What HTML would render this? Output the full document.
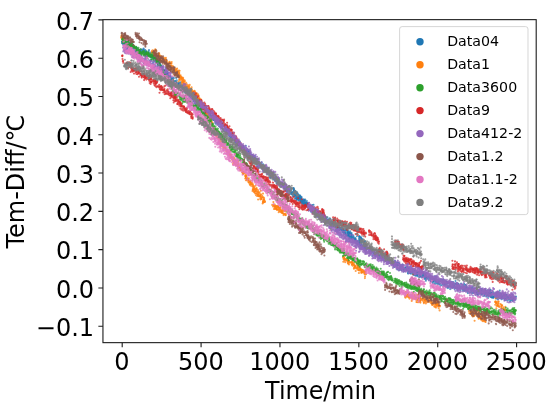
<!DOCTYPE html>
<html lang="en"><head><meta charset="utf-8"><title>Tem-Diff vs Time</title>
<style>html,body{margin:0;padding:0;background:#fff;}body{width:550px;height:409px;overflow:hidden;}svg{display:block;}text{font-family:"DejaVu Sans", "Liberation Sans", sans-serif;fill:#000;}.tk{font-size:24px;}.lb{font-size:24px;}.lg{font-size:14.2px;}.d{fill:none;stroke-linecap:round;stroke-width:2.1;stroke-opacity:.75;}</style></head><body>
<svg width="550" height="409" viewBox="0 0 550 409">
<rect width="550" height="409" fill="#fff"/>
<defs><filter id="soft" x="0" y="0" width="550" height="409" filterUnits="userSpaceOnUse"><feGaussianBlur stdDeviation="0.45"/></filter></defs>
<g id="data" filter="url(#soft)">
<path class="d" stroke="#1f77b4" d="M267.3 169.9h0M322.3 214.4h0M389.2 260.2h0M403.4 268.0h0M337.9 230.7h0M324.3 217.4h0M228.0 133.0h0M231.7 136.9h0M343.1 224.1h0M357.1 241.5h0M510.5 300.6h0M172.6 78.3h0M134.8 50.0h0M235.7 139.0h0M500.9 296.1h0M424.4 274.8h0M176.8 80.3h0M155.3 57.0h0M286.9 190.6h0M306.3 204.1h0M311.5 208.2h0M340.7 227.7h0M124.3 42.2h0M321.6 214.2h0M447.9 288.1h0M377.5 255.2h0M394.0 265.4h0M348.1 232.6h0M288.7 188.6h0M155.1 57.4h0M220.3 126.6h0M159.6 62.6h0M249.2 152.0h0M248.9 156.7h0M241.5 145.9h0M413.0 271.2h0M332.8 223.0h0M302.3 202.1h0M457.5 284.7h0M386.9 259.0h0M132.2 43.7h0M259.7 164.3h0M372.4 255.9h0M466.4 287.9h0M230.2 133.8h0M456.6 285.3h0M510.9 300.1h0M467.9 293.1h0M336.1 225.7h0M461.7 286.6h0M320.3 216.6h0M144.8 53.0h0M358.7 242.7h0M439.4 284.6h0M192.9 98.1h0M415.3 275.5h0M425.2 279.0h0M153.2 62.3h0M456.5 287.8h0M210.1 111.8h0M464.6 286.9h0M302.7 203.1h0M127.5 40.9h0M165.1 70.3h0M351.0 236.1h0M215.9 122.2h0M334.0 225.0h0M137.8 50.5h0M452.9 287.8h0M316.5 211.7h0M364.7 246.4h0M437.8 280.4h0M124.0 43.0h0M449.1 286.2h0M457.3 290.1h0M488.9 295.6h0M317.0 209.5h0M315.5 210.1h0M349.7 236.4h0M436.3 277.8h0M514.2 298.4h0M457.7 288.5h0M477.1 289.5h0M373.5 253.0h0M273.5 173.3h0M491.5 292.7h0M244.7 152.1h0M140.8 51.4h0M286.0 190.3h0M153.3 58.1h0M130.1 47.0h0M433.9 279.5h0M461.7 287.8h0M378.8 251.7h0M304.7 203.3h0M313.5 204.7h0M351.0 235.2h0M473.9 292.7h0M416.3 273.6h0M387.2 258.2h0M144.5 52.0h0M244.7 148.7h0M509.9 295.7h0M445.5 280.9h0M509.5 298.9h0M349.8 232.7h0M269.2 172.8h0M468.4 288.5h0M397.4 268.4h0M299.5 196.5h0M139.6 51.4h0M344.6 233.4h0M217.9 122.6h0M184.5 87.8h0M143.4 50.0h0M180.6 86.4h0M507.1 300.2h0M359.4 239.3h0M213.9 119.2h0M294.1 190.2h0M337.6 225.9h0M219.8 121.9h0M167.0 71.4h0M161.0 66.6h0M504.2 295.1h0M216.1 121.3h0M503.6 298.2h0M315.3 213.1h0M196.5 101.8h0M203.1 106.0h0M484.3 290.8h0M373.7 252.5h0M409.0 270.2h0M299.7 196.2h0M222.6 125.4h0M443.3 281.5h0M371.1 252.0h0M294.2 196.4h0M409.7 270.6h0M196.1 101.0h0M364.2 248.2h0M454.5 286.2h0M416.0 272.6h0M405.3 267.7h0M195.8 102.9h0M187.1 92.5h0M256.4 166.2h0M205.2 110.1h0M506.1 298.5h0M222.4 123.1h0M407.9 272.6h0M325.5 218.3h0M213.5 118.2h0M229.5 136.5h0M499.4 297.2h0M401.3 268.1h0M148.4 55.2h0M362.1 247.4h0M361.0 237.7h0M355.5 240.1h0M225.3 129.5h0M175.8 80.9h0M451.3 285.2h0M226.6 130.2h0M365.8 250.2h0M273.1 178.7h0M404.7 269.2h0M392.6 260.7h0M484.0 292.7h0M372.4 249.8h0M361.4 242.1h0M485.3 291.6h0M394.8 266.8h0M508.4 296.9h0M246.4 151.6h0M323.4 217.9h0M269.6 173.4h0M222.9 129.6h0M425.6 277.8h0M426.3 277.0h0M343.6 230.3h0M123.7 43.4h0M276.3 179.9h0M271.2 177.2h0M444.0 284.7h0M284.9 190.6h0M276.2 179.8h0M314.1 209.6h0M430.5 278.0h0M143.2 52.0h0M239.2 144.0h0M238.3 145.5h0M391.7 263.5h0M263.2 169.3h0M488.0 294.4h0M480.1 291.2h0M140.2 52.3h0M172.3 79.5h0M361.0 241.0h0M346.9 228.8h0M126.6 44.7h0M129.2 46.4h0M306.9 201.1h0M260.4 166.0h0M166.7 73.7h0M464.0 287.2h0M304.8 203.4h0M227.7 129.3h0M171.6 78.4h0M286.5 190.1h0M506.5 298.6h0M236.9 142.2h0M425.1 274.1h0M249.9 154.6h0M484.0 296.0h0M459.4 286.9h0M345.2 226.1h0M447.3 283.0h0M157.5 64.0h0M487.3 293.5h0M181.6 89.1h0M344.8 231.5h0M262.1 165.5h0M350.6 234.6h0M291.3 193.0h0M242.1 148.2h0M351.0 235.5h0M195.7 100.8h0M202.0 109.7h0M301.0 198.4h0M126.2 45.1h0M348.6 234.9h0M500.5 295.8h0M293.5 188.2h0M343.4 229.5h0M493.5 296.7h0M156.2 58.7h0M351.3 233.9h0M374.9 255.0h0M351.7 234.7h0M219.0 122.9h0M477.9 293.2h0M378.4 250.2h0M302.4 201.2h0M455.6 283.9h0M369.2 251.6h0M463.6 288.0h0M320.2 217.5h0M186.8 90.8h0M137.9 49.8h0M188.3 92.4h0M498.0 296.1h0M218.1 122.2h0M349.8 234.9h0M456.8 287.1h0M325.6 217.3h0M434.4 278.8h0M253.9 159.4h0M143.2 52.9h0M246.9 150.3h0M196.0 100.6h0M467.8 288.2h0M238.6 141.4h0M453.4 286.0h0M136.7 48.7h0M269.0 172.1h0M261.6 167.2h0M324.3 218.0h0M304.4 202.6h0M249.8 157.8h0M275.9 176.8h0M490.9 294.3h0M361.5 246.2h0M386.1 254.8h0M193.3 96.1h0M503.9 295.5h0M247.7 154.0h0M339.1 228.3h0M302.3 200.0h0M456.4 286.7h0M476.5 292.6h0M424.3 275.9h0M363.9 244.5h0M278.8 181.7h0M339.7 229.9h0M375.2 256.6h0M306.0 204.4h0M442.8 280.2h0M372.5 250.7h0M435.7 279.8h0M481.7 291.4h0M175.7 85.1h0M511.2 297.6h0M444.2 280.8h0M285.8 190.1h0M205.1 109.0h0M206.7 112.9h0M269.2 172.3h0M349.5 238.9h0M293.4 193.1h0M412.1 270.4h0M381.6 254.2h0M469.1 288.2h0M248.4 156.7h0M443.6 284.4h0M298.4 198.1h0M199.7 103.2h0M214.6 120.6h0M247.3 150.6h0M399.0 263.5h0M307.8 206.3h0M473.2 290.5h0M484.9 293.1h0M124.2 42.2h0M458.1 285.6h0M489.7 291.6h0M286.2 188.6h0M144.6 54.3h0M426.9 277.4h0M275.2 180.2h0M445.2 284.4h0M217.0 120.1h0M208.6 118.1h0M451.4 287.0h0M264.5 167.1h0M343.0 231.6h0M266.7 172.2h0M284.8 185.6h0M484.1 290.6h0M207.6 111.4h0M302.7 202.2h0M206.4 109.9h0M474.5 288.5h0M326.9 220.4h0M418.6 272.3h0M344.3 233.5h0M360.5 245.5h0M474.6 291.4h0M273.7 173.4h0M190.5 93.3h0M151.0 56.0h0M348.7 236.2h0M486.5 296.6h0M400.0 268.7h0M214.2 118.6h0M151.5 54.3h0M479.0 290.4h0M361.6 238.6h0M130.9 43.6h0M210.8 117.5h0M395.0 260.8h0M367.6 248.6h0M340.5 228.1h0M247.3 149.2h0M460.5 290.2h0M293.7 189.6h0M242.7 146.5h0M500.5 294.2h0M254.5 157.4h0M262.6 169.6h0M364.6 246.2h0M339.1 227.4h0M360.2 238.2h0M388.3 261.8h0M416.6 272.3h0M366.6 244.9h0M124.5 43.5h0M178.6 84.7h0M468.6 288.3h0M243.8 147.9h0M161.6 66.3h0M304.1 200.8h0M330.1 222.3h0M488.4 293.1h0M167.1 75.8h0M362.6 239.3h0M339.0 228.6h0M270.6 175.1h0M403.4 268.9h0M167.7 76.6h0M437.3 283.1h0M509.3 299.5h0M224.9 130.6h0M185.3 90.6h0M452.4 283.6h0M497.6 297.8h0M455.4 287.8h0M183.0 86.7h0M299.3 196.0h0M193.4 98.1h0M170.3 77.1h0M409.5 272.5h0M143.5 48.7h0M308.5 210.3h0M301.5 200.2h0M208.7 113.7h0M377.6 253.8h0M490.6 290.3h0M180.7 82.4h0M272.6 176.2h0M504.9 300.0h0M487.3 292.6h0M291.8 194.2h0M359.2 238.6h0M335.7 230.1h0M190.0 96.0h0M506.0 294.9h0M149.0 54.4h0M346.9 236.3h0M480.5 288.8h0M316.6 215.6h0M335.9 224.1h0M389.1 262.7h0M150.2 52.6h0M295.6 193.2h0M294.1 192.7h0M313.0 211.5h0M357.1 241.4h0M451.1 287.0h0M182.9 89.6h0M347.5 228.3h0M129.6 44.8h0M168.8 73.7h0M270.3 173.4h0M360.9 241.1h0M338.4 228.7h0M295.6 194.4h0M482.5 290.6h0M171.9 79.2h0M369.4 247.9h0M489.7 291.4h0M443.1 282.3h0M451.6 281.8h0M320.5 214.0h0M247.7 151.3h0M482.3 291.3h0M513.6 297.4h0M146.3 51.6h0M176.3 83.7h0M425.7 275.4h0M136.2 48.9h0M432.9 281.4h0M136.9 49.0h0M445.0 283.6h0M201.7 107.3h0M253.1 159.6h0M229.2 135.8h0M305.1 202.5h0M449.6 283.6h0M311.6 211.0h0M357.0 244.2h0M307.1 204.1h0M452.1 286.1h0M497.3 295.7h0M422.1 277.2h0M306.3 204.1h0M226.5 128.1h0M259.7 163.3h0M361.0 248.1h0M155.0 61.0h0M296.8 192.3h0M333.6 224.0h0M366.0 245.2h0M358.9 240.7h0M419.6 273.8h0M302.1 200.8h0M346.7 229.5h0M410.2 271.4h0M359.2 237.3h0M496.5 292.9h0M148.0 54.7h0M321.7 213.5h0M501.5 297.3h0M355.7 241.1h0M361.3 246.3h0M415.1 270.7h0M409.7 269.2h0M221.1 127.6h0M265.3 168.7h0M171.9 80.5h0M137.7 49.8h0M383.3 255.6h0M130.3 45.1h0M221.2 124.3h0M348.7 236.3h0M435.4 281.0h0M198.6 105.7h0M168.5 79.5h0M436.6 279.6h0M197.6 99.9h0M135.6 51.5h0M312.9 209.5h0M210.2 115.7h0M296.3 194.3h0M356.3 243.3h0M249.3 154.2h0M479.6 292.9h0M122.3 42.0h0M485.5 292.0h0M247.4 153.3h0M379.2 256.0h0M388.8 263.3h0M412.3 272.1h0M350.2 231.4h0M401.7 266.9h0M475.1 290.8h0M307.7 203.0h0M299.8 198.6h0M472.1 293.1h0M446.2 281.6h0M267.7 168.1h0M157.8 64.3h0M138.3 50.1h0M213.1 119.4h0M394.8 264.4h0M332.1 222.1h0M436.2 276.3h0M416.9 274.1h0M420.4 276.8h0M357.9 242.3h0M425.1 276.8h0M300.8 202.2h0M481.7 290.5h0M499.1 297.2h0M188.0 94.3h0M387.1 260.7h0M164.3 73.2h0M443.3 282.5h0M179.2 84.1h0M359.5 236.5h0M178.5 84.8h0M427.0 277.1h0M252.2 155.4h0M447.1 282.9h0M355.4 240.7h0M219.2 120.5h0M191.0 94.8h0M418.3 272.2h0M176.8 83.4h0M342.7 230.0h0M336.3 225.1h0M253.9 157.5h0M204.1 111.0h0M272.4 175.0h0M245.8 145.8h0M496.1 294.7h0M439.1 281.1h0M364.1 249.0h0M357.5 244.3h0M301.4 197.1h0M360.6 238.9h0M363.5 248.4h0M304.2 201.7h0M511.6 297.8h0M186.6 91.7h0M298.6 197.3h0M303.8 204.0h0M202.6 109.0h0M507.7 300.2h0M350.7 235.5h0M165.2 73.5h0M275.3 179.1h0M214.2 117.5h0M138.1 52.0h0M310.9 211.5h0M315.8 213.4h0M383.6 255.9h0M139.1 52.5h0M248.7 153.0h0M199.3 104.0h0M422.8 273.6h0M355.6 238.7h0M300.9 200.3h0M333.3 225.4h0M485.8 292.7h0M432.9 278.5h0M437.5 284.1h0M384.2 256.8h0M227.2 128.9h0M247.4 153.3h0M406.5 270.0h0M296.1 198.4h0M415.8 272.7h0M260.4 166.1h0M139.6 51.6h0M350.5 233.7h0M325.9 218.5h0M393.0 262.7h0M293.3 195.2h0M373.8 253.8h0M134.8 50.5h0M139.4 54.6h0M472.5 286.8h0M143.5 48.6h0M504.3 296.4h0M129.8 42.4h0M146.2 52.6h0M438.6 280.8h0M186.3 90.9h0M200.3 105.6h0M201.4 103.8h0M379.6 255.6h0M263.4 169.5h0M476.5 293.7h0M132.8 45.1h0M247.2 149.7h0M310.4 208.2h0M246.4 153.1h0M266.3 168.4h0M415.4 271.1h0M389.0 259.7h0M347.2 230.4h0M444.7 284.2h0M417.6 275.3h0M170.4 78.8h0M364.9 243.7h0M452.5 283.5h0M165.6 75.0h0M182.8 86.4h0M141.4 50.4h0M372.3 255.4h0M187.5 91.8h0M342.4 227.7h0M138.9 51.7h0M200.9 109.7h0M263.3 170.6h0M338.6 228.7h0M286.1 189.1h0M470.7 289.4h0M131.0 45.6h0M212.7 115.8h0M465.6 285.2h0M135.7 51.0h0M466.5 286.8h0M478.0 292.6h0M406.8 267.0h0M267.6 168.7h0M455.9 286.4h0M287.1 189.3h0M164.8 71.4h0M307.2 206.1h0M456.8 287.3h0M315.3 212.4h0M414.0 271.2h0M167.3 74.5h0M166.0 71.1h0M500.6 297.7h0M501.6 299.2h0M225.9 128.5h0M354.2 241.4h0M237.7 145.2h0M317.2 210.2h0M208.1 113.3h0M359.4 241.9h0M359.8 239.1h0M447.9 286.5h0M337.7 226.5h0M390.2 260.1h0M490.6 295.6h0M216.4 117.2h0M223.2 126.1h0M304.2 204.5h0M491.8 297.4h0M489.2 294.0h0M452.0 284.0h0M295.6 195.5h0M280.1 186.8h0M157.0 62.0h0M221.7 127.1h0M453.1 282.1h0M387.6 259.5h0M182.9 87.5h0M166.5 73.5h0M299.8 198.2h0M408.3 273.2h0M159.1 61.9h0M452.5 287.5h0M397.6 265.5h0M400.2 267.0h0M464.8 290.0h0M127.6 48.1h0M243.7 150.3h0M183.3 89.4h0M371.0 250.3h0M160.0 65.7h0M459.5 287.5h0M128.7 45.0h0M270.8 174.6h0M126.2 46.5h0M323.8 217.5h0M406.7 267.5h0M369.7 248.9h0M434.5 284.3h0M468.5 288.3h0M331.7 223.6h0M210.4 117.2h0M409.0 270.4h0M272.8 176.4h0M304.3 200.2h0M378.7 257.4h0M349.5 237.8h0M127.0 43.2h0M234.1 140.0h0M274.0 179.8h0M306.1 203.9h0M140.5 50.9h0M513.5 299.6h0M230.2 136.3h0M157.0 60.1h0M281.7 184.4h0M156.4 62.7h0M168.6 74.4h0M285.8 188.8h0M214.0 120.2h0M251.6 158.1h0M430.6 279.0h0M378.1 254.7h0M206.3 109.1h0M333.3 223.6h0M176.1 81.7h0M516.0 296.6h0M464.2 289.8h0M414.7 271.8h0M319.8 214.4h0M322.6 214.6h0M203.9 108.9h0M199.0 103.9h0M443.6 279.9h0M299.3 196.0h0M186.6 91.9h0M400.5 266.6h0M359.4 238.4h0M298.3 194.8h0M360.0 244.1h0M360.9 240.2h0M437.8 284.1h0M479.8 290.1h0M250.3 156.7h0M277.3 179.6h0M504.9 298.7h0M490.6 293.2h0M485.0 289.7h0M297.0 198.2h0M324.4 218.2h0M330.4 221.5h0M156.4 60.5h0M306.0 204.8h0M306.7 202.3h0M361.1 237.4h0M364.2 245.7h0M425.8 277.8h0M450.7 285.9h0M146.3 53.1h0M129.9 45.2h0M503.9 294.8h0M501.0 296.5h0M200.4 105.6h0M265.5 169.6h0M412.3 269.2h0M134.2 46.9h0M471.5 291.9h0M373.5 250.0h0M161.2 69.4h0M183.5 89.1h0M134.7 48.4h0M436.0 281.3h0M513.0 298.2h0M389.4 262.9h0M297.4 199.0h0M350.0 234.8h0M229.8 134.2h0M210.1 114.5h0M281.7 182.7h0M142.3 53.0h0M179.3 85.9h0M180.8 83.8h0M383.0 257.2h0M137.5 50.5h0M289.8 191.9h0M390.2 261.0h0M394.9 266.0h0M501.1 293.5h0M481.6 293.2h0M506.5 298.4h0M299.2 197.5h0M233.1 137.1h0M382.0 256.3h0M239.0 143.3h0"/>
<path class="d" stroke="#1f77b4" d="M303.5 199.4h0M322.8 214.8h0M360.5 240.7h0M466.7 287.6h0M358.8 242.4h0M270.7 177.6h0M355.4 240.7h0M379.8 256.2h0M327.2 217.5h0M433.2 278.7h0M478.5 286.7h0M349.1 234.7h0M253.9 157.3h0M264.4 167.3h0M362.3 241.1h0M134.1 47.6h0M303.7 203.7h0M183.3 86.8h0M277.2 178.6h0M267.5 169.2h0M299.2 197.1h0M456.8 283.2h0M489.3 292.7h0M413.2 270.7h0M193.4 98.1h0M312.5 205.0h0M150.9 56.2h0M368.1 248.1h0M191.3 95.6h0M374.1 252.7h0M127.6 46.6h0M466.2 290.4h0M321.2 217.6h0M387.8 259.9h0M277.9 180.1h0M265.2 168.2h0M260.5 165.1h0M321.7 215.7h0M276.0 177.9h0M346.0 234.4h0M350.9 233.1h0M160.5 65.1h0M345.8 228.2h0M188.5 93.7h0M350.9 235.8h0M200.3 105.7h0M359.6 241.9h0M165.6 73.0h0M460.1 286.1h0M160.8 66.1h0M351.5 234.9h0M392.5 263.0h0M428.7 279.8h0M351.8 237.1h0M488.5 295.8h0M212.8 115.9h0M203.5 108.4h0M481.6 294.4h0M261.3 164.3h0M410.6 270.2h0M353.3 235.6h0M314.5 212.9h0M327.4 217.4h0M508.8 298.7h0M293.9 190.7h0M172.6 81.4h0M161.8 67.1h0M351.2 235.5h0M209.9 113.6h0M457.5 284.3h0M475.3 292.1h0M186.2 91.2h0M170.2 79.8h0M443.4 279.5h0M185.9 91.2h0M388.2 258.5h0M320.6 217.1h0M150.8 57.1h0M138.3 51.3h0M343.2 230.3h0M470.3 290.0h0M328.4 222.2h0M455.5 281.0h0M435.7 283.8h0M297.9 199.1h0M147.5 56.4h0M489.1 290.3h0M150.5 57.2h0M394.7 262.2h0M327.5 220.4h0M231.6 136.1h0M386.9 257.3h0M456.9 284.4h0M252.9 155.2h0M337.2 220.5h0M347.4 234.8h0M298.6 200.7h0M383.4 259.5h0M239.8 144.6h0M123.8 42.4h0M285.6 188.5h0M189.0 91.2h0M205.9 112.9h0M424.4 277.3h0M453.8 285.4h0M362.2 239.7h0M511.1 298.2h0M507.1 296.9h0M429.3 276.6h0M302.3 199.9h0M453.7 285.6h0M158.5 61.4h0M461.1 283.6h0M181.9 91.0h0M359.6 241.8h0M230.0 134.8h0M125.3 41.5h0M223.9 131.3h0M253.6 161.3h0M310.4 210.1h0M451.8 285.4h0M225.9 129.2h0M170.5 77.9h0M364.9 243.9h0M191.5 98.1h0M480.7 292.2h0M154.0 60.0h0M266.9 172.4h0M354.6 239.6h0M471.3 290.8h0M146.6 54.0h0M499.0 294.9h0M378.9 256.3h0M400.0 267.5h0M316.7 211.0h0M370.0 251.0h0M427.4 277.2h0M411.7 268.4h0M358.0 244.5h0M475.3 291.6h0M200.5 104.9h0M221.7 127.0h0M293.7 188.8h0M446.8 281.7h0M481.9 289.4h0M360.7 237.9h0M428.9 278.0h0M284.3 187.0h0M377.1 254.9h0M274.5 178.6h0M261.6 162.4h0M298.0 199.2h0M502.0 296.0h0M298.9 197.7h0M456.5 287.5h0M490.1 294.8h0M174.4 83.3h0M387.9 262.1h0M487.2 295.5h0M378.8 256.4h0M360.3 240.1h0M436.6 282.6h0M264.3 166.2h0M364.1 242.5h0M396.6 263.7h0M408.2 270.4h0M249.3 154.0h0M411.0 273.7h0M371.6 250.0h0M407.1 270.3h0M267.7 172.4h0M424.8 274.3h0M145.5 51.6h0M294.3 195.4h0M261.2 165.4h0M254.6 159.3h0M485.1 294.3h0M512.5 300.1h0M496.5 295.4h0M198.7 101.4h0M301.3 200.1h0M313.2 207.8h0M398.0 265.0h0M402.8 264.8h0M382.2 257.6h0M380.7 256.2h0M201.9 108.8h0M439.9 283.8h0M254.9 162.6h0M336.3 227.1h0M230.3 134.5h0M457.2 286.1h0M263.1 164.2h0M420.3 273.5h0M249.3 155.4h0M348.9 232.4h0M499.7 290.5h0M380.8 255.5h0M351.6 233.1h0M429.4 277.2h0M256.8 163.6h0M362.0 246.6h0M398.8 265.3h0M142.4 49.8h0M397.6 269.5h0M373.2 253.0h0M277.8 183.0h0M485.8 291.0h0M298.1 195.6h0M297.3 194.3h0M333.3 223.6h0M473.3 290.7h0M405.5 267.3h0M268.1 171.7h0M168.3 74.1h0M234.9 137.2h0M341.3 234.5h0M504.8 297.5h0M511.5 298.1h0M395.4 264.4h0M361.1 238.9h0M423.5 272.3h0M296.4 193.8h0M129.0 42.9h0M132.4 47.6h0M435.1 281.0h0M227.4 131.8h0M319.8 218.1h0M286.6 187.7h0M302.4 201.9h0M397.3 262.9h0M129.4 45.2h0M171.9 80.7h0M423.7 275.8h0M173.9 78.1h0M156.4 60.9h0M315.9 213.6h0M231.4 134.5h0M318.2 214.6h0M383.3 259.4h0M206.7 113.8h0M451.0 282.5h0M341.9 230.1h0M193.1 101.5h0M139.5 52.1h0M282.2 182.8h0M301.4 198.7h0M380.6 255.0h0M293.7 191.5h0M436.4 281.6h0M299.5 198.6h0M394.7 265.2h0M348.0 235.2h0M322.1 218.0h0M338.7 228.0h0M242.5 146.8h0M337.4 225.8h0M435.0 282.9h0M205.6 107.9h0M250.8 154.1h0M237.9 144.4h0M164.7 73.3h0M179.3 84.1h0M504.6 295.4h0M192.8 99.4h0M124.7 44.2h0M293.7 192.9h0M232.3 135.2h0M336.6 227.4h0M294.7 198.7h0M216.2 119.9h0M448.1 287.3h0M352.7 236.8h0M184.7 89.3h0M319.9 215.1h0M432.2 280.9h0M489.6 292.3h0M193.1 95.2h0M419.1 273.2h0M192.4 98.6h0M506.4 294.7h0M252.3 160.2h0M443.5 282.3h0M280.3 183.1h0M348.3 236.5h0M438.7 281.9h0M122.1 41.5h0M208.1 111.6h0M464.6 288.8h0M189.7 95.4h0M135.7 50.6h0M265.1 168.7h0M136.2 47.3h0M378.4 257.7h0M231.1 134.7h0M444.4 282.0h0M400.5 268.4h0M196.1 101.1h0M253.4 157.7h0M487.6 295.2h0M215.7 123.8h0M424.1 274.2h0M428.2 276.8h0M416.8 272.9h0M213.2 119.9h0M286.5 188.8h0M348.7 233.5h0M139.2 50.0h0M139.7 52.3h0M283.5 186.4h0M264.6 168.5h0M268.3 170.9h0M446.4 284.7h0M264.7 167.7h0M262.4 167.8h0M329.6 223.1h0M122.0 43.3h0M450.3 282.5h0M348.8 238.8h0M146.7 55.2h0M426.2 276.6h0M196.8 103.8h0M496.7 294.2h0M341.4 228.0h0M307.6 204.1h0M237.5 142.8h0M432.0 276.5h0M155.0 60.2h0M270.7 176.6h0M420.2 275.8h0M487.7 292.7h0M427.7 278.2h0M489.1 293.0h0M346.7 233.4h0M430.9 277.9h0M251.5 159.2h0M185.7 88.1h0M400.1 266.9h0M302.0 203.7h0M340.2 228.9h0M312.1 207.0h0M432.1 278.9h0M179.5 86.7h0M445.3 284.0h0M294.0 190.9h0M197.1 101.5h0M333.3 219.4h0M349.2 235.2h0M501.1 296.2h0M473.9 292.4h0M415.5 275.5h0M174.7 82.1h0M314.7 213.6h0M453.8 284.9h0M484.5 293.2h0M350.7 234.7h0M128.2 44.6h0M365.1 247.6h0M148.3 53.1h0M171.9 80.6h0M183.9 87.4h0M296.9 194.2h0M235.2 138.7h0M277.0 178.5h0M465.1 288.4h0M177.2 85.3h0M274.4 178.8h0M493.1 297.9h0M148.7 54.6h0M504.8 299.8h0M133.4 48.9h0M338.7 228.1h0M296.5 199.0h0M387.1 259.7h0M286.8 191.1h0M445.0 284.2h0M324.7 215.6h0M231.0 137.8h0M349.4 236.5h0M134.3 50.8h0M324.2 216.5h0M294.2 190.5h0M290.4 190.8h0M247.1 152.6h0M349.4 237.1h0M305.3 199.6h0M306.5 203.2h0M362.1 248.7h0M255.8 162.2h0M172.3 79.4h0M368.9 248.8h0M152.7 57.9h0M382.2 257.8h0M392.8 262.7h0M450.1 286.3h0M171.1 81.6h0M462.1 288.1h0M380.0 257.5h0M318.0 217.0h0M126.5 41.9h0M344.6 232.4h0M347.4 232.4h0M242.8 150.9h0M141.3 55.7h0M329.8 218.2h0M254.8 160.0h0M266.4 169.3h0M505.3 298.1h0M256.4 158.7h0M149.3 54.9h0M296.8 194.7h0M269.9 173.2h0M362.7 245.9h0M515.4 299.8h0M338.4 227.0h0M136.3 49.3h0M276.8 182.7h0M495.0 296.9h0M228.2 131.4h0M204.9 111.2h0M338.5 228.9h0M148.6 51.2h0M502.5 298.2h0M350.9 233.6h0M345.6 228.6h0M364.2 248.5h0M242.4 146.7h0M490.7 296.7h0M408.1 268.3h0M253.5 159.0h0M328.8 219.3h0M238.7 144.1h0M212.7 113.4h0M277.2 180.9h0M232.2 138.9h0M285.9 187.2h0M359.3 236.2h0M458.5 283.8h0M453.4 283.6h0M172.4 83.0h0M305.3 203.1h0M282.3 186.3h0M422.6 276.2h0M502.5 295.7h0M422.5 273.6h0M221.7 128.3h0M260.1 164.3h0M280.3 184.3h0M182.6 85.3h0M160.4 65.2h0M275.5 181.2h0M393.2 264.8h0M353.6 238.0h0M166.4 73.6h0M510.8 297.3h0M129.5 44.5h0M300.4 197.6h0M377.6 253.7h0M300.5 200.3h0M433.1 281.2h0M205.7 114.5h0M273.4 175.4h0M250.6 155.1h0M364.7 242.2h0M276.6 183.7h0M221.9 127.6h0M400.7 265.4h0M489.3 291.6h0M166.5 71.9h0M334.3 224.0h0M366.2 245.8h0M212.4 118.2h0M412.8 271.2h0M293.3 191.6h0M244.4 148.2h0M182.5 89.7h0M189.3 92.9h0M139.8 52.4h0M388.4 261.8h0M164.3 74.3h0M277.5 183.5h0M253.2 156.5h0M425.9 280.7h0M355.0 242.1h0M412.1 273.1h0M124.7 42.0h0M384.1 258.0h0M168.0 76.5h0M383.2 260.2h0M309.9 205.1h0M160.7 65.7h0M403.7 271.6h0M479.1 290.5h0M366.2 248.3h0M300.8 201.2h0M290.6 191.4h0M491.7 294.8h0M440.3 281.4h0M378.0 256.2h0M384.0 260.5h0M382.5 256.1h0M140.8 49.3h0M365.9 249.2h0M313.9 211.2h0M360.7 242.9h0M493.8 296.4h0M313.3 210.0h0M295.6 192.3h0M232.0 138.7h0M288.8 189.1h0M179.7 87.8h0M322.4 216.3h0M224.1 129.1h0M300.1 196.2h0M237.4 143.0h0M153.8 57.7h0M231.8 134.9h0M353.8 238.6h0M151.0 54.8h0M217.4 121.2h0M160.5 67.2h0M222.5 125.5h0M485.4 289.4h0M436.7 282.5h0M153.1 58.3h0M407.4 266.6h0M360.4 245.9h0M167.7 75.4h0M156.9 61.3h0M349.2 234.1h0M381.7 257.4h0M315.7 214.2h0M450.8 285.1h0M362.2 240.5h0M168.0 75.4h0M295.8 193.1h0M296.3 194.2h0M239.3 144.8h0M286.9 191.6h0M496.9 297.4h0M388.4 260.8h0M178.4 83.4h0M241.1 148.5h0M145.8 51.3h0M322.5 216.0h0M198.7 104.7h0M430.1 278.0h0M414.4 273.4h0M409.7 270.8h0M244.4 148.1h0M435.5 281.1h0M297.4 196.3h0M337.0 225.8h0M226.4 131.6h0M352.2 239.0h0M287.7 192.4h0M165.7 67.6h0M134.1 47.3h0M494.6 296.3h0M246.5 151.2h0M458.8 287.4h0M192.1 96.3h0M297.3 197.3h0M332.0 222.2h0M234.3 140.1h0M472.4 289.4h0M298.9 198.6h0M176.6 83.1h0M414.5 271.1h0M386.4 258.2h0M379.0 258.7h0M327.4 220.0h0M191.4 98.3h0M151.2 59.9h0M453.9 284.1h0M279.1 179.6h0M219.0 126.2h0M294.6 190.9h0M454.2 287.3h0M273.1 177.4h0M186.7 91.3h0M166.6 73.1h0M510.0 301.6h0M376.4 250.2h0M337.9 228.3h0M418.7 272.4h0M158.4 62.5h0M349.4 234.3h0M471.0 289.3h0M212.5 116.8h0M352.3 235.9h0M446.1 282.4h0M321.1 214.9h0M405.6 268.9h0M399.3 265.1h0M202.0 106.2h0M172.0 80.9h0M341.3 228.8h0M450.1 289.1h0M452.0 286.9h0M477.9 293.1h0M343.6 232.0h0M481.0 290.6h0M411.8 269.7h0M296.4 195.4h0M476.0 290.7h0M484.9 294.9h0M291.6 192.7h0M150.6 56.4h0M367.7 249.0h0M225.6 125.5h0M314.8 208.5h0M157.8 67.2h0M176.2 77.9h0M123.9 41.4h0M432.3 279.1h0M405.3 268.8h0M239.7 141.5h0M499.7 297.7h0M201.3 105.7h0M332.5 224.2h0M134.9 50.3h0M377.0 255.3h0M497.4 292.5h0M505.2 297.7h0M396.7 265.9h0M134.1 48.8h0M287.0 186.7h0M351.4 238.4h0M218.8 121.0h0M345.8 229.9h0M232.0 132.7h0M417.0 274.0h0M442.6 282.4h0M315.7 209.8h0M218.1 120.3h0M135.7 52.4h0M152.7 56.1h0M438.9 281.7h0M201.9 106.0h0M430.2 276.5h0M430.9 281.2h0M179.4 82.6h0M312.7 208.6h0M265.4 168.2h0M408.1 273.5h0M165.7 70.8h0M407.7 268.0h0M390.8 261.5h0M477.5 294.5h0M297.0 195.0h0M308.0 207.5h0M393.5 264.6h0M442.5 284.8h0M471.5 287.8h0M463.1 287.0h0M161.0 65.8h0M364.8 249.2h0M210.1 111.4h0M409.0 270.4h0M326.6 217.5h0M200.6 104.8h0M200.6 108.2h0M313.5 209.6h0M155.8 61.0h0M226.8 132.7h0M411.5 270.7h0M286.7 188.9h0M435.5 280.3h0M414.9 272.7h0M274.3 178.9h0M218.0 124.0h0M364.0 244.2h0M299.5 198.9h0M286.8 188.9h0M462.8 289.2h0M359.6 244.1h0M365.4 248.5h0M230.2 134.1h0M252.2 155.1h0M477.5 291.2h0M346.3 234.7h0M348.1 232.8h0M298.0 194.9h0M174.8 83.4h0M512.6 294.9h0M479.2 290.8h0M384.3 258.4h0M424.7 278.6h0M440.6 279.2h0M334.9 223.9h0M254.3 156.7h0M359.2 246.7h0M251.3 158.9h0M281.9 183.2h0M131.1 46.2h0M347.1 231.5h0M401.4 269.9h0M257.8 166.2h0M401.8 269.8h0M143.2 51.9h0M300.6 197.7h0M122.0 42.0h0M339.5 229.8h0M480.5 293.1h0M444.5 283.0h0M305.0 200.4h0M201.1 104.5h0M145.1 54.6h0M180.5 85.7h0M349.1 232.5h0M217.2 122.8h0M358.9 243.6h0M294.1 193.4h0M408.7 270.4h0M498.0 297.8h0M223.9 128.5h0M291.1 190.1h0M300.9 199.3h0M396.6 265.0h0M459.8 286.6h0M361.8 244.5h0M229.2 132.1h0M395.5 265.5h0M364.7 247.9h0M270.3 172.4h0M490.3 293.8h0M487.2 292.9h0M296.6 197.1h0M346.9 230.3h0M411.2 271.2h0M170.7 76.9h0M168.0 74.8h0M398.9 263.5h0M385.0 257.6h0M237.5 144.1h0M226.1 131.1h0M346.6 229.6h0M191.9 98.7h0M478.7 293.0h0M280.2 182.6h0M265.7 170.3h0M165.4 72.1h0M468.0 289.6h0M305.4 204.0h0M385.7 255.0h0M123.4 44.7h0M289.3 190.2h0M259.8 167.7h0M295.0 193.2h0M446.8 282.5h0M275.0 178.7h0M165.0 71.3h0M364.5 242.2h0M276.5 181.4h0M318.8 211.6h0M364.9 241.2h0M482.6 294.1h0M345.5 233.0h0M352.6 236.8h0M464.8 290.9h0M159.9 63.4h0M257.9 163.4h0M306.6 205.4h0M511.5 299.7h0M293.9 194.7h0M345.6 226.9h0M236.4 142.4h0M252.5 157.9h0M285.6 187.2h0M502.0 297.2h0M210.8 113.2h0M252.9 162.7h0M235.4 140.1h0M447.8 286.0h0M460.7 288.4h0M450.6 283.2h0M193.9 98.3h0M304.2 204.3h0M187.2 94.9h0M352.2 238.2h0M377.1 252.2h0M432.0 279.2h0M447.8 282.1h0M296.8 197.7h0M256.0 159.4h0M407.4 270.7h0"/>
<path class="d" stroke="#1f77b4" d="M238.5 144.5h0M506.1 295.9h0M328.5 220.4h0M387.3 260.7h0M480.0 291.2h0M255.4 160.4h0M332.1 222.2h0M435.3 276.6h0M235.7 144.2h0M352.8 238.6h0M473.6 290.3h0M356.4 243.1h0M507.8 297.9h0M434.8 276.4h0M289.4 194.3h0M339.3 227.3h0M345.0 233.5h0M269.3 174.4h0M479.9 292.5h0M350.3 237.8h0M349.9 237.5h0M300.3 198.7h0M348.4 231.1h0M256.0 158.7h0M467.9 291.3h0M497.9 299.5h0M389.0 262.0h0M426.1 275.2h0M362.9 241.7h0M284.6 188.0h0M193.3 99.0h0M184.7 89.6h0M225.8 130.6h0M498.4 296.1h0M236.4 140.7h0M264.0 166.5h0M344.6 230.4h0M495.9 296.7h0M301.5 198.9h0M220.1 124.0h0M344.7 232.3h0M362.8 246.8h0M145.6 52.6h0M341.4 229.1h0M371.9 251.4h0M161.2 68.5h0M342.5 232.3h0M395.4 262.0h0M465.4 290.1h0M126.6 46.3h0M196.0 104.7h0M325.6 218.5h0M345.2 234.1h0M398.3 263.0h0M151.3 57.3h0M374.7 250.3h0M126.6 45.2h0M465.9 285.6h0M174.7 81.1h0M501.9 297.1h0M499.4 292.6h0M490.9 294.4h0M231.0 137.0h0M442.6 282.7h0M464.2 283.9h0M306.2 204.0h0M189.0 93.4h0M204.9 111.6h0M179.0 84.8h0M311.3 205.6h0M256.5 161.4h0M304.0 205.3h0M412.8 272.4h0M292.8 196.5h0M487.9 293.3h0M174.5 81.4h0M304.5 200.4h0M294.8 192.5h0M238.3 143.1h0M189.2 97.2h0M426.2 272.8h0M249.8 152.5h0M452.5 287.4h0M142.6 51.4h0M263.8 166.4h0M208.9 110.0h0M306.0 202.6h0M231.8 135.8h0M466.0 288.8h0M423.2 273.7h0M453.6 286.4h0M325.5 217.4h0M361.2 244.7h0M321.6 216.5h0M351.2 238.1h0M418.4 272.2h0M157.8 65.4h0M423.6 275.2h0M328.2 219.8h0M296.1 193.4h0M260.1 165.4h0M321.8 218.8h0M140.2 50.6h0M387.7 259.7h0M361.1 245.7h0M337.6 227.1h0M350.4 237.4h0M165.0 70.4h0M300.5 198.9h0M161.7 66.9h0M204.0 113.0h0M348.4 235.2h0M385.7 258.6h0M149.4 55.3h0M500.6 296.8h0M258.5 165.7h0M500.1 294.9h0M137.2 48.0h0M458.2 285.7h0M381.7 258.8h0M493.3 297.2h0M174.0 83.2h0M442.3 282.3h0M413.2 271.8h0M273.1 177.2h0M490.5 290.0h0M193.6 100.4h0M244.5 149.5h0M305.4 201.6h0M303.6 202.5h0M392.0 262.8h0M302.6 201.3h0M383.1 257.9h0M262.8 167.9h0M163.5 69.8h0M289.2 190.2h0M276.2 178.2h0M355.3 238.1h0M195.0 103.5h0M499.8 295.9h0M303.2 201.3h0M511.8 296.7h0M297.9 195.8h0M411.0 271.2h0M186.7 92.7h0M184.8 88.1h0M326.4 218.9h0M250.0 155.8h0M175.9 86.7h0M498.0 295.6h0M160.2 64.2h0M454.6 289.0h0M126.5 46.7h0M363.9 242.9h0M196.9 100.6h0M191.0 96.1h0M372.2 251.6h0M297.1 196.3h0M370.7 253.3h0M293.6 191.5h0M494.0 293.4h0M267.9 174.0h0M296.7 200.2h0M385.9 261.3h0M294.7 194.3h0M372.2 250.8h0M443.1 283.2h0M235.6 140.7h0M145.8 51.9h0M364.0 248.4h0M144.8 53.2h0M332.3 224.3h0M332.3 226.0h0M451.7 284.0h0M264.0 167.0h0M165.0 74.3h0M400.2 268.9h0M391.6 261.0h0M473.1 289.7h0M343.8 231.3h0M306.3 204.1h0M143.8 49.3h0M295.7 191.3h0M297.6 193.4h0M226.1 133.3h0M499.7 292.8h0M239.3 142.0h0M297.7 198.3h0M200.7 108.4h0M472.2 288.6h0M229.4 134.3h0M123.4 43.8h0M335.4 223.0h0M456.4 283.2h0M487.4 290.3h0M290.0 190.7h0M504.8 296.3h0M309.0 204.9h0M132.6 46.3h0M299.4 198.1h0M161.8 68.4h0M314.6 214.0h0M436.5 281.4h0M297.9 196.1h0M481.8 288.8h0M246.0 151.2h0M499.8 297.7h0M318.5 214.8h0M351.9 237.1h0M416.1 272.9h0M282.5 183.8h0M135.7 48.4h0M395.2 262.3h0M431.8 277.8h0M484.8 293.6h0M267.5 171.0h0M458.3 287.7h0M200.2 105.7h0M210.9 115.7h0M467.9 289.1h0M296.5 195.6h0M432.8 282.5h0M356.3 240.8h0M295.7 193.8h0M479.9 290.6h0M296.7 196.2h0M310.0 209.3h0M296.9 198.4h0M203.0 109.0h0M131.6 47.9h0M371.9 251.5h0M373.0 252.1h0M320.2 214.8h0M127.8 46.5h0M480.6 291.5h0M276.8 179.4h0M501.2 294.4h0M253.5 159.4h0M486.3 293.4h0M265.3 168.6h0M145.3 50.0h0M245.5 151.3h0M376.1 253.7h0M243.1 145.9h0M282.9 185.7h0M495.2 293.2h0M252.8 158.0h0M240.4 149.6h0M318.7 214.8h0M375.0 252.8h0M152.2 56.2h0M387.2 260.5h0M155.4 61.7h0M257.8 159.7h0M229.7 136.1h0M246.0 150.2h0M204.2 112.9h0M417.0 273.1h0M306.3 204.3h0M421.7 272.5h0M302.1 200.6h0M330.6 219.2h0M209.3 110.4h0M486.3 293.1h0M401.5 270.0h0M365.6 247.3h0M371.4 252.6h0M459.1 285.5h0M314.7 212.0h0M396.2 264.5h0M417.5 276.2h0M370.7 252.1h0M349.8 233.5h0M435.2 279.4h0M364.8 241.4h0M317.0 213.0h0M204.0 110.3h0M298.9 200.0h0M462.4 288.3h0M359.9 248.6h0M343.8 233.7h0M453.3 284.8h0M295.6 197.6h0M292.4 192.4h0M307.4 205.8h0M237.8 142.3h0M349.1 235.2h0M345.4 235.0h0M201.1 107.2h0M190.3 97.3h0M410.3 270.2h0M441.1 285.3h0M300.9 200.3h0M219.6 122.9h0M190.5 96.2h0M248.1 152.4h0M300.3 195.6h0M409.1 268.3h0M155.8 63.1h0M369.3 253.1h0M222.5 125.0h0M348.0 233.3h0M221.7 123.8h0M221.3 124.6h0M344.1 231.2h0M237.6 144.7h0M170.0 76.6h0M258.4 163.2h0M515.2 296.7h0M495.9 294.6h0M477.3 291.2h0M433.1 281.8h0M281.5 183.0h0M283.9 187.9h0M507.9 297.3h0M279.3 182.3h0M401.7 268.0h0M478.4 292.4h0M492.0 295.8h0M297.1 195.9h0M359.5 236.5h0M256.3 161.9h0M409.6 267.4h0M357.2 240.9h0M298.7 194.7h0M312.1 212.1h0M426.7 278.9h0M126.6 43.6h0M221.7 124.8h0M236.3 142.8h0M142.3 52.5h0M144.5 50.6h0M490.8 295.8h0M268.8 173.5h0M459.1 287.6h0M326.2 221.4h0M297.6 195.7h0M294.8 193.6h0M186.2 89.6h0M191.8 98.0h0M407.1 269.7h0M248.9 150.4h0M464.9 284.7h0M189.7 93.0h0M295.9 195.9h0M315.7 213.0h0M256.6 159.8h0M304.9 203.2h0M488.4 294.4h0M129.9 45.5h0M198.8 103.1h0M419.2 277.1h0M354.5 238.7h0M386.0 259.7h0M377.2 252.4h0M192.7 98.8h0M186.5 92.1h0M384.3 260.3h0M303.8 201.8h0M169.6 75.6h0M350.2 235.2h0M450.3 285.2h0M420.1 272.7h0M385.6 258.1h0M297.3 193.4h0M370.3 247.7h0M276.7 179.5h0M327.3 222.0h0M332.7 223.6h0M211.7 116.1h0M488.6 292.7h0M296.2 195.0h0M126.0 44.0h0M299.4 199.0h0M242.4 145.6h0M490.1 292.6h0M245.8 153.4h0M376.5 255.7h0M361.3 241.2h0M350.4 234.3h0M481.7 293.6h0M190.4 93.2h0M172.3 78.8h0M353.7 236.9h0M407.1 269.9h0M513.1 298.0h0M414.6 271.7h0M491.9 292.6h0M336.7 229.3h0M360.2 245.0h0M165.6 71.4h0M284.4 188.3h0M228.8 134.4h0M417.4 274.3h0M417.4 274.9h0M270.8 172.3h0M296.1 195.8h0M174.3 81.6h0M457.8 283.9h0M296.7 196.9h0M496.4 295.1h0M311.9 206.3h0M335.1 226.7h0M393.9 263.8h0M451.3 285.8h0M201.1 105.0h0M362.9 241.6h0M316.4 210.8h0M304.8 202.4h0M236.0 145.9h0M359.5 241.6h0M324.8 220.3h0M495.3 295.9h0M240.4 144.2h0M455.4 283.7h0M500.0 297.4h0M489.6 294.8h0M225.2 128.4h0M127.7 43.9h0M162.3 67.6h0M219.2 123.2h0M266.6 171.9h0M488.1 294.5h0M231.6 136.0h0M493.0 292.1h0M301.5 197.4h0M400.2 268.4h0M293.9 189.9h0M509.2 298.2h0M371.4 250.7h0M160.8 68.9h0M415.3 271.4h0M232.8 138.0h0M293.5 188.3h0M122.4 41.3h0M385.1 256.7h0M304.2 203.3h0M210.1 113.8h0M337.1 230.8h0M306.2 204.0h0M463.1 290.7h0M335.3 222.9h0M419.6 275.0h0M470.2 292.5h0M298.8 197.0h0M165.4 72.1h0M126.9 41.8h0M348.4 231.8h0M421.6 271.3h0M456.9 284.0h0M167.4 72.4h0M463.6 289.3h0M422.2 275.5h0M452.0 285.1h0M293.8 191.9h0M417.0 273.1h0M243.8 146.9h0M391.2 261.6h0M293.5 188.1h0M473.3 292.5h0M479.2 290.1h0M138.9 53.4h0M254.9 155.9h0M312.5 208.4h0M206.2 111.1h0M366.7 247.5h0M404.1 270.8h0M408.7 271.2h0M204.4 109.5h0M181.4 86.7h0M133.0 45.5h0M253.6 161.5h0M328.6 222.1h0M365.1 248.7h0M225.9 129.9h0M131.0 43.4h0M399.2 270.2h0M294.0 192.2h0M328.4 219.7h0M369.9 250.7h0M301.9 202.4h0M355.7 240.7h0M463.1 290.0h0M198.2 103.7h0M432.5 279.0h0M374.8 250.0h0M300.4 198.6h0M364.9 248.0h0M208.7 115.3h0M472.5 288.2h0M500.1 294.1h0M467.0 290.8h0M488.6 295.5h0M173.0 82.2h0M186.1 89.7h0M322.0 216.6h0M173.6 81.5h0M294.9 191.1h0M205.8 110.1h0M300.7 199.3h0M172.7 77.2h0M467.5 291.4h0M473.2 288.8h0M382.9 258.0h0M470.7 288.2h0M203.5 112.4h0M300.8 199.5h0M185.1 92.4h0M359.6 238.4h0M287.4 189.6h0M491.9 295.7h0M499.4 295.2h0M445.1 282.9h0M351.2 235.4h0M426.9 277.3h0M135.6 48.4h0M216.3 120.9h0M202.5 108.9h0M407.2 267.0h0M247.6 152.0h0M260.7 165.9h0M416.8 271.8h0M306.6 202.9h0M202.5 108.6h0M498.3 293.2h0M298.6 196.5h0M402.2 267.0h0M225.8 131.2h0M159.2 62.5h0M304.0 202.7h0M457.6 286.6h0M341.7 230.7h0M155.3 59.2h0M206.7 115.1h0M429.8 277.8h0M444.7 283.2h0M147.7 53.9h0M287.0 187.8h0M374.1 253.3h0M329.5 222.0h0M347.6 228.2h0M355.7 241.2h0M142.5 52.2h0M269.8 177.7h0M512.3 297.3h0M122.8 43.4h0M389.0 259.4h0M232.6 134.6h0M172.6 82.4h0M245.2 152.4h0M274.6 177.7h0M209.0 114.8h0M487.2 294.7h0M266.6 168.6h0M173.8 80.9h0M344.9 230.5h0M358.8 243.7h0M284.1 184.0h0M144.5 52.6h0M301.7 199.9h0M421.5 275.7h0M360.4 238.5h0M438.5 283.3h0M385.2 259.4h0M290.8 188.1h0M185.6 88.5h0M485.3 291.1h0M443.3 286.6h0M310.2 205.5h0M301.2 201.0h0M306.4 203.0h0M176.4 86.6h0M473.7 291.9h0M257.0 163.5h0M184.2 89.1h0M302.7 202.4h0M294.4 194.4h0M402.3 264.7h0M134.9 48.2h0M237.7 144.0h0M152.8 55.8h0M266.5 169.1h0M156.4 57.5h0M217.3 121.7h0M321.2 214.5h0M182.4 88.6h0M385.7 258.9h0M280.9 182.8h0M464.2 288.4h0M280.7 183.8h0M378.9 255.0h0M355.1 238.9h0M180.8 87.0h0M369.5 248.5h0M318.9 215.1h0M471.7 289.1h0M406.6 268.0h0M222.4 128.2h0M393.7 262.2h0M178.6 85.1h0M197.9 102.5h0M475.1 291.2h0M473.7 288.6h0M488.0 298.0h0M258.9 163.7h0M167.4 74.6h0M464.6 289.7h0M417.9 272.3h0M124.4 44.2h0M197.1 103.9h0M467.3 289.6h0M275.0 179.6h0M147.2 53.6h0M211.5 116.3h0M393.7 265.4h0M433.8 279.9h0M219.5 123.1h0M194.6 101.2h0M347.5 232.3h0M150.4 56.2h0M429.2 276.9h0M254.9 159.0h0M355.7 240.0h0M362.1 242.1h0M309.6 209.5h0M257.4 162.7h0M313.0 208.9h0M337.4 227.3h0M219.0 124.1h0M233.1 136.2h0M210.1 113.8h0M252.5 157.2h0M166.7 71.8h0M241.8 146.9h0M366.2 249.7h0M221.1 124.8h0M326.6 222.4h0M195.9 99.1h0M228.2 131.9h0M277.1 178.9h0M298.4 194.9h0M398.2 263.7h0M416.8 275.7h0M265.4 171.5h0M314.0 212.3h0M290.6 190.9h0M359.9 245.0h0M165.2 69.5h0M322.1 214.5h0M237.4 142.0h0M168.6 74.3h0M432.2 277.2h0M369.6 247.7h0M408.4 269.8h0M349.4 233.0h0M254.9 158.4h0M181.1 87.1h0M310.1 208.0h0M158.6 60.6h0M168.9 73.2h0M188.1 89.6h0M303.8 202.7h0M413.8 274.9h0M387.0 255.7h0M141.3 52.4h0M237.1 142.4h0M481.7 290.5h0M359.4 239.5h0M236.6 140.6h0M327.3 220.7h0M135.0 48.6h0M448.7 283.0h0M304.2 199.8h0M447.6 283.6h0M365.7 252.7h0M370.5 247.4h0M466.4 289.8h0M485.5 293.4h0M363.9 242.1h0M209.4 113.1h0M200.2 107.0h0M295.5 192.4h0M410.8 272.0h0M241.8 148.2h0M356.8 236.3h0M290.7 193.8h0M362.8 245.8h0M512.7 301.0h0M297.9 197.2h0M189.3 95.3h0M188.6 98.5h0M435.3 279.9h0M218.5 123.9h0M478.2 294.3h0M301.4 202.2h0M496.1 298.6h0M322.6 217.5h0M140.5 52.1h0M266.0 169.5h0M129.1 46.8h0M247.9 157.1h0M355.8 240.0h0M386.3 261.4h0M302.1 200.5h0M402.2 266.5h0M394.0 266.9h0M396.9 263.1h0M430.7 281.3h0M450.5 282.8h0M463.1 285.4h0M453.2 284.0h0M512.0 298.6h0M287.2 188.3h0M503.3 296.2h0M139.3 53.0h0M479.7 293.5h0M403.9 269.1h0M376.6 255.8h0M296.7 195.9h0M409.9 273.3h0M297.7 197.2h0M455.6 287.9h0M490.7 296.7h0M252.4 156.4h0M360.4 238.0h0M304.6 201.5h0M441.7 279.9h0M418.9 273.4h0M229.6 133.2h0M192.7 94.5h0M476.9 292.3h0M235.0 141.9h0M143.1 51.3h0M186.2 93.1h0M194.4 99.1h0M178.0 84.7h0M149.0 50.0h0M269.2 173.2h0M483.9 292.0h0M325.9 219.6h0M148.5 54.4h0M266.4 171.3h0M338.2 228.2h0M144.8 54.4h0M217.8 122.9h0M160.5 65.9h0M300.5 202.0h0M380.3 257.8h0M229.0 135.5h0M179.5 86.7h0M374.2 251.9h0M410.8 272.2h0M370.1 253.3h0M311.2 208.8h0M454.5 284.5h0M392.6 261.8h0M480.6 292.2h0M211.6 117.6h0M287.7 190.4h0M385.2 260.2h0M403.9 270.6h0M331.3 223.0h0M151.7 56.7h0M352.3 237.4h0M435.2 280.4h0M146.0 52.2h0M188.0 94.0h0M263.9 168.6h0M419.3 272.2h0M347.1 234.7h0M298.9 197.9h0M491.6 295.3h0M365.9 248.6h0M178.7 83.3h0M180.1 85.2h0M491.7 297.2h0M253.9 156.5h0M216.7 122.1h0M501.1 297.9h0M246.8 151.0h0M144.8 53.3h0M292.1 194.4h0M398.8 264.2h0M432.9 283.2h0M152.2 56.7h0M355.4 239.7h0M389.6 262.8h0"/>
<path class="d" stroke="#ff7f0e" d="M218.8 139.1h0M435.3 302.9h0M349.1 261.5h0M200.4 104.2h0M352.0 264.4h0M261.3 196.8h0M191.4 89.6h0M219.6 141.6h0M364.2 271.2h0M364.8 271.9h0M428.4 299.4h0M504.5 309.5h0M496.3 308.4h0M121.9 36.2h0M158.9 58.0h0M207.3 111.0h0M185.2 86.6h0M257.0 195.9h0M178.5 73.1h0M243.0 173.1h0M478.6 313.6h0M435.9 304.1h0M436.8 305.9h0M478.1 310.9h0M217.2 135.1h0M420.3 298.5h0M158.9 56.0h0M227.7 152.4h0M259.4 192.2h0M198.7 101.7h0M248.4 181.3h0M280.2 209.4h0M208.8 114.6h0M215.2 130.2h0M361.6 271.9h0M191.3 90.4h0M172.1 68.0h0M196.9 98.1h0M213.6 127.6h0M232.1 159.7h0M122.4 39.2h0M222.4 142.9h0M420.7 299.8h0M245.9 177.1h0M417.2 302.3h0M154.6 51.5h0M433.7 302.4h0M348.0 259.5h0M437.6 304.1h0M170.0 67.2h0M347.7 262.0h0M206.5 113.0h0M261.3 199.0h0M199.9 100.9h0M498.9 305.8h0M177.1 74.8h0M258.2 191.0h0M282.7 209.0h0M438.7 305.7h0M273.3 205.1h0M262.2 195.7h0M264.0 198.2h0M284.7 214.2h0M219.8 141.9h0M255.2 189.6h0M182.9 79.8h0M480.9 318.6h0M436.5 299.8h0M420.3 301.6h0M179.0 74.6h0M248.9 178.4h0M360.9 270.8h0M257.7 195.7h0M359.3 266.5h0M409.8 296.8h0M468.9 309.0h0M257.2 189.5h0M419.3 297.7h0M240.3 168.8h0M234.0 159.9h0M263.5 201.5h0M209.0 119.0h0M256.3 188.8h0M361.8 272.7h0M417.4 299.4h0M284.1 213.9h0M228.9 152.0h0M152.1 50.9h0M183.4 82.2h0M414.5 295.4h0M179.6 79.2h0M167.4 64.5h0M233.0 164.0h0M222.1 143.0h0M437.4 304.0h0M419.5 297.2h0M183.9 83.9h0M205.4 111.5h0M285.4 207.2h0M285.7 214.9h0M153.9 52.2h0M171.2 63.4h0M469.2 308.2h0M357.4 266.6h0M165.1 63.0h0M159.3 57.1h0M253.7 187.4h0M221.9 145.1h0M406.4 292.3h0M480.5 317.4h0M156.4 50.7h0M264.9 201.8h0M239.7 168.4h0M194.1 97.5h0M171.0 68.9h0M504.7 310.3h0M180.4 78.0h0M255.6 185.8h0M218.6 138.1h0M495.8 302.4h0M246.0 174.7h0M165.1 59.3h0M432.5 304.9h0M281.0 211.9h0M358.4 266.0h0M237.1 163.8h0M478.8 310.7h0M437.8 306.4h0M504.2 312.2h0M253.2 188.7h0M175.5 71.1h0M220.4 141.2h0M285.7 210.2h0M364.5 271.4h0M277.9 207.4h0M481.0 316.9h0M178.1 75.8h0M194.0 94.7h0M238.5 166.2h0M233.9 159.7h0M206.3 110.3h0M433.2 304.2h0M175.9 70.3h0M346.8 260.4h0M181.9 84.0h0M208.3 118.0h0M158.6 53.6h0M166.0 63.0h0M406.4 293.0h0M238.1 166.0h0M252.8 189.5h0M204.1 107.9h0M426.6 298.1h0M484.7 317.5h0M152.7 51.7h0M181.8 79.1h0M259.9 196.1h0M160.4 58.4h0M198.8 99.0h0M253.8 189.5h0M199.7 101.9h0M284.5 214.3h0M254.4 187.8h0M180.0 76.9h0M428.7 301.5h0M179.2 72.8h0M344.8 256.1h0M411.1 296.6h0M420.4 299.7h0M352.7 265.7h0M234.9 164.5h0M247.0 177.2h0M407.8 296.6h0M216.4 133.9h0M430.2 299.2h0M276.9 209.6h0M360.5 270.0h0M264.5 201.9h0M210.2 118.8h0M439.7 306.4h0M171.1 65.8h0M434.0 300.4h0M238.2 165.1h0M238.0 166.4h0M260.9 190.7h0M173.5 67.2h0M163.4 61.4h0M250.6 183.2h0M360.3 268.6h0M283.3 211.0h0M252.5 191.1h0M224.6 147.1h0M237.8 164.9h0M183.1 79.1h0M229.1 152.5h0M276.4 208.2h0M344.3 258.4h0M357.4 265.1h0M121.2 37.4h0M177.1 68.5h0M361.3 269.5h0M199.6 98.9h0M262.9 201.6h0M428.8 297.5h0M189.0 86.3h0M123.8 37.5h0M411.8 296.5h0M235.0 161.6h0M211.9 123.2h0M410.0 297.2h0M264.2 199.0h0M190.8 90.4h0M435.5 301.4h0M226.9 150.0h0M362.2 272.4h0M417.7 299.5h0M357.3 265.8h0M501.7 308.1h0M496.3 302.3h0M408.4 295.4h0M195.9 95.0h0M248.5 182.1h0M227.4 152.2h0M362.9 270.0h0M199.6 100.9h0M480.8 316.7h0M282.4 212.1h0M174.1 74.7h0M190.7 92.7h0M205.0 111.3h0M364.7 274.0h0M418.4 299.2h0M123.3 39.4h0M353.7 264.5h0M478.9 312.7h0M285.7 210.8h0M424.7 299.9h0M352.4 263.4h0M479.5 317.8h0M180.1 77.4h0M263.6 201.3h0M483.1 320.5h0M503.5 308.8h0M253.6 190.9h0M260.7 196.3h0M158.8 55.1h0M411.7 295.9h0M187.8 88.9h0M432.4 304.8h0M439.5 305.6h0M254.1 191.4h0M221.8 142.0h0M412.1 296.3h0M209.3 115.8h0M174.9 71.4h0M223.5 146.6h0M472.9 316.6h0M281.9 210.3h0M191.1 90.9h0M172.6 72.2h0M423.4 300.0h0M181.8 77.3h0M360.8 269.7h0M156.2 50.7h0M193.0 91.9h0M351.4 262.4h0M506.0 309.9h0M123.0 41.9h0M247.1 177.9h0M261.9 196.0h0M497.1 303.7h0M194.0 92.5h0M276.5 206.1h0M123.6 39.0h0M221.1 139.6h0M194.7 91.2h0M485.6 322.0h0M196.7 100.5h0M256.0 195.2h0M155.2 53.6h0M272.2 204.9h0M471.1 312.6h0M251.3 183.4h0M234.1 158.0h0M252.9 184.5h0M164.3 63.7h0M502.0 309.7h0M344.3 258.6h0M178.9 75.8h0M343.3 261.8h0M175.6 72.0h0M282.3 213.1h0M478.9 317.6h0M355.1 265.9h0M502.2 305.3h0M255.6 189.0h0M232.7 158.3h0M181.4 77.1h0M427.5 302.1h0M498.2 306.1h0M438.0 301.7h0M238.8 167.6h0M343.0 257.5h0M230.1 155.7h0M204.0 107.7h0M496.8 302.6h0M417.0 300.3h0M471.9 312.3h0M504.6 308.9h0M505.4 306.9h0M151.6 53.0h0M432.3 304.3h0M355.9 267.4h0M263.9 199.4h0M430.7 302.7h0M243.3 173.8h0M435.3 301.3h0M262.6 203.5h0M408.9 296.5h0M497.9 303.3h0M410.6 296.7h0M282.5 210.3h0M230.7 155.8h0M231.3 154.7h0M230.6 155.1h0M154.0 53.6h0M183.1 82.4h0M223.4 144.4h0M417.6 299.0h0M219.1 141.8h0M216.2 136.1h0M174.1 69.9h0M152.6 50.2h0M221.1 142.4h0M246.1 176.0h0M228.7 152.3h0M436.2 303.1h0M192.0 93.5h0M207.3 116.3h0M218.7 138.3h0M243.1 172.2h0M283.7 210.0h0M469.7 307.7h0M355.2 267.8h0M429.3 300.1h0M346.4 260.3h0M186.2 82.8h0M275.3 206.1h0M159.1 57.2h0M417.8 295.5h0M160.6 61.2h0M178.4 73.1h0M226.9 151.5h0M416.0 299.4h0M178.6 75.8h0M481.8 313.7h0M274.9 209.0h0M478.9 317.4h0M257.8 191.2h0M186.8 86.6h0M349.0 264.5h0M196.5 97.0h0M483.9 318.1h0M160.9 56.4h0M253.2 186.4h0M479.6 316.9h0M359.2 267.5h0M422.9 300.7h0M191.4 92.6h0M358.5 269.5h0M473.7 313.2h0M273.4 202.1h0M261.1 194.6h0M170.2 66.8h0M164.4 60.1h0M236.9 163.4h0M434.9 306.9h0M171.9 68.7h0M222.8 143.9h0M190.3 90.6h0M238.1 161.3h0M235.9 164.4h0M258.8 192.7h0M484.2 315.6h0M164.1 61.6h0M252.9 188.2h0M484.4 317.8h0M191.2 90.0h0M255.1 191.3h0M430.7 300.8h0M264.4 201.4h0M258.0 190.0h0M173.2 68.9h0M231.8 156.8h0M471.3 313.9h0M365.8 271.7h0M255.7 190.1h0M173.5 69.1h0M211.3 121.1h0M474.6 320.7h0M281.4 212.6h0M410.0 296.1h0M365.4 273.8h0M207.6 110.9h0M257.6 194.3h0M497.9 305.7h0M416.9 297.8h0M211.4 121.0h0M164.5 60.7h0M194.5 95.1h0M434.2 306.5h0M168.0 66.9h0M354.1 267.7h0M277.9 206.5h0M275.9 209.0h0M196.9 93.4h0M177.3 73.1h0"/>
<path class="d" stroke="#ff7f0e" d="M438.7 306.3h0M234.0 162.9h0M176.8 74.1h0M184.8 83.6h0M227.4 150.8h0M476.0 314.1h0M121.6 35.7h0M255.2 189.8h0M164.0 57.8h0M187.5 89.6h0M250.5 182.0h0M501.6 305.9h0M172.5 68.6h0M411.8 295.3h0M186.3 85.0h0M260.2 199.0h0M278.3 206.8h0M197.6 98.3h0M193.2 92.8h0M181.8 82.2h0M256.5 189.3h0M211.8 124.4h0M182.1 78.4h0M279.2 208.8h0M166.3 62.2h0M279.1 210.5h0M203.0 108.4h0M178.8 70.5h0M357.2 268.3h0M410.6 296.3h0M357.5 264.6h0M190.6 94.2h0M469.3 313.1h0M211.7 121.6h0M438.4 304.8h0M241.6 169.6h0M244.3 173.4h0M220.3 143.4h0M211.7 123.2h0M423.9 303.2h0M274.0 206.3h0M178.6 71.6h0M263.2 201.1h0M352.4 262.3h0M258.7 196.3h0M186.9 84.3h0M411.7 300.9h0M496.3 303.4h0M201.3 105.0h0M223.9 148.1h0M348.2 261.5h0M177.3 70.8h0M365.3 273.4h0M435.7 303.8h0M216.8 135.9h0M166.6 62.7h0M497.7 297.5h0M189.0 91.4h0M201.1 99.6h0M221.4 145.6h0M260.6 199.4h0M224.0 148.0h0M496.0 301.5h0M420.4 302.6h0M197.8 97.9h0M481.6 318.0h0M182.8 81.6h0M257.8 194.7h0M256.1 193.6h0M180.6 75.3h0M278.7 212.3h0M436.8 302.6h0M202.7 105.8h0M437.1 305.1h0M159.4 56.1h0M225.5 148.0h0M484.4 317.4h0M171.0 67.7h0M188.3 85.3h0M156.6 54.0h0M180.6 79.9h0M243.8 173.5h0M475.6 313.1h0M157.2 55.5h0M183.8 79.8h0M187.0 86.1h0M262.8 197.2h0M165.1 60.2h0M206.8 110.8h0M502.0 310.0h0M357.7 265.7h0M276.6 209.1h0M353.9 268.8h0M204.0 109.5h0M201.8 106.3h0M175.4 69.3h0M477.7 315.8h0M216.4 131.0h0M419.1 298.6h0M436.6 305.2h0M363.8 272.7h0M282.4 212.6h0M159.2 53.3h0M212.5 122.7h0M181.0 77.8h0M361.7 271.3h0M470.5 312.0h0M468.8 308.4h0M246.6 178.6h0M189.6 88.8h0M187.8 88.2h0M225.9 148.1h0M187.6 89.6h0M360.2 269.2h0M232.8 160.2h0M432.1 304.7h0M182.3 79.0h0M354.2 264.3h0M242.9 171.4h0M366.0 274.3h0M243.0 174.0h0M194.4 92.3h0M416.1 297.7h0M226.4 151.3h0M173.4 68.6h0M200.9 103.3h0M209.7 117.1h0M364.6 273.7h0M195.6 95.1h0M196.3 98.5h0M221.9 144.7h0M184.4 80.7h0M201.6 101.3h0M407.5 295.3h0M351.8 264.8h0M280.7 207.1h0M183.1 79.7h0M180.0 78.2h0M227.6 154.5h0M472.0 313.6h0M217.3 137.0h0M362.2 269.7h0M203.8 105.4h0M425.5 300.5h0M229.9 157.1h0M160.9 60.1h0M191.4 88.6h0M481.5 319.9h0M406.1 295.6h0M195.7 97.7h0M229.8 154.1h0M411.0 295.7h0M425.4 301.7h0M361.6 270.6h0M424.9 301.0h0M230.2 150.9h0M181.4 78.9h0M208.2 115.6h0M253.0 185.8h0M169.1 69.8h0M171.1 67.0h0M352.7 264.0h0M250.6 182.1h0M472.2 315.3h0M479.4 314.0h0M497.4 305.2h0M245.7 176.5h0M477.2 315.6h0M433.6 300.2h0M219.1 140.5h0M472.1 311.5h0M169.4 63.5h0M254.2 192.2h0M184.1 81.4h0M253.4 189.5h0M217.3 134.6h0M502.7 308.9h0M210.4 118.6h0M431.5 303.6h0M207.3 113.3h0M427.1 298.4h0M172.5 68.7h0M417.9 299.9h0M184.8 86.8h0M414.0 296.9h0M408.6 294.6h0M344.4 259.7h0M483.9 321.2h0M191.5 90.6h0M237.1 165.6h0M249.8 181.8h0M170.0 65.6h0M415.0 296.3h0M257.3 192.0h0M347.1 260.0h0M122.4 38.6h0M263.9 200.0h0M358.9 270.2h0M236.1 163.8h0M208.8 118.0h0M495.2 304.7h0M226.9 151.5h0M169.6 65.8h0M495.6 301.4h0M155.2 50.4h0M347.4 260.6h0M240.8 166.7h0M178.5 74.5h0M431.8 302.6h0M217.3 134.0h0M196.5 99.3h0M235.3 160.1h0M196.7 95.8h0M263.0 202.6h0M223.5 147.4h0M207.8 115.2h0M200.4 103.1h0M356.2 268.4h0M439.9 305.7h0M259.5 193.2h0M163.2 61.6h0M164.7 59.5h0M260.2 195.8h0M175.7 69.1h0M344.2 259.0h0M423.8 302.2h0M425.4 300.6h0M429.3 300.5h0M198.9 97.5h0M204.7 106.7h0M413.5 296.0h0M167.0 60.9h0M184.6 84.5h0M413.0 293.4h0M164.6 61.5h0M250.7 185.4h0M481.1 319.4h0M211.4 119.3h0M282.8 210.5h0M276.9 209.6h0M408.9 296.5h0M281.8 211.0h0M202.3 106.8h0M200.0 100.0h0M205.6 111.7h0M199.0 98.9h0M407.6 295.0h0M197.5 97.9h0M437.6 302.7h0M122.7 37.7h0M245.9 176.8h0M245.2 175.8h0M188.4 87.0h0M184.6 80.2h0M345.2 259.1h0M199.6 98.3h0M416.0 297.8h0M159.3 55.4h0M436.6 304.4h0M407.8 295.2h0M156.8 55.7h0M196.0 93.7h0M278.9 210.6h0M165.1 59.8h0M203.0 109.4h0M197.6 96.6h0M274.4 206.6h0M405.9 296.8h0M275.5 206.8h0M415.1 299.0h0M240.5 170.0h0M252.5 186.4h0M211.6 122.1h0M474.1 312.6h0M421.2 299.9h0M165.8 59.4h0M352.1 261.4h0M164.4 58.0h0M503.5 307.4h0M482.5 321.1h0M193.3 91.6h0M348.2 263.6h0M280.6 209.8h0M239.9 167.7h0M161.3 57.7h0M429.3 301.8h0M364.3 271.4h0M178.6 81.5h0M246.0 177.6h0M244.4 172.3h0M232.6 159.1h0M191.6 87.3h0M357.7 266.6h0M183.5 80.1h0M171.7 62.0h0M348.7 261.9h0M473.3 311.9h0M217.0 131.9h0M180.1 79.1h0M279.6 208.1h0M352.0 264.8h0M222.5 145.7h0M499.6 307.0h0M279.5 210.8h0M259.0 196.3h0M171.4 63.5h0M263.3 200.1h0M179.8 76.3h0M412.7 292.9h0M169.2 62.4h0M260.5 194.4h0M358.9 273.0h0M250.3 184.5h0M361.8 272.0h0M186.9 88.0h0M196.2 97.0h0M180.0 77.8h0M240.4 170.5h0M408.5 293.2h0M251.5 184.6h0M215.1 129.2h0M173.8 69.3h0M191.1 91.6h0M256.6 188.0h0M251.1 185.7h0M364.9 278.1h0M238.0 163.6h0M189.2 88.8h0M413.6 298.0h0M350.6 262.2h0M247.2 180.5h0M219.7 140.7h0M231.5 157.3h0M354.5 265.2h0M418.8 300.4h0M245.4 175.8h0M485.2 319.4h0M474.7 315.1h0M358.0 266.8h0M263.5 202.5h0M184.4 81.3h0M216.1 133.5h0M190.6 91.0h0M162.3 61.9h0M198.0 94.2h0M242.7 171.0h0M211.2 120.9h0M254.1 186.3h0M164.4 60.0h0M200.9 102.8h0M432.7 304.5h0M161.5 56.9h0M483.9 320.8h0M414.5 295.1h0M185.5 84.6h0M420.4 300.3h0M245.9 176.7h0M420.0 300.5h0M242.7 170.6h0M277.9 205.9h0M194.9 94.1h0M193.3 93.5h0M276.4 208.3h0M191.3 97.0h0M258.5 194.4h0M197.9 98.5h0M220.8 138.9h0M238.1 166.2h0M261.3 198.6h0M195.4 96.5h0M216.9 135.8h0M177.4 75.6h0M364.1 270.9h0M181.0 79.7h0M424.8 299.8h0M412.0 295.1h0M364.5 271.8h0M273.0 206.5h0M498.0 301.5h0M173.4 69.2h0M422.2 298.7h0M121.8 35.1h0M501.3 305.1h0M182.3 80.9h0M123.0 37.5h0M234.6 161.8h0M217.3 137.6h0M405.6 291.8h0M205.8 113.6h0M227.7 150.6h0M192.7 91.0h0M176.4 69.2h0M240.5 169.0h0M418.6 299.1h0M348.8 261.6h0M260.3 198.0h0M285.7 213.6h0M211.2 123.4h0M413.2 297.5h0M469.8 307.0h0M160.9 58.2h0M201.2 104.5h0M278.9 209.8h0M204.9 112.3h0M180.2 77.7h0M239.6 168.1h0M161.7 60.3h0M495.5 298.2h0M245.2 178.5h0M256.4 191.4h0M418.7 297.1h0M355.0 266.6h0M166.8 63.8h0M248.3 180.0h0M431.3 301.3h0M156.8 55.1h0M365.0 276.3h0"/>
<path class="d" stroke="#ff7f0e" d="M160.4 56.4h0M425.0 300.0h0M415.9 297.4h0M354.2 265.7h0M210.6 121.1h0M481.7 318.3h0M283.5 213.6h0M424.4 298.0h0M198.8 99.1h0M245.9 177.8h0M250.1 183.3h0M236.7 162.9h0M158.5 56.5h0M479.8 316.5h0M416.4 302.0h0M201.2 102.3h0M171.0 69.1h0M189.2 87.3h0M498.5 306.5h0M221.8 144.1h0M246.0 178.0h0M274.7 206.7h0M250.1 182.7h0M247.8 178.8h0M279.7 211.4h0M282.1 212.4h0M174.4 67.9h0M225.3 147.5h0M254.7 192.0h0M423.8 297.6h0M355.7 271.0h0M408.2 293.0h0M485.1 321.2h0M359.0 270.1h0M177.1 71.8h0M218.5 137.8h0M163.4 59.5h0M484.9 320.4h0M206.5 113.7h0M412.2 298.6h0M436.0 307.6h0M162.0 56.8h0M191.7 91.1h0M254.5 191.7h0M208.6 113.5h0M122.3 36.9h0M484.6 319.3h0M179.2 73.5h0M279.8 207.8h0M418.6 296.5h0M246.9 178.7h0M161.9 57.5h0M261.3 197.3h0M196.7 96.2h0M213.9 129.0h0M264.6 200.8h0M437.2 304.0h0M233.2 161.4h0M281.1 212.0h0M159.3 55.5h0M432.6 302.6h0M172.1 67.1h0M190.9 89.1h0M415.0 296.8h0M163.4 59.5h0M216.3 132.0h0M501.7 305.8h0M196.9 95.0h0M195.3 92.4h0M284.8 214.4h0M438.7 308.2h0M184.9 83.7h0M423.9 302.2h0M419.9 300.5h0M189.5 87.8h0M345.2 262.2h0M426.9 301.4h0M274.5 206.6h0M432.0 302.6h0M180.3 76.4h0M474.2 316.1h0M235.1 161.3h0M223.0 145.0h0M477.1 313.3h0M191.5 90.5h0M405.4 295.7h0M411.8 297.6h0M187.2 90.6h0M498.0 304.6h0M250.3 183.5h0M159.8 55.4h0M233.4 160.2h0M348.0 261.1h0M183.6 86.1h0M183.1 82.3h0M121.7 37.9h0M223.6 144.5h0M473.0 312.5h0M357.4 267.7h0M253.8 188.1h0M281.2 211.4h0M152.8 52.3h0M358.4 267.9h0M216.5 133.4h0M277.8 209.8h0M344.9 258.6h0M263.7 199.7h0M217.2 135.5h0M193.7 94.9h0M161.1 58.1h0M258.3 192.4h0M162.9 57.8h0M263.7 197.5h0M225.5 149.0h0M208.6 113.6h0M187.4 86.5h0M415.3 297.9h0M182.2 81.8h0M498.7 301.6h0M361.2 272.8h0M427.2 297.0h0M223.5 147.8h0M201.2 104.4h0M192.5 94.4h0M170.5 63.8h0M439.6 310.4h0M166.4 61.9h0M172.7 65.9h0M182.8 80.7h0M179.6 70.8h0M232.6 157.7h0M258.5 195.0h0M201.2 103.6h0M236.0 163.1h0M263.0 193.6h0M179.2 79.9h0M425.9 303.4h0M359.3 270.4h0M204.8 105.0h0M273.9 209.0h0M196.7 98.4h0M410.6 296.3h0M177.6 75.5h0M253.1 189.9h0M468.6 308.0h0M165.9 57.8h0M189.1 88.2h0M242.8 171.9h0M478.2 314.8h0M159.4 55.6h0M194.7 94.7h0M215.4 130.3h0M423.9 297.9h0M242.1 172.4h0M357.9 267.9h0M471.9 315.5h0M254.5 189.2h0M189.1 90.3h0M247.0 178.6h0M230.2 157.5h0M479.2 315.8h0M166.1 61.2h0M504.4 310.4h0M171.6 66.1h0M276.3 206.3h0M484.9 318.2h0M468.8 311.0h0M152.0 51.8h0M418.7 302.3h0M417.0 298.8h0M183.5 84.4h0M501.3 306.9h0M196.6 96.2h0M255.8 191.2h0M478.6 318.8h0M235.9 165.0h0M503.8 310.1h0M162.9 59.2h0M161.1 60.0h0M250.2 182.6h0M202.0 104.4h0M249.8 184.6h0M221.3 145.3h0M426.0 299.2h0M408.9 297.4h0M164.6 62.1h0M189.7 84.9h0M226.5 150.8h0M275.9 206.8h0M123.2 36.9h0M360.4 269.7h0M175.7 71.8h0M214.2 127.5h0M345.9 259.1h0M176.6 74.5h0M501.4 309.3h0M254.0 188.6h0M239.5 167.1h0M254.8 188.8h0M481.0 316.3h0M478.5 317.7h0M250.0 181.3h0M231.5 157.0h0M260.1 196.1h0M155.3 49.2h0M284.8 211.0h0M199.3 100.2h0M409.6 295.8h0M357.7 269.8h0M409.3 297.5h0M251.3 183.3h0M167.9 63.3h0M161.0 57.4h0M264.0 201.7h0M476.3 312.7h0M233.3 162.0h0M437.3 304.7h0M344.0 257.2h0M435.5 305.1h0M214.9 131.5h0M276.1 208.7h0M167.7 64.5h0M476.8 314.5h0M422.7 299.5h0M239.5 166.3h0M239.3 168.1h0M217.8 137.0h0M240.8 169.9h0M343.2 256.7h0M365.5 270.7h0M191.1 91.2h0M435.2 306.2h0M209.7 121.0h0M184.8 81.3h0M191.8 89.8h0M199.3 99.1h0M483.6 319.4h0M352.6 263.5h0M438.5 301.7h0M208.0 114.3h0M210.8 117.6h0M236.5 160.5h0M235.0 162.1h0M183.9 84.7h0M425.4 300.5h0M365.6 273.1h0M173.1 70.3h0M183.1 77.8h0M197.1 100.6h0M239.5 167.1h0M505.3 310.0h0M233.7 158.3h0M258.1 199.5h0M257.1 193.5h0M416.8 299.2h0M246.7 179.7h0M198.6 95.5h0M179.8 76.9h0M155.5 53.0h0M285.7 211.1h0M200.0 99.8h0M357.2 268.5h0M190.8 90.2h0M228.4 152.8h0M192.3 93.1h0M407.3 296.4h0M485.2 321.6h0M249.1 180.5h0M405.6 296.7h0M154.4 54.9h0M344.4 260.6h0M347.9 263.3h0M500.6 304.1h0M434.6 300.3h0M438.8 302.9h0M230.8 154.8h0M180.7 76.9h0M436.2 303.0h0M258.3 195.9h0M234.8 160.1h0M178.3 71.5h0M169.7 61.9h0M241.9 169.3h0M121.6 36.9h0M359.8 269.1h0M405.5 296.3h0M482.5 315.7h0M158.5 56.1h0M418.5 294.5h0M480.8 319.0h0M280.5 211.5h0M345.9 259.9h0M219.6 143.2h0M363.2 271.8h0M405.5 297.8h0M437.6 304.6h0M407.9 294.8h0M252.5 184.1h0M405.2 295.7h0M274.9 207.6h0M154.3 50.8h0M364.8 271.2h0M405.0 297.1h0M183.7 83.5h0M172.1 67.6h0M228.8 152.1h0M471.2 312.0h0M154.5 50.5h0M194.4 94.0h0M261.3 198.7h0M222.5 144.9h0M263.3 202.2h0M362.2 271.5h0M264.2 201.9h0M495.1 301.9h0M208.7 114.4h0M265.0 201.8h0M245.1 172.8h0M168.6 66.1h0M360.5 268.5h0M224.7 148.0h0M477.6 315.5h0M420.6 298.3h0M252.3 183.1h0M209.0 117.2h0M215.6 131.8h0M245.4 176.3h0M245.9 177.1h0M175.0 71.0h0M190.7 89.9h0M157.6 56.4h0M406.1 295.8h0M349.8 262.7h0M358.8 270.1h0M276.7 206.7h0M409.4 298.6h0M345.7 259.7h0M427.3 297.6h0M348.6 260.3h0M160.7 56.8h0M181.8 77.8h0M245.9 180.3h0M498.5 303.4h0M192.3 92.9h0M229.1 155.5h0M413.9 298.6h0M426.6 300.7h0M164.3 60.7h0M346.7 259.1h0M479.9 318.3h0M278.4 208.6h0M188.2 91.3h0M249.6 181.0h0M159.4 56.8h0M353.7 262.8h0M358.1 268.6h0M183.6 81.0h0M285.6 215.1h0M250.9 180.8h0M204.9 109.4h0M412.1 299.0h0M438.9 303.1h0M483.7 319.5h0M436.4 304.3h0M194.4 90.9h0M255.1 193.5h0M194.2 96.6h0M283.5 215.1h0M248.8 182.6h0M226.2 149.9h0M209.3 119.6h0M185.1 85.6h0M480.8 319.3h0M250.7 184.2h0M410.1 295.0h0M346.0 260.2h0M496.6 305.9h0M496.0 302.7h0M217.5 134.2h0M210.6 122.7h0M362.3 271.9h0M228.1 152.3h0M217.0 134.5h0M354.6 267.5h0M274.4 205.5h0M355.0 266.2h0M175.3 69.8h0M263.0 197.4h0M434.5 304.6h0M420.8 298.4h0M238.3 163.2h0M435.1 302.3h0M357.4 268.6h0M412.5 298.8h0M234.2 162.8h0M498.5 303.9h0M229.4 154.6h0M159.4 59.6h0M153.5 54.0h0M217.7 137.8h0M436.4 302.0h0M436.5 305.1h0M356.2 262.4h0M405.8 295.0h0M278.7 209.3h0M275.9 205.7h0M351.5 262.3h0M343.5 259.0h0M426.2 301.6h0M417.0 294.7h0M180.0 75.8h0M201.2 102.8h0M246.3 175.9h0M274.7 204.6h0M228.5 153.1h0M181.5 78.1h0M278.1 207.4h0"/>
<path class="d" stroke="#2ca02c" d="M494.3 313.2h0M213.4 126.5h0M331.3 245.0h0M397.4 281.6h0M144.2 52.1h0M508.2 313.9h0M135.1 48.1h0M294.6 215.3h0M128.2 42.2h0M226.5 142.2h0M514.9 314.4h0M236.5 153.6h0M412.6 288.0h0M172.6 91.2h0M307.4 228.2h0M459.5 303.3h0M347.6 254.2h0M153.6 59.3h0M175.0 93.1h0M464.2 303.8h0M206.2 118.4h0M423.4 291.9h0M321.2 237.3h0M404.1 284.0h0M433.1 296.7h0M453.4 302.5h0M261.8 186.0h0M164.0 75.2h0M414.9 286.8h0M419.1 290.1h0M125.4 41.7h0M417.5 288.9h0M131.1 44.1h0M235.6 150.1h0M514.6 311.7h0M157.4 61.4h0M295.7 214.5h0M389.7 278.9h0M381.8 273.1h0M207.6 117.1h0M288.2 207.1h0M390.2 277.2h0M219.8 133.0h0M235.3 153.2h0M209.3 119.5h0M166.9 78.5h0M180.8 99.9h0M322.8 235.5h0M510.8 315.1h0M320.9 238.9h0M425.7 292.0h0M198.6 108.1h0M276.8 199.7h0M301.2 219.0h0M207.8 117.6h0M485.1 311.4h0M342.8 252.4h0M206.7 116.9h0M357.2 259.7h0M260.9 183.0h0M237.0 150.7h0M258.2 177.2h0M260.3 182.1h0M452.8 302.7h0M337.9 247.5h0M361.9 263.9h0M267.9 190.7h0M277.9 199.7h0M412.8 287.9h0M232.5 145.3h0M137.1 51.5h0M344.1 250.1h0M457.8 302.4h0M266.7 186.2h0M374.4 269.8h0M515.0 311.1h0M347.3 253.4h0M352.7 259.5h0M356.7 263.1h0M137.3 54.1h0M134.4 46.4h0M496.8 314.5h0M507.0 314.8h0M324.1 236.6h0M445.7 299.0h0M367.2 268.2h0M374.6 269.3h0M238.1 154.7h0M292.2 213.3h0M430.5 295.5h0M183.5 99.0h0M449.5 300.4h0M431.4 294.5h0M471.3 305.9h0M302.1 219.6h0M229.3 145.2h0M499.4 310.0h0M455.9 300.4h0M237.5 156.3h0M310.5 228.2h0M443.8 302.1h0M426.6 290.6h0M463.6 305.0h0M320.7 237.9h0M323.3 235.2h0M297.1 214.4h0M138.6 52.6h0M127.2 43.5h0M286.1 207.8h0M336.5 246.9h0M401.6 284.5h0M144.3 54.9h0M441.3 301.4h0M391.6 278.2h0M412.1 286.3h0M295.7 215.6h0M210.4 123.6h0M320.9 236.9h0M304.6 224.7h0M150.7 56.3h0M125.6 43.3h0M145.6 52.9h0M352.8 259.1h0M210.0 121.1h0M148.4 52.7h0M353.3 259.5h0M464.5 307.0h0M263.4 185.3h0M166.3 77.0h0M125.1 41.2h0M479.8 306.6h0M197.2 107.6h0M191.5 104.0h0M316.0 227.5h0M232.7 149.5h0M245.5 167.5h0M199.0 108.7h0M175.6 94.4h0M364.8 266.9h0M426.6 295.1h0M435.0 293.7h0M373.9 266.6h0M236.7 155.8h0M351.0 257.2h0M236.8 156.9h0M266.9 190.7h0M392.4 278.5h0M359.1 261.7h0M505.2 312.2h0M430.5 295.4h0M278.5 198.4h0M209.7 123.2h0M451.8 302.7h0M414.7 287.0h0M227.9 143.0h0M279.2 202.0h0M429.7 290.2h0M471.8 307.7h0M358.8 261.1h0M310.3 228.0h0M231.8 148.8h0M411.8 286.7h0M209.2 120.0h0M507.2 313.4h0M435.8 298.8h0M478.3 308.5h0M224.4 140.2h0M472.9 306.6h0M243.1 164.9h0M247.4 166.9h0M252.0 174.8h0M390.0 276.5h0M219.2 133.4h0M146.9 54.7h0M417.3 287.2h0M338.3 248.6h0M197.6 107.7h0M307.6 226.0h0M180.8 97.1h0M236.7 154.1h0M413.8 288.3h0M431.6 292.9h0M377.2 271.7h0M128.4 41.7h0M261.4 184.9h0M460.6 305.9h0M352.9 258.5h0M305.0 224.2h0M378.7 271.2h0M154.9 59.5h0M181.8 96.6h0M396.2 279.8h0M211.9 123.6h0M457.7 302.9h0M507.4 310.8h0M448.8 298.3h0M226.6 145.3h0M424.9 291.6h0M280.8 202.3h0M440.7 298.1h0M475.1 305.6h0M278.1 200.1h0M392.5 279.6h0M243.6 163.1h0M456.4 302.4h0M305.3 225.7h0M250.5 171.9h0M197.1 108.1h0M511.8 309.5h0M466.1 303.8h0M410.5 288.1h0M509.1 310.6h0M323.5 238.2h0M338.1 250.4h0M320.0 235.3h0M128.2 43.6h0M361.7 263.2h0M279.1 200.5h0M322.4 236.5h0M284.2 204.3h0M309.7 226.3h0M136.5 47.4h0M343.7 250.6h0M278.7 199.1h0M299.1 219.1h0M459.3 303.6h0M123.3 40.5h0M203.7 113.4h0M358.6 263.3h0M137.4 51.9h0M218.1 131.8h0M331.1 241.5h0M509.1 313.3h0M371.9 268.5h0M153.0 55.8h0M402.0 283.7h0M279.6 202.8h0M319.4 232.6h0M276.1 197.0h0M359.1 262.3h0M372.1 267.6h0M408.6 284.8h0M153.5 60.7h0M318.0 232.8h0M200.8 112.2h0M372.0 267.5h0M322.6 235.3h0M202.6 111.2h0M223.2 136.8h0M353.2 259.7h0M135.7 49.0h0M269.2 191.2h0M409.3 287.0h0M469.4 307.1h0M175.3 96.7h0M316.6 234.3h0M474.7 306.7h0M389.7 277.9h0M258.3 181.0h0M383.0 276.1h0M214.0 128.3h0M317.1 230.5h0M209.5 120.3h0M456.7 300.7h0M125.5 44.9h0M255.5 177.1h0M440.5 297.9h0M435.0 296.6h0M479.6 307.6h0M129.4 43.6h0M443.9 298.8h0M176.1 95.4h0M440.4 298.6h0M373.7 270.5h0M495.9 312.6h0M161.3 70.5h0M285.6 205.7h0M499.4 314.1h0M434.7 296.3h0M344.4 253.4h0M214.0 126.1h0M376.5 269.6h0M348.7 254.2h0M190.6 102.3h0M441.7 298.7h0M211.2 123.6h0M333.7 245.1h0M453.5 300.0h0M384.1 274.6h0M181.0 96.4h0M267.8 189.2h0M466.7 305.6h0M331.9 243.2h0M158.7 68.3h0M217.5 131.0h0M501.0 311.4h0M476.2 307.6h0M203.7 112.6h0M247.4 168.3h0M188.1 98.5h0M474.8 305.0h0M489.2 313.5h0M487.9 311.9h0M467.1 304.7h0M288.6 210.2h0M402.3 283.9h0M131.7 48.1h0M487.0 310.2h0M369.4 266.5h0M125.4 43.0h0M249.6 170.1h0M292.8 213.2h0M453.0 304.1h0M246.3 163.1h0M474.7 307.3h0M286.9 205.8h0M269.2 191.6h0M169.7 83.5h0M415.9 287.6h0M329.8 242.2h0M459.8 304.4h0M193.3 104.3h0M244.5 165.1h0M391.3 279.8h0M225.4 142.6h0M179.4 95.0h0M245.1 164.3h0M385.9 276.9h0M469.2 306.8h0M160.7 67.8h0M275.4 197.2h0M184.7 101.4h0M460.3 300.3h0M460.3 306.5h0M227.7 143.7h0M376.3 269.1h0M397.1 282.5h0M425.6 294.6h0M232.1 151.8h0M139.3 49.7h0M323.1 237.2h0M416.0 287.5h0M427.1 292.0h0M300.6 219.4h0M299.3 220.5h0M152.3 57.1h0M250.1 169.2h0M370.3 265.4h0M322.2 237.6h0M284.6 207.5h0M443.1 296.1h0M188.8 103.5h0M138.2 49.0h0M497.8 312.8h0M475.1 306.3h0M324.0 237.1h0M185.7 97.4h0M250.6 173.3h0M262.3 183.2h0M488.0 311.7h0M303.3 222.1h0M342.0 251.7h0M494.4 314.3h0M188.8 99.1h0M165.4 76.0h0M383.7 273.2h0M360.1 262.6h0M413.8 291.7h0M414.0 289.0h0M488.2 312.0h0M219.8 134.3h0M370.0 266.4h0M317.3 235.8h0M283.6 206.9h0M435.7 296.2h0M486.2 313.9h0M221.5 135.7h0M145.0 55.6h0M175.9 91.7h0M221.9 136.9h0M492.0 311.0h0M264.2 187.6h0M514.4 313.9h0M494.2 309.7h0M514.0 310.9h0M316.3 233.5h0M415.1 287.9h0M342.7 252.5h0M480.8 309.0h0M344.1 252.3h0M194.6 106.3h0M319.8 237.8h0M515.3 310.6h0M296.0 220.5h0M204.4 115.1h0M379.4 273.6h0M200.7 111.5h0M217.4 130.3h0M150.1 56.5h0M408.7 285.7h0M313.0 231.9h0M469.8 306.7h0M287.3 208.5h0M434.7 292.6h0M165.1 75.3h0M236.8 153.0h0M134.2 47.1h0M314.7 228.0h0M430.0 292.5h0M406.1 285.0h0M251.2 172.5h0M161.3 68.2h0M242.7 159.9h0M463.8 304.7h0M274.2 191.9h0M479.4 309.7h0M463.2 308.8h0M126.9 43.5h0M401.7 281.9h0M259.8 179.1h0M424.9 292.1h0M269.1 191.7h0M368.9 268.6h0M157.4 60.5h0M301.0 222.4h0M477.4 309.9h0M492.3 314.5h0M348.6 253.3h0M232.2 146.8h0M451.7 299.8h0M184.9 96.2h0M301.6 220.8h0M463.8 304.6h0M276.6 199.2h0M278.3 202.4h0M487.4 312.5h0M428.7 293.5h0M170.1 85.9h0M466.4 306.6h0M444.0 297.4h0M207.9 116.2h0M472.8 306.3h0M439.7 296.2h0M376.0 271.8h0M373.7 271.1h0M310.8 227.8h0M468.9 308.1h0M157.0 62.6h0M410.1 285.7h0M338.1 248.1h0M376.0 269.4h0M396.6 281.3h0M320.7 234.6h0M330.3 241.8h0M267.7 189.5h0M190.5 105.6h0M487.4 310.5h0M378.6 275.3h0M210.3 121.8h0M454.0 301.3h0M253.7 173.9h0M252.4 172.1h0M345.8 255.2h0M151.2 57.0h0M475.7 307.5h0M444.0 298.8h0M154.7 57.9h0M413.2 289.0h0M329.5 242.0h0M206.2 117.8h0M162.8 72.7h0M215.9 129.9h0M418.3 289.6h0M348.5 256.1h0M330.4 241.5h0M152.0 59.2h0M157.6 61.4h0M328.7 243.7h0M341.0 248.5h0M287.2 208.9h0M246.6 166.1h0M220.5 134.4h0M191.1 104.0h0M274.6 195.6h0M208.1 121.7h0M275.7 196.1h0M247.1 167.5h0M513.4 311.5h0M246.6 165.7h0M332.3 244.9h0M128.6 46.6h0M337.3 247.7h0M390.5 279.2h0M475.4 306.3h0M310.9 227.4h0M282.1 201.6h0M279.7 201.2h0M457.3 306.7h0M439.9 298.6h0M513.8 312.2h0M477.0 308.5h0M407.8 286.5h0M436.9 297.0h0M502.5 313.0h0M491.3 311.9h0M453.5 299.9h0M144.2 51.0h0M463.4 306.6h0M398.9 284.1h0M431.2 294.7h0M132.0 45.5h0M396.8 282.9h0M209.7 118.1h0M387.3 275.1h0M452.4 300.0h0M404.5 286.1h0M170.6 85.8h0M511.5 312.3h0M515.5 310.7h0M425.5 291.7h0M275.5 198.3h0M481.7 309.1h0M233.9 152.0h0M354.0 258.0h0M304.8 224.2h0M388.8 280.1h0M350.9 259.0h0M342.4 252.7h0M139.6 56.0h0M146.7 53.1h0M319.9 235.3h0M473.8 306.9h0M382.0 272.4h0M143.3 54.6h0M473.6 307.9h0M294.2 213.6h0M370.6 266.3h0M229.7 145.7h0M161.7 69.7h0M133.4 46.4h0M211.0 124.5h0M362.8 263.5h0M391.1 276.1h0M420.2 291.0h0M441.6 296.4h0M319.3 234.0h0M308.0 225.6h0M483.7 309.6h0M285.3 204.9h0M449.5 302.9h0M490.9 307.3h0M159.2 62.6h0M369.6 267.7h0M444.8 298.6h0M475.6 308.0h0M485.1 307.4h0M180.2 95.4h0M514.3 310.0h0M221.3 134.1h0M330.0 241.7h0M215.4 129.0h0M480.0 309.0h0M348.7 260.2h0M132.3 46.2h0M169.2 81.6h0M189.1 100.5h0M480.2 308.3h0M271.5 191.2h0M419.0 287.4h0M486.8 308.5h0M443.7 298.8h0M490.8 308.5h0M282.1 203.6h0M389.2 278.7h0M199.8 109.3h0M490.8 311.7h0M383.8 271.5h0M148.6 55.9h0M238.0 158.0h0M420.4 290.1h0M353.9 257.9h0M350.0 257.8h0M265.0 186.8h0M322.4 235.3h0M431.2 293.8h0M465.6 305.2h0M188.4 101.9h0M241.2 159.7h0M447.6 300.9h0M167.0 76.7h0M497.8 313.7h0M244.5 163.9h0M241.4 159.5h0M468.6 308.8h0M456.7 301.5h0M202.9 113.6h0M240.0 157.9h0M366.2 266.0h0M166.7 76.1h0M188.6 102.2h0M146.9 57.3h0M484.8 309.9h0M313.7 228.6h0M204.9 116.0h0M146.5 56.0h0M411.8 286.3h0M493.8 311.4h0M226.3 140.5h0M506.1 312.8h0M374.3 270.9h0M230.4 147.3h0M247.6 167.2h0M330.6 244.4h0M158.6 64.0h0M412.3 288.0h0M129.7 46.2h0M346.1 253.2h0M384.5 274.1h0M407.1 287.4h0M189.2 102.0h0M330.4 240.1h0M209.7 122.7h0M240.4 160.5h0M347.4 258.0h0M189.0 104.1h0M271.5 191.6h0M474.5 309.8h0M411.2 288.4h0M459.5 303.6h0M169.4 84.0h0M401.7 284.3h0M272.1 193.7h0M139.1 51.4h0M331.6 245.0h0M160.1 67.6h0M132.3 41.5h0M264.9 186.2h0M140.5 53.2h0M392.7 279.0h0M350.8 255.8h0M162.1 70.9h0M378.8 271.0h0M132.4 42.6h0M457.2 302.8h0M303.4 220.9h0M195.5 109.5h0M408.8 286.1h0M466.0 305.5h0M331.9 245.0h0M155.4 58.9h0M275.2 196.0h0M421.3 292.0h0M276.4 199.6h0M469.2 304.7h0M444.5 302.1h0M342.4 249.6h0M224.5 139.4h0M173.2 91.2h0M396.7 281.9h0M361.3 264.5h0M179.3 95.7h0M503.0 311.2h0M314.9 230.1h0M488.2 312.8h0M134.8 48.6h0M222.5 137.5h0M276.2 199.3h0M122.4 39.3h0M294.5 212.4h0M284.4 206.2h0M296.9 216.7h0M396.3 283.8h0M164.6 76.3h0M195.7 105.9h0M395.2 280.9h0M345.5 254.2h0M474.0 309.9h0M210.6 122.0h0M223.0 138.8h0M306.2 226.6h0M166.6 77.7h0M431.0 293.2h0M256.0 179.1h0M127.9 40.2h0M484.3 313.8h0M458.1 301.8h0M297.2 218.7h0M450.2 298.6h0M186.9 100.4h0M507.6 312.2h0M468.5 306.1h0M261.2 184.0h0M308.7 226.7h0M498.4 310.8h0M473.6 307.3h0M302.6 220.6h0M196.4 106.1h0M430.8 293.9h0M500.1 314.6h0M318.4 234.0h0M462.0 305.5h0M328.8 240.7h0M503.1 311.2h0M413.3 288.9h0M387.7 276.3h0M461.3 304.3h0M417.0 288.2h0M460.2 304.6h0M249.6 167.6h0M274.4 198.2h0M370.5 266.8h0M398.9 280.0h0M398.3 284.5h0M155.6 59.2h0M213.2 124.0h0M510.2 312.3h0M310.1 226.7h0M308.8 225.4h0M194.0 107.9h0M184.5 98.2h0M359.8 261.0h0M451.0 300.3h0"/>
<path class="d" stroke="#2ca02c" d="M296.9 217.7h0M508.2 313.6h0M423.1 293.1h0M343.0 256.0h0M399.1 283.2h0M402.2 285.7h0M448.3 298.6h0M162.5 73.7h0M186.4 100.5h0M514.5 309.8h0M453.7 301.4h0M138.4 53.1h0M401.0 281.5h0M371.8 269.3h0M423.6 289.6h0M297.3 215.0h0M458.8 303.7h0M387.1 278.4h0M388.0 277.0h0M298.4 219.5h0M231.6 147.3h0M245.5 164.3h0M453.5 303.2h0M446.9 301.6h0M416.6 287.9h0M268.0 190.2h0M354.8 261.8h0M411.4 288.2h0M123.2 42.6h0M293.7 216.4h0M402.2 284.3h0M345.6 254.7h0M169.7 83.2h0M141.7 52.3h0M346.0 254.0h0M408.1 287.6h0M216.7 132.7h0M326.0 239.9h0M514.4 311.9h0M164.6 74.0h0M195.0 105.6h0M388.1 271.9h0M184.5 96.5h0M196.5 105.3h0M495.3 312.8h0M148.4 54.9h0M373.5 267.2h0M467.8 304.5h0M410.2 287.2h0M212.7 124.8h0M206.8 116.8h0M447.3 301.6h0M447.7 300.4h0M299.6 219.6h0M493.0 311.9h0M152.9 55.5h0M466.3 306.9h0M471.7 306.4h0M347.3 257.8h0M421.3 288.7h0M128.4 46.2h0M399.7 286.0h0M347.5 256.0h0M503.1 311.0h0M411.2 289.1h0M340.3 249.8h0M172.6 92.7h0M267.4 188.3h0M224.6 140.6h0M303.5 224.9h0M314.7 231.1h0M454.7 301.3h0M464.3 304.8h0M203.1 113.7h0M447.6 299.8h0M390.4 279.0h0M201.9 110.4h0M291.5 211.2h0M136.0 50.8h0M154.1 57.5h0M469.2 305.6h0M273.0 195.5h0M497.7 314.2h0M493.7 311.6h0M316.3 235.0h0M302.9 221.1h0M302.0 221.7h0M436.5 298.1h0M152.4 52.8h0M495.9 310.2h0M405.0 284.7h0M362.9 261.6h0M407.0 284.1h0M455.6 303.8h0M375.4 270.0h0M211.5 119.4h0M203.5 113.8h0M130.1 45.3h0M457.3 304.0h0M436.2 296.2h0M439.7 296.2h0M210.1 123.0h0M392.0 279.9h0M386.7 276.9h0M326.9 238.1h0M290.3 208.9h0M156.4 59.2h0M282.4 199.8h0M246.6 166.2h0M351.4 256.7h0M279.1 200.7h0M377.6 270.3h0M192.6 105.2h0M495.2 314.1h0M466.2 305.1h0M258.6 180.6h0M216.4 129.0h0M406.4 283.7h0M246.9 165.0h0M383.6 272.3h0M148.0 53.3h0M167.0 77.8h0M409.8 285.7h0M145.0 55.2h0M376.4 267.5h0M214.7 130.0h0M130.8 46.4h0M425.3 291.8h0M247.9 168.9h0M229.4 147.5h0M404.3 283.0h0M219.4 131.7h0M209.8 124.4h0M250.0 171.1h0M312.8 230.1h0M493.0 313.3h0M348.1 254.8h0M372.0 266.6h0M341.8 248.8h0M127.3 47.1h0M156.2 62.1h0M421.8 290.7h0M184.0 97.1h0M223.9 138.1h0M463.3 303.5h0M282.6 204.1h0M441.0 295.4h0M290.5 211.3h0M439.2 297.6h0M380.6 272.5h0M293.0 212.9h0M369.2 266.8h0M275.2 197.5h0M177.8 96.0h0M372.6 265.1h0M292.0 214.0h0M322.2 236.2h0M173.8 92.1h0M300.6 220.8h0M398.1 281.5h0M203.2 113.7h0M299.3 221.3h0M264.5 185.1h0M181.2 97.0h0M469.8 304.2h0M446.4 300.0h0M142.7 52.1h0M273.5 192.3h0M513.8 310.9h0M498.2 316.1h0M384.1 275.8h0M217.9 128.8h0M303.1 224.4h0M352.1 258.7h0M398.5 283.3h0M340.5 252.4h0M371.7 269.4h0M375.8 269.0h0M411.4 286.7h0M459.6 305.3h0M473.5 307.0h0M156.4 61.6h0M264.7 186.0h0M386.4 273.1h0M378.8 272.2h0M161.4 68.0h0M436.3 294.4h0M348.7 255.8h0M482.7 308.1h0M194.5 101.4h0M172.1 87.0h0M158.6 63.9h0M158.0 64.3h0M441.3 300.1h0M146.3 53.3h0M235.9 156.0h0M172.0 88.9h0M495.9 311.3h0M418.6 290.6h0M312.0 226.0h0M132.8 46.6h0M122.4 39.0h0M397.9 280.9h0M285.5 204.8h0M176.0 93.7h0M358.3 260.4h0M271.3 190.9h0M228.1 144.3h0M140.2 53.6h0M368.6 265.2h0M514.9 310.0h0M309.0 225.2h0M360.8 261.2h0M422.1 292.6h0M427.9 293.5h0M448.0 299.4h0M483.8 310.3h0M328.3 241.8h0M415.7 289.3h0M387.8 279.3h0M210.1 122.6h0M173.2 89.7h0M413.5 288.2h0M502.9 313.5h0M143.1 52.1h0M205.5 117.7h0M200.9 108.7h0M154.4 59.2h0M186.2 102.1h0M433.4 293.7h0M375.5 270.4h0M258.9 179.5h0M460.3 304.1h0M225.5 143.4h0M184.3 101.4h0M184.0 101.2h0M512.3 311.9h0M225.5 140.6h0M235.3 154.6h0M359.9 264.5h0M225.4 141.2h0M271.5 191.5h0M146.8 56.4h0M238.1 155.2h0M237.1 155.0h0M505.8 307.7h0M211.7 125.9h0M449.2 299.3h0M181.6 97.8h0M329.4 240.5h0M239.3 160.2h0M182.2 103.6h0M200.3 111.6h0M391.2 278.9h0M326.8 238.8h0M459.3 305.5h0M207.2 118.5h0M405.7 286.7h0M126.0 43.1h0M269.7 190.8h0M308.7 225.6h0M435.9 298.6h0M495.4 312.4h0M161.5 70.8h0M409.9 286.1h0M232.2 147.6h0M202.5 113.7h0M389.4 278.5h0M172.2 89.3h0M250.1 170.1h0M142.0 53.1h0M383.3 274.7h0M373.9 270.6h0M142.9 51.9h0M361.1 261.2h0M410.4 287.1h0M231.3 146.5h0M510.1 310.5h0M188.3 101.4h0M246.8 166.1h0M141.0 52.3h0M512.9 312.2h0M446.4 301.3h0M300.0 221.2h0M291.5 211.8h0M156.7 61.4h0M413.8 287.2h0M360.3 264.5h0M164.9 75.4h0M194.8 105.7h0M509.5 312.7h0M334.6 245.1h0M407.9 284.4h0M456.0 303.3h0M377.0 273.1h0M359.4 262.3h0M240.7 157.3h0M262.8 183.9h0M167.8 79.6h0M318.5 236.0h0M150.9 55.8h0M238.5 157.9h0M418.7 289.6h0M353.3 259.7h0M401.3 283.8h0M226.2 139.4h0M469.3 304.2h0M148.5 54.3h0M296.0 213.4h0M331.2 241.9h0M423.5 290.7h0M127.3 44.2h0M246.9 170.1h0M169.7 83.9h0M261.0 183.4h0M169.2 83.1h0M338.9 248.5h0M515.8 310.1h0M203.8 115.2h0M276.4 200.1h0M486.0 309.7h0M402.1 283.7h0M161.2 70.0h0M188.1 100.5h0M352.2 257.7h0M312.2 226.6h0M513.4 313.0h0M358.4 263.3h0M406.8 285.8h0M485.1 312.9h0M275.7 195.9h0M137.2 55.6h0M366.2 265.1h0M352.6 260.2h0M484.2 309.6h0M337.6 246.9h0M507.7 313.2h0M436.0 296.3h0M512.8 313.3h0M338.8 245.4h0M407.5 285.5h0M231.5 149.8h0M182.1 100.8h0M420.4 291.0h0M278.5 200.2h0M479.1 308.3h0M189.6 105.5h0M471.7 305.5h0M363.9 261.5h0M194.7 107.8h0M401.5 288.0h0M220.1 133.9h0M286.1 205.5h0M190.3 101.6h0M476.9 309.3h0M220.7 133.8h0M234.9 150.9h0M475.3 307.4h0M139.5 50.8h0M157.2 59.2h0M286.4 205.4h0M310.3 228.7h0M294.7 213.9h0M364.4 265.6h0M290.2 212.2h0M332.2 243.9h0M175.4 94.9h0M181.7 99.1h0M220.9 137.2h0M248.9 170.1h0M467.1 306.4h0M218.3 134.2h0M341.1 251.3h0M210.6 121.6h0M277.2 199.9h0M429.7 292.3h0M344.1 253.2h0M402.0 282.0h0M390.1 279.1h0M509.8 313.0h0M450.7 302.1h0M323.7 236.3h0M248.2 166.3h0M450.1 300.1h0M138.2 52.3h0M168.8 84.1h0M138.4 47.7h0M164.8 74.4h0M446.2 298.5h0M368.2 267.3h0M463.2 304.7h0M388.6 277.3h0M403.5 285.1h0M198.9 111.6h0M300.3 224.4h0M204.5 113.7h0M318.4 231.7h0M164.5 74.2h0M132.5 45.8h0M378.2 272.1h0M499.1 312.3h0M289.8 209.2h0M349.6 257.9h0M376.8 270.9h0M487.5 309.2h0M321.8 237.8h0M464.7 306.2h0M311.2 224.2h0M365.5 265.6h0M414.7 288.6h0M221.8 134.7h0M413.9 286.0h0M142.7 52.2h0M275.2 195.6h0M381.8 271.6h0M128.7 46.9h0M468.3 309.3h0M176.7 95.1h0M174.5 91.8h0M265.7 186.7h0M202.5 110.9h0M150.6 55.0h0M289.3 211.2h0M445.5 299.0h0M329.2 239.0h0M205.8 116.3h0M270.1 190.2h0M186.9 102.4h0M248.0 169.7h0M397.6 283.6h0M248.9 168.4h0M245.0 165.1h0M151.8 55.3h0M476.5 310.6h0M382.6 271.6h0M288.7 208.2h0M367.7 266.8h0M420.9 291.6h0M212.4 124.2h0M136.4 49.2h0M196.4 103.6h0M129.7 46.7h0M380.7 268.7h0M503.4 312.2h0M353.6 260.1h0M495.0 311.4h0M483.7 306.8h0M202.7 113.5h0M213.6 126.8h0M512.8 308.3h0M422.9 291.1h0M348.4 255.0h0M238.4 157.3h0M367.0 264.5h0M401.9 286.1h0M260.6 181.1h0M352.7 259.7h0M480.2 310.3h0M182.0 99.8h0M258.8 179.6h0M491.7 312.2h0M165.5 76.3h0M425.6 292.9h0M309.3 228.2h0M340.2 251.7h0M279.6 199.3h0M315.2 229.8h0M147.5 58.2h0M307.9 227.3h0M339.5 250.2h0M204.8 112.8h0M227.9 145.0h0M467.6 307.5h0M380.2 273.1h0M254.8 180.8h0M278.7 199.0h0M455.7 299.3h0M292.1 213.1h0M197.7 108.2h0M259.9 181.2h0M175.0 90.8h0M515.2 311.3h0M246.7 163.9h0M129.8 43.8h0M483.5 309.5h0M484.4 313.0h0M290.3 210.8h0M226.4 140.8h0M122.7 42.7h0M279.7 200.9h0M287.3 212.1h0M458.6 305.4h0M475.0 310.9h0M357.3 258.6h0M143.3 53.7h0M177.6 96.8h0M419.0 291.0h0M229.8 144.6h0M254.4 174.7h0M358.1 262.7h0M139.4 52.8h0M486.4 312.1h0M184.5 99.6h0M436.1 296.6h0M336.5 246.6h0M239.2 157.8h0M130.2 46.7h0M391.3 277.7h0M332.3 243.9h0M134.6 47.4h0M436.7 296.8h0M159.9 67.7h0M454.0 303.5h0M348.3 258.4h0M417.3 290.9h0M391.2 279.5h0M308.5 225.9h0M271.0 191.7h0M372.4 268.5h0M133.1 44.7h0M127.9 41.8h0M195.1 105.3h0M498.7 312.9h0M250.7 170.1h0M288.3 207.9h0M472.0 305.3h0M319.7 233.6h0M382.5 274.1h0M359.7 266.8h0M257.5 180.0h0M245.6 165.2h0M213.8 126.5h0M131.4 43.7h0M208.5 119.5h0M472.5 306.2h0M203.4 113.5h0M222.2 134.7h0M428.5 291.5h0M219.1 134.2h0M359.9 261.5h0M402.0 283.8h0M230.0 146.9h0M145.0 55.3h0M478.2 306.9h0M365.4 264.0h0M240.0 157.4h0M124.9 45.9h0M323.8 235.8h0M416.8 290.3h0M267.8 192.3h0M303.8 224.0h0M324.0 239.7h0M470.8 307.5h0M262.3 182.6h0M143.9 53.7h0M283.8 205.3h0M501.1 311.6h0M182.8 95.5h0M178.4 92.9h0M438.3 295.5h0M329.0 241.8h0M353.3 255.1h0M180.2 97.1h0M334.7 246.0h0M210.3 122.5h0M489.1 312.2h0M381.6 271.6h0M154.6 57.8h0M319.1 231.1h0M205.5 117.0h0M475.1 307.7h0M317.9 235.1h0M346.6 252.3h0M278.0 201.0h0M306.6 226.2h0M295.8 215.3h0M513.9 311.2h0M186.4 99.8h0M283.0 206.7h0M479.9 307.7h0M429.5 297.6h0M506.5 312.3h0M368.3 267.7h0M369.1 264.6h0M296.2 215.9h0M402.3 284.3h0M371.6 268.0h0M505.1 313.0h0M408.7 288.7h0M246.6 165.7h0M492.3 308.5h0M136.0 46.9h0M179.6 94.0h0M240.5 160.1h0M246.8 169.8h0M253.9 176.3h0M435.9 298.7h0M428.7 295.5h0M239.2 156.5h0M151.2 59.4h0M211.7 126.0h0M127.8 45.1h0M503.9 312.0h0M245.8 170.1h0M143.7 55.3h0M208.1 120.2h0M230.3 146.2h0M455.2 302.7h0M498.5 317.4h0M242.1 159.1h0M378.8 273.7h0M391.0 279.0h0M317.5 230.6h0M296.5 216.4h0M401.0 282.4h0M269.8 191.4h0M384.3 277.8h0M156.9 59.8h0M489.5 311.1h0M341.0 252.2h0M259.5 180.3h0M444.7 301.2h0M406.6 287.0h0M334.6 245.5h0M185.9 100.8h0M193.7 105.9h0M284.3 207.6h0M281.1 201.2h0M338.3 247.1h0M215.5 129.6h0M311.9 226.6h0M247.9 167.9h0M184.1 99.6h0M471.4 309.8h0M410.4 288.1h0M362.8 261.7h0M273.4 196.2h0M330.3 243.5h0M162.4 73.3h0M410.3 285.8h0M415.4 289.8h0M343.6 248.7h0M399.7 280.9h0M466.0 302.2h0M416.7 288.8h0M426.7 293.7h0M167.9 76.9h0M514.9 311.1h0M385.8 275.6h0M304.8 222.2h0M304.8 222.2h0M410.2 288.1h0M422.3 292.3h0M216.8 130.2h0M412.1 288.5h0M406.2 283.7h0M229.9 149.0h0M186.6 99.5h0M168.7 81.7h0M255.2 174.3h0M451.9 302.0h0M435.7 296.1h0M512.7 309.5h0M265.0 186.3h0M221.8 135.8h0M138.5 51.1h0M420.5 290.0h0M217.8 130.7h0M286.4 208.5h0M162.8 69.9h0M287.0 207.9h0M212.9 126.7h0M148.0 52.8h0M225.1 140.4h0M148.3 52.5h0M217.0 128.5h0M272.0 191.7h0M395.0 278.7h0M199.2 106.0h0M336.8 249.2h0M355.0 258.3h0M303.1 222.6h0M207.7 118.2h0M349.6 257.1h0M140.8 49.2h0M405.8 285.1h0M410.8 283.6h0M322.2 237.0h0M246.7 167.4h0M312.3 229.3h0M177.4 93.0h0M260.5 180.0h0M139.1 50.2h0M307.8 225.2h0M357.4 261.2h0M384.0 276.6h0M396.1 281.9h0M237.2 155.1h0M250.0 171.9h0M270.0 190.8h0M163.4 69.9h0M182.7 98.0h0M357.2 263.7h0M230.3 147.5h0M130.5 44.9h0M237.7 156.1h0M302.8 222.9h0M427.1 293.8h0M166.7 77.1h0M312.3 228.5h0M376.9 270.3h0M299.0 219.3h0M147.5 54.8h0M199.7 109.3h0M147.9 54.4h0M388.8 278.7h0M248.6 169.2h0M338.1 248.1h0M141.1 54.0h0M481.2 309.0h0M191.8 105.1h0"/>
<path class="d" stroke="#2ca02c" d="M255.0 178.8h0M429.4 294.1h0M407.3 285.1h0M354.5 258.9h0M200.7 112.5h0M133.6 47.4h0M202.1 109.2h0M266.9 188.0h0M211.5 125.2h0M167.2 78.2h0M489.7 312.9h0M303.2 222.9h0M360.3 264.6h0M324.0 235.4h0M442.5 298.6h0M392.1 280.3h0M324.2 241.8h0M348.4 255.7h0M443.6 299.0h0M512.1 312.3h0M481.5 311.9h0M500.7 311.2h0M255.9 175.3h0M428.4 293.1h0M371.8 268.6h0M479.6 309.2h0M489.5 313.0h0M465.9 305.3h0M197.9 109.5h0M145.4 56.6h0M420.9 290.1h0M141.4 54.6h0M335.6 246.2h0M340.4 249.2h0M300.5 223.3h0M329.5 240.6h0M138.6 51.6h0M122.9 38.0h0M487.3 309.8h0M441.2 297.7h0M247.0 166.0h0M152.0 56.4h0M377.4 272.4h0M344.0 253.1h0M414.5 287.4h0M512.4 312.2h0M208.3 118.5h0M341.3 249.8h0M416.5 288.3h0M400.9 284.3h0M431.0 299.0h0M377.7 268.8h0M394.3 280.5h0M335.2 248.2h0M470.8 307.1h0M496.0 313.4h0M479.7 309.5h0M395.6 279.7h0M372.6 267.9h0M442.3 301.3h0M317.7 234.9h0M452.8 304.7h0M339.9 252.4h0M514.3 308.1h0M168.6 79.6h0M404.8 282.8h0M179.8 99.3h0M362.1 264.1h0M180.0 96.0h0M185.7 98.7h0M329.5 242.0h0M317.9 232.9h0M260.4 180.8h0M221.7 137.4h0M157.9 60.3h0M504.2 313.9h0M506.5 310.1h0M200.2 112.0h0M314.1 229.3h0M444.6 298.3h0M165.7 72.3h0M214.6 126.9h0M328.2 238.5h0M124.8 41.3h0M183.9 101.0h0M385.8 275.3h0M287.3 209.2h0M191.9 103.2h0M317.4 231.3h0M188.1 101.4h0M292.4 211.5h0M314.8 233.7h0M194.7 109.5h0M514.0 310.7h0M385.8 277.3h0M447.4 300.7h0M148.2 55.6h0M308.5 228.4h0M419.4 288.3h0M487.1 310.2h0M500.0 314.4h0M349.4 257.7h0M281.0 201.9h0M510.1 314.5h0M197.8 105.4h0M187.8 100.1h0M225.0 137.2h0M171.9 86.9h0M320.9 236.0h0M282.5 202.7h0M186.1 98.3h0M276.2 197.9h0M381.9 272.3h0M238.2 154.1h0M266.4 189.8h0M424.0 289.3h0M173.6 91.5h0M185.9 95.5h0M333.5 243.6h0M151.7 56.6h0M256.0 177.5h0M436.9 296.9h0M358.2 261.2h0M218.8 132.6h0M148.0 54.0h0M191.4 104.8h0M122.7 41.5h0M501.0 312.2h0M325.0 237.4h0M285.9 205.3h0M427.8 293.2h0M189.6 99.9h0M263.8 187.6h0M496.6 314.3h0M292.2 214.1h0M251.0 170.2h0M254.2 175.2h0M184.0 99.0h0M167.4 81.4h0M190.8 101.1h0M433.3 295.3h0M314.1 231.9h0M412.4 288.4h0M327.6 238.3h0M430.0 293.5h0M259.3 180.6h0M252.6 172.3h0M364.1 262.3h0M313.9 230.1h0M155.9 59.0h0M432.8 295.1h0M242.9 162.4h0M332.2 244.9h0M378.7 271.0h0M324.3 235.5h0M124.8 38.4h0M154.7 58.1h0M482.2 309.2h0M337.5 250.0h0M374.4 268.4h0M223.4 139.5h0M246.1 167.1h0M409.9 286.0h0M500.6 312.4h0M244.0 159.8h0M220.2 135.6h0M338.1 247.1h0M430.2 293.7h0M338.9 246.9h0M129.2 45.9h0M201.0 112.1h0M395.7 278.9h0M370.7 266.0h0M158.2 65.6h0M321.1 234.3h0M269.2 190.7h0M390.5 276.7h0M406.3 282.6h0M210.9 120.3h0M337.2 242.9h0M380.1 271.9h0M489.5 312.2h0M302.4 218.2h0M264.9 183.6h0M371.9 270.6h0M258.7 181.7h0M487.7 309.0h0M248.0 169.1h0M507.7 309.7h0M137.6 50.2h0M358.5 265.2h0M257.0 175.5h0M398.8 281.8h0M320.5 236.3h0M296.9 216.1h0M272.9 194.4h0M128.4 44.1h0M205.5 116.6h0M254.9 175.2h0M503.8 311.7h0M230.9 150.6h0M353.5 260.1h0M186.6 101.0h0M432.9 296.4h0M513.0 309.3h0M254.7 174.6h0M469.9 308.5h0M514.2 308.0h0M478.7 309.5h0M266.8 187.0h0M436.5 295.5h0M450.5 298.9h0M509.3 311.1h0M279.0 200.7h0M339.4 251.5h0M265.0 184.5h0M396.0 280.1h0M515.5 310.8h0M334.4 245.8h0M298.0 215.9h0M159.6 65.6h0M498.3 313.3h0M146.2 55.7h0M230.1 146.9h0M387.1 272.3h0M129.1 45.4h0M420.9 291.2h0M260.6 181.0h0M344.9 254.9h0M351.7 257.3h0M470.9 308.3h0M185.4 100.5h0M289.1 209.9h0M180.6 98.7h0M477.3 308.1h0M267.6 188.0h0M223.2 136.0h0M433.9 292.8h0M461.8 303.6h0M343.5 250.5h0M515.2 313.4h0M457.5 302.3h0M501.6 312.3h0M281.1 202.3h0M323.4 237.7h0M485.7 312.2h0M273.4 193.4h0M259.5 181.1h0M462.7 303.2h0M406.3 285.0h0M348.5 257.7h0M424.4 292.9h0M169.5 82.6h0M248.3 167.7h0M394.0 282.2h0M463.4 303.0h0M452.6 300.1h0M272.6 195.0h0M241.4 159.1h0M465.3 304.3h0M141.3 52.9h0M155.3 57.2h0M214.7 127.7h0M141.6 53.3h0M331.9 241.5h0M228.2 143.5h0M468.6 305.2h0M361.6 264.0h0M473.1 307.6h0M270.4 191.2h0M244.2 161.6h0M439.8 299.6h0M225.2 143.2h0M290.0 212.3h0M182.3 98.0h0M129.6 44.3h0M514.4 311.8h0M276.3 195.2h0M314.0 231.0h0M226.4 143.5h0M481.1 309.6h0M251.8 171.7h0M438.6 297.3h0M490.7 313.7h0M514.5 312.4h0M134.2 46.0h0M336.7 243.8h0M368.9 266.9h0M234.0 149.4h0M403.1 283.2h0M450.2 298.9h0M237.0 156.3h0M191.8 103.1h0M405.1 285.0h0M222.8 139.1h0M288.0 208.6h0M389.9 276.8h0M406.9 286.5h0M486.2 310.1h0M493.4 310.6h0M186.9 100.1h0M311.6 228.3h0M160.5 65.3h0M302.1 220.7h0M146.3 58.1h0M342.1 251.3h0M127.0 44.7h0M407.6 285.9h0M459.8 303.9h0M137.1 51.1h0M207.6 120.6h0M272.6 194.5h0M373.6 269.2h0M287.0 207.8h0M389.3 277.0h0M257.8 180.3h0M324.2 235.8h0M449.5 298.4h0M417.8 289.4h0M374.7 269.4h0M170.0 85.4h0M442.8 296.1h0M306.0 227.6h0M241.0 159.9h0M161.3 69.6h0M282.7 204.3h0M386.9 277.0h0M336.1 247.1h0M123.1 40.0h0M499.7 311.7h0M268.6 189.9h0M440.5 298.9h0M235.1 153.9h0M281.0 202.7h0M305.5 222.5h0M510.9 310.5h0M366.1 264.9h0M411.9 287.8h0M385.9 274.4h0M399.3 282.5h0M435.6 295.6h0M240.0 155.5h0M359.9 261.8h0M323.8 240.0h0M138.0 53.7h0M335.4 245.1h0M382.6 274.1h0M397.4 279.9h0M255.3 176.1h0M480.1 310.4h0M182.3 97.8h0M503.6 313.5h0M451.4 300.9h0M155.2 60.2h0M233.4 151.6h0M298.3 217.7h0M480.0 311.8h0M331.1 241.8h0M122.3 39.6h0M275.6 196.7h0M339.7 250.1h0M349.0 256.9h0M165.9 76.8h0M325.8 239.0h0M172.3 88.4h0M249.7 169.4h0M280.1 199.0h0M374.4 268.0h0M479.3 309.7h0M130.2 43.9h0M429.9 294.8h0M504.0 310.6h0M353.5 260.5h0M464.4 305.1h0M174.3 92.6h0M364.7 264.5h0M482.5 308.7h0M379.9 275.7h0M292.9 212.8h0M485.2 311.9h0M400.7 284.5h0M272.1 192.2h0M419.9 290.4h0M184.4 96.0h0M321.1 234.9h0M401.4 282.8h0M268.4 189.5h0M391.3 276.7h0M276.3 199.4h0M480.3 308.3h0M370.8 268.2h0M158.2 60.6h0M274.0 197.5h0M257.4 178.8h0M216.9 131.6h0M175.4 93.6h0M456.4 303.3h0M466.2 304.0h0M224.9 143.5h0M457.6 304.8h0M299.2 217.5h0M440.0 296.4h0M418.4 290.7h0M491.3 311.9h0M175.4 93.8h0M307.9 225.4h0M355.4 261.4h0M288.4 210.8h0M512.5 313.2h0M434.9 299.3h0M361.3 264.8h0M181.3 97.0h0M167.2 81.6h0M320.6 236.6h0M236.2 154.1h0M501.7 312.2h0M177.1 92.6h0M495.2 312.0h0M439.9 297.3h0M156.6 60.6h0M255.6 177.7h0M445.3 299.7h0M251.0 169.8h0M370.7 264.4h0M434.6 295.1h0M484.3 311.6h0M412.3 286.8h0M463.3 306.1h0M233.0 149.1h0M390.0 273.0h0M183.5 98.3h0M340.2 250.0h0M197.3 110.5h0M234.9 153.3h0M380.2 272.4h0M477.9 306.6h0M259.0 180.3h0M343.7 255.3h0M294.4 214.0h0M475.6 308.9h0M197.9 107.9h0M270.2 191.1h0M475.0 308.8h0M184.9 101.4h0M161.1 66.8h0M453.6 302.2h0M309.4 226.6h0M286.7 207.8h0M162.2 72.7h0M294.6 217.3h0M149.5 56.4h0M482.0 308.1h0M455.3 303.8h0M338.1 247.3h0M351.3 258.2h0M363.0 261.2h0M197.3 107.2h0M476.8 308.2h0M452.4 300.6h0M366.3 263.4h0M244.6 164.7h0M388.9 276.9h0M434.2 296.6h0M405.7 285.3h0M145.5 54.7h0M209.0 119.6h0M297.6 216.3h0M329.1 237.3h0M131.6 45.7h0M343.7 248.9h0M297.2 218.0h0M483.4 308.0h0M481.3 309.8h0M127.8 40.9h0M190.8 100.2h0M371.7 270.0h0M372.8 269.2h0M281.2 201.9h0M271.9 196.7h0M382.0 273.6h0M157.3 60.2h0M411.0 284.0h0M167.1 75.7h0M187.8 102.9h0M381.2 274.9h0M240.0 153.9h0M277.3 197.3h0M201.8 111.8h0M486.1 309.8h0M199.8 109.9h0M318.2 230.6h0M458.8 303.8h0M156.8 60.7h0M412.4 287.6h0M380.0 271.7h0M256.5 178.4h0M445.1 296.8h0M386.9 274.8h0M381.9 274.2h0M139.1 54.4h0M263.8 186.9h0M262.3 186.1h0M357.2 258.6h0M269.8 189.6h0M490.9 312.8h0M416.4 287.2h0M174.0 95.7h0M465.0 305.0h0M501.3 309.0h0M285.3 209.2h0M124.0 45.7h0M449.1 302.2h0M358.7 260.4h0M261.3 180.5h0M264.3 187.7h0M368.5 266.3h0M270.4 190.3h0M124.2 42.5h0M245.5 166.6h0M312.9 229.1h0M222.1 135.5h0M145.8 53.6h0M250.6 170.1h0M351.1 257.0h0M494.9 312.3h0M183.0 101.9h0M396.9 283.1h0M372.2 268.3h0M379.5 275.0h0M133.6 46.3h0M166.7 80.2h0M397.1 283.1h0M277.5 200.3h0M294.1 214.8h0M303.1 222.0h0M277.0 198.7h0M254.6 177.2h0M197.9 110.2h0M292.4 210.4h0M416.4 290.6h0M503.6 313.3h0M485.7 310.9h0M421.3 293.8h0M427.1 292.8h0M420.5 290.4h0M474.3 308.8h0M461.7 302.1h0M132.4 46.9h0M170.7 86.7h0M406.0 286.6h0M468.2 308.5h0M351.0 257.1h0M207.8 118.3h0M383.1 274.5h0M407.3 286.1h0M368.8 268.9h0M318.9 232.8h0M275.0 195.5h0M162.3 70.8h0M309.9 226.8h0M340.5 251.3h0M503.8 313.4h0M303.1 222.3h0M290.7 209.2h0M162.5 71.6h0M302.9 220.1h0M444.6 299.4h0M321.3 237.7h0M217.0 131.0h0M247.6 166.9h0M313.0 225.9h0M158.3 63.4h0M146.6 55.1h0M487.0 311.4h0M163.9 71.5h0M461.9 300.2h0M292.1 212.7h0M153.2 56.2h0M205.8 115.6h0M400.0 282.0h0M202.4 112.0h0M204.9 116.5h0M237.9 154.8h0M208.4 118.7h0M360.0 260.4h0M406.8 285.4h0M307.9 223.4h0M137.2 50.5h0M342.5 252.2h0M471.1 305.9h0M384.1 273.2h0M184.3 97.6h0M296.2 216.3h0M269.2 191.5h0M386.4 274.8h0M415.2 288.5h0M365.5 267.4h0M397.2 279.4h0M358.9 264.5h0M257.0 179.5h0M227.8 144.1h0M334.2 246.5h0M335.1 249.4h0M220.0 136.1h0M339.6 248.2h0M363.3 263.8h0M224.4 139.1h0M204.3 114.4h0M206.8 118.5h0M222.4 136.4h0M510.8 313.4h0M395.6 282.6h0M297.6 215.5h0M297.4 214.8h0M444.8 299.5h0M180.1 97.9h0M242.4 162.4h0M332.7 245.5h0M237.1 154.6h0M457.5 304.4h0M384.2 274.0h0M467.1 305.8h0M196.2 109.9h0M174.8 94.4h0M404.7 284.7h0M242.6 163.0h0M363.6 264.7h0M450.4 303.3h0M418.1 290.9h0M146.2 55.4h0M472.9 304.7h0M309.9 225.6h0M479.9 308.5h0M169.3 82.2h0M240.7 159.2h0M423.9 292.8h0M198.4 109.3h0M422.9 290.9h0M164.9 71.4h0M222.9 139.8h0M195.5 106.5h0M124.3 42.5h0M410.3 285.6h0M215.5 126.6h0M484.1 308.2h0M450.9 303.4h0M378.2 270.2h0M360.1 260.6h0M283.9 207.2h0M379.5 273.6h0M447.1 301.3h0M392.3 280.7h0M184.7 98.7h0M140.5 52.4h0M503.5 309.8h0M450.9 304.5h0M143.0 51.4h0M314.2 234.3h0M127.0 41.3h0M160.7 69.8h0M378.9 271.9h0M136.1 48.1h0M247.7 166.7h0M314.2 229.9h0M139.8 52.0h0M146.8 51.5h0M308.0 222.3h0M394.9 281.0h0M289.8 209.6h0M341.6 251.4h0M260.4 181.3h0M300.5 218.8h0M507.6 308.6h0M231.7 149.7h0M512.8 312.4h0M205.9 116.1h0M242.4 160.5h0M309.8 227.9h0M295.1 214.6h0M327.1 241.2h0M380.1 273.1h0M338.1 248.1h0M150.5 54.1h0M464.3 299.7h0M499.7 314.3h0M440.2 299.1h0M302.6 222.8h0M169.2 82.7h0M352.4 258.5h0M152.5 54.5h0M488.3 310.2h0M197.8 106.0h0M489.8 311.7h0M253.7 175.2h0M187.6 100.4h0M212.1 125.0h0M258.6 181.3h0M233.5 147.5h0M383.5 275.4h0M448.5 302.3h0M407.6 287.6h0M341.6 252.4h0M489.7 308.8h0M171.3 86.3h0M432.9 295.1h0M428.5 292.8h0M229.7 146.4h0M226.0 141.8h0M224.9 142.8h0M170.3 83.0h0M317.8 233.7h0M470.1 307.5h0M476.8 310.3h0M476.2 305.7h0M498.4 311.8h0M149.3 54.1h0M235.1 151.9h0M193.5 105.8h0M189.1 106.4h0M462.3 303.0h0M254.1 176.9h0"/>
<path class="d" stroke="#d62728" d="M182.4 108.6h0M499.7 282.5h0M489.1 275.6h0M240.6 144.2h0M406.7 257.7h0M288.4 201.1h0M513.1 283.7h0M240.3 144.4h0M513.6 285.5h0M263.3 176.6h0M334.4 221.4h0M259.1 176.8h0M363.8 232.9h0M378.9 241.4h0M132.6 67.9h0M419.3 267.2h0M305.5 206.5h0M475.8 271.5h0M378.5 252.4h0M217.9 120.4h0M270.0 185.4h0M317.1 214.0h0M361.0 229.9h0M509.3 279.8h0M177.6 103.0h0M478.6 272.1h0M167.5 90.8h0M505.0 280.8h0M358.7 228.0h0M509.1 281.5h0M277.2 188.1h0M477.1 274.8h0M514.3 283.5h0M387.0 252.5h0M210.6 110.0h0M358.0 231.9h0M278.0 191.2h0M208.3 109.0h0M476.2 268.4h0M452.4 268.7h0M370.1 231.0h0M174.7 96.9h0M320.2 216.1h0M191.4 114.6h0M407.8 262.1h0M235.1 139.2h0M362.1 234.8h0M459.1 267.1h0M408.2 258.6h0M211.0 111.9h0M149.2 80.8h0M287.3 193.7h0M172.0 94.3h0M318.5 212.9h0M318.2 208.5h0M381.2 251.7h0M214.5 116.3h0M408.2 262.4h0M337.8 223.5h0M410.6 259.9h0M150.2 80.6h0M324.7 217.1h0M339.7 223.5h0M266.7 182.4h0M316.1 211.8h0M250.8 162.2h0M213.3 114.3h0M172.2 95.9h0M150.9 79.3h0M423.0 266.9h0M489.4 275.9h0M466.5 270.2h0M474.4 273.0h0M138.8 70.6h0M320.0 213.2h0M458.6 268.4h0M313.8 212.7h0M418.8 266.5h0M290.3 197.3h0M361.6 231.9h0M493.0 273.5h0M463.9 268.2h0M319.6 211.2h0M358.9 229.2h0M197.1 97.3h0M156.1 81.4h0M399.0 243.5h0M414.5 269.2h0M351.8 229.2h0M187.2 111.7h0M381.4 253.5h0M255.9 169.6h0M412.1 262.2h0M416.1 263.7h0M398.0 242.2h0M132.6 70.6h0M153.7 83.3h0M402.8 247.0h0M379.2 251.1h0M178.2 101.8h0M159.9 89.2h0M128.1 62.6h0M404.6 261.8h0M298.8 203.4h0M233.8 133.4h0M301.4 206.7h0M311.2 206.2h0M501.9 278.6h0M231.5 129.9h0M138.2 73.4h0M497.5 279.2h0M267.4 177.5h0M228.4 129.3h0M126.8 63.3h0M493.2 278.4h0M471.5 268.9h0M377.3 240.1h0M462.6 270.5h0M334.8 219.0h0M284.0 198.8h0M502.6 280.4h0M386.6 255.0h0M382.4 252.0h0M226.6 125.1h0M188.6 111.0h0M267.2 179.6h0M471.6 268.2h0M314.5 213.0h0M413.3 262.2h0M514.8 288.8h0M236.3 137.6h0M225.2 124.5h0M303.3 207.9h0M461.5 265.6h0M360.5 228.7h0M312.2 209.1h0M363.6 232.7h0M296.9 205.8h0M402.9 248.1h0M373.3 235.9h0M201.0 104.6h0M492.7 281.9h0M144.1 80.1h0M144.5 73.8h0M311.5 206.5h0M415.3 264.5h0M264.0 180.7h0M371.9 235.4h0M168.0 91.0h0M415.8 264.1h0M362.4 229.4h0M227.8 127.7h0M485.4 275.1h0M127.3 62.9h0M474.7 268.7h0M395.2 241.7h0M375.0 236.8h0M404.4 260.8h0M467.6 268.9h0M171.0 94.2h0M513.1 284.4h0M408.4 260.5h0M506.6 276.5h0M309.1 208.9h0M345.7 225.1h0M302.0 205.3h0M346.0 223.4h0M205.6 106.2h0M244.3 154.6h0M251.9 164.0h0M308.1 209.7h0M205.3 108.7h0M458.4 268.5h0M196.0 97.5h0M348.9 226.1h0M278.6 189.2h0M511.8 283.2h0M203.1 103.4h0M383.3 254.4h0M375.3 239.2h0M484.7 273.8h0M360.8 232.5h0M249.1 161.8h0M296.7 202.4h0M320.2 213.3h0M323.0 216.6h0M324.9 216.4h0M122.2 56.1h0M396.5 242.9h0M238.6 144.4h0M235.9 139.7h0M149.0 78.6h0M483.4 274.1h0M233.7 137.2h0M337.2 218.6h0M244.7 150.2h0M344.5 225.5h0M275.2 186.9h0M380.9 250.0h0M282.1 192.9h0M267.3 181.0h0M376.7 239.3h0M164.7 94.2h0M421.0 260.9h0M347.0 221.8h0M419.1 268.3h0M155.4 85.7h0M155.5 83.4h0M490.0 274.5h0M217.6 116.3h0M276.8 192.0h0M168.6 93.0h0M257.9 171.6h0M202.0 103.4h0M253.6 166.6h0M507.7 284.4h0M407.9 263.8h0M363.1 234.1h0M404.4 260.8h0M255.4 168.3h0M242.8 150.2h0M395.7 240.5h0M470.6 266.9h0M161.0 86.2h0M354.6 227.0h0M381.0 252.1h0M168.4 94.0h0M465.9 269.9h0M350.5 222.6h0M146.7 74.5h0M298.2 205.4h0M283.3 191.2h0M242.9 150.4h0M218.6 117.7h0M374.2 236.8h0M155.2 85.9h0M273.7 185.9h0M266.8 180.1h0M136.4 74.0h0M295.5 203.5h0M217.9 115.9h0M239.4 143.8h0M352.4 225.1h0M351.0 225.1h0M275.5 189.1h0M486.0 275.2h0M320.4 214.8h0M169.2 92.6h0M515.8 283.8h0M401.1 247.1h0M358.5 230.2h0M151.1 82.3h0M233.2 134.0h0M383.6 254.0h0M200.9 100.9h0M129.1 64.9h0M396.6 240.9h0M199.4 100.8h0M244.2 149.7h0M401.8 246.9h0M184.1 106.7h0M255.4 169.4h0M199.6 102.7h0M417.0 267.1h0M268.7 181.9h0M480.0 271.9h0M387.4 256.8h0M155.5 85.9h0M302.2 205.3h0M164.1 89.6h0M458.2 265.5h0M423.0 268.9h0M413.0 262.0h0M208.5 108.6h0M228.6 129.5h0M404.4 259.1h0M173.1 94.8h0M253.0 160.1h0M456.3 267.5h0M341.5 222.6h0M296.6 203.3h0M378.9 250.6h0M276.8 189.0h0M191.3 117.9h0M403.0 259.6h0M251.8 159.9h0M297.9 202.5h0M197.1 99.7h0M401.6 245.5h0M317.2 212.7h0M159.5 92.8h0M515.5 285.3h0M371.3 233.6h0M401.9 247.7h0M194.0 94.4h0M205.6 106.8h0M248.4 157.7h0M167.8 89.2h0M320.2 213.0h0M357.4 232.0h0M176.8 96.5h0M413.5 264.6h0M253.5 169.7h0M203.8 105.0h0M214.0 117.3h0M386.6 251.5h0M408.2 260.4h0M292.0 201.0h0M186.7 109.8h0M479.1 272.2h0M502.5 280.1h0M317.9 211.9h0M379.5 250.1h0M404.0 259.9h0M345.9 225.1h0M157.0 82.1h0M364.4 233.5h0M373.5 239.2h0M475.6 270.5h0M455.4 269.2h0M149.3 76.6h0M483.6 273.3h0M172.5 93.3h0M262.1 176.8h0M195.9 93.4h0M467.8 268.8h0M266.0 181.1h0M482.1 274.6h0M267.1 184.5h0M487.1 272.8h0M460.2 268.6h0M503.1 279.7h0M402.6 246.0h0M274.3 185.1h0M409.4 263.1h0M199.4 104.4h0M200.5 105.0h0M382.0 251.7h0M358.7 231.8h0M311.7 206.5h0M277.1 189.9h0M398.5 244.3h0M422.9 267.1h0M353.7 228.4h0M403.2 259.0h0M421.2 266.9h0M241.8 149.6h0M342.3 221.5h0M133.0 70.0h0M278.8 193.0h0M164.7 91.9h0M170.3 93.0h0M143.7 74.3h0M235.0 137.7h0M343.4 223.4h0M378.1 251.1h0M321.6 212.8h0M419.5 267.9h0M406.5 259.5h0M238.7 144.6h0M495.3 277.1h0M405.7 261.7h0M303.3 206.0h0M296.8 204.4h0M201.8 105.8h0M220.4 120.8h0M249.8 158.5h0M481.6 272.3h0M408.8 261.6h0M340.1 220.7h0M405.3 259.5h0M274.3 186.9h0M303.6 206.5h0M293.8 196.9h0M305.0 205.5h0M177.4 104.0h0M226.8 126.5h0M322.0 212.6h0M184.3 109.8h0M130.7 72.0h0M139.4 72.9h0M144.0 71.2h0M273.1 182.7h0M221.8 123.6h0M454.5 267.8h0M171.2 93.0h0M349.6 225.9h0M319.3 213.0h0M184.6 109.7h0M384.9 255.0h0M291.8 201.8h0M297.6 206.3h0M133.9 68.8h0M136.3 70.8h0M220.5 120.6h0M311.7 208.1h0M461.6 272.1h0M185.5 110.8h0M338.6 220.1h0M508.6 282.6h0M215.2 115.3h0M258.0 170.2h0M181.9 105.9h0M354.8 228.6h0M140.0 73.8h0M501.8 277.4h0M310.4 206.0h0M266.7 180.3h0M479.0 272.2h0M463.1 269.2h0M342.7 223.2h0M167.4 89.6h0M173.3 97.1h0M216.0 113.5h0M294.5 202.8h0M305.1 205.7h0M373.0 235.7h0M345.1 224.3h0M459.4 268.5h0M148.1 76.5h0M333.8 222.1h0M376.4 237.6h0M178.8 104.3h0M333.9 223.3h0M288.8 194.3h0M188.2 112.2h0M213.7 114.5h0M171.0 95.7h0M400.9 245.7h0M344.9 224.0h0M281.0 196.2h0M468.1 271.5h0M285.4 194.6h0M228.5 129.3h0M460.1 269.4h0M163.3 90.2h0M343.5 223.2h0M500.6 276.6h0M401.0 247.1h0M334.9 220.5h0M174.7 98.3h0M275.4 185.9h0M210.3 109.2h0M515.9 285.7h0M174.5 96.8h0M474.9 268.0h0M148.0 76.1h0M290.2 196.7h0M303.7 208.4h0M243.1 149.8h0M380.9 250.6h0M463.7 272.1h0M338.5 221.8h0M490.1 276.0h0M140.9 74.4h0M317.5 212.1h0M236.8 139.5h0M312.9 210.3h0M349.3 225.2h0M240.5 142.7h0M470.0 268.8h0M146.0 77.7h0M362.8 230.8h0M294.0 201.7h0M180.6 103.9h0M479.5 270.2h0M415.1 263.2h0M141.6 76.8h0M284.3 195.5h0M301.8 199.2h0M168.7 94.4h0M238.5 141.8h0M282.2 193.7h0M195.4 100.8h0M299.4 207.2h0M414.1 261.4h0M146.2 75.0h0M407.7 261.9h0M504.2 282.5h0M132.9 68.8h0M189.4 113.8h0M202.3 108.4h0M157.9 86.3h0M246.9 155.5h0M323.9 212.6h0M481.6 272.3h0M466.6 269.8h0M183.0 110.5h0M473.2 269.9h0M498.9 277.5h0M478.5 269.3h0M237.1 140.8h0M183.3 107.7h0M342.8 225.0h0M145.1 76.3h0M397.8 243.0h0M278.7 190.6h0M308.8 206.0h0M260.5 176.7h0M421.8 270.1h0M188.5 113.4h0M349.8 222.9h0M233.1 132.8h0M419.0 266.1h0M132.3 70.5h0M361.6 232.6h0M183.3 110.6h0M475.1 271.1h0M176.3 100.6h0M474.7 269.5h0M470.4 269.7h0M513.8 284.8h0M335.1 217.6h0M131.8 69.0h0M506.6 279.0h0M197.1 101.7h0M285.9 195.6h0M322.4 209.2h0M149.3 81.0h0M340.4 221.9h0M226.5 127.9h0M405.9 263.3h0M377.4 237.9h0M186.3 111.6h0M287.2 193.6h0M463.1 270.2h0M418.9 267.7h0M485.9 276.9h0M353.3 226.5h0M135.8 72.7h0M373.5 235.0h0M292.5 200.6h0M183.7 109.3h0M164.6 90.4h0M147.6 76.2h0M514.9 283.8h0M189.3 112.1h0M338.7 222.3h0M507.4 279.0h0M351.0 224.4h0M223.9 122.5h0M282.1 193.8h0M371.3 234.7h0M186.0 112.0h0M161.5 89.3h0M211.3 111.6h0M492.0 279.2h0M507.2 279.1h0M515.3 287.9h0M153.8 80.0h0M356.4 227.2h0M140.1 73.4h0M341.2 224.1h0M302.7 209.5h0M236.8 139.8h0M420.6 267.7h0M365.6 232.5h0M481.2 274.3h0M173.3 100.3h0M497.9 278.2h0M156.4 83.4h0M512.4 289.8h0M238.8 144.2h0M296.9 204.5h0M497.3 276.5h0M148.7 79.1h0M509.3 282.8h0M337.0 223.3h0M123.2 60.7h0M161.4 86.4h0M381.5 251.6h0M369.1 230.7h0M359.3 232.2h0M370.3 231.8h0M164.4 88.8h0M311.3 209.6h0M493.7 272.7h0M195.1 98.3h0M296.6 205.1h0M275.2 189.3h0M175.3 101.2h0M257.5 170.8h0M478.0 270.0h0M272.8 182.6h0M243.0 150.1h0M254.4 168.4h0M469.6 272.3h0M317.9 211.4h0M293.6 200.7h0M234.1 132.8h0M375.8 235.8h0M360.7 229.3h0M473.5 272.4h0M405.2 257.7h0M458.7 264.1h0M205.1 103.7h0M154.8 82.3h0M190.1 111.7h0M404.5 256.0h0M323.8 214.1h0M484.0 269.5h0M346.4 223.6h0M317.4 210.1h0M378.9 249.9h0M386.7 254.8h0M141.2 75.2h0M285.3 191.1h0M269.9 185.3h0M180.1 102.6h0M387.0 251.9h0M337.9 222.2h0M469.9 272.0h0M263.8 180.2h0M376.4 238.6h0M513.7 282.4h0M212.5 113.3h0M278.9 189.9h0M195.5 97.6h0M150.5 79.1h0M275.6 188.0h0M470.2 268.0h0M363.8 232.4h0M474.7 270.3h0M174.1 98.7h0M377.5 238.6h0M189.6 114.3h0M452.8 267.3h0M295.4 201.8h0M184.1 108.7h0M127.7 63.4h0M397.8 242.0h0M375.9 239.0h0M210.4 110.0h0M156.0 86.0h0M465.5 272.8h0M338.2 223.4h0M258.1 168.8h0M224.1 119.6h0M224.9 127.1h0M419.0 265.2h0M419.9 262.5h0M414.6 263.2h0M218.6 118.3h0M323.6 210.2h0"/>
<path class="d" stroke="#d62728" d="M204.4 102.5h0M199.7 100.3h0M481.2 272.4h0M266.3 177.8h0M401.3 247.9h0M333.7 221.9h0M247.2 155.9h0M371.4 232.4h0M356.0 230.7h0M421.5 268.6h0M277.8 189.7h0M304.8 205.2h0M349.4 224.4h0M251.4 165.2h0M258.4 174.1h0M165.5 93.8h0M231.7 132.3h0M293.5 200.9h0M184.8 108.8h0M240.6 145.8h0M302.2 206.2h0M173.6 93.6h0M194.3 94.3h0M218.5 116.5h0M343.0 222.9h0M146.9 75.8h0M141.7 75.7h0M469.0 270.4h0M181.4 106.6h0M138.5 72.0h0M249.9 163.2h0M473.7 269.7h0M460.9 271.1h0M374.5 236.0h0M377.7 239.2h0M216.0 116.1h0M452.7 264.2h0M179.6 101.9h0M406.1 260.9h0M229.5 131.1h0M453.4 267.1h0M236.9 143.1h0M460.5 266.1h0M143.9 77.2h0M319.4 211.9h0M304.2 209.4h0M386.3 255.4h0M360.9 228.5h0M395.2 242.0h0M280.0 192.3h0M494.8 276.1h0M308.8 208.4h0M347.8 225.9h0M498.1 278.2h0M415.7 264.5h0M320.1 211.6h0M227.3 126.7h0M262.5 177.9h0M340.9 222.8h0M180.9 106.3h0M145.4 76.9h0M296.6 203.5h0M398.4 244.6h0M145.5 78.3h0M340.2 223.0h0M461.2 267.7h0M480.3 269.5h0M496.2 277.1h0M309.2 207.5h0M299.0 204.8h0M135.9 68.7h0M156.4 87.3h0M204.7 105.7h0M282.5 196.2h0M503.2 282.2h0M251.4 159.2h0M185.3 110.2h0M357.9 231.2h0M162.6 87.8h0M280.8 190.9h0M361.1 231.5h0M380.6 251.2h0M304.5 207.1h0M136.9 70.6h0M493.3 276.2h0M232.3 133.8h0M312.2 210.8h0M214.4 113.5h0M255.7 168.4h0M200.9 105.0h0M282.1 194.3h0M460.2 267.4h0M275.6 190.8h0M359.2 231.4h0M404.1 255.9h0M322.5 213.3h0M312.5 208.2h0M504.8 276.9h0M492.0 275.0h0M411.7 261.6h0M365.2 236.6h0M485.3 272.2h0M342.6 225.0h0M335.0 222.9h0M208.8 112.2h0M299.3 203.9h0M219.6 119.9h0M146.3 79.6h0M320.4 211.5h0M183.6 106.2h0M213.2 110.5h0M464.9 269.3h0M244.7 155.1h0M275.0 187.2h0M281.6 192.7h0M130.0 62.5h0M274.5 188.2h0M252.2 164.2h0M265.8 180.8h0M283.6 192.4h0M415.9 263.3h0M291.3 199.4h0M288.0 201.0h0M314.2 208.8h0M184.0 107.4h0M246.1 152.6h0M297.7 202.8h0M244.0 151.4h0M148.0 76.9h0M375.1 238.5h0M334.3 225.4h0M322.4 210.2h0M140.5 74.0h0M472.5 271.4h0M491.4 277.2h0M503.3 281.1h0M251.8 164.6h0M399.4 247.1h0M400.5 246.6h0M180.4 108.5h0M262.7 177.4h0M275.0 187.7h0M265.5 180.3h0M189.1 112.8h0M337.6 222.3h0M131.5 66.6h0M419.5 266.8h0M359.4 229.4h0M343.4 222.0h0M223.1 124.1h0M164.2 90.0h0M151.1 79.2h0M225.0 124.8h0M209.7 113.3h0M285.4 194.5h0M291.0 197.6h0M281.3 191.0h0M238.4 141.2h0M408.3 260.7h0M346.8 228.8h0M261.4 176.8h0M250.7 159.5h0M375.0 233.8h0M266.6 179.4h0M201.4 100.9h0M122.4 56.1h0M413.7 262.4h0M128.1 68.5h0M403.5 249.5h0M137.6 69.1h0M151.3 78.9h0M211.9 109.4h0M237.6 139.3h0M408.3 259.9h0M161.4 86.4h0M213.5 114.2h0M403.4 249.1h0M339.3 225.2h0M214.0 112.8h0M151.7 77.0h0M146.9 77.3h0M239.0 143.8h0M387.2 253.9h0M374.8 237.3h0M215.6 119.4h0M373.5 237.7h0M185.7 108.7h0M460.6 266.1h0M156.7 82.7h0M317.9 212.4h0M149.1 76.1h0M349.1 227.9h0M295.9 201.1h0M169.5 95.5h0M322.9 212.1h0M354.2 230.4h0M351.7 229.2h0M167.2 93.6h0M268.7 180.3h0M458.7 264.2h0M195.8 95.6h0M277.2 186.4h0M128.0 64.4h0M380.0 251.4h0M354.4 228.2h0M233.1 134.3h0M201.8 102.7h0M378.7 252.0h0M162.3 88.5h0M236.1 140.9h0M495.1 277.9h0M280.0 192.9h0M404.1 259.1h0M196.4 96.6h0M382.5 251.8h0M150.1 78.2h0M455.6 265.6h0M264.5 176.8h0M223.5 120.9h0M292.2 198.2h0M307.9 203.9h0M286.0 196.3h0M410.1 259.4h0M411.8 263.8h0M352.0 225.4h0M295.5 204.0h0M201.0 102.1h0M501.3 279.8h0M477.2 268.7h0M155.5 80.6h0M305.4 206.1h0M196.6 99.2h0M151.0 82.0h0M284.8 196.2h0M174.8 96.3h0M386.8 253.5h0M150.2 78.7h0M142.3 73.9h0M458.9 270.8h0M465.7 268.9h0M308.4 207.5h0M322.7 214.7h0M151.3 82.2h0M140.3 75.1h0M170.6 93.7h0M188.5 112.5h0M238.2 140.6h0M404.6 259.1h0M286.9 194.4h0M213.2 115.9h0M166.7 90.6h0M404.7 258.8h0M256.0 168.7h0M403.3 257.6h0M230.9 131.1h0M156.2 83.2h0M234.5 137.5h0M202.8 106.6h0M314.6 209.9h0M508.9 278.6h0M202.0 105.2h0M307.9 207.6h0M491.2 273.6h0M142.8 74.6h0M515.8 283.0h0M473.0 268.9h0M306.7 206.5h0M486.7 277.3h0M491.9 273.6h0M261.7 174.5h0M300.6 203.6h0M419.0 271.3h0M307.0 206.9h0M171.8 95.9h0M291.4 201.3h0M382.0 252.3h0M298.4 207.1h0M486.4 271.4h0M347.2 229.9h0M358.7 230.3h0M420.9 268.5h0M242.6 145.6h0M477.9 272.3h0M497.3 278.2h0M337.3 220.9h0M175.7 99.1h0M479.2 270.4h0M347.9 226.4h0M223.3 121.2h0M364.4 235.2h0M245.4 151.1h0M263.2 177.0h0M143.3 74.6h0M486.5 273.7h0M343.8 221.7h0M285.7 194.8h0M333.7 221.4h0M288.0 194.9h0M493.8 278.6h0M171.8 92.2h0M178.5 100.1h0M162.1 89.7h0M216.6 120.1h0M402.7 245.4h0M202.8 105.6h0M153.5 80.0h0M320.0 212.1h0M226.9 126.4h0M148.5 79.2h0M178.4 102.5h0M313.8 213.4h0M317.6 211.8h0M291.2 200.7h0M220.8 121.5h0M409.6 260.8h0M376.5 240.2h0M363.4 229.0h0M412.9 266.3h0M138.3 72.8h0M136.3 71.7h0M387.8 256.2h0M510.1 282.2h0M257.3 170.3h0M338.0 225.0h0M262.0 177.0h0M469.2 269.8h0M229.0 128.6h0M411.6 262.0h0M131.3 67.3h0M283.2 192.2h0M209.5 109.2h0M341.2 225.1h0M386.1 252.3h0M164.3 86.4h0M404.0 260.7h0M406.7 259.4h0M225.0 124.1h0M363.5 233.0h0M456.1 263.7h0M308.3 203.7h0M193.4 92.6h0M411.5 264.7h0M418.9 266.2h0M259.0 177.6h0M322.6 210.0h0M346.7 225.9h0M477.5 270.7h0M507.8 284.4h0M139.6 71.2h0M403.7 250.2h0M513.1 283.2h0M479.8 270.4h0M230.5 130.1h0M501.4 279.2h0M206.2 110.2h0M277.3 189.4h0M138.3 72.9h0M398.9 241.8h0M400.1 246.6h0M179.4 102.6h0M378.7 250.2h0M504.4 282.6h0M397.0 245.2h0M177.7 100.5h0M472.5 271.9h0M373.5 236.1h0M460.6 269.4h0M187.7 112.9h0M131.4 65.2h0M453.4 267.8h0M295.5 206.3h0M272.9 185.2h0M503.2 277.9h0M475.5 269.7h0M133.2 69.7h0M457.9 264.5h0M313.5 207.3h0M489.4 274.4h0M157.3 81.6h0M286.7 196.4h0M272.3 185.7h0M400.0 244.9h0M162.3 87.9h0M212.1 112.2h0M422.6 265.8h0M379.7 247.9h0M474.8 272.2h0M419.0 265.1h0M136.4 68.8h0M185.2 110.7h0M418.9 265.2h0M417.7 265.8h0M132.6 71.6h0M407.0 261.2h0M417.9 266.6h0M133.8 69.5h0M480.7 270.8h0M215.4 114.1h0M498.9 279.4h0M466.9 273.2h0M175.4 97.7h0M379.7 251.4h0M248.0 155.1h0M141.3 71.3h0M457.6 269.6h0M191.3 116.5h0M473.8 269.1h0M486.2 273.0h0M318.8 214.1h0M247.2 153.6h0M364.3 234.4h0M353.5 227.1h0M127.0 65.3h0M507.2 283.1h0M358.2 231.3h0M324.8 215.4h0M462.7 271.0h0M338.8 223.0h0M482.9 267.9h0M210.7 112.9h0M232.7 134.7h0M257.0 167.3h0M291.7 201.9h0M403.0 247.9h0M371.8 235.2h0M168.5 91.8h0M291.0 198.4h0M174.4 97.0h0M422.5 266.8h0M455.6 265.3h0M481.8 275.1h0M168.5 93.4h0M168.0 94.1h0M302.2 205.3h0M488.2 273.2h0M146.8 74.1h0M397.8 241.5h0M509.5 284.5h0M180.7 104.4h0M290.6 199.1h0M485.1 277.4h0M137.5 74.2h0M305.2 207.8h0M202.1 105.7h0M500.4 280.6h0M313.1 213.0h0M500.2 278.6h0M204.7 107.1h0M219.3 120.2h0M128.1 67.3h0M385.8 254.2h0M298.5 204.4h0M281.4 194.1h0M479.1 275.2h0M281.9 194.0h0M462.6 271.3h0M359.8 231.3h0M213.4 117.2h0M150.6 84.0h0M214.5 117.3h0M376.5 237.0h0M284.0 195.6h0M502.7 281.8h0M369.2 234.9h0M463.8 269.0h0M501.6 281.5h0M467.1 270.9h0M154.7 81.0h0M211.8 112.9h0M133.8 70.5h0M294.2 202.5h0M216.5 117.1h0M255.1 167.2h0M401.7 244.7h0M306.4 210.3h0M369.0 231.1h0M333.4 219.6h0M222.0 120.1h0M244.4 152.6h0M350.5 228.0h0M187.6 112.9h0M349.6 225.5h0M192.0 113.8h0M181.5 109.7h0M454.5 264.6h0M508.0 280.5h0M362.4 233.0h0M153.6 80.9h0M206.6 108.1h0M378.8 243.8h0M277.1 194.9h0M246.0 153.1h0M371.4 233.1h0M231.4 130.8h0M290.7 198.0h0M236.1 139.6h0M334.8 218.2h0M180.9 104.6h0M155.8 82.7h0M313.2 209.8h0M279.5 190.7h0M262.1 173.9h0M410.7 259.2h0M381.0 253.3h0M343.5 222.6h0M270.1 182.5h0M403.5 255.6h0M312.5 213.8h0M200.9 103.9h0M497.9 278.4h0M159.7 86.9h0M369.1 230.4h0M361.9 232.6h0M400.1 245.5h0M316.8 210.3h0M198.4 101.5h0M379.4 249.8h0M458.5 265.9h0M476.6 268.7h0M276.4 191.0h0M228.9 130.1h0M492.5 275.9h0M409.4 263.1h0M231.8 131.7h0M321.1 213.8h0M501.5 279.3h0M287.7 197.7h0M492.5 275.2h0M250.6 164.6h0M398.7 243.6h0M485.7 275.8h0M514.3 286.2h0M466.4 267.4h0M273.8 186.0h0M399.9 244.4h0M340.9 225.1h0M220.6 118.1h0M134.6 70.0h0M482.6 272.1h0M478.3 272.0h0M515.1 285.6h0M311.7 207.3h0M168.4 92.1h0M402.3 245.7h0M483.3 272.2h0M245.8 152.8h0M309.8 206.4h0M144.5 75.6h0M466.9 265.5h0M308.6 205.2h0M301.4 207.8h0M236.3 137.4h0M241.3 145.6h0M263.1 178.7h0M154.8 80.2h0M420.7 267.1h0M506.5 282.1h0M256.2 171.2h0M187.5 112.9h0M305.4 204.7h0M364.3 234.9h0M452.3 266.4h0M251.8 161.6h0M406.0 258.8h0M154.0 79.9h0M206.7 109.9h0M497.9 274.6h0M387.2 252.6h0M333.4 218.0h0M160.2 89.0h0M340.2 223.2h0M254.8 167.0h0M209.2 107.8h0M180.0 103.4h0M470.0 271.5h0M278.9 193.4h0M221.9 119.6h0M239.5 145.4h0M126.2 63.4h0M455.1 266.4h0M344.8 224.2h0M417.1 263.7h0M187.2 107.9h0M506.2 278.6h0M215.9 113.7h0M232.6 132.5h0M234.6 138.3h0M181.2 104.7h0M220.1 120.7h0M488.6 274.4h0M316.7 213.6h0M211.4 112.1h0M141.0 75.2h0M173.7 102.5h0M141.8 77.6h0M234.5 135.5h0M259.6 174.8h0M462.8 269.0h0M242.6 151.9h0M192.5 118.1h0M140.5 75.0h0M208.1 106.1h0M263.7 176.3h0M491.5 276.8h0M139.2 71.7h0M234.7 138.1h0M419.1 267.4h0M415.3 266.1h0M194.4 94.7h0M242.3 150.5h0M154.7 81.1h0M505.3 281.9h0M148.9 78.1h0M160.2 87.8h0M281.6 195.7h0M290.2 201.5h0M491.0 276.1h0M147.2 78.7h0M454.0 269.3h0M244.2 150.7h0M384.1 249.3h0M211.8 111.1h0M254.0 166.3h0M277.2 188.5h0M203.6 109.3h0M382.0 251.2h0M315.0 209.7h0M152.3 80.4h0M304.2 209.2h0M231.2 133.6h0M507.1 279.6h0M253.1 162.6h0M323.4 211.6h0M333.1 217.4h0M499.4 280.2h0M317.7 210.2h0M206.4 111.3h0M228.6 130.8h0M310.4 205.9h0M463.7 270.5h0M490.5 278.4h0M375.6 237.9h0M404.3 259.1h0M508.7 279.3h0"/>
<path class="d" stroke="#d62728" d="M161.9 89.7h0M246.2 153.8h0M510.2 281.7h0M512.5 283.1h0M191.1 112.9h0M383.7 253.6h0M216.3 121.1h0M198.4 96.4h0M228.1 127.9h0M273.6 187.4h0M221.1 122.2h0M373.4 234.1h0M493.7 276.5h0M249.6 158.9h0M144.8 78.6h0M468.4 269.8h0M129.3 62.7h0M495.9 278.6h0M194.7 97.1h0M318.1 213.3h0M134.5 68.5h0M256.4 171.2h0M401.6 245.3h0M473.4 269.1h0M352.4 226.9h0M495.6 277.5h0M194.9 97.3h0M299.4 207.7h0M406.5 261.5h0M227.1 125.5h0M286.4 197.9h0M291.5 200.9h0M346.5 226.3h0M180.4 105.4h0M416.1 264.1h0M510.5 284.5h0M189.8 112.4h0M374.6 233.0h0M299.9 205.9h0M312.6 210.6h0M253.7 161.7h0M269.8 181.4h0M375.4 235.2h0M299.4 209.3h0M180.0 102.1h0M291.4 199.8h0M475.5 273.0h0M498.1 280.7h0M191.4 116.0h0M323.3 214.6h0M509.7 280.4h0M213.1 113.4h0M281.4 194.6h0M369.3 232.6h0M244.6 152.4h0M162.2 87.5h0M377.6 241.4h0M245.2 151.1h0M498.5 280.9h0M203.8 109.1h0M499.2 277.3h0M212.6 114.9h0M460.1 266.8h0M139.0 76.8h0M267.9 181.8h0M402.8 246.0h0M512.3 285.3h0M508.8 278.7h0M193.6 95.5h0M498.8 278.9h0M134.1 70.9h0M210.1 112.6h0M227.3 126.8h0M480.8 269.5h0M506.9 282.2h0M225.1 125.9h0M357.0 233.7h0M472.9 268.5h0M277.1 192.2h0M355.0 230.4h0M142.9 76.2h0M123.0 61.8h0M406.4 260.9h0M161.5 87.9h0M307.9 210.1h0M260.2 174.8h0M281.1 194.9h0M484.7 275.8h0M181.3 103.4h0M279.7 190.6h0M173.2 97.8h0M403.7 259.0h0M292.6 200.7h0M305.8 205.9h0M155.5 79.2h0M229.3 129.4h0M457.1 267.7h0M412.2 261.9h0M268.2 178.1h0M170.8 94.8h0M138.9 71.4h0M481.9 273.2h0M322.3 213.6h0M317.6 206.9h0M163.3 92.5h0M272.1 185.3h0M253.0 168.6h0M349.9 225.1h0M477.6 271.4h0M455.3 265.0h0M155.5 83.9h0M273.5 185.3h0M470.1 269.6h0M155.6 80.9h0M396.2 244.8h0M380.6 252.6h0M183.0 106.5h0M343.4 226.1h0M490.0 275.0h0M239.3 144.3h0M309.2 207.6h0M407.2 261.2h0M214.8 112.8h0M284.4 197.4h0M462.4 267.2h0M170.6 94.2h0M452.7 265.1h0M461.9 268.3h0M506.9 281.4h0M512.7 282.2h0M458.9 267.3h0M249.7 158.3h0M275.5 188.6h0M497.0 273.4h0M343.3 229.0h0M166.2 93.3h0M235.3 140.6h0M358.1 229.6h0M316.4 207.6h0M510.8 284.7h0M380.3 251.5h0M301.9 209.1h0M285.8 196.4h0M302.7 209.5h0M512.7 284.8h0M467.2 270.1h0M418.8 265.1h0M384.8 253.8h0M491.6 277.5h0M406.8 261.2h0M492.7 271.9h0M243.6 151.2h0M498.7 279.1h0M418.2 264.5h0M377.6 237.9h0M129.8 66.6h0M171.4 96.9h0M256.9 171.7h0M303.1 205.8h0M353.5 230.3h0M355.6 234.1h0M222.4 122.9h0M143.8 74.8h0M485.6 274.5h0M267.4 179.5h0M170.3 98.3h0M166.7 92.2h0M485.5 274.3h0M297.3 204.2h0M186.4 108.6h0M501.1 275.8h0M276.6 187.7h0M336.1 220.4h0M292.6 199.3h0M251.0 160.1h0M272.5 186.8h0M130.1 64.8h0M176.1 97.6h0M411.3 259.3h0M131.1 64.1h0M154.4 84.9h0M150.7 78.5h0M274.3 185.5h0M375.5 239.2h0M230.3 133.8h0M513.3 284.4h0M205.6 112.6h0M215.9 114.6h0M379.1 249.1h0M240.8 145.1h0M232.4 136.2h0M177.4 99.2h0M186.6 111.0h0M298.2 198.3h0M204.4 106.7h0M415.7 263.1h0M177.5 104.1h0M495.6 274.7h0M126.8 62.9h0M246.5 154.3h0M154.4 84.9h0M315.4 213.6h0M163.4 90.1h0M358.2 227.3h0M269.2 184.7h0M246.7 154.6h0M251.3 162.5h0M356.6 229.2h0M322.1 210.9h0M401.9 245.3h0M131.1 63.6h0M268.8 183.9h0M296.8 203.4h0M251.9 162.4h0M186.3 109.2h0M157.6 86.5h0M136.5 72.0h0M248.5 158.1h0M200.1 102.1h0M186.4 112.2h0M135.8 70.1h0M418.9 264.2h0M387.7 253.6h0M416.6 263.6h0M310.9 207.3h0M405.7 260.2h0M134.4 69.6h0M193.5 93.3h0M419.5 263.4h0M220.2 119.9h0M163.3 89.9h0M407.3 264.1h0M352.8 225.5h0M219.6 121.0h0M207.3 109.3h0M229.5 126.3h0M194.1 97.1h0M256.2 169.6h0M256.0 171.4h0M378.7 242.1h0M412.5 262.4h0M321.5 215.5h0M467.4 270.2h0M341.1 223.9h0M223.9 120.8h0M204.9 107.3h0M402.3 246.6h0M230.6 129.4h0M212.2 109.0h0M506.6 283.8h0M223.5 125.5h0M466.2 268.9h0M502.5 282.1h0M465.0 265.9h0M353.0 225.4h0M468.1 271.2h0M478.2 273.5h0M265.5 180.3h0M178.6 100.7h0M142.3 75.0h0M400.0 246.8h0M457.9 266.0h0M413.3 266.1h0M195.0 96.8h0M265.4 180.5h0M153.3 81.6h0M215.3 116.6h0M219.6 118.6h0M261.7 177.0h0M205.4 107.6h0M289.0 195.1h0M170.1 92.8h0M513.5 282.3h0M143.6 74.1h0M214.3 111.5h0M335.7 220.0h0M237.8 141.9h0M264.4 179.2h0M129.2 62.6h0M409.3 259.4h0M323.9 213.7h0M184.0 106.7h0M274.6 186.9h0M263.9 178.1h0M131.9 67.8h0M138.2 71.7h0M349.3 228.3h0M272.5 187.5h0M272.9 185.2h0M271.2 186.0h0M287.8 197.8h0M348.3 225.2h0M457.0 262.3h0M276.1 186.0h0M308.7 205.4h0M149.9 74.9h0M189.7 113.8h0M475.1 272.0h0M279.1 191.3h0M245.3 153.5h0M267.9 179.8h0M126.7 64.6h0M259.5 176.3h0M340.9 224.8h0M413.3 262.5h0M228.3 130.3h0M375.4 236.1h0M421.1 268.4h0M244.6 154.5h0M248.5 158.2h0M262.4 177.2h0M250.8 162.9h0M411.1 261.5h0M337.8 227.1h0M351.9 228.4h0M133.6 69.5h0M480.6 271.8h0M256.4 168.3h0M242.3 148.1h0M502.0 278.1h0M224.7 126.4h0M253.8 165.8h0M200.2 100.8h0M407.9 261.2h0M501.2 277.4h0M160.0 86.4h0M406.5 259.5h0M176.3 100.8h0M366.0 233.4h0M452.4 260.7h0M377.3 239.7h0M492.3 276.1h0M361.2 233.0h0M189.8 113.1h0M358.4 231.2h0M370.9 234.9h0M315.3 208.4h0M510.6 280.6h0M467.0 269.5h0M506.4 276.4h0M409.9 264.6h0M378.7 251.8h0M249.1 156.0h0M126.3 63.7h0M227.8 127.1h0M301.3 208.2h0M358.3 229.0h0M357.9 229.1h0M276.4 190.2h0M506.2 280.7h0M455.1 264.6h0M241.0 147.8h0M155.7 83.6h0M131.5 70.4h0M192.0 116.0h0M375.6 238.4h0M287.0 196.2h0M129.6 67.0h0M490.0 273.9h0M341.5 224.8h0M320.3 212.3h0M290.1 200.8h0M265.0 177.4h0M489.6 272.9h0M247.2 155.9h0M334.1 220.5h0M204.9 105.5h0M421.7 266.6h0M224.5 125.6h0M363.5 232.1h0M271.2 184.7h0M165.0 91.7h0M334.8 219.9h0M399.5 246.7h0M415.5 266.6h0M476.4 268.3h0M221.1 121.6h0M135.2 69.1h0M491.6 274.6h0M402.9 244.6h0M227.1 122.8h0M317.0 212.5h0M489.3 273.1h0M201.3 100.1h0M462.9 265.8h0M363.8 234.1h0M355.7 226.4h0M303.6 206.7h0M185.7 108.2h0M344.6 224.4h0M498.7 277.2h0M506.6 281.3h0M408.5 259.5h0M319.4 215.2h0M258.2 172.3h0M422.3 272.6h0M155.6 80.9h0M261.5 174.6h0M192.6 118.7h0M491.3 273.3h0M495.2 275.6h0M470.8 271.4h0M457.0 267.5h0M243.3 152.3h0M475.3 273.5h0M490.0 277.6h0M411.6 263.7h0M338.3 221.3h0M334.8 222.3h0M220.1 120.6h0M171.4 97.1h0M170.7 94.5h0M185.9 109.7h0M151.7 81.5h0M292.7 203.9h0M190.7 113.9h0M320.1 211.7h0M231.6 129.7h0M236.0 136.3h0M299.8 202.1h0M473.9 270.2h0M503.6 278.2h0M149.7 83.0h0M198.2 101.0h0M144.5 75.7h0M220.2 122.5h0M475.8 269.9h0M243.5 152.4h0M122.8 61.2h0M166.4 93.7h0M350.6 227.1h0M318.4 212.7h0M142.2 75.4h0M149.3 79.6h0M196.7 96.6h0M387.5 256.1h0M258.2 168.1h0M261.8 176.1h0M482.4 272.5h0M194.7 97.2h0M122.5 59.0h0M283.3 191.7h0M313.3 211.1h0M458.3 268.0h0M294.2 201.8h0M416.1 264.4h0M352.7 226.2h0M240.5 144.9h0M352.9 227.1h0M401.4 247.6h0M201.1 103.6h0M376.3 238.6h0M503.1 279.9h0M159.0 87.4h0M514.1 286.7h0M354.6 226.3h0M127.7 64.1h0M186.7 108.2h0M171.1 95.4h0M458.4 266.6h0M266.1 178.8h0M414.7 263.6h0M416.8 265.5h0M165.5 85.6h0M379.2 252.1h0M291.7 200.1h0M471.9 269.6h0M477.1 269.7h0M138.6 73.0h0M257.6 169.2h0M356.6 231.2h0M479.6 269.8h0M135.5 68.2h0M248.3 157.7h0M277.6 184.5h0M385.6 252.9h0M296.1 204.2h0M175.5 99.3h0M342.1 221.4h0M403.3 247.8h0M189.7 110.7h0M453.0 268.7h0M352.8 226.2h0M293.4 201.5h0M460.9 267.3h0M466.0 267.3h0M308.8 208.6h0M206.5 105.7h0M165.3 91.9h0M403.3 249.6h0M144.1 77.3h0M341.7 226.0h0M250.3 158.1h0M322.9 211.9h0M473.8 270.2h0M259.7 175.5h0M508.2 282.6h0M130.5 66.4h0M511.7 280.1h0M351.7 226.9h0M477.0 269.6h0M360.1 229.1h0M348.6 224.9h0M279.1 189.5h0M480.5 272.9h0M277.2 190.8h0M180.7 105.9h0M511.9 280.9h0M208.1 112.3h0M296.1 203.1h0M217.1 118.9h0M203.7 104.3h0M218.6 116.5h0M477.7 272.0h0M123.2 62.7h0M164.0 89.8h0M314.5 209.8h0M144.6 77.1h0M473.1 270.0h0M159.2 85.2h0M198.9 105.2h0M134.0 73.6h0M215.2 117.0h0M192.8 117.1h0M171.4 95.2h0M193.8 95.9h0M485.0 275.8h0M281.5 192.2h0M455.0 261.4h0M459.0 269.3h0M213.1 114.5h0M414.3 263.8h0M206.2 107.8h0M477.6 271.5h0M395.7 244.3h0M148.6 78.8h0M377.8 242.6h0M348.4 226.5h0M500.6 277.1h0M477.8 272.2h0M375.8 239.9h0M220.3 119.8h0M471.4 270.8h0M265.8 177.1h0M418.8 264.8h0M170.2 95.3h0M460.2 267.2h0M351.3 223.1h0M130.3 66.8h0M251.6 165.5h0M335.5 220.5h0M285.7 195.2h0M412.9 260.6h0M195.1 98.4h0M322.1 209.3h0M174.5 100.9h0M297.2 203.0h0M382.3 252.6h0M339.9 221.6h0M214.6 113.8h0M302.6 207.4h0M163.9 90.5h0M285.7 199.8h0M208.6 106.4h0M308.6 205.9h0M271.9 187.7h0M218.0 116.5h0M154.9 81.4h0M357.8 234.9h0M476.9 268.2h0M409.4 259.8h0M240.4 147.3h0M510.6 281.0h0M458.1 264.0h0M336.5 226.6h0M196.8 96.5h0M322.1 215.9h0M285.8 193.8h0M122.4 55.3h0M145.0 78.2h0M315.9 209.9h0M271.8 185.5h0M203.1 106.4h0M507.1 283.1h0M364.6 233.4h0M378.2 239.6h0M215.6 113.8h0M353.5 225.9h0M501.3 282.0h0M461.0 267.4h0M322.2 210.5h0M355.6 229.8h0M131.2 68.2h0M201.3 103.8h0M205.1 110.4h0M380.9 249.3h0M476.5 272.4h0M307.9 207.3h0M294.8 200.5h0M159.2 84.9h0M150.2 82.4h0M180.0 105.4h0M305.2 208.1h0M364.1 230.9h0M418.3 263.4h0M344.7 225.9h0M387.7 255.0h0M254.0 166.7h0M455.9 267.7h0M472.9 270.6h0M345.1 221.4h0M251.4 161.7h0M192.7 114.5h0M228.4 127.8h0M409.4 259.9h0M239.7 143.9h0M260.6 174.5h0M255.7 168.9h0M257.2 171.0h0M496.2 279.0h0M227.2 125.6h0M181.8 106.0h0M215.4 113.3h0M417.6 264.5h0M217.5 119.0h0M193.9 98.7h0M218.5 120.8h0M511.2 284.4h0M174.6 97.7h0M470.9 268.5h0M160.7 90.2h0M305.2 206.3h0M201.3 101.0h0M222.7 120.0h0M179.4 105.7h0M457.7 271.6h0M231.9 135.6h0M513.8 280.9h0M133.3 68.9h0M246.5 155.5h0M308.2 210.2h0M479.2 270.8h0M216.1 115.3h0M133.8 70.0h0"/>
<path class="d" stroke="#9467bd" d="M150.7 61.7h0M468.0 288.6h0M469.9 295.3h0M509.6 297.9h0M214.7 115.6h0M510.1 295.5h0M385.3 253.0h0M402.5 264.4h0M438.6 280.7h0M244.1 151.1h0M407.1 270.7h0M386.5 260.6h0M488.4 294.0h0M432.2 279.1h0M403.1 264.8h0M158.3 67.2h0M479.8 296.9h0M133.0 52.7h0M474.4 287.8h0M506.8 299.1h0M453.5 285.2h0M481.8 291.0h0M162.6 69.8h0M216.0 119.4h0M246.9 153.4h0M464.4 290.9h0M441.9 282.9h0M323.3 219.1h0M243.8 146.7h0M285.9 184.7h0M136.8 58.5h0M313.2 210.0h0M186.0 90.2h0M269.7 175.3h0M390.6 261.8h0M482.7 290.0h0M369.3 250.5h0M315.3 212.6h0M466.3 289.9h0M195.6 99.5h0M145.6 59.5h0M358.4 244.0h0M169.8 75.2h0M147.6 63.6h0M431.7 275.7h0M272.7 175.9h0M124.5 48.0h0M277.1 180.4h0M191.9 98.9h0M140.6 60.9h0M375.0 258.3h0M228.9 135.2h0M310.3 207.3h0M489.6 291.9h0M460.4 286.8h0M432.2 279.1h0M482.9 290.2h0M235.3 135.8h0M380.2 257.2h0M352.6 235.0h0M242.9 147.0h0M277.7 180.2h0M514.0 297.4h0M203.0 107.0h0M455.7 284.2h0M480.7 289.9h0M330.9 224.2h0M206.9 106.4h0M416.9 270.8h0M281.4 186.1h0M444.0 283.0h0M474.6 291.5h0M452.2 283.8h0M220.4 123.2h0M260.3 164.9h0M399.4 262.3h0M361.9 247.7h0M444.3 282.6h0M428.5 273.8h0M341.8 233.0h0M382.8 255.4h0M503.7 294.5h0M272.2 172.9h0M326.0 219.4h0M330.1 224.7h0M154.9 69.2h0M341.0 237.5h0M497.7 291.4h0M452.3 285.0h0M457.4 289.4h0M420.8 272.4h0M439.1 279.6h0M236.4 144.7h0M193.9 96.5h0M310.4 209.2h0M469.7 288.1h0M123.6 46.9h0M471.0 292.7h0M282.3 183.0h0M386.0 257.2h0M439.2 281.9h0M466.7 288.8h0M254.9 161.7h0M459.7 288.8h0M392.9 262.0h0M328.8 222.6h0M266.2 171.1h0M498.5 293.8h0M265.0 167.7h0M311.5 211.8h0M140.4 57.3h0M398.8 263.9h0M375.2 255.3h0M217.8 119.8h0M463.7 287.3h0M318.7 217.4h0M354.6 242.5h0M152.6 66.8h0M200.9 105.9h0M139.3 58.3h0M207.3 109.4h0M250.7 154.4h0M226.2 133.6h0M321.9 216.1h0M325.1 223.5h0M270.1 172.4h0M458.6 287.2h0M463.0 291.5h0M268.9 171.7h0M432.2 273.9h0M208.2 109.7h0M266.9 166.5h0M511.8 297.8h0M147.5 61.8h0M410.8 268.1h0M205.6 108.6h0M449.8 280.7h0M250.6 155.2h0M126.7 48.3h0M373.1 258.1h0M247.1 152.2h0M247.3 153.5h0M436.8 280.0h0M308.9 202.7h0M241.4 146.4h0M416.0 270.4h0M435.0 277.6h0M276.5 178.4h0M240.3 143.3h0M317.1 214.2h0M170.0 73.9h0M277.6 177.6h0M158.8 67.4h0M127.2 50.7h0M465.2 288.5h0M244.4 147.2h0M195.2 101.5h0M356.8 244.7h0M487.5 295.8h0M466.4 289.1h0M439.8 280.8h0M364.7 251.4h0M288.4 192.8h0M277.1 179.2h0M142.2 59.8h0M433.2 279.8h0M141.8 65.1h0M344.8 238.3h0M284.1 187.9h0M257.6 163.4h0M514.5 302.3h0M324.8 220.5h0M136.5 54.7h0M419.5 269.0h0M319.4 219.3h0M348.8 242.4h0M183.6 85.8h0M499.2 294.9h0M230.3 136.3h0M513.6 295.2h0M407.4 270.0h0M157.7 68.1h0M214.7 117.0h0M368.3 252.1h0M198.9 102.3h0M312.4 208.5h0M144.2 60.0h0M382.2 257.3h0M333.6 229.5h0M421.7 277.5h0M237.1 140.0h0M225.0 131.3h0M145.8 64.0h0M367.0 251.6h0M336.3 229.2h0M412.6 268.8h0M272.7 176.6h0M479.1 292.7h0M314.7 210.7h0M186.6 90.6h0M352.6 244.1h0M410.2 266.9h0M372.6 256.3h0M430.4 273.4h0M381.1 256.7h0M482.7 293.9h0M227.3 132.9h0M168.1 72.1h0M369.3 253.1h0M381.4 259.9h0M462.0 288.5h0M273.5 172.7h0M280.6 183.0h0M163.2 67.6h0M424.2 271.7h0M146.2 63.8h0M167.7 68.4h0M463.5 289.2h0M423.4 277.6h0M506.5 296.7h0M284.3 189.4h0M500.4 295.7h0M165.9 68.0h0M330.0 224.3h0M355.0 241.9h0M468.5 286.0h0M348.6 238.7h0M318.6 214.3h0M153.5 68.2h0M445.3 281.3h0M378.7 254.4h0M338.3 231.1h0M321.3 218.8h0M424.4 275.0h0M328.4 221.0h0M457.8 291.4h0M444.2 281.6h0M396.4 262.0h0M268.4 172.8h0M231.1 132.9h0M418.8 271.8h0M319.6 214.4h0M212.5 115.1h0M245.2 151.7h0M143.8 62.5h0M339.8 237.2h0M246.2 154.2h0M221.5 122.0h0M408.5 267.1h0M340.6 232.5h0M411.3 267.9h0M351.1 239.7h0M312.3 208.1h0M255.8 154.7h0M462.1 289.1h0M419.0 273.9h0M404.3 265.2h0M215.2 121.0h0M279.6 182.6h0M487.2 292.1h0M323.4 214.4h0M356.1 244.9h0M230.3 133.9h0M427.5 275.5h0M133.1 53.7h0M269.3 171.8h0M365.8 246.1h0M356.1 250.7h0M373.0 251.5h0M354.8 242.0h0M414.9 272.0h0M126.5 50.1h0M355.0 243.1h0M482.6 290.9h0M361.5 247.6h0M157.6 67.3h0M469.8 286.3h0M312.0 205.9h0M500.8 298.1h0M202.2 105.8h0M394.7 262.3h0M352.4 242.8h0M161.4 68.1h0M511.9 294.9h0M480.8 295.4h0M144.9 63.7h0M438.9 282.3h0M449.9 283.7h0M396.3 265.8h0M126.4 49.8h0M277.6 177.7h0M222.6 125.6h0M358.9 246.6h0M480.4 292.2h0M186.4 97.2h0M143.9 63.6h0M345.9 242.4h0M153.0 66.6h0M462.3 284.6h0M349.9 241.1h0M392.0 264.6h0M423.4 268.2h0M320.3 216.9h0M166.3 69.5h0M151.2 67.8h0M138.8 56.0h0M446.4 282.9h0M469.6 285.4h0M396.6 263.7h0M288.8 186.1h0M413.4 274.2h0M192.3 95.4h0M137.2 58.0h0M504.1 294.3h0M451.0 284.5h0M204.5 108.7h0M253.4 160.7h0M475.1 288.3h0M505.9 296.8h0M345.5 236.2h0M352.4 243.3h0M352.4 243.9h0M489.2 296.5h0M336.8 232.3h0M463.1 288.5h0M201.4 106.4h0M407.5 268.7h0M153.5 69.1h0M345.0 236.7h0M421.3 272.2h0M446.0 284.5h0M213.7 117.3h0M364.9 249.5h0M213.4 112.7h0M448.0 283.0h0M310.6 208.3h0M326.8 221.2h0M481.1 293.1h0M216.1 121.4h0M373.9 251.7h0M465.7 291.4h0M167.5 75.1h0M482.2 293.4h0M500.6 298.2h0M337.2 230.0h0M245.9 151.9h0M399.3 266.4h0M375.4 253.0h0M336.8 229.9h0M513.2 299.9h0M335.1 230.9h0M259.8 171.6h0M205.6 108.5h0M205.6 108.0h0M132.2 53.2h0M309.9 206.5h0M170.5 72.5h0M259.0 161.5h0M124.7 49.2h0M183.2 85.7h0M243.9 148.3h0M388.5 262.9h0M378.0 256.3h0M475.1 290.6h0M427.0 275.9h0M482.2 292.0h0M503.9 296.9h0M485.4 288.9h0M247.0 154.6h0M219.8 127.2h0M369.4 252.8h0M403.2 267.5h0M186.2 87.7h0M340.1 234.4h0M144.1 61.0h0M249.8 153.1h0M367.2 247.0h0M420.5 270.6h0M473.9 289.9h0M377.3 255.9h0M210.1 113.4h0M335.3 234.2h0M321.2 222.0h0M388.1 262.8h0M513.1 301.6h0M510.9 302.1h0M142.1 58.8h0M392.7 266.0h0M466.1 292.1h0M496.3 295.6h0M342.0 237.4h0M338.6 230.0h0M378.4 258.5h0M166.6 72.4h0M374.4 255.2h0M311.4 211.3h0M143.6 61.0h0M349.5 238.4h0M247.3 154.4h0M394.1 266.2h0M139.7 58.1h0M470.5 291.0h0M210.6 116.5h0M413.0 269.7h0M264.5 170.3h0M270.4 170.7h0M183.5 88.2h0M335.3 228.1h0M467.7 289.8h0M445.1 282.6h0M187.1 89.6h0M466.1 288.9h0M329.9 226.1h0M410.6 266.4h0M392.9 267.9h0M344.1 238.8h0M451.3 288.5h0M415.2 271.7h0M354.5 241.7h0M466.6 291.4h0M467.9 288.0h0M512.6 295.9h0M284.9 183.5h0M470.9 288.2h0M153.7 69.1h0M389.5 262.1h0M203.0 106.4h0M409.4 270.2h0M501.4 294.1h0M226.2 131.7h0M445.0 286.5h0M241.2 144.2h0M436.1 280.0h0M158.6 64.8h0M387.0 260.9h0M411.7 270.2h0M151.6 69.0h0M472.1 285.8h0M385.7 259.2h0M158.0 72.1h0M136.1 56.2h0M211.1 114.7h0M461.4 284.6h0M162.5 66.4h0M274.5 174.9h0M286.1 185.5h0M355.6 243.2h0M335.9 231.0h0M140.7 57.5h0M133.3 54.8h0M233.1 134.8h0M289.3 188.7h0M441.2 281.2h0M324.4 217.1h0M252.5 157.1h0M364.3 250.7h0M365.6 251.4h0M237.2 142.6h0M450.9 283.8h0M416.4 273.1h0M261.4 167.3h0M439.6 283.5h0M478.4 290.3h0M145.8 61.1h0M477.3 295.9h0M154.4 67.7h0M382.4 259.2h0M404.9 270.1h0M349.6 241.6h0M332.7 228.2h0M494.0 289.1h0M468.1 288.0h0M354.8 246.4h0M380.6 256.8h0M129.5 51.5h0M141.2 57.2h0M247.8 152.9h0M239.3 144.9h0M326.5 223.5h0M396.3 262.2h0M156.1 69.8h0M226.3 132.5h0M222.8 126.7h0M188.7 99.3h0M260.9 165.3h0M314.2 206.9h0M515.0 298.3h0M353.9 242.8h0M271.8 173.1h0M216.1 120.6h0M192.5 102.9h0M508.5 296.3h0M374.5 253.1h0M158.0 63.3h0M130.6 52.5h0M468.6 289.6h0M277.4 178.2h0M345.4 238.1h0M488.5 294.5h0M456.1 285.7h0M438.3 277.5h0M421.8 273.3h0M454.5 284.2h0M126.7 48.5h0M420.2 271.0h0M415.5 274.6h0M420.9 271.3h0M391.9 262.7h0M127.0 53.1h0M481.7 292.4h0M244.3 149.2h0M475.7 292.5h0M254.8 159.6h0M405.4 269.0h0M509.8 295.1h0M217.2 121.7h0M466.2 288.4h0M466.0 289.9h0M432.4 277.7h0M135.6 54.7h0M484.1 290.5h0M481.7 289.0h0M326.6 225.8h0M243.5 145.9h0M200.3 104.8h0M446.3 282.9h0M278.0 179.5h0M431.2 279.9h0M361.7 246.9h0M473.4 289.6h0M324.8 220.2h0M228.3 134.5h0M470.1 292.6h0M308.4 204.6h0M381.1 254.7h0M507.7 295.9h0M356.3 248.0h0M512.5 296.8h0M428.9 274.4h0M216.0 116.6h0M437.6 281.1h0M207.8 106.8h0M216.7 120.2h0M145.8 60.2h0M368.0 253.4h0M399.2 266.2h0M462.7 286.3h0M512.5 299.0h0M354.3 242.4h0M454.6 287.4h0M467.1 291.4h0M507.6 292.8h0M216.2 118.9h0M432.4 279.2h0M369.8 246.5h0M366.1 252.9h0M149.6 63.2h0M210.6 113.5h0M419.8 275.4h0M147.7 64.5h0M194.6 100.9h0M133.1 50.8h0M437.8 277.5h0M403.5 268.4h0M467.0 286.4h0M409.6 272.4h0M283.4 187.3h0M485.7 296.2h0M168.3 72.2h0M473.5 289.8h0M217.9 121.4h0M504.8 293.0h0M415.7 272.4h0M406.9 269.2h0M218.8 125.6h0M277.1 180.7h0M365.8 250.0h0M267.0 170.5h0M399.8 265.3h0M262.3 167.2h0M351.9 244.8h0M139.2 59.9h0M331.3 226.3h0M386.6 262.9h0M398.3 268.1h0M494.4 294.5h0M199.0 103.1h0M154.2 65.5h0M399.3 269.4h0M211.8 114.8h0M185.7 90.8h0M332.4 228.6h0M271.0 176.1h0M362.2 249.7h0M320.7 216.7h0M270.7 172.4h0M328.8 226.1h0M224.1 128.8h0M278.5 177.8h0M220.4 122.1h0M372.4 254.4h0M445.6 284.4h0M341.4 234.6h0M481.4 291.9h0M471.5 293.0h0M410.7 268.5h0M477.8 292.7h0M253.8 161.0h0M409.2 272.8h0M360.4 248.3h0M204.6 107.8h0M371.1 252.6h0M161.9 67.3h0M400.4 269.1h0M357.2 243.6h0M356.2 247.3h0M281.0 183.1h0M459.3 288.6h0M390.8 262.4h0M424.2 272.9h0M221.2 121.1h0M476.6 287.1h0M311.2 209.2h0M458.6 288.8h0M338.4 232.4h0M508.9 298.8h0M135.8 52.4h0M142.0 57.3h0M313.9 208.9h0M362.5 246.7h0M339.7 236.1h0M277.5 178.6h0M334.5 227.4h0M185.2 91.7h0M430.8 282.6h0M512.0 296.5h0M483.9 294.0h0M188.2 90.5h0M336.5 229.8h0M381.7 256.9h0M350.4 234.9h0M394.8 260.6h0M128.4 51.4h0M150.1 64.1h0M271.6 169.7h0M367.6 248.7h0M388.4 260.2h0M396.1 263.6h0M185.7 84.6h0M209.1 115.3h0M427.5 272.5h0M453.3 285.5h0M356.5 240.6h0M133.5 54.4h0M318.5 217.2h0M426.7 279.1h0M346.7 239.7h0M393.0 263.1h0M245.9 157.8h0M238.6 144.5h0M262.9 170.0h0M443.0 282.0h0M360.5 246.5h0M239.5 147.4h0M396.6 267.3h0M491.0 295.7h0M382.6 258.8h0M257.1 156.7h0M338.9 232.0h0M448.3 281.9h0M511.3 294.3h0M397.4 268.0h0M492.5 293.9h0M330.3 223.6h0M224.7 130.3h0M430.7 274.6h0M339.2 232.1h0M511.3 295.2h0M339.4 235.5h0M453.4 282.6h0M408.5 269.8h0M494.2 294.8h0M443.1 283.4h0M185.3 90.6h0M257.9 159.1h0M486.1 291.2h0M227.7 129.2h0M513.8 297.0h0M320.8 218.4h0M324.9 220.4h0M137.0 56.4h0M430.4 275.5h0M247.2 149.7h0M201.3 107.2h0M204.6 108.2h0M221.2 124.9h0M402.6 267.0h0M183.7 83.9h0M384.9 261.1h0M240.7 144.5h0M326.9 222.2h0M315.8 215.4h0M148.1 63.6h0M320.5 216.7h0M409.9 269.5h0M421.1 271.1h0M450.3 284.5h0M432.7 277.8h0M365.8 245.8h0M507.6 297.4h0M377.0 253.0h0M473.9 292.7h0M409.8 266.9h0M482.8 295.9h0M351.9 242.4h0M170.7 77.0h0M505.3 299.4h0M169.1 74.0h0M310.4 208.7h0M128.4 53.7h0M212.8 117.2h0M168.6 73.5h0M381.3 258.3h0M263.1 169.2h0M260.0 163.6h0M419.6 272.5h0M415.4 271.0h0M215.0 120.8h0M314.4 211.5h0M125.3 50.1h0M232.9 137.5h0M219.5 120.1h0M388.6 258.4h0M457.8 285.5h0M123.3 51.4h0M240.3 144.6h0M373.5 251.2h0M402.2 267.6h0M280.7 183.2h0M231.3 140.9h0M417.0 273.5h0M209.3 112.4h0M391.5 261.3h0M234.4 136.9h0M491.8 294.2h0M346.3 238.7h0M447.6 286.5h0M236.0 139.9h0M398.7 267.9h0M475.7 291.5h0M378.0 257.7h0M166.2 68.9h0M465.6 286.6h0M212.1 117.3h0M188.8 94.3h0M286.5 186.2h0M321.3 217.7h0M419.1 276.4h0M395.4 264.9h0M454.4 284.4h0M194.3 98.0h0M343.2 234.8h0M502.7 293.2h0M349.3 242.0h0M495.9 297.2h0M501.8 293.9h0M200.9 102.4h0M359.7 251.2h0M415.6 268.8h0M445.3 281.9h0M271.2 171.0h0M407.8 267.9h0M428.9 280.4h0M207.8 112.6h0M484.5 289.3h0M422.4 271.2h0M244.9 151.7h0M381.3 258.7h0M352.4 241.3h0M325.4 219.5h0M228.2 134.7h0M447.1 283.2h0M510.2 296.8h0M267.7 172.0h0M193.6 99.8h0M258.1 160.0h0M429.5 274.9h0M515.9 298.2h0M342.5 238.7h0M216.4 120.5h0M265.6 170.4h0M411.4 269.3h0M287.8 189.4h0M403.6 265.9h0M452.0 282.9h0M169.4 74.0h0M241.3 146.7h0M403.7 268.0h0M402.5 269.6h0M470.8 288.4h0M470.5 292.1h0M437.4 282.3h0M374.4 256.6h0M124.9 46.7h0M285.2 185.8h0M311.7 207.0h0M326.2 223.6h0M512.1 296.4h0M456.4 286.1h0M286.2 186.0h0M222.1 126.8h0M474.3 288.1h0M127.6 50.8h0M388.3 261.4h0M491.8 293.9h0M261.7 162.2h0M427.2 273.9h0M473.6 286.6h0M183.7 83.7h0M222.0 127.9h0M391.0 263.1h0M426.4 269.8h0M132.3 51.6h0M282.1 186.3h0M157.2 68.4h0M323.1 215.3h0M449.3 287.2h0M383.0 256.9h0M288.1 190.1h0M511.6 299.0h0M415.0 274.5h0M269.5 173.6h0M369.0 256.0h0M146.6 62.0h0M501.4 295.9h0M199.9 102.5h0M495.4 293.6h0M426.7 272.9h0M168.3 75.5h0M260.2 164.6h0M492.5 291.8h0M364.1 243.7h0M352.9 241.8h0M207.9 110.1h0M162.9 68.0h0M404.9 265.4h0M190.2 95.4h0M259.5 166.1h0M368.5 250.1h0M364.3 245.1h0M147.1 62.1h0M365.9 246.3h0M195.0 99.5h0M243.3 149.2h0M229.3 133.5h0M336.5 230.6h0M476.2 293.9h0M323.3 220.3h0M162.0 72.7h0M323.7 218.7h0M193.8 99.6h0M475.5 295.0h0M253.4 154.3h0M141.5 58.2h0M391.6 265.3h0M511.8 294.6h0M254.0 156.3h0M227.6 132.4h0M188.5 93.3h0M231.2 135.2h0M126.4 47.8h0M454.8 284.5h0M387.4 261.1h0M308.4 206.7h0M377.6 255.5h0M289.0 188.9h0M407.4 270.1h0M498.9 295.0h0M447.3 285.4h0M460.8 287.7h0M485.0 294.2h0M482.8 292.4h0M483.6 292.0h0M497.5 291.7h0M403.4 268.3h0M163.6 66.6h0M478.9 294.4h0M463.8 289.0h0M318.1 216.7h0M196.8 101.6h0M467.3 289.0h0M363.5 249.2h0M477.2 289.0h0M489.6 294.9h0M430.9 276.9h0M308.8 210.8h0M131.0 54.3h0M195.0 100.3h0M458.9 288.0h0M499.4 297.1h0M168.4 76.7h0M320.9 218.2h0M501.5 295.5h0M413.6 271.9h0M217.2 125.0h0M382.5 256.6h0M428.0 273.2h0M190.1 96.1h0M382.9 259.1h0M232.6 139.6h0M480.3 289.8h0M251.8 159.1h0M396.9 263.4h0M147.2 62.4h0M201.6 104.6h0M334.1 226.3h0M251.1 156.9h0M424.4 276.9h0M331.8 230.3h0M168.2 72.5h0M387.6 264.0h0M330.2 228.2h0M454.1 282.8h0M278.7 183.5h0M420.9 273.2h0M274.5 175.0h0M247.2 149.0h0M153.6 63.8h0M493.1 288.0h0M230.6 135.5h0M477.2 289.6h0M352.1 240.5h0M210.2 117.6h0M465.4 287.4h0M435.8 278.7h0M497.4 297.8h0M126.6 49.5h0M236.2 143.7h0M165.0 72.4h0M318.8 216.1h0M365.2 250.1h0M428.9 275.7h0"/>
<path class="d" stroke="#9467bd" d="M413.1 271.9h0M344.3 234.5h0M213.4 118.7h0M218.7 124.1h0M345.8 236.5h0M144.3 61.4h0M338.8 233.3h0M195.7 102.3h0M140.1 58.8h0M477.5 290.0h0M308.5 206.5h0M315.7 209.6h0M388.5 262.4h0M271.0 174.2h0M211.9 114.0h0M268.3 170.5h0M318.2 210.8h0M256.9 166.6h0M199.9 103.2h0M461.9 285.4h0M313.0 210.3h0M217.5 121.8h0M458.7 290.3h0M458.1 286.1h0M370.1 249.9h0M479.7 289.7h0M137.2 57.8h0M141.9 57.9h0M465.4 289.7h0M407.4 271.1h0M213.4 119.1h0M464.2 286.9h0M491.3 294.5h0M353.3 241.9h0M123.3 47.8h0M201.3 105.0h0M512.3 294.0h0M319.1 214.1h0M257.0 160.8h0M338.7 230.4h0M229.5 131.5h0M433.5 276.9h0M380.7 256.1h0M486.4 294.5h0M284.0 182.2h0M401.9 268.6h0M157.1 67.2h0M454.9 288.5h0M131.5 54.1h0M459.8 289.9h0M159.7 69.3h0M335.2 231.2h0M352.4 241.2h0M450.9 285.0h0M214.7 122.5h0M423.8 271.8h0M490.5 291.1h0M194.6 103.6h0M201.7 103.9h0M366.4 252.2h0M139.8 59.9h0M170.5 76.0h0M354.8 246.3h0M485.7 288.7h0M318.9 215.7h0M270.0 173.5h0M130.1 51.3h0M202.5 108.4h0M130.5 54.5h0M242.4 146.0h0M326.3 220.6h0M407.0 264.9h0M154.0 65.0h0M355.2 241.2h0M502.6 295.2h0M196.1 98.0h0M161.1 68.5h0M320.5 216.8h0M411.3 269.2h0M369.0 251.1h0M265.0 169.2h0M428.0 275.7h0M228.2 133.8h0M287.2 188.0h0M425.7 274.0h0M216.0 119.2h0M476.0 291.1h0M355.8 240.9h0M266.2 164.9h0M415.9 273.7h0M195.2 99.2h0M282.4 184.2h0M503.4 295.5h0M420.5 272.6h0M231.1 139.1h0M337.5 231.1h0M188.1 95.1h0M166.7 71.4h0M202.6 103.2h0M496.0 296.0h0M360.4 249.2h0M218.9 119.2h0M260.2 166.0h0M338.6 228.8h0M400.8 266.9h0M352.8 242.4h0M477.7 290.8h0M228.0 132.6h0M263.4 166.3h0M160.5 70.1h0M190.2 95.8h0M325.8 221.8h0M186.4 89.0h0M143.1 61.6h0M417.5 268.1h0M138.1 59.9h0M323.5 218.4h0M187.7 90.6h0M359.3 246.5h0M255.7 162.2h0M217.3 122.8h0M165.6 68.7h0M512.3 297.7h0M394.7 266.0h0M185.6 88.1h0M309.7 204.7h0M330.5 225.1h0M470.1 287.3h0M196.5 100.2h0M225.8 132.2h0M401.3 270.0h0M158.3 71.2h0M364.2 248.8h0M480.2 287.1h0M369.7 252.7h0M185.2 90.5h0M316.4 215.7h0M329.2 227.1h0M124.0 46.3h0M273.1 175.4h0M378.8 257.4h0M350.8 239.7h0M370.8 251.1h0M331.7 226.3h0M435.5 277.9h0M442.7 281.7h0M289.4 186.5h0M246.5 154.3h0M496.6 294.9h0M508.8 294.8h0M157.1 66.1h0M474.3 293.4h0M158.7 69.7h0M443.9 281.2h0M397.3 263.7h0M413.7 272.7h0M166.4 71.5h0M208.1 111.9h0M201.0 104.2h0M502.8 291.5h0M376.4 252.1h0M412.2 269.6h0M201.4 106.1h0M166.6 70.3h0M230.0 132.7h0M267.2 172.6h0M193.8 92.9h0M435.8 278.9h0M514.0 299.7h0M325.5 220.6h0M478.4 291.8h0M288.5 191.1h0M371.9 252.2h0M461.3 287.7h0M309.2 207.9h0M348.2 241.3h0M328.7 222.9h0M281.6 182.8h0M143.9 63.0h0M440.5 279.2h0M476.3 288.5h0M169.3 74.8h0M238.0 143.1h0M351.6 240.3h0M408.2 270.8h0M144.2 56.5h0M470.9 289.1h0M183.2 88.8h0M187.4 90.5h0M372.5 251.3h0M285.1 184.2h0M220.7 124.4h0M308.1 207.4h0M323.7 225.3h0M155.4 64.1h0M324.9 218.0h0M388.2 262.1h0M497.0 291.8h0M484.2 289.5h0M363.8 248.4h0M422.6 271.9h0M207.1 110.6h0M149.7 60.9h0M246.4 147.9h0M398.8 270.4h0M133.5 52.8h0M371.1 253.2h0M280.6 181.4h0M149.0 65.3h0M282.8 180.2h0M331.2 227.7h0M504.6 296.2h0M384.7 258.6h0M231.2 139.4h0M273.5 171.8h0M236.2 137.3h0M339.7 233.4h0M417.3 271.4h0M443.6 283.6h0M211.8 112.1h0M407.5 269.8h0M189.7 93.1h0M468.1 290.9h0M283.9 184.9h0M492.7 290.3h0M433.8 278.0h0M432.4 276.3h0M457.0 286.4h0M207.5 109.9h0M215.9 120.6h0M131.6 49.1h0M234.3 137.8h0M222.6 126.2h0M336.9 229.3h0M155.7 67.1h0M428.5 273.7h0M469.1 291.3h0M502.6 290.8h0M480.4 292.4h0M330.3 226.9h0M488.1 291.6h0M514.7 297.4h0M497.6 292.3h0M362.0 248.9h0M465.4 286.3h0M478.2 295.9h0M275.1 181.3h0M269.0 167.5h0M336.7 233.6h0M143.4 61.4h0M502.8 292.7h0M265.1 167.7h0M400.1 268.8h0M221.0 125.6h0M442.4 281.5h0M386.6 259.3h0M393.4 263.4h0M188.2 92.9h0M442.2 281.5h0M255.8 160.6h0M392.9 261.9h0M261.9 166.3h0M504.4 299.1h0M485.7 291.2h0M377.5 260.1h0M473.7 291.2h0M201.6 106.5h0M488.5 289.5h0M431.9 278.0h0M332.3 232.2h0M227.7 131.4h0M380.6 257.9h0M483.8 292.0h0M383.4 257.5h0M278.6 178.3h0M352.4 239.8h0M140.3 60.2h0M422.8 273.5h0M165.2 71.7h0M183.0 86.1h0M387.5 261.6h0M452.3 285.5h0M382.3 256.4h0M316.7 210.5h0M502.7 295.2h0M389.3 258.9h0M278.7 178.6h0M414.2 271.2h0M184.5 84.4h0M345.3 237.7h0M222.3 127.8h0M396.7 269.3h0M273.4 172.9h0M276.9 179.6h0M349.8 241.1h0M312.0 209.5h0M188.5 90.7h0M126.5 51.3h0M139.4 55.6h0M137.8 57.3h0M328.0 223.5h0M262.5 167.6h0M364.3 248.4h0M433.4 278.3h0M511.7 293.6h0M336.4 231.7h0M152.6 63.7h0M362.3 246.6h0M341.3 228.4h0M146.9 65.6h0M344.6 236.4h0M417.4 271.5h0M403.3 270.9h0M340.3 232.9h0M349.4 240.8h0M234.1 139.3h0M381.3 260.2h0M250.2 151.0h0M439.0 280.8h0M510.5 299.0h0M502.3 298.0h0M195.4 97.3h0M255.6 159.8h0M424.6 272.2h0M326.0 219.3h0M484.2 292.5h0M221.9 125.3h0M391.4 264.6h0M400.9 266.3h0M123.0 47.8h0M246.2 147.9h0M236.4 139.2h0M183.6 91.2h0M123.5 45.0h0M203.6 104.8h0M272.7 177.7h0M227.4 133.5h0M386.2 258.5h0M133.9 52.5h0M251.5 156.7h0M488.0 294.2h0M191.2 95.3h0M448.6 282.9h0M489.9 293.1h0M263.8 168.7h0M170.0 72.9h0M384.8 260.8h0M456.9 288.6h0M364.2 246.4h0M430.1 278.0h0M154.3 67.6h0M411.2 266.0h0M507.7 294.3h0M197.5 99.9h0M344.7 234.2h0M240.2 143.0h0M475.3 292.7h0M460.6 288.6h0M391.0 262.8h0M200.2 103.4h0M442.5 283.7h0M425.5 275.7h0M325.5 218.8h0M368.8 250.5h0M285.4 188.7h0M412.0 270.2h0M185.5 88.5h0M450.7 284.7h0M168.1 70.0h0M353.5 246.1h0M364.4 246.8h0M459.7 292.2h0M155.0 65.8h0M365.7 253.7h0M451.1 286.7h0M334.2 231.1h0M450.1 284.0h0M350.4 242.5h0M281.2 185.0h0M128.7 51.0h0M315.8 211.9h0M475.3 294.7h0M135.5 54.1h0M414.5 273.9h0M446.6 286.7h0M357.7 243.3h0M284.0 185.4h0M459.2 286.5h0M486.0 291.6h0M393.5 264.4h0M153.7 67.5h0M457.2 286.4h0M161.0 68.4h0M353.2 241.0h0M244.4 148.4h0M437.0 280.2h0M510.9 299.0h0M151.4 66.5h0M135.7 56.4h0M358.1 245.7h0M436.8 279.1h0M317.9 213.6h0M377.6 258.1h0M470.5 288.4h0M430.6 278.3h0M369.0 252.0h0M406.4 268.2h0M455.7 291.3h0M392.6 261.8h0M487.1 290.9h0M191.8 97.4h0M274.6 177.5h0M472.9 288.8h0M190.1 91.1h0M234.6 141.5h0M225.3 131.5h0M334.1 230.3h0M402.5 266.3h0M347.3 241.7h0M393.9 263.3h0M281.6 185.8h0M486.6 293.7h0M320.3 220.4h0M226.9 133.8h0M267.9 173.1h0M265.5 165.0h0M378.1 260.0h0M503.3 294.3h0M255.3 160.4h0M448.9 281.3h0M350.9 243.1h0M208.8 110.8h0M453.7 284.6h0M233.4 136.4h0M125.2 50.4h0M320.8 219.1h0M251.5 156.0h0M395.9 263.8h0M240.8 143.4h0M275.3 171.9h0M359.4 248.8h0M332.5 225.9h0M453.0 283.2h0M346.6 234.8h0M421.2 274.7h0M152.7 67.6h0M275.4 180.4h0M458.8 287.5h0M258.1 164.4h0M316.9 213.6h0M277.5 174.7h0M442.6 284.3h0M170.9 73.4h0M504.4 300.7h0M496.2 293.8h0M383.9 262.4h0M124.8 49.7h0M506.4 299.5h0M466.8 284.3h0M455.7 288.3h0M146.4 61.5h0M260.1 163.6h0M488.5 294.9h0M228.3 130.1h0M234.4 137.6h0M427.9 277.1h0M429.5 277.7h0M187.1 90.2h0M399.7 267.4h0M327.5 222.1h0M377.1 256.8h0M212.9 116.6h0M436.8 281.9h0M261.1 165.4h0M429.5 275.6h0M145.7 57.6h0M311.6 209.4h0M439.4 279.3h0M480.6 291.4h0M289.1 186.8h0M437.1 279.6h0M459.2 291.6h0M370.2 254.8h0M385.8 258.9h0M427.5 272.9h0M213.4 114.7h0M285.0 183.5h0M472.9 288.2h0M189.0 96.6h0M420.5 270.3h0M419.6 270.1h0M416.7 270.9h0M417.6 269.1h0M244.8 147.6h0M504.3 295.9h0M493.2 294.4h0M339.5 235.7h0M400.4 264.8h0M473.2 288.6h0M451.6 282.8h0M126.4 49.1h0M356.2 242.0h0M500.1 296.9h0M395.3 264.3h0M498.4 292.0h0M393.0 264.2h0M256.9 159.3h0M457.3 283.6h0M144.5 58.8h0M223.9 128.5h0M190.2 93.3h0M508.2 294.4h0M434.8 276.9h0M287.9 189.5h0M324.5 220.3h0M487.7 290.3h0M128.1 52.1h0M237.6 141.4h0M332.5 226.4h0M141.4 61.2h0M445.9 283.0h0M346.5 240.2h0M267.0 173.0h0M271.1 171.7h0M377.5 256.9h0M153.3 66.4h0M367.9 249.0h0M463.0 288.0h0M223.4 129.1h0M469.1 291.8h0M411.8 269.7h0M339.7 230.3h0M427.7 276.2h0M241.1 143.7h0M437.5 279.4h0M225.0 127.2h0M375.5 256.0h0M131.5 52.0h0M200.5 104.1h0M396.5 264.1h0M459.3 285.0h0M280.8 182.0h0M132.7 56.4h0M338.2 234.1h0M287.9 187.4h0M438.6 279.3h0M125.8 47.7h0M455.2 290.7h0M205.4 106.4h0M499.4 295.3h0M367.6 252.9h0M257.6 163.3h0M208.3 111.1h0M495.4 296.2h0M311.7 211.0h0M505.5 295.2h0M274.3 175.3h0M202.4 104.0h0M383.9 264.2h0M288.9 190.9h0M366.9 251.7h0M198.3 103.2h0M345.9 241.9h0M368.2 248.8h0M504.3 296.8h0M509.0 302.4h0M194.6 101.0h0M329.3 222.0h0M423.8 272.0h0M199.6 111.4h0M435.9 279.0h0M366.3 249.0h0M369.8 251.0h0M311.7 207.3h0M129.6 51.9h0M195.7 99.6h0M242.0 148.1h0M499.2 295.9h0M480.7 288.6h0M505.6 293.4h0M391.2 263.1h0M189.8 93.5h0M312.6 207.7h0M260.6 164.3h0M288.4 188.6h0M267.0 169.1h0M344.2 237.3h0M124.8 51.6h0M331.3 230.8h0M398.3 267.9h0M356.5 242.9h0M383.9 260.4h0M419.5 268.7h0M327.1 222.1h0M161.3 67.5h0M372.4 251.9h0M250.5 153.3h0M217.4 117.9h0M133.0 57.0h0M424.6 274.5h0M371.2 252.0h0M490.6 295.0h0M253.6 155.7h0M196.6 102.7h0M217.0 121.5h0M385.2 258.4h0M284.6 187.0h0M480.1 291.5h0M405.6 270.6h0M338.1 232.2h0M440.7 280.0h0M472.5 289.7h0M193.0 94.7h0M265.3 170.9h0M247.5 156.1h0M220.8 127.9h0M441.9 276.1h0M467.0 290.0h0M449.7 282.0h0M231.7 134.7h0M140.4 62.1h0M225.7 126.6h0M261.0 166.3h0M146.9 60.5h0M203.9 106.6h0M373.8 252.7h0M426.1 272.6h0M488.1 292.8h0M479.0 290.7h0M515.4 293.7h0M275.2 175.6h0M494.6 295.6h0M377.1 255.6h0M513.0 297.2h0M309.9 208.8h0M418.9 273.4h0M430.6 276.4h0M261.6 166.0h0M399.1 264.8h0M319.3 213.4h0M349.6 239.8h0M500.3 294.3h0M513.8 297.5h0M320.0 215.4h0M413.8 270.8h0M458.4 288.5h0M411.3 272.2h0M220.8 129.0h0M255.0 160.7h0M364.8 250.3h0M415.3 272.4h0M332.5 224.7h0M252.7 159.5h0M149.4 63.9h0M352.9 242.3h0M238.9 142.8h0M260.0 163.4h0M363.8 249.6h0M244.2 152.0h0M356.0 247.5h0M288.6 189.0h0M186.5 92.9h0M313.2 209.7h0M409.0 270.7h0M133.3 55.5h0M335.4 229.6h0M465.7 288.9h0M220.1 126.0h0M314.2 209.8h0M451.2 282.3h0M154.8 61.8h0M389.1 257.4h0M165.4 69.5h0M485.8 290.8h0M256.0 163.4h0M195.4 100.2h0M239.3 147.1h0M344.2 231.8h0M226.9 132.3h0M253.2 160.3h0M457.2 282.8h0M410.3 270.4h0M437.7 276.7h0M125.4 53.3h0M397.7 267.0h0M421.2 274.8h0M317.2 214.4h0M351.6 240.7h0M146.5 56.1h0M187.5 92.1h0M395.1 266.8h0M343.6 235.7h0M509.9 296.2h0M472.5 288.7h0M234.6 137.1h0M391.4 261.4h0M411.7 269.7h0M375.9 253.9h0M156.7 67.9h0M489.8 293.1h0M224.6 128.9h0M252.0 155.8h0M274.9 176.6h0M425.5 270.3h0M249.5 159.6h0M439.8 281.1h0M147.2 62.4h0M405.1 271.3h0M411.3 270.6h0M359.4 244.6h0M501.2 298.5h0M232.4 137.4h0M468.2 288.4h0M124.0 45.9h0M212.8 118.8h0M444.8 281.2h0M504.9 300.5h0M233.7 135.4h0M485.0 291.6h0M401.5 265.5h0M203.7 107.6h0M513.0 295.9h0M265.2 168.2h0M419.8 273.5h0M503.4 295.6h0M286.6 185.5h0M385.3 259.1h0M345.8 242.3h0M137.8 57.0h0M157.8 67.8h0M387.3 260.7h0M267.2 172.4h0M266.2 168.9h0M153.0 61.4h0M216.1 119.3h0M369.8 250.7h0M506.5 298.6h0M438.3 280.2h0M133.5 52.3h0M475.4 291.2h0M255.8 159.5h0M245.3 152.5h0M497.5 294.3h0M135.3 54.1h0M267.0 172.8h0M508.5 291.2h0M414.8 269.1h0M233.9 136.9h0M479.3 290.1h0M413.1 269.6h0M226.1 128.6h0M458.5 286.6h0M496.4 294.9h0M222.2 128.8h0M380.3 260.5h0M489.6 291.2h0M273.3 176.9h0M309.0 202.7h0M365.5 251.2h0M240.0 149.2h0M325.3 220.9h0M362.6 246.2h0M366.6 254.0h0M259.6 166.6h0M135.8 57.2h0M185.3 90.9h0M447.4 281.7h0M495.1 294.9h0M163.3 66.1h0M499.8 297.4h0M241.7 149.3h0M323.0 222.0h0M378.6 256.6h0M124.2 50.0h0M169.3 72.7h0M375.3 258.2h0M353.0 240.0h0M420.7 272.9h0M419.8 270.9h0M330.5 228.0h0M377.5 254.7h0M147.7 62.6h0M511.0 295.9h0M409.6 270.4h0M395.1 265.9h0M348.2 240.2h0M509.1 294.9h0M471.9 291.8h0M271.3 176.8h0M489.3 290.5h0M434.3 277.1h0M149.8 64.9h0M452.4 286.8h0M435.8 277.0h0M344.8 237.4h0M505.7 293.7h0M319.6 214.4h0M372.3 258.5h0M156.0 67.6h0M128.8 50.1h0M245.3 148.5h0M443.1 278.9h0M438.4 273.8h0M489.4 290.9h0M283.7 184.6h0M483.5 291.9h0M408.1 264.5h0M327.2 220.4h0M160.9 67.6h0M465.4 285.8h0M475.1 293.5h0M255.9 161.5h0M396.9 266.9h0M354.1 241.6h0M282.8 181.4h0M446.9 282.5h0M411.3 268.0h0M245.7 151.0h0M472.7 289.3h0M248.9 146.5h0M364.0 252.4h0M382.7 257.6h0M250.2 149.1h0M383.0 257.9h0M310.3 210.2h0M405.0 269.6h0M229.3 134.2h0M412.3 269.7h0M138.3 54.7h0M411.1 270.0h0M480.2 293.9h0M402.0 271.6h0M434.0 276.2h0M350.2 242.3h0M374.3 255.1h0M357.2 245.5h0M328.5 224.4h0M362.9 247.6h0M447.2 285.9h0M198.2 102.8h0M472.3 290.4h0M154.7 67.2h0M154.6 67.8h0M196.8 100.9h0M360.1 243.8h0M402.8 268.1h0M352.9 239.0h0M505.9 296.6h0M445.0 281.8h0M170.7 75.8h0M483.4 293.4h0M230.2 133.8h0M386.2 256.7h0M434.6 279.4h0M322.3 215.9h0M223.6 129.9h0M318.5 216.6h0M240.8 145.5h0M351.8 242.6h0M463.1 284.4h0M234.5 138.6h0M497.5 294.6h0M511.5 298.6h0M480.1 290.6h0M397.9 261.2h0M274.6 178.2h0M390.4 263.2h0M362.7 245.4h0M368.1 249.5h0M387.4 257.7h0M214.2 117.8h0M505.7 293.3h0M497.3 296.1h0M183.8 85.3h0M412.3 270.9h0M310.2 207.7h0M514.0 300.6h0M319.4 212.4h0M400.7 264.9h0M378.6 261.2h0M403.1 267.9h0M197.2 102.1h0M196.5 96.3h0M512.4 297.4h0M216.3 119.2h0M170.9 72.3h0M152.3 63.8h0M443.0 277.0h0M342.0 235.5h0M425.4 273.4h0M444.0 281.6h0M410.4 272.2h0M247.6 149.3h0M363.9 248.5h0M203.1 103.2h0M162.4 68.8h0M431.9 277.6h0M333.0 229.6h0M308.9 205.7h0M255.2 158.0h0M504.8 297.2h0M391.7 262.7h0M250.4 155.1h0M310.8 209.2h0M136.4 52.3h0M428.6 271.9h0M239.0 144.2h0M396.3 265.8h0M396.2 266.1h0M413.3 269.9h0M406.9 266.8h0M461.3 287.9h0M418.0 273.8h0M408.0 267.6h0M444.9 285.8h0M225.0 129.8h0M248.3 154.4h0M348.3 237.9h0M243.1 144.1h0M194.7 99.5h0M410.8 268.1h0M344.3 234.3h0M272.9 175.4h0M194.5 98.8h0M429.8 279.8h0M509.5 295.9h0M478.4 289.8h0M467.6 289.0h0M345.4 237.4h0M149.7 63.7h0M413.0 268.3h0M269.7 173.2h0M332.8 226.3h0M375.8 257.4h0M340.3 233.2h0M359.9 249.1h0M407.7 263.8h0M341.4 237.3h0M386.2 264.0h0M225.3 127.2h0M504.4 297.4h0"/>
<path class="d" stroke="#9467bd" d="M162.8 70.8h0M186.2 96.6h0M495.7 294.4h0M425.7 271.0h0M232.7 140.3h0M514.8 296.8h0M188.3 92.0h0M453.0 286.8h0M353.3 243.9h0M352.0 239.3h0M366.7 252.4h0M228.4 131.1h0M452.4 286.2h0M136.2 56.3h0M280.9 185.7h0M362.8 251.6h0M383.9 259.7h0M449.5 286.1h0M140.5 56.5h0M500.8 292.6h0M162.8 68.9h0M212.6 111.4h0M438.1 278.6h0M514.9 292.8h0M240.9 144.9h0M351.9 241.8h0M370.1 250.5h0M209.9 111.8h0M383.1 259.2h0M239.6 141.3h0M200.3 106.6h0M278.0 184.9h0M136.0 57.1h0M507.4 302.0h0M323.4 218.2h0M492.7 293.0h0M238.1 143.4h0M161.9 70.1h0M508.0 298.6h0M398.1 263.5h0M418.3 273.5h0M278.7 184.1h0M430.8 279.2h0M383.8 260.4h0M368.7 247.4h0M153.1 66.9h0M479.5 290.8h0M140.6 61.2h0M279.5 182.5h0M485.0 291.0h0M162.7 68.9h0M511.1 293.0h0M334.1 227.7h0M374.9 252.2h0M460.9 291.5h0M388.7 257.7h0M131.9 54.7h0M315.9 213.2h0M203.8 107.4h0M243.6 152.1h0M354.7 241.7h0M349.9 242.5h0M366.5 248.5h0M165.9 69.2h0M324.2 221.7h0M439.4 278.5h0M262.1 164.9h0M286.3 184.5h0M420.2 269.3h0M444.7 281.5h0M347.5 241.2h0M484.8 292.3h0M195.6 100.3h0M415.5 267.1h0M358.6 246.1h0M254.1 155.9h0M312.6 213.8h0M246.3 153.3h0M229.4 135.2h0M319.9 215.1h0M310.0 209.2h0M356.0 246.8h0M147.1 57.4h0M277.7 182.5h0M493.3 294.7h0M399.9 265.1h0M138.3 55.7h0M383.9 257.1h0M134.2 57.3h0M487.6 293.1h0M500.2 297.1h0M209.7 112.7h0M202.3 106.0h0M506.1 295.4h0M254.4 161.3h0M510.9 294.2h0M472.4 289.8h0M482.8 288.2h0M375.6 251.9h0M286.7 192.2h0M343.1 235.9h0M387.7 263.9h0M374.9 253.9h0M397.5 268.2h0M311.0 211.3h0M145.2 59.9h0M209.2 111.0h0M364.9 250.1h0M156.8 68.7h0M495.3 292.4h0M159.2 68.6h0M201.0 105.3h0M485.1 292.0h0M475.8 287.7h0M139.7 55.0h0M396.6 267.8h0M377.6 256.0h0M383.1 257.1h0M239.1 141.5h0M211.7 112.2h0M431.4 277.1h0M339.3 232.4h0M184.8 89.0h0M132.2 57.3h0M138.4 58.8h0M360.7 249.4h0M451.7 282.6h0M358.2 245.3h0M511.9 294.1h0M377.6 256.9h0M197.3 100.6h0M344.0 237.2h0M131.3 51.5h0M456.4 288.1h0M410.9 266.2h0M240.6 145.0h0M401.2 267.4h0M429.1 276.2h0M189.0 95.0h0M215.6 117.6h0M287.2 188.5h0M201.5 101.6h0M366.1 247.6h0M210.0 111.4h0M188.0 92.1h0M161.5 68.9h0M282.1 187.2h0M228.6 135.3h0M485.1 292.9h0M226.0 130.4h0M234.7 138.4h0M217.5 124.3h0M452.9 287.8h0M195.4 99.8h0M437.5 275.2h0M456.4 285.3h0M312.7 207.6h0M152.0 63.9h0M153.1 66.1h0M150.1 60.9h0M360.4 246.2h0M370.8 252.9h0M342.9 236.4h0M316.4 213.5h0M395.0 265.7h0M421.8 271.9h0M403.5 271.8h0M411.5 269.6h0M444.7 282.7h0M192.1 94.6h0M407.7 265.8h0M220.7 123.8h0M411.2 270.8h0M211.7 110.7h0M267.9 170.6h0M138.8 56.0h0M209.1 114.9h0M283.3 188.6h0M148.2 63.8h0M409.1 273.0h0M369.0 255.0h0M217.0 119.6h0M151.8 63.8h0M359.9 247.0h0M463.8 282.0h0M131.5 51.2h0M127.7 49.6h0M226.1 131.5h0M462.1 288.7h0M158.0 70.4h0M313.5 212.0h0M249.7 150.8h0M266.3 171.2h0M226.4 129.8h0M231.5 135.7h0M512.9 294.1h0M408.4 269.5h0M359.0 251.9h0M441.0 281.7h0M497.3 292.7h0M449.5 280.4h0M439.7 280.2h0M480.2 293.0h0M262.1 168.9h0M196.9 103.6h0M495.0 295.6h0M267.4 169.9h0M329.2 228.0h0M188.0 94.0h0M204.1 104.2h0M500.5 293.4h0M288.0 188.3h0M398.0 268.2h0M497.8 296.1h0M445.1 285.0h0M246.1 147.6h0M451.9 287.6h0M393.9 265.2h0M159.9 71.4h0M406.9 266.5h0M483.7 289.0h0M418.8 269.2h0M334.2 233.0h0M437.3 280.1h0M318.8 215.5h0M319.4 214.7h0M217.8 121.5h0M432.3 277.5h0M401.3 269.4h0M398.3 264.8h0M124.8 49.3h0M287.2 188.1h0M505.0 296.9h0M358.5 241.9h0M340.6 231.0h0M347.4 239.8h0M456.6 283.1h0M378.1 254.5h0M139.9 60.9h0M400.8 264.9h0M263.8 170.9h0M514.7 300.1h0M143.5 62.4h0M277.8 180.7h0M151.2 61.1h0M324.2 219.2h0M236.3 142.2h0M493.7 288.8h0M251.2 152.4h0M359.6 247.7h0M502.3 298.2h0M264.9 170.1h0M290.0 190.3h0M239.0 146.3h0M515.6 297.6h0M125.0 52.5h0M237.3 141.7h0M358.3 242.7h0M392.3 262.7h0M492.3 293.9h0M287.1 188.7h0M414.1 272.5h0M316.8 216.7h0M499.2 293.3h0M450.3 281.7h0M382.0 254.6h0M499.7 297.2h0M341.1 235.6h0M282.1 184.5h0M441.8 280.6h0M382.0 255.4h0M330.2 220.7h0M262.1 165.8h0M377.6 253.9h0M190.5 95.5h0M456.3 286.3h0M149.7 64.6h0M471.4 286.6h0M233.6 137.9h0M166.6 70.6h0M145.9 58.7h0M451.7 283.6h0M310.3 205.8h0M458.6 287.0h0M222.2 122.5h0M317.9 209.9h0M378.4 257.8h0M500.8 296.3h0M369.8 253.4h0M464.2 287.1h0M449.9 282.6h0M450.8 285.3h0M448.0 282.0h0M227.2 131.5h0M390.6 261.7h0M198.9 102.3h0M469.2 293.2h0M386.9 262.9h0M347.1 238.6h0M253.6 158.6h0M444.1 285.6h0M484.8 293.1h0M322.6 217.4h0M217.6 118.9h0M152.9 65.1h0M388.3 263.6h0M421.0 275.0h0M332.1 226.0h0M505.9 299.7h0M504.9 293.6h0M229.1 129.3h0M338.9 229.1h0M380.9 260.3h0M395.5 257.8h0M250.3 150.9h0M503.6 296.3h0M345.9 239.1h0M366.6 252.0h0M450.2 287.3h0M469.7 286.0h0M391.3 264.5h0M264.8 169.2h0M366.6 246.0h0M217.7 120.6h0M427.2 274.1h0M381.7 257.0h0M165.9 73.0h0M262.5 171.8h0M140.0 60.4h0M443.0 281.3h0M325.4 220.2h0M478.5 292.7h0M138.8 55.5h0M347.0 236.8h0M389.4 266.0h0M201.1 103.1h0M242.0 145.2h0M281.9 182.9h0M369.5 255.1h0M421.0 270.2h0M425.1 273.8h0M422.0 272.6h0M426.4 274.2h0M393.1 262.4h0M337.2 234.5h0M194.0 101.6h0M462.1 287.0h0M266.7 172.7h0M486.3 293.2h0M323.6 218.2h0M420.6 273.7h0M123.8 49.9h0M198.4 101.5h0M336.7 233.1h0M144.4 63.2h0M214.5 115.7h0M459.0 287.9h0M232.5 137.8h0M505.4 292.2h0M422.0 273.2h0M232.3 136.7h0M276.0 176.6h0M361.8 245.7h0M480.8 289.8h0M457.4 290.3h0M267.8 170.6h0M128.2 51.2h0M253.5 157.8h0M343.8 238.5h0M448.9 284.4h0M477.4 291.3h0M466.7 289.6h0M474.7 291.9h0M510.2 298.5h0M406.9 267.0h0M347.6 237.5h0M481.7 292.6h0M215.6 118.8h0M473.0 295.7h0M130.3 52.1h0M514.8 296.5h0M213.7 117.0h0M202.1 106.5h0M131.6 51.9h0M512.3 297.6h0M273.1 172.3h0M145.0 61.8h0M221.6 124.9h0M321.4 217.6h0M426.7 276.5h0M440.2 286.5h0M420.4 270.9h0M343.5 239.0h0M199.4 103.4h0M274.4 178.8h0M263.6 166.1h0M429.6 274.6h0M163.4 67.6h0M265.8 171.1h0M433.4 280.3h0M149.0 66.2h0M338.2 233.4h0M258.2 161.8h0M514.5 298.0h0M273.8 174.8h0M137.6 55.9h0M325.3 220.4h0M247.7 152.4h0M129.4 48.5h0M474.6 290.0h0M347.7 237.3h0M443.8 280.2h0M418.8 267.9h0M455.1 287.8h0M199.7 102.5h0M197.7 101.8h0M242.8 149.6h0M124.5 46.7h0M434.9 276.9h0M271.7 173.6h0M502.2 296.8h0M214.4 118.0h0M162.0 70.4h0M380.7 258.6h0M489.9 294.8h0M336.5 226.0h0M152.1 70.9h0M158.7 67.0h0M479.5 291.1h0M345.9 240.9h0M485.0 292.2h0M421.4 271.1h0M284.2 185.9h0M479.4 289.3h0M431.5 277.2h0M264.6 170.2h0M205.9 108.6h0M153.8 65.5h0M457.7 284.4h0M371.1 250.3h0M200.3 100.8h0M130.1 52.8h0M498.0 295.9h0M186.3 88.8h0M381.2 256.6h0M266.1 166.0h0M436.5 278.0h0M321.6 214.7h0M162.9 67.6h0M486.3 291.2h0M462.3 288.1h0M210.1 117.3h0M445.6 283.0h0M206.8 109.6h0M469.1 292.0h0M162.1 68.5h0M201.6 106.8h0M428.3 271.2h0M469.2 289.5h0M285.9 186.9h0M270.0 173.8h0M236.2 141.9h0M248.8 149.7h0M286.8 190.0h0M339.1 232.6h0M198.0 101.5h0M280.8 183.4h0M500.7 295.5h0M154.8 66.6h0M221.7 126.1h0M166.1 68.8h0M443.3 281.1h0M146.3 60.5h0M355.2 242.3h0M169.8 74.9h0M195.2 98.7h0M320.3 216.3h0M183.3 90.0h0M482.7 292.5h0M354.0 240.5h0M282.0 184.7h0M498.3 294.1h0M489.6 288.4h0M470.3 286.1h0M362.2 248.7h0M478.3 291.0h0M139.5 57.1h0M393.7 265.7h0M232.9 137.0h0M270.2 176.0h0M308.0 205.7h0M205.5 109.9h0M261.2 165.9h0M316.9 212.1h0M420.7 273.4h0M162.9 70.6h0M426.2 269.9h0M153.8 67.2h0M196.2 98.1h0M229.2 129.9h0M356.5 246.0h0M245.1 145.7h0M330.1 226.5h0M154.4 67.2h0M386.0 260.4h0M408.6 264.2h0M218.7 121.4h0M411.9 272.1h0M431.7 278.9h0M498.4 299.2h0M316.2 209.3h0M394.7 264.0h0M472.5 291.2h0M194.3 98.6h0M503.2 292.5h0M381.4 261.7h0M498.3 296.2h0M319.8 215.6h0M471.6 290.2h0M249.2 152.8h0M443.7 281.9h0M226.5 133.4h0M406.9 266.5h0M267.7 171.2h0M373.8 254.9h0M409.6 269.3h0M324.9 220.8h0M185.8 92.4h0M251.9 158.7h0M281.8 179.5h0M264.8 167.4h0M332.8 227.2h0M505.6 294.8h0M386.9 261.5h0M475.4 291.6h0M229.3 132.6h0M129.4 51.4h0M254.9 159.4h0M185.5 89.4h0M409.7 268.2h0M257.3 161.1h0M250.4 154.9h0M161.4 67.2h0M282.8 187.5h0M448.2 285.7h0M495.1 295.9h0M252.4 154.9h0M361.1 245.3h0M446.7 280.5h0M319.8 218.6h0M183.0 91.3h0M216.6 123.5h0M354.1 243.7h0M418.4 271.3h0M160.0 68.1h0M309.8 205.2h0M439.4 279.3h0M352.4 239.8h0M357.6 241.0h0M344.3 236.7h0M484.8 292.3h0M125.6 50.0h0M190.5 95.2h0M138.9 57.1h0M164.8 72.4h0M147.2 62.3h0M330.4 225.4h0M452.2 287.8h0M233.7 132.6h0M226.8 129.0h0M255.7 162.4h0M458.3 286.0h0M349.3 239.5h0M240.5 144.9h0M502.4 296.2h0M460.7 284.2h0M281.9 179.5h0M460.9 288.0h0M248.9 154.6h0M195.4 102.6h0M430.6 277.0h0M357.7 246.7h0M325.2 215.8h0M467.6 289.1h0M238.9 139.5h0M310.3 208.8h0M137.4 57.0h0M330.2 224.2h0M405.8 271.7h0M445.0 279.8h0M129.7 49.6h0M158.0 67.9h0M327.5 220.8h0M345.7 236.7h0M213.1 113.8h0M443.5 281.9h0M476.4 281.5h0M324.3 218.7h0M242.3 149.3h0M320.2 217.1h0M215.7 119.0h0M316.6 214.1h0M363.9 250.6h0M219.1 122.3h0M325.7 223.1h0M509.8 294.8h0M336.2 231.6h0M251.1 155.1h0M370.2 253.3h0M308.4 205.8h0M310.4 204.5h0M243.4 149.1h0M448.3 282.7h0M397.8 266.4h0M196.0 103.1h0M414.6 269.3h0M324.4 220.5h0M140.0 58.6h0M498.7 292.0h0M129.6 51.7h0M456.3 285.7h0M454.2 286.6h0M162.0 68.5h0M203.2 107.7h0M148.6 59.6h0M134.0 53.5h0M425.3 276.0h0M337.7 232.8h0M134.3 55.3h0M378.4 254.2h0M464.1 289.0h0M334.2 226.0h0M226.7 128.4h0M142.1 59.0h0M440.7 282.7h0M435.2 280.2h0M316.2 211.5h0M437.0 275.9h0M264.1 167.0h0M389.2 263.3h0M274.3 178.8h0M152.6 67.9h0M331.9 227.4h0M362.7 248.3h0M472.5 289.3h0M458.9 289.7h0M255.4 157.0h0M342.3 236.1h0M452.1 282.0h0M368.9 251.1h0M235.6 137.0h0M472.7 290.8h0M170.2 74.6h0M477.2 293.5h0M353.5 242.9h0M414.8 272.0h0M270.2 173.9h0M270.0 171.9h0M487.2 291.4h0M315.6 213.8h0M284.5 188.8h0M391.6 261.5h0M435.7 277.7h0M224.6 131.4h0M350.6 242.1h0M317.1 212.9h0M215.5 118.5h0M214.6 116.6h0M323.2 220.6h0M361.4 248.2h0M138.4 58.7h0M136.0 57.5h0M312.8 208.7h0M451.4 285.2h0M436.0 277.7h0M471.6 294.6h0M470.1 288.3h0M164.9 73.3h0M483.5 290.8h0M324.9 222.3h0M418.0 270.5h0M381.2 255.6h0M479.5 290.7h0M194.1 98.9h0M309.8 207.6h0M384.9 261.6h0M143.6 58.7h0M268.5 169.7h0M478.7 290.0h0M308.9 207.3h0M330.9 226.0h0M413.5 269.4h0M466.8 289.6h0M355.1 245.0h0M419.8 274.2h0M499.7 294.8h0M415.2 273.0h0M337.1 230.2h0M423.3 269.3h0M467.5 289.6h0M270.9 171.1h0M338.2 234.6h0M323.6 217.4h0M212.9 116.7h0M148.5 61.9h0M279.1 178.4h0M248.1 153.5h0M166.1 70.5h0M485.5 294.5h0M254.9 158.8h0M411.8 268.3h0M376.9 254.2h0M421.6 273.3h0M458.0 286.0h0M359.5 246.8h0M349.8 240.3h0M473.2 289.4h0M250.0 153.0h0M345.2 238.1h0M481.1 291.5h0M433.4 279.0h0M222.2 127.4h0M273.4 171.2h0M371.3 248.4h0M377.6 259.6h0M283.9 185.3h0M358.2 242.0h0M376.0 255.2h0M494.8 293.2h0M352.1 245.0h0M419.5 273.0h0M507.4 295.2h0M347.5 241.0h0M246.4 152.4h0M513.2 292.2h0M162.2 71.1h0M286.7 186.3h0M140.3 58.8h0M402.6 268.4h0M404.8 270.2h0M436.0 277.6h0M146.2 62.2h0M149.8 62.9h0M200.1 104.0h0M322.6 218.6h0M221.2 126.9h0M458.9 288.9h0M210.4 111.5h0M502.3 293.8h0M432.0 278.0h0M220.1 123.3h0M505.3 295.4h0M239.2 142.4h0M225.8 126.9h0M487.8 290.5h0M331.6 221.9h0M445.9 282.8h0M124.5 46.1h0M402.0 267.3h0M513.9 297.5h0M475.1 290.5h0M124.1 50.0h0M314.0 209.1h0M382.7 260.3h0M219.1 122.9h0M400.1 264.6h0M387.5 262.8h0M154.5 60.0h0M326.6 221.4h0M427.3 277.6h0M331.2 226.2h0M249.9 154.9h0M470.6 290.0h0M373.6 257.7h0M239.3 142.5h0M267.1 171.3h0M459.0 285.4h0M217.5 121.4h0M392.9 264.5h0M406.2 264.8h0M130.5 53.1h0M377.5 257.0h0M389.4 263.2h0M388.9 260.0h0M386.4 257.5h0M227.3 133.4h0M160.9 69.4h0M214.9 120.4h0M508.3 295.7h0M126.9 50.5h0M494.7 295.4h0M246.0 149.6h0M204.6 111.6h0M131.0 51.8h0M324.9 218.6h0M247.6 150.6h0M147.0 63.6h0M140.3 57.7h0M360.9 244.3h0M227.7 132.2h0M401.7 268.1h0M310.4 205.8h0M483.5 292.5h0M484.0 289.2h0M237.3 139.5h0M157.8 68.5h0M332.3 226.2h0M258.7 165.7h0M489.2 289.4h0M239.8 146.3h0M261.6 168.5h0M441.6 279.1h0M126.2 51.3h0M169.1 73.8h0M319.3 213.5h0M433.1 277.0h0M159.2 72.0h0M212.3 118.8h0M343.5 233.5h0M379.6 259.8h0M329.9 222.4h0M211.3 112.7h0M269.0 172.8h0M285.9 185.8h0M444.3 281.1h0M474.3 289.2h0M258.1 167.8h0M221.2 125.9h0M259.0 158.2h0M349.8 245.0h0M342.7 231.3h0M208.6 114.0h0M509.5 298.5h0M381.8 257.7h0M397.7 260.6h0M417.9 269.7h0M327.6 222.5h0M378.4 253.1h0M503.0 298.6h0M195.0 99.2h0M365.2 250.9h0M374.7 254.6h0M482.8 290.4h0M165.8 71.9h0M381.0 255.4h0M139.2 57.9h0M454.1 287.3h0M281.8 182.4h0M514.4 297.2h0M258.9 164.8h0M443.1 283.5h0M503.6 293.5h0M313.5 213.1h0M422.0 277.2h0M223.3 124.6h0M515.6 299.1h0M476.2 290.3h0M312.1 207.4h0M495.2 295.5h0M191.1 94.4h0M370.4 252.6h0M417.6 269.7h0M325.2 221.2h0M498.4 296.1h0M417.6 267.8h0M365.2 253.9h0M501.6 292.6h0M267.3 170.2h0M396.3 268.0h0M506.8 289.4h0M225.9 131.5h0M360.6 248.8h0M450.0 284.3h0M502.4 292.3h0M446.0 287.6h0M430.5 275.3h0M479.5 292.9h0M159.8 66.6h0M410.3 270.3h0M425.2 276.8h0M438.3 279.7h0M380.6 254.9h0M255.6 158.5h0M479.7 289.8h0M250.7 154.7h0M263.5 166.9h0M510.1 295.6h0M473.3 290.0h0M436.2 275.9h0M451.0 286.0h0M311.4 207.3h0M237.4 140.7h0M207.9 110.9h0M493.2 294.6h0M158.8 71.4h0M271.9 177.5h0M214.9 116.9h0M218.5 122.4h0M236.2 141.0h0M355.7 242.9h0M403.5 265.8h0M225.7 129.6h0M205.5 107.1h0M446.9 279.9h0M329.7 221.8h0M206.7 111.9h0M446.7 286.7h0M348.5 241.5h0M259.1 163.4h0M278.1 177.1h0M431.2 279.9h0M383.6 260.0h0M344.0 237.3h0M392.6 262.1h0M268.5 170.5h0M390.0 262.4h0M470.1 288.8h0M340.1 234.3h0M399.9 267.0h0M485.4 293.8h0M145.5 59.8h0M403.8 268.2h0M323.7 219.1h0M429.7 278.2h0M457.7 286.7h0M441.9 282.2h0M129.5 51.0h0M473.2 290.3h0M492.2 291.1h0M190.1 98.4h0M259.2 159.7h0M394.6 261.8h0M435.6 281.4h0M221.5 130.7h0M145.1 61.5h0M370.8 254.4h0M415.7 271.1h0M159.2 68.4h0M155.4 66.0h0M512.2 298.1h0M266.8 174.5h0"/>
<path class="d" stroke="#8c564b" d="M399.2 293.7h0M448.6 305.1h0M314.1 241.9h0M145.6 43.2h0M499.3 317.9h0M249.6 166.3h0M512.3 324.0h0M278.6 193.4h0M454.1 309.7h0M511.5 322.0h0M324.4 255.5h0M301.3 231.9h0M499.9 319.3h0M305.5 232.0h0M412.9 274.5h0M485.2 315.4h0M457.8 311.7h0M145.7 41.5h0M253.2 171.7h0M125.2 34.2h0M293.7 223.8h0M399.6 289.6h0M156.8 56.4h0M498.2 318.9h0M165.0 63.2h0M461.0 314.6h0M418.8 292.8h0M462.2 314.2h0M277.2 194.6h0M167.8 64.9h0M503.7 323.3h0M160.0 58.3h0M458.1 311.8h0M175.5 74.5h0M420.8 295.3h0M478.4 315.8h0M172.9 71.9h0M307.8 237.5h0M421.7 294.8h0M296.9 226.1h0M420.9 296.3h0M320.9 251.4h0M250.9 167.8h0M280.6 194.9h0M136.3 36.3h0M174.8 75.7h0M323.2 252.2h0M322.4 251.1h0M299.6 228.3h0M175.7 74.4h0M299.4 229.8h0M323.4 250.6h0M321.6 247.3h0M418.9 293.2h0M174.1 72.2h0M302.4 229.8h0M489.9 319.8h0M248.9 170.7h0M314.3 242.4h0M299.6 229.9h0M155.4 53.2h0M435.6 299.9h0M291.0 216.9h0M302.5 231.1h0M136.9 34.8h0M127.4 39.8h0M415.9 281.4h0M309.4 237.2h0M121.8 35.4h0M418.6 285.7h0M155.4 55.0h0M417.1 282.0h0M450.5 306.4h0M477.1 314.3h0M450.5 309.1h0M161.0 61.8h0M166.1 65.4h0M393.1 287.9h0M385.1 289.9h0M291.1 218.1h0M299.3 227.0h0M427.1 297.5h0M122.1 36.7h0M391.8 291.6h0M423.0 293.7h0M499.5 319.5h0M292.1 226.8h0M318.8 248.3h0M253.8 175.5h0M504.5 319.7h0M156.2 54.9h0M164.6 61.3h0M310.1 237.9h0M324.5 250.9h0M297.6 227.8h0M396.1 289.9h0M162.2 61.5h0M448.8 305.3h0M156.1 57.3h0M509.1 323.8h0M306.5 235.5h0M282.4 191.8h0M168.9 66.4h0M153.5 52.4h0M317.8 244.0h0M290.3 219.6h0M127.9 39.8h0M159.8 59.6h0M320.8 244.4h0M176.9 72.9h0M514.9 326.6h0M125.2 33.0h0M158.1 55.2h0M160.9 57.7h0M493.3 315.6h0M318.7 243.9h0M323.5 250.7h0M433.5 303.0h0M447.3 305.4h0M462.4 316.3h0M124.6 34.9h0M397.1 290.4h0M315.3 241.7h0M464.1 314.3h0M144.6 41.5h0M394.6 290.4h0M139.0 36.4h0M477.9 315.0h0M456.9 309.3h0M303.3 229.3h0M503.4 322.6h0M451.6 307.0h0M308.0 236.8h0M484.5 317.5h0M463.1 316.2h0M481.5 313.8h0M460.3 314.8h0M502.7 321.8h0M481.9 314.9h0M159.7 56.2h0M456.3 306.4h0M484.2 317.4h0M138.8 37.0h0M141.8 39.1h0M125.3 36.8h0M143.3 44.5h0M141.6 43.1h0M471.1 313.5h0M128.0 38.0h0M420.2 294.6h0M510.3 324.4h0M289.9 218.1h0M453.2 309.3h0M169.1 66.4h0M156.8 53.2h0M293.0 220.3h0M126.5 39.3h0M313.6 238.9h0M139.8 36.9h0M302.3 231.3h0M451.9 305.8h0M426.5 293.7h0M512.1 324.4h0M476.8 311.2h0M491.9 317.3h0M288.4 222.0h0M439.0 302.5h0M162.4 58.2h0M168.4 68.7h0M513.0 325.5h0M477.4 314.9h0M503.6 322.9h0M481.8 314.5h0M500.0 320.0h0M507.4 319.6h0M426.5 298.9h0M307.8 236.2h0M414.4 281.0h0M139.8 37.0h0M169.3 66.7h0M131.4 40.4h0M515.7 325.3h0M461.8 315.8h0M439.7 302.6h0M506.9 322.1h0M482.1 311.8h0M454.5 306.7h0M158.0 58.6h0M277.3 190.1h0M399.1 293.5h0M249.5 167.7h0M484.9 316.7h0M410.4 279.7h0M482.6 315.0h0M501.5 320.0h0M316.2 245.3h0M515.7 323.4h0M133.3 41.5h0M317.8 248.4h0M166.7 66.4h0M424.3 296.1h0M302.3 232.2h0M311.7 242.1h0M411.4 283.0h0M397.0 290.3h0M250.7 172.1h0M417.3 284.5h0M160.8 57.4h0M462.6 316.9h0M125.3 39.4h0M428.2 298.5h0M292.9 222.0h0M389.9 288.2h0M248.8 170.6h0M154.6 55.3h0M470.9 310.4h0M124.1 34.4h0M455.3 308.6h0M295.2 227.6h0M430.1 298.1h0M439.6 301.9h0M244.1 161.4h0M312.6 241.1h0M302.2 232.1h0M456.6 308.4h0M509.2 321.5h0M319.0 245.9h0M288.2 198.7h0M324.1 250.6h0M399.2 290.5h0M455.5 310.2h0M135.7 34.0h0M145.2 44.5h0M128.5 38.0h0M289.8 218.1h0M423.8 295.1h0M306.6 235.1h0M501.6 319.3h0M477.3 316.3h0M479.2 316.2h0M254.9 170.9h0M505.6 325.0h0M414.2 283.2h0M417.7 284.2h0M499.0 322.1h0M125.1 34.4h0M277.5 191.5h0M291.1 222.0h0M125.7 35.5h0M281.0 195.8h0M317.6 245.0h0M121.7 33.2h0M416.0 283.6h0M160.5 62.6h0M249.1 169.9h0M456.6 314.1h0M318.9 244.0h0M460.8 312.4h0M457.3 313.0h0M127.7 38.4h0M411.5 282.6h0M170.0 69.7h0M458.4 312.6h0M415.4 284.6h0M166.8 64.9h0M123.7 35.1h0M498.2 320.3h0M315.1 243.0h0M499.7 320.2h0M398.2 291.8h0M421.5 294.6h0M178.8 77.5h0M473.2 314.2h0M480.3 313.7h0M248.7 169.2h0M475.8 312.3h0M385.7 285.5h0M142.1 39.9h0M510.2 327.9h0M157.6 56.4h0M281.1 195.3h0M317.9 246.1h0M253.4 171.0h0M164.4 61.9h0M290.4 219.9h0M514.8 324.5h0M495.1 316.2h0M488.8 315.3h0M435.3 301.5h0M445.3 303.8h0M139.5 42.3h0M321.7 252.6h0M244.2 160.0h0M324.9 249.8h0M173.5 72.1h0M464.8 315.9h0M478.0 313.6h0M296.6 226.3h0M386.5 287.0h0M457.8 312.7h0M277.6 189.3h0M426.1 297.4h0M475.4 313.5h0M388.7 287.8h0M129.6 40.5h0M417.6 284.4h0M431.1 300.6h0M457.7 309.1h0M462.0 313.5h0M438.9 302.0h0M283.7 198.6h0M486.9 311.1h0M431.3 297.7h0M244.1 162.4h0M484.6 313.3h0M289.1 220.3h0M175.8 72.5h0M137.7 35.8h0M450.8 308.9h0M423.3 294.7h0M512.6 323.1h0M173.9 68.9h0M128.3 36.3h0M436.2 302.7h0M317.9 248.9h0M156.2 51.5h0M174.3 68.1h0M145.8 43.8h0M162.6 61.6h0M421.6 292.4h0M287.8 199.6h0M247.2 167.2h0M162.4 58.6h0M298.7 225.3h0M497.2 317.4h0M432.1 294.0h0M481.8 318.9h0M169.9 66.9h0M509.3 320.3h0M414.5 279.1h0M302.8 230.7h0M507.2 326.0h0M248.1 165.9h0M127.3 39.8h0M168.1 66.1h0M437.8 299.1h0M163.4 59.7h0M437.5 300.6h0M502.0 322.3h0M319.5 249.3h0M426.7 293.4h0M125.0 37.6h0M294.6 226.2h0M290.8 217.2h0M462.6 318.0h0M279.9 190.8h0M473.4 314.5h0M291.0 219.8h0M387.0 285.5h0M433.2 297.7h0M474.6 310.2h0M144.5 40.6h0M145.5 42.9h0M138.7 38.2h0M412.0 277.6h0M509.7 323.7h0M458.6 311.2h0M166.4 59.8h0M431.7 297.0h0M248.3 167.3h0M288.1 196.2h0M430.8 300.2h0M438.3 300.1h0M166.8 66.1h0M321.8 247.7h0M169.9 63.2h0M318.4 245.6h0M389.4 291.5h0M300.6 231.6h0M431.1 298.8h0M508.2 323.6h0M486.3 313.4h0M166.2 61.5h0M280.7 194.6h0M436.3 299.4h0M313.4 240.9h0M122.7 35.9h0M305.1 231.7h0M445.3 302.8h0M492.6 316.9h0M316.6 247.1h0M288.1 219.4h0M488.7 323.4h0M131.8 39.2h0M122.2 33.5h0M387.1 285.7h0M304.3 231.2h0M445.2 303.0h0M413.8 279.0h0M156.7 58.6h0M488.5 317.3h0M318.8 245.7h0M122.7 33.5h0M428.8 300.8h0M416.4 281.2h0M299.5 229.9h0M485.5 317.4h0M169.1 70.1h0M297.2 227.0h0M495.1 319.1h0M486.1 320.3h0M160.4 56.9h0M133.0 42.0h0M419.9 294.3h0M395.6 293.2h0M280.8 191.1h0M279.3 193.0h0M177.9 76.5h0M315.1 238.5h0M478.8 307.8h0M457.2 310.8h0M305.0 233.3h0M169.0 66.0h0M391.0 288.6h0M472.5 311.9h0M386.5 285.6h0M459.6 310.9h0M126.3 36.4h0M397.9 291.6h0M395.5 288.9h0M435.7 303.3h0M319.1 250.7h0M448.4 305.2h0M297.2 225.4h0M464.7 317.8h0M438.7 299.4h0M307.8 235.3h0M445.5 305.4h0M505.0 321.9h0M137.2 33.2h0M301.3 232.0h0"/>
<path class="d" stroke="#8c564b" d="M412.8 279.5h0M177.0 72.5h0M289.6 219.0h0M167.8 68.7h0M461.6 311.6h0M434.6 299.1h0M504.1 320.4h0M424.7 296.3h0M386.3 285.8h0M432.8 297.2h0M166.4 66.5h0M323.7 251.8h0M135.7 34.4h0M413.8 284.7h0M428.4 301.7h0M300.1 232.7h0M318.0 246.6h0M470.8 310.1h0M458.9 310.9h0M491.6 317.3h0M512.8 330.2h0M306.0 235.1h0M291.9 217.6h0M317.5 245.4h0M432.3 303.5h0M323.2 250.0h0M248.3 166.2h0M166.3 63.1h0M479.0 312.3h0M246.3 164.2h0M123.9 37.2h0M427.1 298.1h0M291.8 223.3h0M145.2 42.6h0M417.1 283.4h0M177.5 75.4h0M491.3 318.9h0M483.2 313.4h0M504.9 320.9h0M419.6 286.0h0M279.6 190.8h0M299.9 229.5h0M464.7 316.3h0M123.8 36.0h0M433.7 299.9h0M493.2 319.4h0M396.5 293.3h0M399.6 293.5h0M473.4 309.1h0M423.8 294.9h0M454.8 306.4h0M314.9 240.6h0M395.4 290.2h0M136.6 35.7h0M486.6 318.1h0M482.9 316.8h0M511.6 324.2h0M247.3 164.2h0M438.0 302.0h0M478.5 309.4h0M161.6 60.8h0M319.5 242.2h0M470.4 313.9h0M482.9 316.0h0M393.6 290.4h0M324.5 251.6h0M141.6 39.5h0M317.0 246.8h0M489.1 320.7h0M505.0 321.2h0M302.4 231.9h0M321.5 254.3h0M445.5 301.5h0M396.7 292.7h0M314.3 241.4h0M175.1 75.2h0M288.9 214.5h0M497.3 319.9h0M277.3 193.2h0M171.8 71.7h0M139.1 37.3h0M250.6 170.0h0M420.1 295.4h0M318.2 247.1h0M422.2 294.9h0M289.3 217.4h0M445.0 303.2h0M501.0 319.3h0M288.1 218.6h0M514.7 327.5h0M513.7 322.5h0M300.1 228.5h0M128.2 38.2h0M171.3 68.6h0M410.7 279.5h0M126.7 38.7h0M490.4 316.3h0M419.5 291.7h0M319.4 248.5h0M144.1 40.5h0M322.1 248.6h0M295.2 227.4h0M393.5 291.2h0M178.9 76.3h0M316.7 246.9h0M308.7 236.4h0M419.4 291.0h0M515.7 326.3h0M132.1 42.3h0M484.2 312.2h0M287.3 201.6h0M479.0 313.2h0M309.2 239.0h0M394.4 289.9h0M313.5 240.4h0M313.3 242.1h0M398.6 291.6h0M168.3 63.8h0M138.1 35.6h0M287.1 199.0h0M421.2 294.1h0M470.3 310.9h0M424.9 297.4h0M300.0 230.5h0M145.3 45.6h0M324.1 252.2h0M480.8 318.3h0M487.3 312.5h0M288.3 217.8h0M169.7 68.8h0M491.3 318.9h0M281.3 193.8h0M323.8 252.0h0M447.8 306.4h0M501.6 320.9h0M423.2 294.7h0M248.9 168.7h0M507.1 322.0h0M142.9 40.4h0M390.5 287.9h0M293.2 221.6h0M170.7 70.0h0M488.7 317.7h0M455.2 308.7h0M247.2 166.8h0M458.4 308.8h0M449.0 305.4h0M430.6 295.6h0M424.0 294.5h0M491.1 319.1h0M418.8 297.4h0M305.7 233.3h0M287.4 199.0h0M417.6 284.2h0M499.0 321.4h0M154.1 56.0h0M312.5 238.1h0M247.4 166.5h0M504.6 323.6h0M412.7 281.3h0M455.0 307.8h0M397.3 291.6h0M389.1 286.3h0M154.0 51.2h0M154.9 53.1h0M313.8 240.9h0M429.5 297.5h0M387.3 288.5h0M131.1 41.5h0M317.8 247.2h0M244.5 164.1h0M176.4 73.0h0M293.6 218.1h0M323.1 250.7h0M161.0 57.9h0M286.1 199.1h0M399.2 292.9h0M474.0 313.8h0M288.7 218.5h0M298.3 227.3h0M475.8 313.1h0M419.2 283.3h0M395.4 287.8h0M250.9 174.4h0M391.8 292.2h0M462.7 311.7h0M129.7 37.6h0M307.5 232.4h0M462.8 311.1h0M280.3 193.4h0M317.2 249.4h0M287.8 198.8h0M479.6 316.7h0M506.5 321.9h0M509.5 317.5h0M281.5 194.2h0M288.9 200.1h0M174.9 72.7h0M462.4 314.3h0M281.9 193.5h0M316.1 244.3h0M299.4 227.5h0M143.7 43.1h0M139.7 38.7h0M434.5 302.6h0M481.9 311.7h0M295.3 221.9h0M422.5 290.7h0M293.5 223.3h0M501.0 321.3h0M174.2 72.1h0M160.4 58.5h0M500.1 323.0h0M460.9 313.4h0M479.1 314.2h0M124.6 33.7h0M514.8 325.2h0M500.7 318.5h0M300.1 230.5h0M509.8 324.2h0M293.6 221.6h0M159.7 60.4h0M129.7 39.0h0M171.4 70.9h0M490.9 317.9h0M296.5 226.5h0M298.2 225.0h0M316.9 242.3h0M492.7 319.2h0M473.3 316.0h0M414.6 281.9h0M393.2 288.4h0M324.2 248.4h0M502.4 325.1h0M286.1 198.5h0M288.2 217.5h0M123.3 37.4h0M173.8 70.7h0M246.5 164.8h0M309.0 239.0h0M394.1 291.7h0M495.5 316.7h0M455.3 307.3h0M434.6 300.1h0M476.0 310.9h0M480.1 314.4h0M173.0 70.9h0M398.5 291.0h0M314.2 245.2h0M499.1 320.8h0M481.5 313.7h0M387.0 286.5h0M411.0 279.3h0M178.9 76.8h0M309.4 236.7h0M474.0 309.7h0M165.4 63.5h0M313.4 241.3h0M452.6 308.6h0M317.3 245.1h0M410.7 280.0h0M322.9 249.9h0M514.8 325.1h0M156.3 55.9h0M425.9 297.5h0M417.6 283.9h0M176.5 72.9h0M174.2 70.9h0M245.8 169.2h0M418.9 279.4h0M138.4 36.1h0M320.1 250.3h0M480.4 309.8h0M322.3 253.0h0M303.7 232.0h0M288.4 197.9h0M474.1 310.8h0M416.1 283.4h0M503.2 325.2h0M422.7 296.5h0M413.2 282.4h0M295.9 223.7h0M281.6 193.0h0M319.1 248.9h0M289.3 216.2h0M132.7 41.9h0M146.0 41.6h0M175.0 74.6h0M487.0 314.6h0M126.0 37.4h0M448.1 303.5h0M494.5 318.4h0M431.6 300.0h0M170.9 67.8h0M127.1 35.8h0M253.5 171.5h0M314.4 242.9h0M429.8 298.1h0M411.2 279.8h0M291.7 220.2h0M300.3 232.9h0M158.2 56.9h0M449.7 304.6h0M506.6 322.2h0M495.0 319.3h0M460.1 310.8h0M287.7 199.9h0M435.5 300.4h0M497.2 319.0h0M309.4 239.0h0M163.2 62.1h0M168.2 65.9h0M455.0 307.4h0M300.9 229.4h0M279.4 193.3h0M300.0 231.0h0M319.6 249.2h0M255.7 173.6h0M127.6 36.3h0M483.8 314.7h0M301.9 230.7h0M123.8 36.7h0M279.0 191.9h0M283.6 196.5h0M437.0 298.6h0M434.3 302.5h0M145.9 41.1h0M486.2 312.6h0M171.2 67.9h0M277.5 191.1h0M306.3 234.3h0M485.2 315.1h0M462.5 310.5h0M309.3 236.8h0M499.3 318.6h0M316.0 246.0h0M426.9 297.7h0M464.1 313.9h0M287.6 196.5h0M146.9 43.7h0M461.6 310.0h0M131.8 42.0h0M494.4 317.9h0M170.3 66.9h0M255.6 176.0h0M143.3 40.3h0M450.4 304.9h0M459.9 309.9h0M130.5 43.1h0M428.4 300.6h0M427.9 295.9h0M144.0 41.8h0M385.1 284.9h0M162.7 58.8h0M289.7 222.0h0M422.9 295.6h0M291.8 223.3h0M418.5 285.6h0M177.9 76.2h0M310.3 241.2h0M397.7 293.5h0M285.2 198.2h0M248.0 168.9h0M435.7 298.9h0M496.9 321.2h0M174.7 72.7h0M433.3 300.5h0M286.3 195.0h0M456.4 311.3h0M306.8 235.3h0M451.8 306.6h0M139.3 39.2h0M496.2 319.8h0M503.9 321.7h0M144.1 40.9h0M303.0 227.8h0M416.1 281.3h0M510.9 325.5h0M424.9 296.3h0M167.3 67.9h0M306.5 235.6h0M133.9 42.1h0M309.0 239.8h0M413.4 281.7h0M178.6 75.4h0M126.8 37.6h0M300.5 227.5h0M496.7 316.8h0M169.4 66.4h0M288.8 219.9h0M132.9 39.8h0M386.7 284.1h0M247.3 166.1h0M248.6 166.5h0M138.5 36.4h0M499.4 319.1h0M170.1 69.7h0M492.6 314.8h0M169.5 66.3h0M174.6 67.2h0M447.6 303.2h0M502.5 321.4h0M462.0 310.9h0M315.7 242.0h0M417.6 283.3h0M156.5 54.3h0M177.2 71.7h0M255.3 178.3h0M279.8 192.2h0M165.2 63.9h0M393.4 292.2h0M153.7 51.1h0M123.9 35.8h0M314.0 242.8h0M431.1 299.7h0M298.3 227.4h0M288.7 200.6h0M490.9 319.5h0M437.5 300.1h0M434.6 300.1h0M514.8 325.8h0M308.6 238.1h0M410.8 280.4h0M395.0 288.5h0M279.1 192.5h0M487.1 318.0h0M125.3 35.1h0M453.0 307.8h0M283.6 196.1h0M252.1 172.5h0M415.0 283.1h0M320.8 250.9h0M133.4 45.0h0M124.4 35.6h0M464.0 313.8h0M435.4 300.6h0M126.2 37.0h0M432.0 300.5h0M307.9 237.6h0M393.4 291.6h0M153.9 50.8h0"/>
<path class="d" stroke="#8c564b" d="M251.7 170.9h0M412.5 282.6h0M288.8 216.7h0M410.1 281.3h0M481.6 314.5h0M462.1 311.9h0M488.3 315.9h0M281.0 192.7h0M396.6 292.5h0M309.7 239.6h0M298.3 227.6h0M302.1 228.9h0M422.9 298.0h0M281.2 195.7h0M503.5 321.9h0M387.3 286.9h0M277.3 191.1h0M292.4 225.5h0M311.6 237.0h0M483.8 311.9h0M424.2 296.6h0M310.3 238.3h0M478.7 308.6h0M489.7 316.0h0M139.7 37.9h0M161.7 56.3h0M124.8 34.5h0M477.8 316.5h0M290.0 215.7h0M130.2 40.3h0M319.9 246.7h0M161.7 57.7h0M501.7 320.6h0M142.5 39.8h0M462.5 315.4h0M501.2 321.1h0M131.0 41.2h0M502.3 322.0h0M471.8 313.6h0M282.2 196.3h0M499.3 319.4h0M457.3 309.0h0M252.5 170.9h0M427.0 297.9h0M317.0 244.3h0M176.4 77.0h0M411.6 279.1h0M249.5 170.3h0M308.3 235.4h0M388.2 287.8h0M136.7 35.1h0M282.4 194.5h0M283.9 195.6h0M447.0 299.9h0M301.8 227.8h0M162.9 61.4h0M250.2 168.8h0M162.9 59.8h0M288.9 222.0h0M449.1 306.0h0M163.8 60.4h0M163.1 56.4h0M431.4 297.0h0M250.5 167.5h0M485.7 315.9h0M307.0 231.6h0M392.1 287.5h0M491.4 321.8h0M502.2 323.7h0M169.3 65.6h0M278.7 193.5h0M390.5 284.3h0M301.0 231.5h0M448.3 304.6h0M158.7 60.2h0M398.6 291.5h0M455.4 313.8h0M503.6 324.8h0M136.3 36.1h0M145.5 42.5h0M306.4 235.3h0M464.2 315.5h0M299.4 229.1h0M300.2 232.6h0M244.1 162.4h0M481.0 314.3h0M388.1 287.0h0M293.1 222.0h0M178.2 75.5h0M433.9 298.5h0M462.3 314.6h0M492.5 317.7h0M476.4 314.7h0M290.0 221.7h0M473.2 312.8h0M157.2 59.5h0M394.8 291.6h0M426.5 299.3h0M512.2 320.8h0M485.5 316.3h0M386.3 282.9h0M247.8 167.7h0M307.6 231.1h0M424.8 295.5h0M295.9 222.4h0M399.3 292.5h0M484.6 319.4h0M295.8 224.3h0M304.1 236.1h0M450.7 306.4h0M288.9 220.1h0M486.4 318.5h0M170.8 69.6h0M127.6 36.9h0M426.3 296.6h0M166.2 63.6h0M418.8 292.2h0M504.4 324.0h0M171.7 68.1h0M289.8 223.9h0M446.9 307.1h0M158.4 58.0h0M166.7 63.5h0M167.5 63.5h0M300.3 228.2h0M178.1 77.1h0M318.6 246.3h0M433.8 298.5h0M171.4 67.7h0M495.8 318.7h0M513.0 321.4h0M298.2 226.4h0M472.4 313.9h0M312.7 236.8h0M291.2 223.7h0M248.8 166.9h0M487.4 314.6h0M154.1 54.0h0M254.8 173.8h0M137.7 34.5h0M252.4 168.1h0M477.0 313.6h0M499.2 319.5h0M299.0 232.9h0M319.1 246.4h0M138.5 37.9h0M427.6 300.5h0M436.0 298.1h0M456.4 310.7h0M390.9 289.3h0M499.2 319.1h0M452.1 309.0h0M396.2 285.6h0M313.7 238.3h0M316.0 242.0h0M300.2 229.2h0M385.0 286.1h0M177.2 73.7h0M321.4 251.0h0M391.9 285.1h0M145.9 42.9h0M145.7 43.9h0M489.3 315.6h0M433.6 300.9h0M394.8 294.2h0M162.7 60.1h0M291.2 222.1h0M136.7 36.8h0M171.9 69.3h0M307.7 237.4h0M481.3 314.8h0M454.9 307.7h0M503.4 322.4h0M412.7 279.4h0M299.5 229.3h0M482.4 314.8h0M315.5 248.0h0M135.6 32.7h0M423.1 292.3h0M294.0 225.6h0M280.5 194.6h0M418.8 294.3h0M141.2 37.9h0M313.3 239.7h0M145.4 46.7h0M489.2 319.3h0M438.2 302.7h0M175.3 73.7h0M290.1 220.8h0M495.6 320.6h0M435.2 301.4h0M307.5 237.9h0M485.0 317.7h0M290.3 223.1h0M178.1 76.3h0M281.5 193.8h0M421.6 294.6h0M155.2 55.1h0M514.2 323.4h0M311.1 236.4h0M296.5 226.4h0M304.7 232.9h0M506.0 322.9h0M303.6 233.3h0M296.1 223.8h0M124.5 38.1h0M427.1 297.7h0M160.2 59.7h0M511.6 321.7h0M170.9 69.6h0M166.0 62.8h0M451.3 306.0h0M254.8 174.0h0M485.9 315.5h0M323.6 248.0h0M313.8 244.9h0M414.9 283.4h0M422.9 295.9h0M462.1 312.9h0M277.8 192.3h0M244.1 163.6h0M131.1 39.2h0M158.1 55.5h0M393.5 287.6h0M503.0 321.1h0M434.3 300.3h0M163.2 60.9h0M392.1 287.5h0M158.2 55.9h0M450.8 307.0h0M448.6 304.4h0M420.8 292.3h0M164.9 62.6h0M478.7 316.0h0M395.7 286.9h0M255.9 175.7h0M460.5 311.9h0M278.8 191.1h0M304.7 237.8h0M163.7 59.5h0M499.3 317.6h0M294.2 225.7h0M172.8 68.1h0M498.8 320.5h0M293.7 222.8h0M300.2 230.7h0M163.0 58.5h0M446.0 303.9h0M296.3 223.8h0M413.4 279.0h0M419.8 284.6h0M471.8 312.5h0M132.0 39.8h0M308.7 239.3h0M158.9 58.2h0M319.8 251.6h0M478.0 314.5h0M385.6 286.9h0M413.0 281.3h0M245.0 162.7h0M287.2 197.8h0M485.9 313.0h0M395.8 290.8h0M320.8 246.3h0M173.2 67.1h0M391.3 287.6h0M167.4 68.1h0M433.4 296.3h0M176.4 73.6h0M482.4 316.8h0M479.1 315.9h0M158.2 56.7h0M452.4 307.1h0M510.5 324.9h0M460.2 311.1h0M474.8 309.4h0M139.0 33.5h0M515.0 322.7h0M512.0 326.4h0M154.4 52.2h0M449.3 305.1h0M476.1 313.4h0M397.4 290.3h0M495.1 316.9h0M298.9 228.0h0M295.6 225.9h0M464.0 316.5h0M289.1 218.9h0M472.7 310.1h0M283.5 196.2h0M250.9 166.4h0M398.2 291.6h0M251.1 170.5h0M390.2 288.1h0M512.8 323.5h0M168.5 66.7h0M473.2 308.0h0M316.1 244.6h0M248.4 169.2h0M509.9 325.6h0M415.9 282.8h0M419.0 283.2h0M509.9 320.4h0M478.4 315.8h0M318.7 245.0h0M170.1 66.6h0M439.1 305.2h0M410.2 279.8h0M464.6 312.4h0M446.3 305.2h0M136.9 36.2h0M480.4 313.8h0M320.2 248.8h0M249.2 169.4h0M302.5 234.4h0M127.8 38.6h0M473.9 312.3h0M419.9 291.1h0M166.9 64.9h0M478.6 316.9h0M453.3 312.0h0M245.3 163.7h0M472.4 315.5h0M318.6 247.2h0M168.6 64.6h0M250.9 173.1h0M307.8 232.6h0M287.5 198.1h0M161.7 61.9h0M484.4 316.2h0M127.6 40.2h0M436.0 299.8h0M170.5 71.1h0M416.2 284.0h0M161.0 60.6h0M136.9 37.4h0M249.5 172.6h0M137.1 37.9h0M385.0 287.4h0M140.0 39.9h0M141.2 39.8h0M283.2 194.8h0M506.0 323.3h0M429.8 296.9h0M396.2 286.5h0M452.1 306.3h0M246.9 165.9h0M177.0 73.3h0M256.0 176.4h0M288.3 200.8h0M282.3 193.2h0M457.5 308.5h0M421.0 294.3h0M248.1 168.1h0M398.5 292.1h0M287.2 196.9h0M160.2 58.5h0M512.8 321.9h0M496.1 324.3h0M470.2 310.3h0M504.2 320.1h0M139.1 37.4h0M426.7 297.7h0M502.1 320.4h0M434.1 295.3h0M314.6 244.0h0M251.1 170.4h0M474.7 311.2h0M431.5 297.5h0M492.9 317.5h0M486.2 314.9h0M488.5 313.8h0M430.8 297.2h0M162.7 63.8h0M495.9 323.7h0M490.0 317.3h0M174.0 69.9h0M320.3 249.4h0M497.5 321.2h0M300.3 228.2h0M168.7 64.8h0M478.2 316.2h0M125.2 38.1h0M463.2 315.8h0M244.6 166.3h0M482.7 318.7h0M461.8 312.2h0M299.5 229.7h0M123.6 36.4h0M438.0 302.0h0M292.4 224.6h0M501.1 320.6h0M493.8 317.4h0M173.4 73.7h0M278.5 192.0h0M425.7 296.2h0M323.2 250.2h0M176.5 74.9h0M451.0 305.6h0M455.3 309.5h0M297.3 227.8h0M298.6 229.4h0M390.0 285.8h0M310.5 237.8h0M173.2 73.0h0M389.7 284.4h0M418.4 284.7h0M307.5 235.8h0M250.5 169.6h0M436.4 300.3h0M485.6 315.8h0M434.7 299.3h0M127.0 37.0h0M155.9 50.1h0M130.2 37.6h0M446.4 307.0h0M154.1 53.1h0M396.1 293.2h0M507.2 320.1h0M414.9 281.7h0M158.5 53.4h0M244.7 166.2h0M304.0 233.0h0M509.5 324.9h0M288.6 198.2h0M392.8 287.7h0M170.4 66.3h0M164.8 62.5h0M416.2 283.2h0M140.8 40.0h0M436.6 300.4h0M163.9 61.7h0M244.4 158.0h0M279.2 194.6h0M294.0 221.4h0M279.9 195.1h0M392.3 287.7h0M501.9 319.0h0M324.5 250.1h0M121.8 32.9h0"/>
<path class="d" stroke="#e377c2" d="M255.3 177.3h0M405.1 293.7h0M132.0 53.8h0M195.4 110.7h0M285.4 208.5h0M257.3 173.3h0M205.5 119.8h0M281.9 198.6h0M299.0 221.4h0M283.9 206.4h0M510.3 320.0h0M423.8 286.3h0M504.3 314.6h0M348.1 249.6h0M415.7 299.4h0M472.8 297.7h0M151.2 70.6h0M249.5 173.1h0M208.0 123.9h0M403.9 292.0h0M228.1 149.7h0M133.3 57.9h0M417.7 280.6h0M343.7 248.1h0M207.8 125.7h0M208.6 126.2h0M167.9 85.9h0M284.4 210.4h0M400.7 289.1h0M304.0 220.6h0M318.1 233.9h0M220.6 144.9h0M229.2 159.5h0M263.6 189.2h0M218.7 143.2h0M263.0 184.1h0M242.4 164.0h0M219.0 137.7h0M182.9 96.7h0M411.5 295.8h0M260.9 185.1h0M192.6 108.9h0M136.5 52.7h0M169.5 78.8h0M480.3 302.1h0M356.0 260.5h0M225.6 143.6h0M160.2 76.4h0M205.9 126.3h0M419.4 284.2h0M418.8 300.0h0M303.3 223.5h0M300.3 220.4h0M287.5 213.3h0M158.5 70.7h0M488.2 305.2h0M472.2 301.2h0M229.6 161.1h0M459.2 299.8h0M252.2 177.7h0M167.7 78.6h0M419.1 296.7h0M508.1 316.2h0M384.6 282.1h0M506.5 316.5h0M188.5 103.3h0M137.8 57.3h0M420.5 282.5h0M259.7 178.9h0M227.8 151.3h0M254.4 174.6h0M229.7 160.8h0M300.8 223.1h0M129.2 48.3h0M230.2 158.6h0M207.9 128.7h0M186.4 96.9h0M325.4 232.7h0M173.9 89.8h0M163.0 74.7h0M347.8 245.4h0M138.0 54.6h0M212.2 134.3h0M152.8 69.3h0M176.4 87.2h0M214.9 138.9h0M337.2 246.1h0M281.0 205.7h0M484.4 302.9h0M270.8 195.7h0M299.3 230.3h0M327.0 233.8h0M439.3 290.1h0M202.8 120.5h0M302.1 220.0h0M407.8 292.3h0M156.8 73.3h0M241.9 165.7h0M204.3 121.2h0M167.8 80.7h0M273.3 197.1h0M266.6 190.7h0M210.8 132.4h0M313.6 230.5h0M346.2 249.9h0M484.8 299.7h0M276.4 201.6h0M174.3 89.0h0M266.5 189.7h0M193.7 112.8h0M501.2 312.8h0M211.3 138.0h0M209.4 133.9h0M266.9 189.6h0M183.3 90.9h0M265.2 184.6h0M458.1 298.4h0M400.7 292.6h0M442.7 291.2h0M235.5 162.5h0M134.3 54.5h0M485.4 300.0h0M321.3 236.1h0M464.1 301.3h0M149.4 63.9h0M178.5 90.7h0M162.3 79.1h0M211.4 132.1h0M242.2 169.2h0M485.7 304.7h0M456.1 297.9h0M482.9 302.8h0M255.2 180.0h0M318.2 228.8h0M141.5 60.1h0M257.5 182.8h0M274.9 190.6h0M192.1 109.8h0M213.0 135.9h0M223.4 149.4h0M289.7 210.7h0M326.8 229.2h0M266.7 189.9h0M140.0 60.0h0M210.4 134.0h0M134.4 53.3h0M341.0 246.5h0M301.6 226.6h0M191.0 102.6h0M292.6 211.9h0M436.2 286.9h0M267.1 184.7h0M310.3 224.1h0M187.3 99.7h0M319.1 232.3h0M338.6 242.4h0M187.0 100.6h0M355.1 258.9h0M355.7 252.8h0M296.2 211.3h0M222.3 148.8h0M221.0 142.7h0M158.5 67.4h0M403.3 294.0h0M351.5 251.2h0M264.8 182.2h0M371.0 269.6h0M408.8 292.6h0M488.9 305.6h0M465.3 300.1h0M257.4 179.9h0M166.6 75.8h0M146.1 62.6h0M294.8 215.5h0M206.0 124.3h0M506.4 314.9h0M214.9 138.1h0M261.9 187.4h0M170.2 89.1h0M215.3 142.0h0M137.7 57.8h0M473.2 301.1h0M473.9 298.1h0M198.4 114.0h0M440.6 289.1h0M240.9 166.4h0M412.7 284.3h0M221.1 145.5h0M245.1 170.3h0M271.6 194.1h0M462.2 299.6h0M180.7 94.5h0M196.9 112.3h0M174.5 91.1h0M176.1 93.2h0M132.8 54.2h0M167.1 77.5h0M227.8 156.6h0M421.7 281.0h0M152.5 67.5h0M350.3 246.8h0M222.5 144.3h0M485.4 306.0h0M365.5 270.4h0M199.1 117.2h0M284.9 203.9h0M341.4 243.2h0M153.7 72.7h0M130.2 50.2h0M142.9 61.4h0M366.8 269.8h0M464.7 297.6h0M321.7 231.2h0M317.3 232.3h0M273.8 193.9h0M267.2 192.5h0M139.8 58.5h0M219.5 146.4h0M469.7 297.9h0M212.5 134.6h0M319.0 232.4h0M225.7 153.2h0M288.1 207.5h0M412.3 297.0h0M270.3 193.2h0M262.5 182.6h0M283.6 206.0h0M196.9 111.9h0M376.8 276.9h0M236.2 164.0h0M201.6 116.7h0M443.2 290.7h0M274.5 197.2h0M259.0 177.2h0M289.2 208.8h0M304.6 226.5h0M266.3 182.5h0M282.9 207.6h0M189.7 107.2h0M367.2 264.4h0M382.1 279.7h0M172.4 84.8h0M264.9 187.4h0M367.8 268.7h0M247.4 179.8h0M198.3 112.2h0M289.9 210.0h0M371.4 274.4h0M293.3 211.6h0M347.9 254.8h0M502.9 313.0h0M369.7 269.9h0M342.6 249.6h0M316.8 231.7h0M133.5 52.0h0M224.6 145.0h0M222.0 145.4h0M332.1 237.9h0M172.3 89.2h0M158.0 69.3h0M368.8 270.8h0M309.2 222.6h0M414.2 279.5h0M469.5 303.1h0M430.5 286.1h0M162.4 73.8h0M310.6 227.3h0M374.6 272.3h0M202.6 124.9h0M264.9 186.0h0M344.7 243.9h0M233.2 160.1h0M376.8 275.7h0M127.4 51.3h0M290.5 207.5h0M330.9 240.6h0M311.7 229.0h0M504.5 317.5h0M327.3 231.1h0M473.4 300.3h0M133.1 50.0h0M353.8 253.9h0M413.9 282.8h0M351.3 251.4h0M327.4 239.0h0M174.9 90.0h0M319.4 226.8h0M161.3 71.9h0M165.2 75.7h0M200.8 120.5h0M221.6 152.4h0M439.9 288.5h0M239.4 165.0h0M339.1 241.9h0M316.4 226.2h0M298.2 221.8h0M376.2 273.8h0M218.0 136.5h0M225.6 149.3h0M176.9 89.4h0M224.8 153.5h0M337.5 243.3h0M222.3 145.5h0M347.0 251.0h0M206.0 124.9h0M511.5 317.1h0M314.8 223.1h0M273.0 192.5h0M298.6 224.6h0M403.6 291.5h0M461.2 301.2h0M196.0 114.2h0M507.4 316.7h0M301.5 220.2h0M238.3 162.7h0M161.5 73.8h0M291.2 210.0h0M257.0 182.0h0M280.9 201.1h0M245.5 172.8h0M130.4 51.4h0M501.2 310.6h0M175.1 84.3h0M213.5 133.3h0M294.3 216.7h0M416.2 284.1h0M260.8 180.9h0M127.2 50.7h0M271.7 190.7h0M249.5 171.5h0M141.1 61.4h0M373.2 271.3h0M417.6 280.4h0M293.3 212.5h0M417.7 283.2h0M218.1 147.5h0M171.7 85.3h0M278.5 202.6h0M147.5 67.7h0M411.5 278.9h0M149.7 65.3h0M209.6 130.7h0M432.7 286.8h0M189.3 104.0h0M188.2 104.0h0M210.4 128.7h0M158.1 70.9h0M416.3 294.3h0M240.3 161.7h0M189.3 104.7h0M346.8 247.0h0M407.0 290.0h0M226.7 149.8h0M196.0 115.2h0M130.0 48.0h0M350.0 254.8h0M194.5 107.3h0M191.6 100.9h0M208.0 130.6h0M263.4 187.8h0M248.5 175.1h0M184.8 96.5h0M147.2 65.4h0M412.7 299.6h0M349.3 247.8h0M323.3 228.4h0M382.3 276.7h0M406.2 293.6h0M500.0 311.0h0M440.5 289.2h0M348.6 251.3h0M500.8 312.1h0M229.2 151.3h0M252.7 177.9h0M140.7 60.7h0M411.3 281.5h0M443.3 290.5h0M380.1 277.6h0M169.1 82.6h0M197.6 115.2h0M402.8 294.2h0M252.5 179.5h0M228.2 155.7h0M140.1 56.0h0M187.6 106.2h0M487.1 306.2h0M191.0 104.3h0M348.8 247.3h0M297.8 213.2h0M211.7 131.5h0M271.8 198.1h0M310.9 226.0h0M155.8 74.2h0M344.3 242.9h0M219.4 139.0h0M129.0 48.7h0M229.8 156.5h0M408.4 292.8h0M412.5 296.0h0M175.3 89.8h0M380.2 275.9h0M134.9 53.6h0M469.7 301.9h0M346.2 251.6h0M349.3 244.6h0M276.5 196.0h0M218.9 141.7h0M156.9 71.8h0M228.1 150.8h0M229.5 161.3h0M502.5 310.9h0M408.4 295.7h0M470.0 301.0h0M255.1 178.5h0M229.5 155.4h0M195.0 112.9h0M124.2 46.0h0M142.8 67.8h0M308.8 224.8h0M206.2 119.7h0M143.7 65.4h0M461.6 296.5h0M487.1 298.7h0M484.6 303.5h0M384.4 279.2h0M341.2 244.8h0M160.2 75.2h0M412.3 294.3h0M267.9 186.3h0M423.9 286.4h0M442.3 289.9h0M410.3 279.5h0M202.2 125.1h0M186.5 97.8h0M384.8 281.1h0M272.1 192.7h0M234.6 161.6h0M295.4 211.8h0M209.2 132.3h0M227.8 153.3h0M308.5 221.8h0M221.8 144.9h0M238.1 166.3h0M443.5 290.0h0M247.7 170.5h0M169.8 82.9h0M286.7 206.5h0M168.2 79.1h0M480.2 297.4h0M472.5 299.1h0M135.8 55.7h0M167.4 80.6h0M153.3 71.2h0M503.4 311.6h0M222.3 143.8h0M138.7 63.0h0M326.4 239.1h0M160.4 75.3h0M137.7 52.1h0M381.5 277.6h0M222.9 145.6h0M306.2 224.6h0M312.8 226.5h0M131.8 56.6h0M443.8 288.8h0M435.5 288.6h0M192.6 104.4h0M297.5 217.1h0M267.9 191.7h0M334.5 243.7h0M413.2 298.7h0M190.7 99.6h0M325.2 235.1h0M215.5 139.0h0M288.7 206.8h0M475.5 300.5h0M237.7 160.4h0M296.4 216.3h0M217.6 133.5h0M309.3 228.7h0M351.7 248.4h0M142.3 57.7h0M506.1 314.7h0M461.3 295.5h0M379.7 279.5h0M472.7 300.6h0M155.6 72.3h0M199.0 115.1h0M295.4 214.6h0M207.5 126.1h0M417.1 281.9h0M384.1 282.6h0M199.2 119.1h0M199.1 115.5h0M456.1 301.1h0M134.1 52.1h0M405.5 294.6h0M183.0 97.6h0M273.1 197.2h0M229.2 154.7h0M415.4 298.8h0M316.2 229.7h0M306.4 221.7h0M344.1 241.5h0M198.6 119.6h0M150.5 65.8h0M483.7 307.3h0M312.7 230.1h0M150.2 66.3h0M239.1 168.8h0M380.2 272.9h0M129.8 51.5h0M132.7 55.3h0M287.0 208.3h0M230.7 154.6h0M415.9 278.4h0M328.4 234.7h0M235.1 164.9h0M234.0 160.5h0M254.5 180.2h0M344.3 247.0h0M200.9 114.6h0M354.1 249.7h0M199.7 114.7h0M464.6 299.1h0M137.2 53.0h0M322.7 236.0h0M306.3 225.4h0M347.6 247.4h0M260.9 187.1h0M458.1 299.4h0M134.8 55.6h0M159.7 75.0h0M124.2 45.2h0M308.8 227.4h0M192.9 108.2h0M259.6 186.1h0M257.9 185.0h0M129.4 53.4h0M488.4 302.4h0M482.4 302.2h0M243.1 169.3h0M286.1 202.2h0M306.3 224.1h0M368.2 273.0h0M332.1 242.1h0M462.3 296.4h0M297.9 219.5h0M283.5 203.4h0M228.8 152.3h0M166.7 81.4h0M248.2 174.0h0M169.8 91.8h0M197.6 116.7h0M506.4 313.3h0M365.1 267.1h0M142.0 60.5h0M328.9 241.3h0M191.7 110.1h0M286.5 207.0h0M142.8 66.5h0M155.9 74.9h0M254.8 182.4h0M319.2 229.7h0M193.8 110.8h0M253.7 179.6h0M256.6 183.2h0M343.3 245.3h0M263.2 180.3h0M208.3 127.1h0M183.7 96.2h0M324.4 232.2h0M488.5 302.8h0M288.3 208.2h0M444.4 291.4h0M310.9 228.8h0M266.0 191.9h0M458.3 295.5h0M508.6 316.3h0M380.6 275.7h0M285.3 202.2h0M156.4 72.7h0M256.4 183.1h0M128.9 49.2h0M184.4 99.9h0M412.1 280.1h0M379.9 276.5h0M226.8 153.8h0M304.8 223.4h0M169.6 74.2h0M231.8 159.1h0M455.6 297.1h0M334.1 243.3h0M294.3 213.4h0M330.0 230.4h0M460.1 298.8h0M331.3 241.4h0M148.8 63.5h0M373.3 273.1h0M316.6 229.0h0M256.3 182.5h0M241.5 163.8h0M368.4 268.1h0M349.9 250.1h0M289.8 203.9h0M419.4 281.3h0M331.5 240.3h0M280.2 200.7h0M278.5 200.7h0M196.7 115.1h0M414.1 282.7h0M282.9 201.2h0M333.1 239.8h0M310.2 228.6h0M327.5 239.2h0M279.5 204.5h0M313.3 230.7h0M317.9 229.2h0M338.0 239.9h0M236.1 163.4h0M504.2 315.1h0M402.6 292.5h0M318.6 229.5h0M276.5 200.0h0M218.2 137.3h0M351.8 251.4h0M232.0 154.4h0M415.2 282.8h0M349.6 247.9h0M347.8 248.7h0M226.4 151.7h0M234.6 154.2h0M232.5 157.3h0M222.0 148.5h0M326.5 233.9h0M355.3 255.8h0M370.3 270.1h0M210.5 124.2h0M148.7 69.7h0M218.8 142.9h0M220.3 149.1h0M180.5 92.8h0M158.8 75.7h0M381.3 278.5h0M316.4 227.1h0M131.6 51.9h0M333.2 242.4h0M132.4 52.9h0M158.8 73.6h0M417.6 283.7h0M295.7 211.4h0M433.2 284.3h0M515.8 319.9h0M287.2 204.0h0M183.0 90.2h0M214.0 127.8h0M286.7 209.4h0M296.1 214.9h0M211.2 132.1h0M273.7 204.1h0M240.3 162.0h0M408.4 293.1h0M340.3 240.6h0M327.7 237.8h0M512.6 321.0h0M212.4 133.6h0M147.2 64.4h0M312.0 223.4h0M290.1 209.3h0M457.0 299.1h0M191.9 102.1h0M180.6 89.9h0M275.5 197.8h0M215.3 146.7h0M251.6 171.8h0M178.1 88.4h0M185.7 96.5h0M269.9 199.2h0M331.1 239.1h0M413.2 297.2h0M417.0 286.2h0M210.0 129.6h0M240.6 164.2h0M236.2 158.1h0M338.7 241.4h0M488.1 305.4h0M224.1 148.3h0M341.8 247.6h0M274.5 191.0h0M201.9 118.3h0M151.6 67.1h0M382.9 279.0h0M124.8 45.2h0M346.9 251.1h0M124.0 41.5h0M504.7 317.3h0M479.0 303.4h0M229.2 155.3h0M306.5 221.2h0M327.5 236.9h0M171.6 83.6h0M344.1 245.4h0M265.2 190.1h0M229.2 157.2h0M284.9 201.0h0M317.1 227.3h0M217.6 143.0h0M248.7 172.0h0M209.0 131.0h0M328.6 235.5h0M465.7 298.8h0M288.9 205.8h0M508.3 316.8h0M225.9 153.0h0M169.1 79.6h0M308.0 224.2h0M126.1 46.0h0M200.9 120.3h0M295.9 216.3h0M352.4 252.6h0M188.5 102.4h0M203.6 125.1h0M383.0 281.0h0M195.1 107.2h0M307.4 223.4h0M403.0 290.8h0M420.4 280.8h0M242.5 167.7h0M168.7 79.8h0M483.8 303.2h0M208.9 130.1h0M146.6 68.3h0M415.3 280.3h0M513.8 316.9h0M473.6 302.1h0M229.2 154.2h0M129.5 51.6h0M261.4 178.2h0M171.8 84.2h0M311.8 226.2h0M296.2 214.1h0M402.2 291.8h0M509.9 314.2h0M253.8 174.2h0M243.8 172.1h0M263.2 189.7h0M334.6 236.3h0M212.0 133.6h0M457.4 295.8h0M225.9 150.5h0M370.3 273.7h0M201.3 124.3h0M410.6 295.3h0M210.6 139.0h0M206.2 125.2h0M400.1 288.8h0M295.5 210.3h0M284.6 205.9h0M196.5 112.2h0M186.9 99.6h0M335.6 233.5h0M309.6 225.3h0M237.6 168.7h0M243.6 168.2h0M296.8 215.2h0M312.8 230.7h0M320.6 229.6h0M412.6 280.6h0M344.6 248.6h0M334.6 242.5h0M189.8 102.9h0M411.3 280.0h0M408.7 294.5h0M346.5 242.8h0M254.3 177.6h0M308.4 227.1h0M484.5 303.6h0M241.8 166.0h0M222.4 144.2h0M255.4 178.9h0M201.9 120.9h0M214.9 140.1h0M203.8 122.3h0M134.0 54.4h0M430.4 282.6h0M324.6 238.4h0M194.6 112.6h0M199.1 118.5h0M238.7 160.3h0M259.5 182.3h0M199.1 112.0h0M266.6 187.5h0M354.2 253.5h0M433.4 286.2h0M246.5 173.0h0M161.2 70.6h0M293.5 216.4h0M266.3 193.0h0M440.7 294.1h0M489.6 302.0h0M224.9 156.8h0M233.0 161.1h0M280.2 202.8h0M189.4 99.3h0M460.2 301.3h0M173.8 85.9h0M329.7 233.2h0M373.4 271.3h0M478.8 300.9h0M383.4 278.7h0M503.9 313.4h0M455.0 297.2h0M244.1 167.8h0M484.0 303.9h0M258.9 177.6h0M168.9 82.9h0M248.1 173.9h0M144.4 62.2h0M434.4 287.7h0M456.5 294.7h0M217.7 137.7h0M503.5 313.2h0M265.2 188.0h0M206.0 123.4h0M377.6 280.5h0M235.6 162.5h0M130.0 52.8h0M248.1 168.1h0M511.8 316.7h0M472.3 304.7h0M299.2 216.6h0M174.3 90.0h0M410.2 295.1h0M204.5 121.6h0M410.7 294.1h0M210.7 129.8h0M228.9 156.6h0M142.6 60.4h0M129.1 48.1h0M290.1 213.1h0M315.9 227.8h0M214.2 131.4h0M500.2 310.0h0M267.8 186.1h0M266.7 192.3h0M228.3 151.9h0M471.3 302.1h0M318.2 230.2h0M319.4 230.7h0M248.2 170.8h0M177.8 87.2h0M263.5 184.9h0M215.4 135.1h0M344.3 242.8h0M148.7 68.5h0M138.1 62.1h0M284.2 207.2h0M295.6 221.0h0M194.7 109.7h0M308.6 224.2h0M248.7 173.1h0M204.9 127.2h0M339.2 246.5h0M293.3 213.5h0M228.5 151.2h0M256.5 183.3h0M506.9 314.6h0M123.5 41.7h0M298.8 216.1h0M221.4 143.4h0"/>
<path class="d" stroke="#e377c2" d="M169.7 83.7h0M228.8 156.0h0M167.8 77.4h0M237.3 163.0h0M195.7 112.8h0M220.1 146.9h0M152.8 66.1h0M221.5 144.1h0M413.8 296.5h0M259.4 180.7h0M411.0 298.3h0M200.2 115.6h0M282.0 204.6h0M225.8 146.7h0M437.2 287.4h0M341.2 244.9h0M287.4 208.6h0M137.4 59.3h0M284.9 205.2h0M381.7 279.9h0M148.1 62.1h0M320.2 230.2h0M229.9 151.7h0M354.2 252.6h0M316.9 226.3h0M297.8 215.1h0M431.7 285.6h0M314.5 230.0h0M303.2 222.6h0M415.3 296.7h0M219.7 143.6h0M374.4 272.4h0M237.5 166.0h0M309.9 227.1h0M203.1 110.8h0M158.4 70.6h0M154.7 71.2h0M400.8 291.0h0M188.7 105.1h0M341.3 249.1h0M226.5 148.9h0M383.0 278.2h0M321.4 231.1h0M483.1 305.3h0M326.8 232.3h0M333.0 232.7h0M203.2 121.2h0M205.8 119.2h0M437.6 288.6h0M310.1 225.2h0M420.5 284.4h0M272.4 198.6h0M138.3 58.3h0M242.2 170.4h0M160.4 68.7h0M206.4 122.0h0M332.2 237.2h0M197.9 112.0h0M247.2 177.8h0M131.1 47.9h0M221.0 150.9h0M155.8 63.5h0M256.1 170.9h0M251.6 175.6h0M419.8 295.4h0M333.6 242.6h0M240.2 166.1h0M233.4 156.8h0M340.7 246.7h0M278.0 196.6h0M316.8 224.9h0M344.4 246.4h0M268.5 191.2h0M273.6 196.0h0M216.3 135.4h0M366.1 269.8h0M288.3 213.5h0M419.4 299.4h0M297.3 219.7h0M169.7 78.3h0M144.9 63.7h0M166.3 81.1h0M400.9 289.1h0M271.2 189.7h0M326.2 234.5h0M211.1 134.3h0M175.7 83.3h0M371.2 271.3h0M242.2 166.5h0M419.4 283.9h0M238.2 167.1h0M242.0 165.2h0M128.9 46.8h0M401.7 290.9h0M282.8 206.4h0M173.4 83.6h0M259.5 181.3h0M343.8 243.4h0M245.5 169.3h0M168.4 79.1h0M414.7 297.5h0M160.0 71.2h0M341.5 243.9h0M172.7 76.4h0M337.8 245.8h0M244.9 165.6h0M284.0 208.7h0M292.9 217.6h0M228.9 160.2h0M456.5 299.2h0M136.8 58.9h0M481.7 306.5h0M508.9 314.6h0M182.2 92.5h0M415.0 296.8h0M281.4 203.4h0M219.8 140.6h0M189.5 106.4h0M199.6 121.7h0M263.4 180.3h0M412.9 295.0h0M184.0 95.0h0M462.8 298.9h0M348.3 246.4h0M413.3 294.5h0M161.8 73.4h0M129.1 49.1h0M322.2 236.9h0M126.6 50.6h0M247.3 173.7h0M234.7 161.7h0M228.2 159.5h0M152.6 65.5h0M312.4 224.5h0M482.9 307.2h0M474.8 301.7h0M175.1 83.2h0M262.9 188.6h0M165.3 77.8h0M375.3 273.6h0M125.2 48.6h0M203.4 115.4h0M316.2 226.5h0M405.6 295.2h0M424.0 281.7h0M130.5 51.7h0M219.0 142.9h0M321.3 230.9h0M314.0 225.1h0M301.4 221.0h0M273.7 195.9h0M351.6 250.2h0M442.5 291.2h0M489.8 306.4h0M346.8 247.3h0M347.5 248.3h0M282.7 208.0h0M127.7 51.7h0M215.0 143.7h0M201.4 114.7h0M275.6 198.7h0M436.0 290.2h0M292.3 206.2h0M284.7 204.6h0M251.8 175.7h0M231.6 162.3h0M157.3 74.6h0M246.0 172.3h0M212.3 128.6h0M503.6 311.2h0M256.6 175.6h0M339.6 246.7h0M301.0 221.9h0M160.6 74.1h0M489.1 302.4h0M141.6 66.0h0M156.1 72.1h0M195.6 108.4h0M332.3 235.3h0M295.5 216.2h0M410.8 296.5h0M503.2 315.1h0M315.4 231.5h0M313.8 222.2h0M205.5 127.2h0M320.3 234.3h0M168.7 77.6h0M203.7 120.2h0M216.8 143.4h0M251.8 177.1h0M142.9 65.3h0M172.0 87.3h0M505.4 316.2h0M335.1 243.0h0M366.5 269.7h0M223.7 144.5h0M253.4 174.9h0M369.9 271.6h0M318.1 228.5h0M192.8 108.8h0M436.9 287.2h0M190.4 109.1h0M319.2 231.3h0M382.2 276.8h0M244.8 166.6h0M313.7 228.1h0M341.9 246.5h0M311.5 223.8h0M249.0 171.3h0M282.4 208.8h0M350.2 253.9h0M338.2 242.1h0M470.1 299.5h0M443.8 287.2h0M369.6 270.7h0M211.5 134.5h0M229.1 152.0h0M311.2 228.4h0M506.4 318.3h0M181.2 89.8h0M456.7 300.4h0M346.3 251.4h0M233.7 165.0h0M332.1 237.0h0M411.4 294.8h0M241.7 166.2h0M130.7 53.2h0M419.7 296.1h0M324.0 230.1h0M248.9 175.6h0M134.5 58.8h0M257.5 181.7h0M401.1 292.4h0M482.2 304.6h0M415.7 295.8h0M177.4 95.9h0M180.3 90.0h0M222.9 141.3h0M124.2 46.7h0M131.3 50.1h0M125.6 45.3h0M210.6 126.1h0M165.7 80.9h0M415.0 295.0h0M344.1 249.6h0M220.0 142.4h0M254.1 178.0h0M191.2 109.4h0M318.3 230.8h0M508.3 316.1h0M254.3 169.8h0M469.0 301.4h0M333.4 241.2h0M439.6 288.8h0M477.9 303.4h0M373.3 274.0h0M275.5 190.9h0M316.4 230.7h0M280.5 201.7h0M309.3 220.1h0M488.5 301.8h0M251.0 171.7h0M442.8 286.9h0M143.6 59.9h0M417.1 298.0h0M433.3 287.9h0M340.8 241.6h0M325.4 234.6h0M351.3 253.9h0M161.8 76.5h0M414.2 296.4h0M222.5 145.1h0M473.9 302.1h0M266.2 189.6h0M461.2 301.8h0M334.3 239.4h0M475.2 298.6h0M468.4 299.9h0M284.3 204.8h0M337.8 242.3h0M237.1 163.1h0M331.7 237.8h0M289.2 214.9h0M434.1 290.3h0M297.3 218.4h0M319.8 231.5h0M473.9 303.3h0M218.4 136.5h0M473.8 300.8h0M174.2 86.8h0M139.8 60.9h0M219.1 144.5h0M204.8 128.3h0M138.5 59.8h0M287.5 207.2h0M416.5 280.4h0M464.4 298.7h0M412.8 280.6h0M324.1 238.2h0M223.3 145.8h0M285.3 206.4h0M222.2 150.7h0M513.0 321.7h0M305.2 224.6h0M214.0 139.1h0M238.6 166.5h0M206.1 125.6h0M343.6 244.5h0M229.9 157.5h0M269.7 193.6h0M222.3 150.3h0M210.6 131.3h0M290.9 216.8h0M403.5 292.9h0M431.4 287.0h0M206.7 131.6h0M276.9 198.6h0M190.7 105.8h0M167.1 84.4h0M228.1 154.3h0M214.4 137.4h0M325.7 237.9h0M481.6 301.7h0M310.0 225.6h0M126.1 44.0h0M422.5 284.1h0M314.0 223.4h0M469.8 302.5h0M197.9 115.0h0M207.0 125.4h0M196.8 116.5h0M414.9 297.9h0M404.8 292.9h0M158.4 73.6h0M264.6 186.7h0M318.4 226.8h0M151.5 66.7h0M282.9 207.3h0M235.6 161.2h0M233.2 158.6h0M282.8 201.6h0M222.7 145.6h0M444.6 288.8h0M503.3 311.6h0M338.2 245.4h0M468.1 301.1h0M248.6 173.7h0M127.0 51.4h0M196.9 113.4h0M143.2 64.5h0M321.6 225.3h0M333.8 239.6h0M275.4 195.0h0M335.6 238.3h0M260.8 181.3h0M271.0 194.0h0M350.0 252.2h0M137.0 57.0h0M487.8 304.2h0M407.9 290.7h0M182.7 96.4h0M332.0 237.7h0M199.1 111.6h0M211.5 139.8h0M172.3 85.5h0M241.2 164.9h0M320.1 229.5h0M502.8 317.1h0M377.0 271.5h0M218.6 140.5h0M239.9 169.1h0M420.0 295.7h0M515.3 321.5h0M287.8 211.6h0M500.0 315.5h0M342.0 244.1h0M193.5 110.0h0M138.9 56.2h0M208.2 125.6h0M255.3 181.3h0M264.8 191.0h0M313.8 228.2h0M262.7 184.9h0M207.7 126.3h0M402.4 287.4h0M302.0 226.9h0M217.8 139.3h0M185.9 97.8h0M348.7 246.6h0M506.8 317.2h0M199.1 115.1h0M302.1 221.7h0M330.8 239.1h0M226.5 159.3h0M137.1 57.1h0M249.0 170.1h0M458.0 298.7h0M147.5 64.4h0M129.3 47.1h0M413.8 293.2h0M285.0 209.5h0M137.5 60.8h0M333.0 242.0h0M337.7 246.3h0M314.5 228.0h0M207.7 126.6h0M301.4 222.8h0M415.3 299.1h0M483.3 306.7h0M156.4 73.3h0M317.3 226.3h0M488.3 304.8h0M350.6 252.5h0M186.0 94.5h0M267.3 189.0h0M437.2 288.1h0M418.7 301.7h0M162.3 75.6h0M285.0 210.9h0M261.3 183.6h0M142.8 61.1h0M282.4 205.9h0M176.9 87.6h0M294.4 213.5h0M175.9 89.8h0M414.7 279.0h0M224.7 144.1h0M245.7 170.0h0M233.8 164.1h0M139.6 59.6h0M353.5 252.7h0M512.0 315.7h0M379.9 276.5h0M502.3 311.7h0M284.7 199.4h0M247.8 172.6h0M415.1 281.8h0M313.9 234.0h0M153.5 66.2h0M145.5 63.4h0M163.8 75.7h0M259.2 181.8h0M284.8 208.1h0M251.3 177.6h0M186.4 99.4h0M335.5 240.4h0M282.2 197.7h0M374.7 276.0h0M297.9 211.6h0M274.7 196.3h0M374.3 276.9h0M316.8 226.9h0M244.0 169.2h0M289.8 210.5h0M409.9 296.1h0M349.5 253.9h0M344.7 247.0h0M418.1 284.0h0M419.6 283.2h0M201.7 118.2h0M203.7 122.3h0M415.3 281.9h0M290.2 214.5h0M353.5 249.1h0M139.3 55.3h0M252.4 180.5h0M182.5 96.1h0M124.6 47.2h0M336.6 239.2h0M440.0 289.6h0M192.9 108.3h0M381.4 277.9h0M340.8 241.5h0M462.5 301.2h0M250.5 172.4h0M508.0 317.6h0M316.9 231.0h0M163.9 77.9h0M433.1 285.7h0M228.9 157.7h0M502.8 313.6h0M242.6 167.8h0M280.1 203.1h0M244.8 168.2h0M205.8 124.4h0M165.3 79.0h0M216.9 132.8h0M213.6 129.7h0M279.3 198.9h0M226.0 153.8h0M207.6 128.2h0M215.4 134.2h0M182.3 91.2h0M271.8 192.7h0M417.4 295.7h0M459.9 301.0h0M440.9 290.2h0M231.7 155.4h0M225.5 147.2h0M262.2 187.6h0M198.0 116.9h0M133.0 50.9h0M232.8 160.2h0M189.4 105.9h0M136.3 57.3h0M414.0 278.9h0M157.8 69.5h0M260.5 179.8h0M328.0 236.3h0M505.8 313.8h0M334.9 244.3h0M289.5 206.5h0M166.9 81.3h0M437.2 289.5h0M283.9 199.3h0M416.6 296.8h0M141.5 58.2h0M414.8 280.2h0M295.4 210.8h0M456.1 296.0h0M216.8 140.8h0M509.2 317.1h0M404.0 290.6h0M489.8 306.9h0M225.5 146.5h0M242.4 171.1h0M272.7 197.7h0M471.6 302.3h0M195.3 111.9h0M274.5 189.4h0M242.9 167.7h0M245.9 170.7h0M471.9 300.4h0M260.2 189.1h0M513.2 317.3h0M219.2 141.6h0M316.0 233.3h0M154.7 73.1h0M219.9 140.4h0M270.3 190.5h0M320.9 234.1h0M212.5 136.4h0M351.7 250.4h0M314.0 232.0h0M174.1 87.6h0M202.8 121.8h0M376.6 273.7h0M163.4 78.3h0M291.1 210.7h0M375.8 277.1h0M311.1 219.8h0M244.1 168.3h0M324.9 233.7h0M334.2 236.4h0M158.0 71.5h0M331.7 243.8h0M250.7 172.6h0M125.8 50.7h0M225.5 146.1h0M202.0 121.6h0M506.9 319.0h0M243.3 164.1h0M290.1 209.7h0M279.2 199.5h0M246.0 167.0h0M438.0 289.3h0M266.3 189.5h0M164.6 81.1h0M352.3 250.1h0M323.0 230.9h0M382.4 278.6h0M501.6 315.2h0M287.7 206.8h0M140.6 63.4h0M188.1 103.4h0M478.5 304.2h0M169.6 86.1h0M259.3 179.6h0M172.5 82.7h0M418.6 281.9h0M200.1 112.6h0M224.5 150.7h0M330.6 233.5h0M228.6 153.3h0M335.2 242.5h0M227.4 147.6h0M213.9 135.1h0M325.7 236.8h0M141.2 56.9h0M136.4 55.9h0M150.5 65.0h0M319.9 229.4h0M213.4 141.9h0M195.4 114.5h0M333.4 239.7h0M218.1 141.2h0M304.1 225.0h0M231.6 155.6h0M177.2 88.6h0M291.1 211.1h0M139.4 61.0h0M186.7 96.5h0M167.3 77.7h0M415.3 281.6h0M280.0 205.2h0M337.0 244.7h0M437.3 285.7h0M368.8 272.2h0M217.7 144.1h0M506.4 314.4h0M411.3 297.0h0M470.1 297.9h0M346.1 246.4h0M510.2 315.6h0M214.5 138.6h0M150.3 64.6h0M148.7 65.9h0M211.5 130.7h0M269.2 188.6h0M406.7 291.5h0M378.8 278.5h0M192.0 104.8h0M248.6 171.4h0M255.7 179.5h0M506.5 313.6h0M439.9 287.3h0M231.3 155.6h0M240.2 164.7h0M215.1 141.0h0M458.5 299.9h0M147.3 57.7h0M338.7 247.0h0M502.2 315.4h0M202.5 120.4h0M257.1 179.9h0M382.4 278.7h0M218.0 143.9h0M487.9 305.4h0M312.4 231.5h0M306.4 221.6h0M297.9 217.3h0M266.5 186.9h0M475.2 302.4h0M471.6 304.7h0M236.3 165.4h0M423.7 282.9h0M200.9 114.1h0M216.4 138.1h0M464.9 300.6h0M180.1 95.5h0M166.3 80.3h0M457.7 297.5h0M505.0 315.8h0M352.5 256.9h0M470.2 303.2h0M466.1 300.7h0M355.0 248.7h0M256.5 180.7h0M513.1 319.8h0M279.8 205.7h0M171.8 84.0h0M280.4 199.4h0M322.4 234.9h0M352.7 253.8h0M241.6 169.5h0M127.9 46.1h0M412.7 282.2h0M134.2 58.5h0M511.9 313.4h0M137.7 57.0h0M303.6 224.9h0M166.8 84.9h0M154.6 73.8h0M376.6 274.7h0M166.1 82.5h0M255.7 176.5h0M477.6 300.3h0M159.3 72.5h0M206.2 117.3h0M282.2 208.0h0M376.6 278.2h0M432.9 286.8h0M508.6 314.6h0M423.3 284.3h0M403.6 293.0h0M252.8 179.1h0M188.6 98.4h0M290.6 210.2h0M180.0 84.5h0M384.3 279.5h0M206.9 120.0h0M438.4 287.6h0M234.3 154.0h0M302.1 219.3h0M199.7 123.3h0M474.5 304.5h0M459.5 295.0h0M145.7 62.1h0M214.5 137.7h0M487.6 304.2h0M483.0 304.1h0M378.8 274.9h0M188.3 106.8h0M383.8 280.7h0M237.0 161.2h0M346.5 251.5h0M253.9 175.5h0M401.3 294.4h0M258.6 182.8h0M144.4 64.5h0M353.1 251.0h0M227.5 152.1h0M211.5 132.9h0M181.3 96.2h0M303.2 222.8h0M233.9 160.1h0M176.1 91.8h0M216.7 144.1h0M349.6 247.0h0M366.7 270.8h0M207.5 125.4h0M467.5 302.9h0M321.8 227.3h0M414.4 282.7h0M238.0 163.0h0M145.8 62.3h0M400.4 293.1h0M175.8 90.9h0M172.8 81.2h0M341.2 241.2h0M327.3 238.2h0M372.1 271.2h0M413.4 298.1h0M202.2 116.0h0M246.8 170.6h0M478.8 302.0h0M197.8 117.5h0M212.3 135.5h0M411.4 294.8h0M123.8 46.8h0M219.8 151.4h0M412.0 292.3h0M351.4 250.2h0M345.1 244.3h0M323.3 230.4h0M212.2 139.3h0M227.7 150.4h0M229.3 149.9h0M488.7 301.8h0M223.7 145.9h0M430.9 288.0h0M191.6 103.8h0M281.4 202.4h0M132.4 50.8h0M247.7 175.0h0M464.2 302.0h0M269.7 190.8h0M295.6 213.8h0M287.1 209.7h0M272.1 195.4h0M297.6 218.0h0M222.3 141.9h0M127.9 50.8h0M211.1 131.7h0M279.6 202.0h0M478.1 297.4h0M277.1 201.9h0M290.5 210.3h0M268.5 187.6h0M442.7 293.6h0M483.8 302.6h0M247.3 167.6h0M467.4 297.9h0M138.1 58.8h0M184.5 100.3h0M155.6 67.9h0M422.8 279.5h0M131.2 51.6h0M174.0 89.7h0M468.5 302.3h0M223.2 150.4h0M463.9 298.5h0M137.7 55.7h0M312.1 221.9h0M326.3 235.0h0M168.5 80.8h0M204.5 118.5h0M241.5 169.5h0M130.6 49.8h0M300.2 226.5h0M457.0 297.6h0M349.9 250.9h0M129.4 51.6h0M431.7 286.0h0M308.1 225.1h0M187.7 95.8h0M373.3 274.3h0M206.6 122.8h0M382.0 276.8h0M337.2 240.9h0M278.4 196.5h0M308.9 221.3h0M368.9 270.5h0M241.6 160.3h0M410.5 295.8h0M253.5 176.3h0M305.2 222.1h0M206.0 120.9h0M169.5 88.1h0M202.9 118.5h0M321.1 233.3h0M221.9 145.4h0M309.1 225.9h0M305.9 218.9h0M257.4 180.4h0M217.0 140.8h0M214.0 133.5h0M212.0 134.7h0M223.0 143.6h0M410.6 296.1h0M325.5 234.6h0M175.8 85.8h0M155.7 71.9h0M286.9 206.9h0M436.8 286.9h0M195.1 114.8h0M503.2 315.7h0M482.2 308.0h0M142.5 59.7h0M197.2 113.0h0M175.7 85.2h0M200.2 114.6h0M189.9 110.3h0M348.9 255.5h0M402.5 292.6h0M236.7 161.2h0M262.3 181.2h0M486.0 304.2h0M424.6 284.3h0M191.8 108.3h0M436.5 288.4h0M285.9 209.0h0M157.2 71.9h0M298.2 213.2h0M472.3 303.4h0M155.8 69.3h0M227.6 148.3h0M376.5 276.3h0M335.1 239.3h0M194.4 110.8h0M378.7 277.3h0M205.4 120.0h0M242.6 170.1h0M472.5 302.3h0M227.6 146.8h0M259.2 181.5h0M135.6 56.1h0M321.6 231.2h0M401.7 291.2h0M197.4 111.3h0M368.3 269.4h0M238.0 159.3h0M227.0 148.4h0M355.5 253.3h0M212.5 132.4h0M126.0 51.5h0M260.2 183.2h0M167.5 79.2h0M352.3 255.6h0"/>
<path class="d" stroke="#e377c2" d="M248.3 167.9h0M191.6 110.0h0M174.6 91.2h0M160.1 77.1h0M514.6 317.5h0M283.6 205.4h0M165.7 77.4h0M223.9 150.2h0M431.9 280.9h0M137.6 61.5h0M379.7 278.2h0M293.0 212.7h0M294.7 211.5h0M126.9 47.1h0M231.7 158.6h0M434.8 284.8h0M472.2 299.3h0M267.9 191.1h0M181.2 91.5h0M149.4 65.6h0M225.2 146.3h0M290.4 209.1h0M188.7 105.3h0M403.7 293.6h0M405.5 292.7h0M458.9 298.3h0M147.6 61.9h0M238.3 170.5h0M208.7 129.3h0M273.4 196.7h0M203.9 119.0h0M315.6 226.3h0M442.2 291.6h0M321.6 232.0h0M260.7 184.1h0M246.5 168.3h0M202.8 120.4h0M204.9 118.8h0M336.4 242.5h0M195.7 116.5h0M159.4 73.9h0M411.6 281.9h0M346.3 245.5h0M465.2 301.0h0M163.1 74.5h0M159.7 72.4h0M173.0 87.4h0M205.8 124.9h0M219.2 144.2h0M224.3 145.0h0M401.0 291.3h0M153.5 69.8h0M371.6 272.9h0M315.4 229.4h0M145.3 65.2h0M438.1 286.5h0M413.6 279.9h0M206.1 121.0h0M349.1 247.3h0M377.7 275.9h0M177.0 85.5h0M403.7 293.1h0M507.5 314.3h0M213.0 131.2h0M288.6 208.6h0M337.4 238.0h0M431.4 284.9h0M226.4 154.4h0M416.5 298.9h0M181.5 96.5h0M171.9 85.0h0M266.9 189.6h0M333.2 241.6h0M300.0 214.2h0M160.2 74.2h0M297.9 221.2h0M366.9 268.2h0M180.5 94.7h0M259.4 182.1h0M503.3 314.3h0M128.3 50.0h0M131.0 54.1h0M216.7 135.8h0M156.6 69.5h0M503.9 318.0h0M174.7 86.9h0M153.2 72.1h0M180.9 87.8h0M130.8 52.3h0M230.6 151.8h0M338.9 245.0h0M162.6 74.1h0M274.6 199.3h0M148.4 63.1h0M462.6 301.2h0M209.4 129.1h0M317.2 226.8h0M326.0 237.9h0M297.2 218.2h0M467.5 301.9h0M288.7 211.7h0M265.5 184.0h0M375.5 274.4h0M167.7 81.0h0M262.4 187.5h0M436.3 289.2h0M380.0 276.4h0M132.5 54.2h0M346.0 248.7h0M341.9 246.1h0M246.1 172.2h0M239.7 170.8h0M345.3 254.1h0M470.3 302.4h0M147.0 62.0h0M134.7 49.9h0M484.1 303.9h0M298.6 221.8h0M319.7 227.0h0M264.1 186.7h0M383.1 277.9h0M152.9 65.1h0M131.9 48.1h0M477.1 301.9h0M308.9 224.2h0M269.2 191.1h0M304.0 220.7h0M438.5 287.0h0M381.0 279.4h0M268.4 190.3h0M140.2 64.0h0M235.8 166.1h0M156.8 67.9h0M410.2 292.6h0M229.2 151.4h0M187.2 100.6h0M156.3 74.6h0M509.2 312.9h0M488.8 302.2h0M369.6 267.1h0M505.4 317.8h0M500.7 309.1h0M278.5 204.8h0M244.5 166.3h0M367.0 271.6h0M260.5 188.7h0M411.6 278.8h0M163.1 75.1h0M237.4 163.5h0M500.1 315.5h0M472.5 298.1h0M200.6 120.7h0M256.7 176.6h0M217.1 135.8h0M208.0 128.8h0M194.8 109.7h0M331.4 240.4h0M293.0 211.4h0M205.0 123.1h0M223.9 146.8h0M234.5 159.9h0M158.0 70.7h0M261.7 185.4h0M312.0 225.8h0M222.5 145.4h0M207.5 127.7h0M174.8 89.7h0M310.7 226.3h0M339.6 243.0h0M432.4 284.6h0M250.1 175.0h0M235.2 163.1h0M292.9 211.0h0M186.4 101.9h0M176.4 92.1h0M227.9 154.2h0M305.5 223.3h0M234.3 155.6h0M151.4 66.0h0M271.2 194.6h0M251.3 173.3h0M323.4 231.3h0M288.3 208.7h0M365.6 266.3h0M327.4 238.5h0M442.9 291.6h0M252.6 178.9h0M212.8 136.2h0M481.1 303.2h0M237.3 160.8h0M473.1 299.8h0M321.5 229.9h0M150.8 69.5h0M218.7 142.3h0M218.2 142.4h0M373.2 276.1h0M242.6 174.8h0M410.8 283.0h0M177.9 94.9h0M230.1 158.0h0M351.1 247.4h0M152.9 71.0h0M294.4 222.6h0M151.8 67.4h0M482.6 306.2h0M510.2 315.0h0M341.1 245.1h0M311.1 230.5h0M321.8 232.9h0M291.8 210.0h0M365.2 270.5h0M349.1 243.2h0M479.4 303.8h0M133.8 52.3h0M160.1 77.6h0M334.1 237.9h0M131.1 50.1h0M302.1 218.0h0M198.0 114.6h0M471.1 299.2h0M253.3 176.9h0M486.7 304.6h0M215.2 139.8h0M424.8 284.0h0M338.7 239.3h0M304.2 226.6h0M513.7 320.9h0M298.2 218.9h0M459.5 296.1h0M379.7 278.6h0M455.7 299.8h0M241.4 168.2h0M411.3 284.3h0M472.0 302.1h0M212.0 134.0h0M172.9 92.2h0M190.2 106.3h0M411.5 278.8h0M271.9 196.0h0M438.4 289.9h0M278.9 201.9h0M308.4 223.7h0M236.4 164.0h0M274.8 191.4h0M515.2 317.5h0M124.3 47.4h0M343.6 251.1h0M414.6 278.0h0M513.1 316.3h0M458.1 297.1h0M444.0 292.7h0M217.8 144.2h0M365.5 270.3h0M415.5 284.9h0M334.6 247.0h0M135.5 54.3h0M412.6 281.4h0M230.1 161.0h0M140.4 58.5h0M277.9 203.2h0M303.4 222.6h0M281.2 203.6h0M223.8 153.9h0M350.3 249.4h0M408.8 291.9h0M250.0 180.1h0M146.8 58.0h0M473.6 303.9h0M381.4 279.2h0M469.1 301.1h0M192.1 106.9h0M463.7 300.4h0M149.1 63.9h0M206.9 130.1h0M224.0 145.9h0M179.0 90.8h0M216.5 132.7h0M286.5 206.0h0M442.3 293.9h0M179.3 93.5h0M511.8 318.5h0M173.1 79.9h0M201.7 122.6h0M295.2 211.5h0M223.2 151.0h0M322.4 233.4h0M402.0 289.7h0M318.4 232.1h0M292.4 208.8h0M195.4 109.4h0M370.7 273.8h0M233.2 160.4h0M246.0 167.9h0M273.5 197.1h0M335.1 241.1h0M201.7 119.1h0M154.3 68.3h0M205.1 123.4h0M175.5 92.9h0M410.4 296.8h0M173.5 88.8h0M463.2 298.8h0M456.4 298.0h0M261.2 182.2h0M300.1 221.6h0M279.5 200.9h0M143.8 62.1h0M198.6 112.3h0M415.4 281.1h0M242.4 168.0h0M309.6 223.3h0M263.8 190.0h0M471.8 302.4h0M140.1 57.1h0M181.4 95.2h0M405.0 296.3h0M210.5 123.1h0M353.8 255.4h0M262.3 184.2h0M292.0 210.8h0M131.2 50.1h0M151.4 68.8h0M478.6 304.0h0M515.0 318.9h0M206.5 125.4h0M244.8 165.9h0M440.4 288.9h0M327.6 237.5h0M288.6 206.2h0M330.8 237.0h0M442.8 288.9h0M218.3 143.7h0M455.7 300.7h0M267.4 193.7h0M423.1 283.6h0M234.3 163.9h0M227.1 157.5h0M459.2 300.4h0M260.0 179.1h0M294.6 218.6h0M241.3 160.4h0M234.7 162.5h0M131.4 52.0h0M207.3 127.0h0M413.2 296.3h0M138.3 54.7h0M288.6 212.6h0M422.2 281.7h0M407.1 292.9h0M215.6 140.2h0M291.6 218.2h0M214.3 134.9h0M419.7 281.4h0M457.5 297.9h0M152.3 71.0h0M343.8 246.5h0M278.6 199.3h0M214.8 132.0h0M459.9 300.6h0M187.3 107.8h0M406.5 293.1h0M273.1 197.0h0M406.0 293.8h0M140.7 57.3h0M233.5 156.7h0M215.8 139.7h0M468.2 300.0h0M231.5 157.1h0M316.0 228.6h0M221.1 146.6h0M215.1 135.6h0M200.2 112.0h0M485.1 306.6h0M245.8 170.7h0M218.8 140.6h0M330.2 236.7h0M262.2 185.3h0M333.4 234.9h0M163.0 76.7h0M457.2 294.1h0M155.7 74.7h0M207.0 127.5h0M411.4 292.7h0M189.6 108.3h0M354.1 253.6h0M377.4 275.1h0M302.1 220.5h0M482.1 303.7h0M127.6 50.6h0M241.8 171.7h0M224.0 149.2h0M202.2 118.6h0M258.8 185.7h0M149.2 65.3h0M180.8 92.2h0M133.7 52.0h0M212.3 130.8h0M298.5 215.7h0M206.2 125.1h0M405.5 292.2h0M262.4 190.5h0M212.8 133.3h0M189.6 106.4h0M355.7 257.3h0M343.0 247.3h0M476.7 302.6h0M144.9 63.5h0M412.1 283.3h0M455.4 297.4h0M186.3 94.3h0M464.2 295.6h0M138.0 57.9h0M333.2 240.2h0M228.8 153.3h0M342.0 250.9h0M292.0 212.4h0M479.0 303.4h0M217.2 144.7h0M443.2 292.5h0M197.4 113.2h0M214.0 138.0h0M230.6 153.2h0M162.6 75.8h0M260.7 183.5h0M444.9 293.0h0M419.3 295.3h0M415.1 292.7h0M203.5 119.9h0M333.1 238.9h0M247.9 169.8h0M209.2 131.7h0M225.8 149.9h0M210.1 127.3h0M188.0 100.6h0M182.8 95.9h0M124.7 46.2h0M311.9 229.5h0M148.2 62.1h0M128.7 52.7h0M305.4 220.4h0M171.1 81.6h0M244.5 165.6h0M168.5 80.6h0M148.7 68.7h0M335.1 242.3h0M286.9 205.3h0M297.8 212.5h0M315.7 227.2h0M238.0 165.0h0M176.0 90.0h0M131.7 53.2h0M157.3 71.2h0M237.7 167.6h0M456.5 301.2h0M382.6 279.2h0M264.7 186.6h0M282.9 202.6h0M288.8 210.2h0M244.2 170.2h0M210.2 131.1h0M150.4 71.1h0M343.4 244.5h0M265.7 191.6h0M173.0 85.8h0M215.2 131.4h0M421.4 283.6h0M461.1 300.2h0M404.3 294.7h0M368.9 268.8h0M433.6 286.8h0M297.2 218.6h0M200.4 121.8h0M438.1 287.8h0M200.1 116.3h0M194.7 108.1h0M487.4 302.4h0M309.6 221.8h0M233.4 162.6h0M441.3 289.1h0M502.3 312.1h0M220.2 143.8h0M459.6 300.6h0M243.8 164.5h0M241.3 164.4h0M412.1 278.9h0M134.0 55.4h0M150.4 68.7h0M308.2 224.0h0M434.5 290.9h0M149.1 62.0h0M272.7 198.4h0M213.0 138.2h0M183.1 94.3h0M343.1 241.3h0M416.2 296.3h0M301.7 224.6h0M174.6 83.3h0M268.5 189.1h0M405.9 292.3h0M334.1 240.1h0M417.5 281.8h0M502.1 309.9h0M259.8 184.7h0M305.9 223.7h0M300.5 224.9h0M318.8 237.5h0M208.0 129.8h0M290.4 212.1h0M273.5 195.6h0M444.9 290.1h0M261.8 182.0h0M437.9 285.5h0M290.6 210.9h0M462.4 302.0h0M141.6 64.7h0M323.5 233.8h0M486.5 303.9h0M327.1 236.0h0M222.4 142.6h0M351.3 253.8h0M325.2 236.2h0M190.7 103.6h0M256.0 184.5h0M204.7 120.7h0M271.9 191.9h0M379.1 279.2h0M509.5 316.3h0M171.5 84.1h0M185.9 97.7h0M186.7 96.5h0M350.5 247.8h0M321.0 229.8h0M227.1 152.7h0M320.2 226.1h0M217.1 142.2h0M249.5 173.5h0M488.1 306.6h0M236.1 159.4h0M190.1 99.8h0M286.2 209.2h0M307.9 221.2h0M421.7 284.4h0M183.6 95.5h0M225.7 158.6h0M228.1 155.2h0M199.8 116.4h0M285.5 200.5h0M216.2 138.6h0M475.8 303.4h0M227.1 151.1h0M196.4 116.3h0M214.9 132.9h0M258.8 183.8h0M237.3 168.7h0M325.7 238.4h0M317.4 231.8h0M277.6 197.0h0M481.2 302.6h0M208.6 119.0h0M131.8 51.1h0M462.0 299.7h0M266.4 187.0h0M274.4 191.8h0M437.3 288.3h0M161.8 76.7h0M216.9 134.0h0M199.0 112.5h0M466.2 298.9h0M267.6 191.3h0M254.5 178.1h0M317.5 229.2h0M411.8 296.1h0M209.3 137.9h0M413.6 297.0h0M373.9 274.5h0M191.9 109.3h0M132.5 53.5h0M148.5 66.0h0M504.3 312.5h0M207.5 121.9h0M463.4 299.4h0M324.7 232.6h0M169.2 84.2h0M347.2 249.7h0M175.0 83.6h0M414.1 282.2h0M285.7 202.1h0M332.1 237.5h0M435.6 285.7h0M262.2 183.6h0M419.3 285.0h0M255.8 179.4h0M371.2 271.3h0M316.7 229.3h0M475.4 303.2h0M324.5 237.2h0M280.6 205.6h0M331.0 240.2h0M154.4 65.7h0M421.1 283.9h0M298.4 222.1h0M231.8 156.5h0M127.5 43.5h0M506.0 315.7h0M378.4 271.5h0M255.9 182.3h0M233.1 165.1h0M342.1 249.0h0M150.5 68.4h0M123.9 49.7h0M129.3 51.6h0M260.2 180.3h0M303.1 222.5h0M294.8 208.2h0M172.6 80.5h0M289.1 211.5h0M318.3 232.9h0M374.1 269.7h0M136.0 55.8h0M188.9 100.7h0M232.4 156.6h0M478.4 303.6h0M185.5 97.0h0M143.1 60.0h0M219.5 143.3h0M203.4 123.8h0M340.8 245.9h0M323.9 233.0h0M284.9 206.3h0M175.3 84.1h0M161.3 75.9h0M505.9 314.7h0M257.8 182.0h0M160.3 72.3h0M315.1 225.4h0M202.4 121.6h0M373.3 272.0h0M125.5 52.3h0M299.9 219.5h0M295.8 217.1h0M213.2 127.9h0M207.8 130.6h0M326.0 235.6h0M354.5 253.7h0M502.6 315.4h0M461.3 300.0h0M204.7 130.2h0M423.2 283.2h0M189.9 103.9h0M288.0 210.0h0M249.4 175.3h0M161.3 80.1h0M230.0 156.7h0M290.2 207.3h0M339.3 242.7h0M220.2 147.8h0M165.1 75.8h0M267.7 195.5h0M484.4 302.8h0M235.5 161.3h0M203.2 117.4h0M340.2 244.1h0M339.2 243.0h0M269.6 186.4h0M413.3 283.4h0M508.5 316.2h0M181.6 91.2h0M215.7 134.7h0M371.8 272.2h0M143.8 61.6h0M153.5 68.2h0M268.1 188.5h0M410.8 295.7h0M412.4 277.4h0M346.4 251.2h0M141.5 64.1h0M138.8 58.1h0M188.6 97.7h0M168.8 83.8h0M319.1 227.3h0M145.2 61.1h0M188.1 100.1h0M202.4 121.9h0M250.4 174.0h0M207.7 128.6h0M411.6 279.9h0M244.9 172.1h0M224.2 150.7h0M330.7 237.0h0M480.6 301.4h0M214.7 135.2h0M252.4 181.4h0M237.6 159.6h0M123.4 45.7h0M223.7 148.1h0M179.7 88.2h0M457.1 297.9h0M170.1 80.8h0M170.6 83.8h0M240.0 163.7h0M413.2 283.4h0M285.3 200.7h0M352.5 254.1h0M331.8 238.3h0M201.7 119.4h0M295.3 216.0h0M435.0 289.3h0M133.8 51.1h0M137.7 56.6h0M176.6 86.6h0M349.0 247.8h0M256.1 181.1h0M311.7 228.0h0M154.5 71.0h0M142.3 59.6h0M152.2 66.5h0M164.2 77.5h0M235.0 154.2h0M272.1 195.8h0M441.2 292.9h0M366.7 273.3h0M430.4 283.7h0M511.5 318.1h0M243.5 168.4h0M353.1 256.1h0M369.2 271.7h0M341.4 241.3h0M224.7 150.3h0M284.5 209.0h0M180.3 93.6h0M465.4 301.4h0M303.0 220.2h0M215.1 138.7h0M347.1 252.5h0M456.9 300.4h0M135.3 56.9h0M369.3 270.2h0M477.4 304.6h0M335.7 238.5h0M330.1 233.1h0M407.7 290.4h0M234.5 160.2h0M208.1 129.9h0M441.6 289.1h0M201.9 117.9h0M440.0 289.5h0M321.2 231.4h0M259.9 183.4h0M307.2 223.0h0M229.1 152.0h0M258.6 176.0h0M366.9 269.4h0M296.0 214.5h0M126.8 53.6h0M339.8 248.1h0M228.2 159.1h0M224.4 153.1h0M350.9 253.2h0M150.5 68.2h0M489.9 302.1h0M295.6 217.0h0M350.3 251.2h0M489.1 308.2h0M415.9 281.2h0M484.3 300.9h0M174.0 88.7h0M267.3 189.9h0M295.9 211.4h0M504.7 314.7h0M435.0 286.5h0M223.3 149.1h0M333.6 240.7h0M286.4 206.8h0M127.0 40.3h0M173.1 93.8h0M365.7 273.1h0M283.6 197.5h0M191.0 107.1h0M145.7 63.5h0M213.2 129.1h0M205.6 121.4h0M418.8 283.0h0M349.5 252.8h0M140.0 58.1h0M509.2 319.8h0M269.5 191.3h0M336.5 239.3h0M338.7 240.6h0M318.1 228.9h0M275.5 192.8h0M146.4 60.4h0M162.7 74.1h0M206.7 127.7h0M500.2 311.4h0M369.5 273.6h0M176.8 84.3h0M419.1 296.8h0M415.4 293.0h0M308.1 223.4h0M287.9 210.2h0M218.1 139.5h0M504.9 314.4h0M324.3 234.5h0M486.1 305.6h0M416.4 284.5h0M338.5 239.6h0M314.4 228.7h0M432.8 287.1h0M168.8 85.7h0M439.8 288.2h0M209.6 126.0h0M250.1 175.0h0M161.4 71.5h0M178.2 92.2h0M133.4 54.3h0M433.2 287.2h0M335.6 242.2h0M218.0 142.8h0M232.6 158.9h0M275.7 196.1h0M189.7 108.0h0M137.8 54.5h0M167.1 78.0h0M509.8 312.9h0M424.6 283.8h0M223.4 144.6h0M133.5 51.3h0M421.3 284.5h0M346.6 253.5h0M285.0 203.3h0M180.8 94.0h0M208.1 127.0h0M295.9 212.1h0M215.8 133.9h0M322.5 233.0h0M206.1 122.7h0M419.1 297.8h0M211.6 128.2h0M236.5 161.3h0M281.7 204.8h0M313.0 230.9h0M411.2 277.6h0M255.4 176.8h0M204.7 116.8h0M240.3 167.1h0M458.8 298.0h0M434.1 287.4h0M457.8 298.7h0M314.3 225.1h0M383.0 276.7h0M308.9 222.3h0M383.9 280.2h0M291.0 210.5h0M210.3 131.3h0M299.5 222.6h0M402.9 292.5h0M251.7 174.9h0M274.5 199.3h0M270.2 193.0h0M420.1 281.4h0M199.7 115.4h0M370.5 272.2h0M215.9 135.2h0M164.6 78.2h0M371.3 271.4h0M220.5 143.4h0M487.3 303.1h0M305.6 228.0h0M259.1 183.6h0"/>
<path class="d" stroke="#7f7f7f" d="M191.6 93.4h0M320.4 217.5h0M339.2 221.4h0M461.0 274.0h0M296.8 192.0h0M321.1 213.1h0M314.6 217.0h0M496.3 272.7h0M483.4 269.2h0M132.7 66.4h0M191.3 93.6h0M147.5 73.6h0M138.2 68.6h0M510.4 280.4h0M403.4 251.4h0M184.0 89.7h0M465.0 279.0h0M144.2 70.9h0M371.7 248.2h0M436.1 268.4h0M497.3 275.4h0M198.4 116.2h0M126.7 65.1h0M263.6 172.2h0M155.2 76.7h0M254.8 161.5h0M404.3 246.4h0M465.7 276.6h0M178.1 86.9h0M178.6 88.8h0M188.5 94.8h0M238.8 152.0h0M354.0 228.3h0M231.1 142.1h0M221.1 135.3h0M250.5 156.2h0M346.5 223.4h0M289.1 190.7h0M505.3 277.7h0M180.4 87.2h0M429.6 266.5h0M330.7 225.3h0M380.5 252.4h0M165.8 83.1h0M474.0 285.7h0M155.1 75.0h0M458.8 274.7h0M418.6 253.5h0M485.6 272.8h0M135.5 65.8h0M441.1 270.9h0M269.0 172.5h0M161.7 77.5h0M372.3 246.8h0M419.5 253.1h0M497.1 276.2h0M514.0 282.8h0M459.4 277.6h0M498.3 275.1h0M334.6 224.0h0M268.1 173.3h0M407.9 251.8h0M370.9 248.1h0M389.9 257.6h0M169.9 82.9h0M287.7 187.0h0M353.3 229.4h0M420.4 252.7h0M177.6 88.5h0M202.0 123.2h0M356.7 222.6h0M147.8 71.0h0M211.7 132.9h0M162.2 79.9h0M333.3 223.5h0M353.6 226.2h0M412.5 252.5h0M416.7 256.5h0M169.5 84.6h0M416.3 255.5h0M404.5 251.7h0M314.0 213.7h0M325.6 222.0h0M290.4 191.7h0M392.0 239.1h0M383.5 251.3h0M265.0 169.5h0M481.8 267.9h0M278.6 180.9h0M215.5 134.3h0M428.7 265.3h0M159.4 77.7h0M392.4 241.7h0M412.6 248.7h0M378.6 250.4h0M480.0 270.0h0M419.8 253.1h0M431.2 266.8h0M385.6 256.1h0M245.5 151.9h0M501.6 272.1h0M249.5 158.6h0M409.6 250.9h0M401.7 249.0h0M345.3 226.6h0M459.8 276.7h0M181.1 90.4h0M222.7 139.1h0M434.5 269.7h0M335.0 222.0h0M388.9 255.3h0M347.8 228.2h0M131.6 63.1h0M428.1 262.3h0M479.0 287.5h0M370.9 244.6h0M413.1 253.5h0M476.7 279.5h0M254.7 158.4h0M215.2 132.7h0M505.1 277.1h0M350.0 227.7h0M266.4 172.0h0M260.4 162.8h0M187.9 92.3h0M259.0 163.0h0M504.8 272.4h0M130.0 66.6h0M269.3 174.3h0M498.1 271.6h0M249.6 156.7h0M416.9 253.6h0M264.9 168.9h0M224.6 133.6h0M419.8 253.6h0M392.9 263.4h0M157.8 80.1h0M437.5 269.3h0M466.5 277.7h0M268.4 171.3h0M505.2 276.6h0M294.1 192.7h0M191.3 89.0h0M159.8 77.1h0M207.4 128.3h0M126.3 65.3h0M278.4 182.3h0M220.3 137.1h0M138.4 64.2h0M231.3 140.4h0M200.9 123.1h0M390.7 263.2h0M387.9 259.3h0M236.2 148.2h0M418.9 248.8h0M366.8 246.1h0M147.1 72.4h0M372.7 248.0h0M175.5 84.0h0M450.3 274.8h0M147.3 75.7h0M497.0 275.9h0M261.3 166.1h0M168.0 83.1h0M159.1 79.0h0M165.5 79.4h0M256.1 161.2h0M252.3 156.8h0M154.6 77.5h0M428.9 266.5h0M430.6 268.3h0M158.8 76.4h0M289.4 191.7h0M194.3 99.4h0M257.4 163.3h0M178.2 86.6h0M374.7 253.0h0M137.1 67.5h0M225.6 136.5h0M240.6 151.3h0M340.9 224.3h0M368.7 242.2h0M344.7 225.6h0M289.9 186.9h0M428.7 266.0h0M371.0 246.3h0M342.8 226.2h0M128.5 65.6h0M227.4 138.1h0M224.6 137.5h0M165.1 80.9h0M247.2 155.3h0M197.9 105.6h0M283.8 184.1h0M273.2 174.6h0M136.2 64.7h0M152.4 73.4h0M338.9 223.3h0M277.4 179.9h0M161.9 77.1h0M145.3 70.2h0M253.9 162.6h0M381.7 254.3h0M374.6 248.3h0M389.2 258.0h0M244.2 155.0h0M389.0 258.5h0M353.6 227.5h0M291.9 188.0h0M489.1 274.4h0M484.2 269.3h0M237.1 143.4h0M209.0 126.9h0M188.7 94.4h0M331.8 220.6h0M260.7 165.6h0M460.2 276.3h0M446.6 268.6h0M290.9 189.3h0M181.1 87.8h0M398.1 247.4h0M275.8 181.5h0M315.7 215.6h0M368.0 243.9h0M492.0 276.4h0M260.4 163.6h0M261.5 167.5h0M406.3 252.0h0M406.3 246.9h0M252.2 157.0h0M476.5 288.9h0M268.9 170.7h0M338.8 223.4h0M352.8 227.0h0M487.2 269.9h0M245.4 152.1h0M167.9 81.6h0M486.7 272.7h0M489.8 270.4h0M133.7 65.9h0M340.7 220.8h0M406.8 249.0h0M186.8 92.7h0M402.0 244.0h0M250.6 156.1h0M353.8 225.1h0M396.7 248.5h0M187.9 94.0h0M227.5 137.5h0M293.3 195.1h0M434.3 269.4h0M450.8 271.3h0M289.2 186.9h0M198.7 117.8h0M248.9 156.2h0M358.4 227.3h0M164.6 77.1h0M192.0 95.9h0M187.3 89.9h0M392.7 261.5h0M137.5 63.6h0M355.7 226.2h0M391.9 258.6h0M233.5 147.6h0M423.6 263.9h0M369.3 246.0h0M347.9 226.3h0M382.2 253.3h0M208.2 129.5h0M202.9 120.9h0M375.2 254.3h0M391.8 260.7h0M223.9 137.0h0M451.8 275.7h0M325.0 222.7h0M486.8 273.1h0M499.7 269.9h0M206.3 129.0h0M507.7 277.4h0M442.9 271.9h0M221.0 136.1h0M514.0 282.3h0M497.7 270.9h0M348.3 227.1h0M151.8 75.0h0M270.9 172.6h0M458.9 273.1h0M140.7 69.3h0M223.2 130.3h0M244.5 154.4h0M172.1 86.9h0M281.8 177.3h0M381.6 250.5h0M414.6 250.5h0M321.5 222.0h0M184.9 90.7h0M325.0 224.5h0M497.7 274.9h0M250.5 160.5h0M269.7 171.8h0M153.2 77.4h0M127.9 68.4h0M398.5 250.3h0M408.2 251.1h0M327.9 221.2h0M179.1 87.3h0M193.2 96.7h0M500.0 274.2h0M267.0 171.1h0M430.5 267.9h0M470.1 280.7h0M207.5 125.6h0M416.9 252.0h0M392.5 244.9h0M325.1 223.5h0M254.7 160.4h0M356.8 234.1h0M128.6 62.5h0M431.1 267.3h0M398.8 245.8h0M423.8 262.1h0M184.1 89.2h0M403.7 245.2h0M129.4 65.5h0M433.8 265.5h0M227.2 133.2h0M442.2 267.9h0M164.4 79.1h0M430.8 266.8h0M193.4 96.6h0M385.5 258.2h0M434.4 269.1h0M334.4 224.0h0M267.6 173.1h0M474.5 283.5h0M413.3 256.3h0M186.5 92.8h0M492.5 276.3h0M427.1 269.8h0M251.9 159.7h0M340.9 226.1h0M265.6 170.1h0M210.5 127.5h0M181.4 87.4h0M477.3 285.0h0M363.4 236.2h0M158.3 78.0h0M436.4 268.1h0M352.1 225.9h0M270.7 173.2h0M454.6 276.0h0M449.3 269.3h0M436.7 272.2h0M173.5 85.0h0M159.1 76.9h0M188.2 91.7h0M511.0 282.5h0M425.4 266.1h0M389.1 255.7h0M375.9 249.5h0M187.9 93.5h0M128.7 65.1h0M501.0 274.1h0M294.1 192.0h0M183.5 89.2h0M335.6 220.6h0M193.1 94.6h0M385.1 254.1h0M160.4 77.4h0M457.7 276.6h0M193.1 95.3h0M126.6 67.6h0M230.0 144.2h0M353.4 228.2h0M469.9 282.1h0M503.4 273.6h0M210.9 128.7h0M408.2 250.9h0M429.8 263.8h0M279.3 185.7h0M156.0 78.3h0M511.0 282.8h0M410.7 253.1h0M453.6 276.6h0M365.9 246.2h0M313.0 213.1h0M211.0 128.8h0M398.8 250.1h0M434.3 265.2h0M224.9 135.5h0M411.1 248.5h0M152.6 76.1h0M371.1 247.5h0M351.3 226.4h0M248.7 156.1h0M271.8 172.7h0M150.7 70.4h0M455.6 278.6h0M357.9 226.0h0M224.6 134.2h0M171.4 81.7h0M204.0 121.6h0M124.2 66.0h0M421.2 258.2h0M258.2 168.0h0M473.0 282.3h0M204.6 122.0h0M348.9 224.5h0M411.6 251.1h0M200.0 121.6h0M469.6 277.7h0M463.9 279.7h0M374.0 250.0h0M394.7 244.8h0M297.4 194.7h0M377.2 252.5h0M451.2 272.4h0M352.4 227.3h0M258.2 162.0h0M342.8 228.9h0M515.5 282.2h0M467.0 280.2h0M345.5 226.0h0M168.6 82.6h0M279.6 182.4h0M482.8 267.8h0M244.7 152.3h0M153.1 73.4h0M124.2 65.6h0M236.7 148.1h0M139.4 67.2h0M340.7 225.0h0M499.6 277.2h0M154.1 79.0h0M196.9 101.4h0M468.4 283.2h0M406.8 246.6h0M237.3 146.1h0M403.6 248.0h0M317.9 215.4h0M377.0 252.2h0M231.1 140.6h0M237.1 148.7h0M208.0 130.6h0M144.0 72.0h0M374.1 249.1h0M254.3 159.2h0M200.6 118.5h0M437.6 267.4h0M316.3 213.5h0M294.5 192.0h0M221.4 137.2h0M170.4 84.7h0M257.1 159.8h0M254.9 163.4h0M336.4 227.9h0M204.9 125.8h0M355.2 227.1h0M430.3 263.5h0M483.4 267.9h0M282.5 184.2h0M466.3 280.0h0M155.6 76.3h0M376.7 252.2h0M137.9 68.9h0M137.2 67.8h0M322.3 218.0h0M319.2 218.4h0M143.0 72.7h0M436.3 271.6h0M391.9 263.0h0M486.4 271.5h0M505.8 275.8h0M492.0 273.7h0M456.2 276.3h0M150.9 75.1h0M155.9 75.7h0M384.9 255.5h0M502.7 274.7h0M142.1 71.8h0M208.9 131.0h0M382.9 254.0h0M397.5 243.3h0M463.1 277.2h0M346.9 227.9h0M265.6 172.4h0M429.8 264.6h0M456.8 278.1h0M163.5 78.5h0M239.8 149.0h0M320.9 219.1h0M486.1 271.4h0M151.5 76.3h0M149.6 72.6h0M382.0 250.8h0M395.9 244.0h0M364.4 246.0h0M269.4 173.4h0M269.5 173.7h0M356.4 225.4h0M194.3 93.8h0M483.8 266.6h0M269.2 175.4h0M209.4 126.6h0M512.1 279.2h0M146.2 71.0h0M322.9 218.6h0M495.1 278.4h0M179.6 86.2h0M252.3 163.3h0M496.9 277.9h0M222.1 132.2h0M327.0 220.7h0M495.4 275.3h0M470.8 283.5h0M132.2 64.6h0M178.5 87.2h0M381.1 250.6h0M197.7 101.4h0M378.6 254.9h0M144.5 72.7h0M159.2 77.0h0M147.7 73.3h0M210.9 129.8h0M233.9 143.0h0M236.5 146.0h0M167.8 80.5h0M249.7 157.6h0M216.2 133.3h0M139.2 68.9h0M191.3 93.9h0M397.9 247.3h0M445.2 274.1h0M250.6 161.9h0M165.5 81.8h0M140.8 68.6h0M327.4 225.8h0M282.8 183.6h0M126.8 63.1h0M432.0 266.2h0M330.0 219.1h0M296.3 194.3h0M148.7 72.0h0M353.1 226.8h0M230.1 138.7h0M165.7 81.5h0M480.4 269.4h0M269.1 171.4h0M180.2 87.5h0M232.1 144.6h0M226.1 136.4h0M268.9 176.1h0M360.4 241.5h0M279.9 183.3h0M272.8 176.4h0M495.7 277.7h0M382.9 253.8h0M272.4 172.9h0M222.8 131.8h0M173.9 83.7h0M500.2 275.3h0M397.3 246.0h0M195.6 97.1h0M481.7 273.2h0M244.0 149.3h0M514.9 284.4h0M363.0 241.3h0M446.3 270.0h0M223.8 142.3h0M478.6 283.5h0M337.3 225.6h0M365.4 244.6h0M434.8 268.6h0M383.0 253.9h0M365.7 245.5h0M235.2 146.8h0M462.1 277.3h0M172.2 84.2h0M386.5 257.6h0M179.4 84.9h0M152.2 75.7h0M468.2 282.8h0M224.9 135.5h0M317.8 214.3h0M146.3 71.2h0M483.2 270.5h0M439.8 269.9h0M169.1 81.5h0M187.5 94.5h0M240.1 149.5h0M403.1 247.8h0M165.1 78.2h0M244.0 151.9h0M458.3 273.2h0M276.8 179.0h0M350.7 227.5h0M213.1 131.4h0M267.3 168.8h0M445.0 272.2h0M315.3 210.2h0M372.5 250.1h0M385.1 256.1h0M417.2 250.6h0M414.1 251.7h0M470.1 281.8h0M480.4 268.9h0M164.5 80.7h0M133.8 65.8h0M287.9 190.8h0M210.4 130.0h0M203.9 125.4h0M344.2 222.8h0M398.7 245.2h0M385.9 258.2h0M325.1 219.9h0M137.1 70.1h0M257.0 162.5h0M483.2 269.4h0M430.7 266.8h0M179.4 87.4h0M421.4 255.1h0M205.5 123.7h0M272.4 176.2h0M241.6 150.3h0M406.5 249.7h0M173.3 80.6h0M419.8 253.4h0M193.1 97.8h0M209.6 127.1h0M176.6 86.9h0M314.9 213.6h0M140.0 67.3h0M259.7 164.7h0M290.2 186.8h0M355.1 224.7h0M152.2 73.5h0M224.1 132.1h0M497.9 271.2h0M142.8 74.1h0M418.2 253.7h0M337.1 223.2h0M321.7 215.5h0M166.9 81.2h0M225.7 137.5h0M330.0 224.6h0M275.6 174.4h0M328.6 221.8h0M142.7 68.0h0M389.5 258.8h0M497.5 276.6h0M478.3 283.7h0M146.6 71.4h0M257.1 164.4h0M462.3 274.4h0M192.4 92.8h0M392.6 260.5h0M252.6 160.3h0M283.8 180.4h0M209.4 131.6h0M480.6 266.8h0M155.2 76.7h0M252.2 164.7h0M335.2 224.8h0M420.4 254.2h0M366.5 245.3h0M171.6 82.9h0M315.7 213.0h0M187.5 90.6h0M125.8 66.8h0M185.3 86.9h0M428.9 268.0h0M201.9 124.9h0M445.0 269.8h0M492.8 274.0h0M149.7 70.9h0M427.0 267.7h0M248.1 159.2h0M511.2 285.8h0M385.6 253.7h0M242.4 152.8h0M225.0 132.4h0M447.0 272.8h0M351.9 228.0h0M229.9 139.7h0M315.9 213.9h0M262.6 166.9h0M316.4 214.9h0M455.6 272.6h0M270.3 175.7h0M480.1 268.4h0M514.7 283.9h0M196.1 98.5h0M331.7 224.3h0M232.0 140.0h0M436.4 268.8h0M247.5 156.2h0M319.3 215.9h0M222.6 141.2h0M134.4 63.6h0M441.0 269.9h0M394.7 246.2h0M129.7 64.7h0M189.3 92.5h0M129.8 63.8h0M165.1 79.8h0M356.8 229.7h0M393.9 257.8h0M144.1 71.7h0M292.4 193.9h0M230.0 140.7h0M434.5 263.4h0M208.6 128.8h0M133.8 69.2h0M497.0 270.1h0M436.9 265.3h0M276.4 179.4h0M373.6 248.0h0M469.0 277.5h0M141.0 67.4h0M169.9 85.5h0M406.1 249.8h0M449.5 273.1h0M265.9 170.3h0M160.8 79.9h0M140.4 68.8h0M176.7 82.1h0M485.0 270.8h0M370.1 246.5h0M489.7 274.0h0M365.3 244.1h0M235.4 147.7h0M252.2 159.0h0M448.4 271.3h0M395.6 247.6h0M339.0 226.3h0M184.5 88.1h0M217.9 133.6h0M507.2 279.3h0M124.9 64.8h0M199.7 123.7h0M270.0 173.4h0M378.4 253.1h0M402.9 247.6h0M332.1 221.3h0M133.6 66.5h0M289.4 193.8h0M356.8 226.6h0M454.0 278.5h0M203.2 123.6h0M158.9 75.7h0M369.2 247.7h0"/>
<path class="d" stroke="#7f7f7f" d="M327.9 222.7h0M421.5 254.3h0M205.1 121.7h0M480.7 268.6h0M387.3 256.9h0M248.7 155.9h0M474.7 285.3h0M484.8 273.5h0M273.4 177.8h0M126.1 64.5h0M344.5 223.5h0M473.6 284.5h0M439.5 274.3h0M229.2 141.8h0M492.2 272.6h0M495.3 271.7h0M223.7 136.9h0M466.9 280.9h0M273.5 172.7h0M489.0 272.5h0M277.7 178.7h0M130.9 64.6h0M447.6 272.4h0M147.9 75.9h0M410.0 252.8h0M141.7 71.2h0M400.5 246.1h0M440.6 266.2h0M322.4 219.7h0M417.5 251.3h0M388.8 258.0h0M280.9 184.2h0M243.9 151.0h0M205.2 124.2h0M401.9 249.9h0M210.0 127.9h0M236.3 145.6h0M179.6 86.8h0M425.3 268.3h0M292.0 188.9h0M235.2 144.7h0M153.8 76.1h0M331.2 225.0h0M182.2 85.6h0M444.2 270.9h0M387.1 260.0h0M464.9 277.5h0M129.5 64.7h0M432.6 263.9h0M387.7 256.3h0M331.3 225.8h0M461.9 279.0h0M366.1 244.2h0M499.0 279.0h0M509.4 278.5h0M418.7 252.5h0M268.9 169.8h0M139.6 69.2h0M390.8 260.0h0M322.1 220.9h0M200.3 117.9h0M463.2 279.6h0M197.2 102.3h0M497.6 266.3h0M266.2 167.7h0M175.9 85.1h0M424.6 265.4h0M341.4 224.7h0M203.2 124.8h0M186.6 90.6h0M371.1 248.5h0M362.4 240.4h0M509.6 276.6h0M367.5 248.0h0M260.7 166.8h0M277.6 179.8h0M174.0 84.2h0M295.7 193.1h0M380.3 250.5h0M505.9 278.5h0M205.6 122.8h0M247.2 158.8h0M426.2 265.2h0M191.0 90.9h0M262.7 165.2h0M225.5 141.1h0M262.9 167.8h0M223.0 134.9h0M472.7 280.2h0M353.4 225.6h0M510.8 284.8h0M346.8 226.9h0M435.1 268.5h0M420.6 251.5h0M195.7 98.0h0M485.4 270.5h0M435.5 269.9h0M341.8 222.7h0M511.4 285.6h0M316.5 216.4h0M265.0 170.0h0M283.3 185.1h0M494.7 273.7h0M261.2 166.7h0M413.4 251.8h0M511.0 277.7h0M361.0 241.0h0M135.9 70.7h0M222.0 131.8h0M200.6 122.7h0M457.0 277.0h0M410.1 250.1h0M183.0 88.9h0M493.0 276.3h0M456.1 273.2h0M469.4 279.3h0M398.4 242.7h0M506.1 277.7h0M141.7 73.0h0M203.6 122.1h0M369.6 248.5h0M251.3 159.5h0M186.1 89.9h0M239.9 149.1h0M131.8 60.5h0M390.7 258.0h0M363.1 241.7h0M204.7 125.7h0M493.0 273.9h0M149.8 73.1h0M213.4 128.4h0M356.0 223.2h0M279.3 185.0h0M341.4 227.8h0M197.2 103.9h0M125.0 64.5h0M407.3 251.8h0M202.6 119.2h0M292.3 188.5h0M271.8 172.3h0M268.9 168.3h0M394.8 247.3h0M207.5 128.5h0M392.7 247.7h0M430.8 264.9h0M508.8 277.5h0M417.9 248.0h0M135.2 66.2h0M440.9 269.8h0M465.6 277.5h0M218.6 133.2h0M149.9 74.7h0M181.4 86.5h0M198.1 117.8h0M228.5 139.5h0M493.9 275.8h0M443.0 271.9h0M169.0 84.4h0M395.5 246.0h0M279.0 180.6h0M335.9 225.5h0M361.3 243.1h0M178.1 86.0h0M170.3 86.1h0M182.5 87.8h0M158.4 75.6h0M323.7 221.7h0M478.6 285.5h0M131.0 67.6h0M400.9 248.1h0M394.4 244.9h0M286.3 184.5h0M237.7 148.1h0M157.2 80.2h0M335.3 222.1h0M351.1 226.9h0M201.0 118.4h0M295.0 190.8h0M469.4 282.5h0M407.2 248.9h0M457.5 273.8h0M237.1 147.2h0M277.7 182.6h0M127.3 62.2h0M230.3 140.2h0M392.1 258.9h0M357.7 224.3h0M340.2 224.0h0M153.3 75.4h0M491.3 272.7h0M237.0 144.7h0M144.8 72.6h0M219.9 137.0h0M321.3 219.8h0M172.1 85.1h0M185.3 93.1h0M399.4 250.4h0M219.0 136.9h0M440.3 270.1h0M387.6 255.2h0M243.6 152.6h0M497.1 270.8h0M199.5 119.0h0M366.5 248.8h0M425.3 264.5h0M393.4 247.8h0M510.7 283.3h0M198.8 103.6h0M404.7 249.6h0M372.0 247.6h0M156.4 76.9h0M334.8 225.4h0M339.9 224.8h0M216.5 133.2h0M431.9 267.4h0M226.3 134.6h0M381.5 253.4h0M284.3 188.7h0M484.7 273.0h0M385.8 256.1h0M363.6 239.6h0M424.6 260.7h0M153.5 72.6h0M175.8 83.9h0M266.6 171.9h0M420.2 252.4h0M143.3 68.8h0M421.0 251.6h0M375.6 249.9h0M351.9 228.4h0M271.0 175.9h0M133.3 67.5h0M288.5 193.8h0M355.6 224.7h0M429.3 268.5h0M314.4 211.3h0M426.7 264.6h0M415.7 252.3h0M228.8 141.3h0M198.8 103.9h0M346.4 226.0h0M498.6 272.8h0M423.6 265.6h0M170.5 81.1h0M450.4 273.6h0M186.4 93.5h0M253.7 158.8h0M469.8 277.8h0M236.4 149.5h0M439.2 272.5h0M331.6 221.4h0M316.7 214.5h0M472.5 279.1h0M400.9 251.2h0M263.1 169.1h0M460.1 274.1h0M179.3 88.0h0M256.4 164.3h0M161.6 79.2h0M223.4 141.4h0M271.9 175.2h0M412.5 251.2h0M409.5 251.0h0M343.1 226.5h0M398.4 243.9h0M224.1 133.8h0M189.3 91.6h0M245.0 152.2h0M162.5 80.3h0M189.4 91.5h0M351.1 227.7h0M257.4 161.5h0M139.1 66.6h0M405.5 248.9h0M223.8 137.0h0M262.7 169.3h0M253.9 159.7h0M136.4 67.5h0M155.4 78.7h0M350.3 225.9h0M148.7 73.1h0M485.9 269.1h0M398.4 247.2h0M175.5 86.8h0M513.4 286.9h0M202.5 123.6h0M136.4 64.3h0M356.3 229.4h0M126.2 65.9h0M279.2 180.3h0M212.3 132.0h0M272.3 173.3h0M455.1 272.3h0M170.7 85.3h0M400.4 251.0h0M281.7 183.1h0M234.3 140.4h0M469.6 276.8h0M479.6 283.6h0M353.5 224.7h0M191.1 89.0h0M441.7 270.4h0M125.2 66.7h0M246.5 153.2h0M450.3 279.0h0M425.6 262.9h0M135.5 67.0h0M494.6 274.1h0M419.3 252.5h0M338.1 224.3h0M385.9 259.1h0M187.4 91.3h0M217.7 132.9h0M154.1 73.6h0M418.1 252.0h0M502.0 274.6h0M297.1 195.4h0M457.6 274.4h0M246.5 155.3h0M438.4 269.2h0M233.6 143.9h0M444.2 270.8h0M225.2 133.5h0M317.3 219.6h0M242.9 151.5h0M455.1 273.3h0M358.6 230.8h0M416.6 253.3h0M316.0 217.6h0M477.0 286.9h0M498.5 279.6h0M477.4 285.3h0M366.4 242.7h0M331.0 229.2h0M505.4 275.9h0M129.3 62.8h0M142.1 74.1h0M172.3 82.8h0M126.8 67.7h0M161.7 79.0h0M264.1 167.0h0M174.1 85.8h0M174.4 84.7h0M314.1 213.6h0M186.1 93.1h0M420.7 254.5h0M476.0 281.1h0M245.1 156.1h0M167.8 80.4h0M212.7 130.6h0M132.4 64.7h0M217.3 134.8h0M156.8 76.5h0M239.5 147.2h0M350.8 226.1h0M226.9 138.3h0M380.1 252.8h0M334.9 222.7h0M413.2 251.2h0M259.1 161.7h0M358.3 228.4h0M231.7 142.2h0M207.8 126.8h0M474.5 283.9h0M436.9 270.0h0M149.2 76.6h0M234.2 148.2h0M415.8 253.5h0M439.2 268.4h0M184.2 89.2h0M363.5 242.0h0M235.9 149.3h0M214.2 133.9h0M255.3 159.1h0M433.4 266.3h0M255.5 160.0h0M402.5 253.2h0M398.3 256.3h0M396.7 245.6h0M428.0 264.1h0M179.9 87.4h0M467.2 279.2h0M378.1 249.5h0M385.4 260.4h0M175.8 85.9h0M178.5 86.0h0M347.0 225.8h0M473.2 281.8h0M349.2 224.4h0M506.4 273.8h0M222.7 140.4h0M198.6 102.7h0M463.6 278.6h0M135.1 69.4h0M364.7 243.2h0M398.1 245.9h0M458.4 275.2h0M182.6 87.9h0M384.9 258.3h0M276.1 178.5h0M471.0 279.2h0M358.2 226.9h0M226.9 139.0h0M415.5 253.1h0M431.1 266.7h0M418.0 253.9h0M160.3 78.6h0M411.8 253.0h0M382.2 250.2h0M174.0 85.1h0M451.0 271.8h0M426.6 268.0h0M153.8 74.5h0M418.2 252.5h0M174.7 86.0h0M260.3 164.2h0M223.0 139.7h0M324.4 222.2h0M318.5 215.5h0M152.1 75.3h0M345.8 223.2h0M498.3 276.7h0M232.6 139.7h0M392.9 245.2h0M334.4 222.1h0M431.9 264.0h0M424.4 265.4h0M128.9 63.4h0M321.9 218.8h0M489.9 274.0h0M206.2 124.7h0M261.8 167.1h0M451.0 271.9h0M406.4 250.0h0M501.1 271.0h0M212.2 132.5h0M170.3 82.2h0M420.4 254.2h0M348.1 229.5h0M185.8 91.0h0M352.9 228.1h0M209.7 128.9h0M474.8 280.8h0M503.2 274.2h0M125.5 66.8h0M167.8 82.5h0M385.3 253.4h0M441.5 268.0h0M382.6 255.1h0M347.4 225.9h0M427.5 264.2h0M406.7 249.9h0M338.6 226.5h0M239.9 149.4h0M509.8 276.4h0M344.0 228.3h0M230.4 141.9h0M139.6 71.1h0M393.6 247.3h0M232.7 143.8h0M226.1 134.8h0M404.5 249.0h0M194.4 97.6h0M208.1 127.0h0M334.1 224.7h0M415.1 251.3h0M194.2 97.3h0M156.7 78.1h0M127.9 65.1h0M238.7 148.5h0M356.7 228.4h0M130.5 65.2h0M357.0 230.7h0M318.0 216.0h0M374.1 250.7h0M335.6 223.2h0M495.8 275.6h0M126.9 65.2h0M508.6 282.0h0M267.5 170.4h0M279.0 184.1h0M261.9 167.6h0M242.8 150.7h0M447.6 273.8h0M425.3 265.0h0M228.2 139.7h0M417.6 251.4h0M318.9 214.7h0M508.0 278.9h0M420.1 253.0h0M226.2 132.6h0M373.1 248.7h0M264.4 166.6h0M348.9 225.9h0M394.4 243.7h0M264.0 170.3h0M314.4 216.1h0M404.6 248.4h0M330.9 225.3h0M243.7 151.7h0M132.9 67.6h0M471.7 279.6h0M159.8 79.6h0M278.3 181.7h0M133.1 64.2h0M322.6 220.6h0M133.2 63.0h0M350.5 228.3h0M440.8 270.9h0M496.9 275.4h0M196.9 103.6h0M190.2 90.6h0M393.4 243.6h0M277.0 177.8h0M268.1 172.3h0M360.6 240.7h0M173.5 85.6h0M515.6 282.9h0M376.7 253.2h0M171.3 81.7h0M168.5 79.5h0M171.0 82.0h0M405.0 247.2h0M392.0 261.3h0M221.4 139.7h0M331.4 223.4h0M143.2 66.4h0M485.6 270.3h0M165.5 82.8h0M318.8 215.1h0M216.6 134.9h0M212.7 130.0h0M419.8 254.7h0M351.8 225.4h0M240.2 149.8h0M500.6 271.0h0M507.5 279.6h0M385.1 257.9h0M418.6 257.6h0M219.2 136.4h0M160.7 76.5h0M455.6 270.1h0M184.1 87.6h0M343.8 227.8h0M361.1 242.4h0M478.4 287.0h0M324.7 221.6h0M499.9 274.3h0M462.0 276.2h0M513.0 282.6h0M136.6 65.0h0M515.8 284.9h0M397.3 246.8h0M211.9 130.7h0M256.2 162.2h0M432.8 265.7h0M211.4 134.8h0M396.6 244.6h0M380.2 249.8h0M327.6 222.0h0M229.3 145.1h0M501.4 270.1h0M399.7 247.2h0M203.4 124.1h0M487.0 269.4h0M457.3 276.3h0M381.9 255.0h0M470.9 282.4h0M220.3 138.6h0M451.5 272.3h0M244.9 153.9h0M246.9 157.3h0M247.6 160.3h0M376.4 252.3h0M508.8 277.4h0M454.0 275.1h0M150.2 70.4h0M387.3 259.3h0M271.8 173.0h0M187.0 88.3h0M481.3 267.7h0M243.5 154.5h0M486.7 270.5h0M254.8 162.8h0M170.8 83.5h0M428.0 265.3h0M376.7 247.9h0M374.7 249.6h0M507.6 278.9h0M430.4 271.3h0M247.0 155.7h0M363.1 242.5h0M325.3 222.9h0M461.4 277.8h0M447.3 271.0h0M458.7 277.7h0M206.9 125.6h0M231.5 141.7h0M485.1 270.9h0M149.1 78.2h0M218.9 134.8h0M481.5 267.4h0M185.4 91.8h0M497.3 271.0h0M433.5 265.3h0M199.6 119.1h0M272.0 173.2h0M199.1 118.2h0M362.6 243.0h0M424.7 263.4h0M510.0 280.7h0M198.1 119.8h0M280.0 183.6h0M339.9 221.6h0M289.2 186.5h0M230.7 144.6h0M147.6 74.2h0M353.8 225.8h0M231.2 147.5h0M393.5 244.9h0M239.7 148.9h0M419.5 249.8h0M478.0 283.9h0M465.9 277.4h0M409.4 250.4h0M498.7 276.0h0M125.4 65.1h0M125.8 68.6h0M449.3 272.3h0M194.0 97.4h0M467.4 277.6h0M158.5 78.2h0M324.3 219.3h0M124.7 65.4h0M463.3 274.0h0M201.6 123.3h0M330.5 221.7h0M440.8 269.5h0M245.3 151.7h0M233.2 144.0h0M449.5 269.9h0M171.9 84.7h0M132.7 67.9h0M273.2 175.0h0M146.7 75.1h0M214.5 130.9h0M263.6 166.8h0M214.9 130.9h0M131.1 66.4h0M264.9 169.8h0M480.6 264.5h0M403.5 247.0h0M424.8 264.8h0M138.0 66.7h0M413.6 248.1h0M481.7 267.3h0M252.1 159.8h0M230.1 138.7h0M385.1 254.0h0M504.7 281.2h0M453.6 272.2h0M196.6 100.2h0M500.7 275.6h0M472.3 280.0h0M319.5 217.0h0M256.1 163.0h0M160.9 81.1h0M498.4 277.6h0M236.8 145.1h0M240.6 146.6h0M397.2 248.5h0M317.7 214.0h0M342.3 223.7h0M363.5 244.0h0M490.6 271.9h0M140.4 68.1h0M177.4 85.3h0M387.1 256.9h0M510.2 281.5h0M404.8 248.2h0M250.5 159.1h0M239.9 149.2h0M164.4 79.8h0M245.2 154.7h0M195.5 99.1h0M453.3 272.7h0M405.1 248.8h0M465.2 279.1h0M193.6 97.6h0M341.2 225.3h0M495.2 276.4h0M243.9 153.6h0M389.1 259.9h0M391.5 258.3h0M173.8 81.7h0M328.7 220.1h0M214.6 132.9h0M291.7 185.7h0M138.8 69.3h0M334.1 224.2h0M442.8 269.6h0M213.5 131.8h0M208.5 125.3h0M152.9 75.5h0M394.7 245.2h0M253.2 160.9h0M362.6 242.6h0M211.7 131.8h0M212.2 130.2h0M126.7 65.0h0M199.3 124.0h0M365.8 243.7h0M211.0 130.2h0M392.7 259.5h0M376.7 251.4h0M449.0 273.8h0M175.4 86.1h0M394.8 243.6h0M179.3 87.3h0M381.8 251.5h0M136.6 68.6h0M281.0 187.2h0M411.1 251.9h0M232.1 142.5h0M510.1 278.1h0M331.6 220.5h0M469.2 281.3h0M229.0 137.8h0M212.4 133.2h0M454.6 273.0h0M460.8 275.5h0M252.7 161.4h0M160.2 78.4h0M413.4 256.6h0M485.8 272.1h0M333.5 226.1h0M195.4 99.4h0M499.0 277.4h0M339.0 224.7h0M400.2 249.5h0M261.2 167.9h0M377.4 251.2h0M230.4 145.9h0M238.9 148.1h0M150.3 76.5h0M257.5 162.3h0M475.8 285.7h0M331.0 225.2h0M418.3 251.9h0M313.8 213.3h0"/>
<path class="d" stroke="#7f7f7f" d="M448.9 269.3h0M461.8 277.9h0M357.3 227.9h0M242.3 154.1h0M203.3 119.9h0M367.1 245.3h0M190.6 95.0h0M148.9 73.4h0M502.8 279.4h0M323.3 219.3h0M154.9 75.8h0M411.6 251.0h0M388.7 258.5h0M345.7 222.6h0M394.5 245.7h0M205.8 126.1h0M483.3 273.1h0M218.4 133.9h0M124.9 59.7h0M275.2 180.1h0M496.5 274.6h0M396.1 248.2h0M511.6 284.9h0M477.1 289.0h0M408.7 246.0h0M412.7 246.1h0M170.1 79.9h0M274.2 178.2h0M176.2 85.9h0M477.4 284.5h0M213.1 130.9h0M326.7 217.2h0M276.6 177.3h0M172.3 84.1h0M263.8 165.3h0M289.1 185.7h0M428.9 271.0h0M431.2 268.3h0M512.2 282.8h0M334.5 222.6h0M175.8 87.0h0M159.6 77.1h0M149.0 71.2h0M498.3 270.1h0M368.3 248.2h0M427.4 268.1h0M380.7 254.5h0M217.5 132.3h0M138.3 67.4h0M347.2 227.3h0M397.9 240.4h0M393.4 261.8h0M218.6 137.2h0M511.2 280.9h0M492.0 276.2h0M298.0 195.4h0M323.8 219.2h0M510.6 281.5h0M333.9 221.9h0M151.4 72.7h0M185.5 91.5h0M411.2 243.8h0M342.0 224.4h0M491.1 271.3h0M357.7 229.7h0M369.5 247.6h0M472.7 280.5h0M124.3 66.6h0M326.9 217.2h0M167.2 84.4h0M515.1 283.9h0M391.5 242.1h0M168.5 83.7h0M374.6 250.2h0M160.4 77.4h0M467.0 277.5h0M493.9 276.3h0M424.5 264.5h0M330.4 224.6h0M487.9 270.8h0M254.5 161.1h0M130.0 66.9h0M350.0 226.0h0M361.5 240.5h0M390.2 254.4h0M208.1 127.3h0M226.3 135.9h0M335.2 222.6h0M512.0 280.0h0M441.8 271.9h0M189.7 89.9h0M400.8 247.9h0M257.4 162.4h0M196.0 101.1h0M142.4 70.1h0M366.0 242.8h0M222.2 139.8h0M369.1 243.6h0M349.9 227.7h0M500.7 272.8h0M193.1 97.7h0M515.5 283.5h0M173.6 82.4h0M456.2 277.6h0M234.6 144.2h0M205.2 122.2h0M394.5 240.6h0M319.1 219.2h0M186.7 87.3h0M393.9 247.9h0M239.3 152.3h0M446.2 274.5h0M185.5 90.3h0M319.4 217.4h0M243.5 150.2h0M161.2 76.5h0M193.0 95.3h0M154.7 76.4h0M369.5 247.8h0M294.5 192.6h0M389.5 260.7h0M146.7 73.8h0M264.8 166.0h0M354.7 228.6h0M313.1 212.4h0M415.2 251.3h0M261.3 167.1h0M499.7 271.0h0M396.1 243.0h0M391.5 244.5h0M212.0 132.8h0M250.0 156.2h0M449.6 269.9h0M224.3 136.6h0M165.5 78.2h0M284.7 182.2h0M273.6 176.1h0M391.7 244.4h0M469.6 280.4h0M447.4 271.5h0M451.1 272.4h0M463.0 279.6h0M167.7 80.7h0M328.8 220.1h0M125.6 65.9h0M265.0 171.3h0M229.2 138.8h0M217.2 131.1h0M374.4 250.2h0M263.2 166.6h0M503.0 273.9h0M199.0 105.3h0M171.7 87.3h0M152.6 73.5h0M471.6 283.2h0M320.6 218.7h0M502.7 272.7h0M438.3 270.1h0M203.7 122.4h0M382.7 257.2h0M510.1 281.4h0M358.1 227.2h0M227.1 136.3h0M192.6 96.8h0M420.1 254.2h0M210.8 128.8h0M206.0 122.3h0M493.4 274.5h0M170.1 81.0h0M382.2 256.0h0M476.2 284.0h0M224.6 136.0h0M333.9 224.9h0M246.1 156.1h0M261.3 166.0h0M254.2 163.4h0M486.2 272.6h0M256.3 163.5h0M391.7 258.0h0M395.3 245.6h0M179.1 87.2h0M486.2 270.5h0M492.0 273.8h0M144.9 74.1h0M169.4 81.3h0M140.2 69.9h0M234.9 147.0h0M207.3 125.4h0M471.2 280.9h0M378.8 250.7h0M244.3 152.4h0M183.4 89.7h0M126.3 69.3h0M214.6 131.3h0M152.5 73.1h0M146.7 70.9h0M353.9 226.5h0M139.4 66.5h0M488.3 270.4h0M428.5 267.6h0M142.5 69.5h0M499.6 272.3h0M268.7 168.6h0M409.2 251.0h0M461.6 277.3h0M410.6 251.0h0M453.5 276.1h0M274.6 174.8h0M146.5 73.0h0M376.7 249.8h0M370.9 246.2h0M147.7 75.4h0M488.7 273.6h0M253.0 161.9h0M142.8 70.4h0M237.6 149.3h0M443.1 270.9h0M173.7 84.4h0M337.2 223.4h0M372.3 250.8h0M325.0 223.0h0M169.2 82.2h0M272.7 177.5h0M161.8 80.3h0M223.7 140.1h0M439.7 268.1h0M501.1 271.6h0M180.0 85.7h0M235.0 146.7h0M435.7 267.2h0M279.4 184.2h0M478.0 282.3h0M466.8 278.2h0M215.1 135.1h0M426.0 262.9h0M235.5 144.8h0M213.4 132.4h0M444.9 269.8h0M497.3 280.1h0M198.1 99.5h0M171.3 81.8h0M244.2 155.3h0M196.7 102.0h0M490.4 273.2h0M161.4 78.8h0M255.4 164.5h0M514.4 279.6h0M430.8 264.1h0M408.2 251.1h0M193.7 97.7h0M231.8 138.9h0M433.1 262.6h0M208.2 125.5h0M264.2 172.2h0M423.5 261.7h0M406.5 247.6h0M244.4 154.5h0M124.7 63.6h0M371.4 246.1h0M327.7 225.3h0M405.7 248.4h0M188.1 94.5h0M179.0 89.6h0M168.9 86.0h0M271.0 176.5h0M497.9 267.7h0M245.4 156.7h0M467.9 281.7h0M209.6 131.7h0M472.8 281.4h0M414.1 255.4h0M365.1 243.7h0M325.4 224.7h0M449.9 272.6h0M253.9 159.6h0M494.3 278.2h0M444.4 267.8h0M411.3 246.3h0M269.5 173.1h0M189.7 92.4h0M380.2 253.7h0M141.1 70.7h0M198.1 119.3h0M255.2 158.3h0M271.0 173.7h0M266.8 171.1h0M131.4 64.4h0M227.5 134.3h0M160.6 78.6h0M484.5 266.9h0M316.9 214.9h0M426.6 262.6h0M272.7 179.6h0M491.2 275.3h0M232.0 140.5h0M441.5 271.5h0M428.2 263.8h0M131.2 60.5h0M457.9 279.6h0M466.9 278.5h0M344.6 227.4h0M141.0 69.8h0M180.3 84.2h0M215.8 134.3h0M442.8 271.0h0M330.0 222.8h0M483.5 272.1h0M267.5 170.7h0M381.6 251.2h0M253.8 163.8h0M152.9 72.5h0M466.1 278.7h0M276.0 176.2h0M376.2 250.2h0M503.5 277.2h0M237.9 153.0h0M315.0 211.3h0M235.3 145.1h0M484.4 268.7h0M507.0 279.2h0M171.7 82.4h0M483.0 265.7h0M159.0 76.0h0M448.0 270.9h0M505.5 277.3h0M262.0 165.1h0M238.5 142.0h0M396.8 248.3h0M371.6 244.1h0M247.9 157.1h0M202.8 124.6h0M320.9 219.5h0M127.7 66.6h0M243.0 152.8h0M371.7 243.5h0M193.0 93.8h0M321.3 218.4h0M446.6 270.8h0M284.1 179.6h0M391.3 259.3h0M174.7 84.9h0M243.9 156.8h0M326.5 222.0h0M461.1 275.4h0M493.6 270.7h0M264.8 165.2h0M320.9 220.1h0M273.4 177.1h0M194.7 96.5h0M267.1 171.6h0M396.0 240.8h0M333.5 225.8h0M502.0 276.7h0M410.8 250.4h0M126.7 64.8h0M229.4 141.4h0M258.0 158.8h0M180.7 90.1h0M446.2 267.5h0M459.4 280.6h0M393.1 244.4h0M182.2 87.2h0M252.5 161.0h0M313.8 213.0h0M503.5 274.3h0M441.6 272.4h0M154.1 76.4h0M506.2 278.2h0M160.4 76.4h0M214.0 134.6h0M357.4 233.7h0M446.6 270.6h0M163.3 79.0h0M415.3 250.1h0M393.9 262.3h0M384.0 253.9h0M441.0 270.6h0M408.9 247.4h0M439.2 267.7h0M193.1 99.1h0M148.7 73.7h0M447.2 276.1h0M475.4 282.0h0M464.9 278.4h0M420.5 255.8h0M159.1 78.6h0M476.4 283.2h0M271.4 174.0h0M135.5 62.6h0M291.5 188.4h0M135.2 69.5h0M478.9 287.2h0M346.3 226.3h0M468.2 280.2h0M155.5 71.0h0M137.8 69.4h0M191.2 89.3h0M143.3 74.5h0M227.1 136.1h0M179.4 85.5h0M362.1 240.3h0M336.1 227.3h0M367.5 244.1h0M507.6 276.1h0M240.6 150.5h0M434.1 269.8h0M395.1 244.7h0M154.3 74.9h0M282.9 184.8h0M126.4 65.3h0M206.8 123.5h0M188.9 89.6h0M257.5 163.6h0M162.0 78.7h0M247.6 158.9h0M143.4 70.6h0M343.2 222.4h0M252.0 158.0h0M420.7 247.6h0M256.4 162.5h0M496.8 275.7h0M375.5 249.9h0M167.3 80.3h0M416.0 252.3h0M184.0 89.4h0M399.3 243.2h0M234.3 146.9h0M446.2 269.5h0M163.2 79.2h0M138.5 67.3h0M194.7 95.7h0M420.0 253.0h0M394.4 247.4h0M504.7 275.4h0M334.1 223.6h0M149.6 74.0h0M295.2 192.8h0M464.4 276.7h0M454.3 272.1h0M369.1 244.9h0M254.0 160.4h0M336.9 223.9h0M470.0 282.0h0M189.2 89.3h0M229.0 139.4h0M213.1 131.5h0M254.0 162.6h0M270.5 172.7h0M436.3 271.3h0M156.7 79.4h0M243.0 151.7h0M325.9 221.1h0M435.1 267.5h0M478.8 283.2h0M277.1 183.4h0M146.4 75.4h0M391.9 258.9h0M178.4 88.0h0M208.1 126.5h0M403.3 246.0h0M333.0 222.4h0M274.9 175.4h0M497.5 268.0h0M154.5 74.0h0M183.1 91.5h0M401.6 245.8h0M365.0 246.3h0M353.6 227.0h0M231.8 142.2h0M138.5 67.2h0M472.9 280.6h0M177.9 86.4h0M144.8 68.9h0M376.3 250.6h0M480.5 266.6h0M189.4 89.8h0M347.1 228.1h0M472.2 280.8h0M434.2 266.4h0M487.2 271.8h0M340.0 228.0h0M179.1 89.7h0M348.6 225.9h0M474.6 280.4h0M198.1 100.1h0M504.0 275.6h0M267.3 174.5h0M389.5 260.1h0M384.2 255.5h0M287.1 187.5h0M392.2 261.4h0M409.2 249.4h0M482.2 267.1h0M491.4 275.5h0M394.8 248.4h0M267.5 171.5h0M481.5 269.6h0M478.5 291.1h0M191.0 90.5h0M462.2 276.1h0M229.0 140.7h0M265.1 170.4h0M392.8 259.1h0M356.1 225.4h0M402.2 245.8h0M484.6 270.8h0M154.6 72.7h0M163.8 78.7h0M225.9 132.9h0M270.9 178.5h0M396.6 246.7h0M239.6 148.6h0M450.0 274.7h0M172.9 83.7h0M369.9 246.7h0M248.7 157.4h0M132.0 65.5h0M443.5 270.9h0M395.0 243.2h0M403.6 247.5h0M276.3 179.7h0M423.8 265.0h0M492.0 271.7h0M270.2 171.9h0M197.3 101.3h0M152.3 75.3h0M509.0 279.5h0M245.3 156.1h0M344.9 225.7h0M223.0 142.0h0M465.0 281.1h0M466.7 280.4h0M222.7 141.6h0M143.8 67.3h0M447.4 271.0h0M384.4 253.9h0M194.2 97.3h0M398.8 247.6h0M439.4 265.8h0M204.0 127.0h0M514.9 284.9h0M390.6 260.3h0M406.1 250.5h0M147.9 73.6h0M144.5 68.2h0M314.7 214.7h0M278.2 182.5h0M350.0 227.5h0M249.2 153.5h0M458.4 276.7h0M154.9 74.9h0M196.1 98.5h0M472.7 283.3h0M416.1 249.7h0M189.6 95.4h0M414.9 250.9h0M414.5 249.6h0M443.3 268.2h0M476.9 287.9h0M155.7 75.8h0M416.5 253.6h0M476.3 279.6h0M148.8 76.3h0M348.8 224.2h0M400.0 246.1h0M364.9 240.8h0M400.5 248.9h0M392.0 247.7h0M274.7 175.9h0M177.5 84.8h0M177.0 86.7h0M167.5 80.2h0M363.3 245.7h0M263.6 166.5h0M457.6 279.5h0M262.5 168.3h0M171.9 85.6h0M139.4 70.6h0M165.5 81.5h0M234.1 142.5h0M496.0 279.3h0M497.1 270.2h0M150.7 77.3h0M169.9 82.9h0M380.3 250.3h0M346.3 226.3h0M449.3 271.3h0M325.2 218.8h0M447.8 274.7h0M162.8 78.2h0M256.7 163.0h0M165.3 82.2h0M341.8 222.5h0M139.4 63.3h0M333.2 222.3h0M247.0 153.6h0M239.7 150.4h0M222.7 139.1h0M322.8 216.9h0M513.8 282.2h0M399.0 245.6h0M410.2 249.0h0M241.7 152.3h0M290.8 191.1h0M148.5 78.5h0M226.1 139.2h0M248.4 160.8h0M358.0 227.9h0M367.0 241.4h0M136.9 66.6h0M173.2 79.5h0M222.5 128.7h0M322.5 218.5h0M278.1 179.0h0M424.0 262.2h0M200.1 118.4h0M138.3 67.8h0M484.2 271.4h0M327.1 221.3h0M239.7 153.5h0M201.0 120.6h0M364.1 240.3h0M465.5 279.1h0M502.2 272.0h0M486.9 265.8h0M409.0 250.4h0M459.9 276.1h0M414.5 251.2h0M188.9 91.1h0M177.7 86.3h0M404.8 249.8h0M464.6 279.0h0M233.2 146.4h0M234.8 145.4h0M485.2 269.8h0M223.7 140.8h0M133.6 61.0h0M253.4 161.4h0M242.2 152.6h0M186.4 88.8h0M360.3 239.0h0M275.4 175.2h0M328.6 223.5h0M223.4 133.7h0M150.9 71.9h0M247.9 159.9h0M248.2 155.6h0M268.1 168.0h0M225.9 134.0h0M493.5 278.1h0M135.9 64.8h0M421.5 254.0h0M181.2 85.1h0M398.4 247.9h0M323.1 217.9h0M385.3 256.8h0M129.0 65.6h0M278.2 180.3h0M402.4 247.7h0M251.3 158.2h0M425.1 263.7h0M155.3 75.3h0M128.6 63.4h0M405.5 250.8h0M190.9 94.2h0M233.5 142.1h0M497.9 271.8h0M270.3 170.3h0M334.4 218.9h0M321.0 217.4h0M349.2 228.4h0M404.9 247.3h0M238.5 148.5h0M198.2 116.7h0M345.6 229.0h0M315.2 217.0h0M391.9 236.5h0M410.0 251.3h0M370.7 248.1h0M412.0 247.2h0M467.9 275.8h0M273.7 176.6h0M188.5 91.2h0M402.2 253.8h0M326.4 223.9h0M383.8 254.4h0M508.9 283.2h0M329.5 219.7h0M182.9 92.6h0M449.9 271.8h0M142.5 71.4h0M191.5 93.5h0M437.2 267.7h0M393.2 243.1h0M284.2 184.1h0M235.1 144.0h0M463.0 280.2h0M361.8 241.0h0M382.2 252.8h0M142.5 69.0h0M280.2 182.6h0M140.7 68.6h0M220.5 136.8h0M189.5 94.2h0M319.5 214.7h0M455.6 278.0h0M425.3 267.2h0M264.7 170.9h0M433.4 269.1h0M423.2 259.4h0M267.3 169.5h0M320.6 218.0h0M286.3 189.3h0M270.5 176.2h0M501.8 273.9h0M509.3 281.1h0M466.5 275.9h0M126.7 68.0h0M188.5 91.4h0M468.3 282.9h0M320.2 216.5h0M132.0 63.9h0M489.3 272.8h0M431.5 263.6h0M392.6 245.2h0M202.3 123.2h0M232.9 144.5h0M198.3 104.3h0M435.6 264.7h0M371.1 249.4h0M218.9 135.8h0M425.3 259.3h0M489.3 272.8h0M500.5 275.5h0M451.6 272.7h0M473.8 283.5h0M364.0 243.0h0M504.6 276.1h0M352.9 227.4h0M398.4 257.2h0M138.3 65.7h0M146.7 72.5h0M168.5 77.4h0M451.7 271.6h0M339.0 225.9h0M505.8 277.2h0M157.2 74.0h0M392.0 236.6h0M213.9 133.5h0M241.0 149.8h0"/>
</g>
<rect x="102.95" y="19.65" width="433.25" height="323.00" fill="none" stroke="#1c1c1c" stroke-width="1.1"/>
<path d="M122.20 342.65v4.6M201.08 342.65v4.6M279.96 342.65v4.6M358.84 342.65v4.6M437.72 342.65v4.6M516.60 342.65v4.6M102.95 19.90h-4.6M102.95 58.19h-4.6M102.95 96.48h-4.6M102.95 134.77h-4.6M102.95 173.06h-4.6M102.95 211.35h-4.6M102.95 249.64h-4.6M102.95 287.93h-4.6M102.95 326.22h-4.6" stroke="#1c1c1c" stroke-width="1.1" fill="none"/>
<text class="tk" x="121.9" y="369.9" text-anchor="middle">0</text>
<text class="tk" x="200.8" y="369.9" text-anchor="middle">500</text>
<text class="tk" x="279.7" y="369.9" text-anchor="middle">1000</text>
<text class="tk" x="358.5" y="369.9" text-anchor="middle">1500</text>
<text class="tk" x="437.4" y="369.9" text-anchor="middle">2000</text>
<text class="tk" x="516.3" y="369.9" text-anchor="middle">2500</text>
<text class="tk" x="94.1" y="29.6" text-anchor="end">0.7</text>
<text class="tk" x="94.1" y="67.9" text-anchor="end">0.6</text>
<text class="tk" x="94.1" y="106.2" text-anchor="end">0.5</text>
<text class="tk" x="94.1" y="144.5" text-anchor="end">0.4</text>
<text class="tk" x="94.1" y="182.8" text-anchor="end">0.3</text>
<text class="tk" x="94.1" y="221.0" text-anchor="end">0.2</text>
<text class="tk" x="94.1" y="259.3" text-anchor="end">0.1</text>
<text class="tk" x="94.1" y="297.6" text-anchor="end">0.0</text>
<text class="tk" x="94.1" y="335.9" text-anchor="end">−0.1</text>
<text class="lb" x="320.6" y="398.8" text-anchor="middle" textLength="111" lengthAdjust="spacingAndGlyphs">Time/min</text>
<text class="lb" transform="translate(23.6 181.5) rotate(-90)" text-anchor="middle">Tem-Diff/℃</text>
<rect x="399.6" y="26.6" width="128.4" height="188" rx="2.5" ry="2.5" fill="#fff" fill-opacity="0.8" stroke="#ccc" stroke-opacity="0.8" stroke-width="1"/>
<circle cx="420" cy="41.8" r="3.7" fill="#1f77b4"/>
<text class="lg" x="447.2" y="46.0">Data04</text>
<circle cx="420" cy="64.8" r="3.7" fill="#ff7f0e"/>
<text class="lg" x="447.2" y="69.0">Data1</text>
<circle cx="420" cy="87.7" r="3.7" fill="#2ca02c"/>
<text class="lg" x="447.2" y="91.9">Data3600</text>
<circle cx="420" cy="110.6" r="3.7" fill="#d62728"/>
<text class="lg" x="447.2" y="114.8">Data9</text>
<circle cx="420" cy="133.6" r="3.7" fill="#9467bd"/>
<text class="lg" x="447.2" y="137.8">Data412-2</text>
<circle cx="420" cy="156.6" r="3.7" fill="#8c564b"/>
<text class="lg" x="447.2" y="160.8">Data1.2</text>
<circle cx="420" cy="179.5" r="3.7" fill="#e377c2"/>
<text class="lg" x="447.2" y="183.7">Data1.1-2</text>
<circle cx="420" cy="202.4" r="3.7" fill="#7f7f7f"/>
<text class="lg" x="447.2" y="206.6">Data9.2</text>
</svg></body></html>
